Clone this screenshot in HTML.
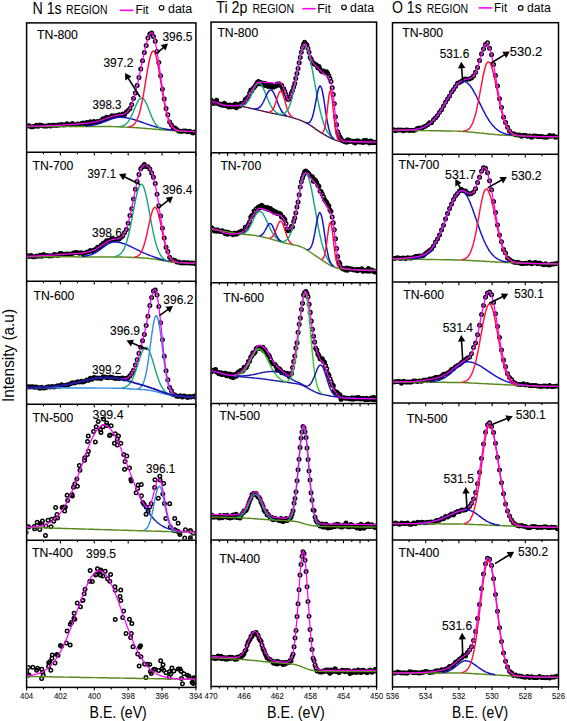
<!DOCTYPE html>
<html><head><meta charset="utf-8"><style>html,body{margin:0;padding:0;background:#fff;}body{width:567px;height:721px;overflow:hidden}svg{display:block}</style></head><body>
<svg width="567" height="721" viewBox="0 0 567 721" font-family='"Liberation Sans", sans-serif' fill="#000" stroke="none">
<style>text{stroke:#000;stroke-width:0.12px}text.ns{stroke:none}</style>
<rect width="567" height="721" fill="#fff"/>
<rect x="26.60" y="22.90" width="169.30" height="664.50" fill="none" stroke="#000" stroke-width="1.5"/>
<line x1="26.60" y1="152.30" x2="195.90" y2="152.30" stroke="#000" stroke-width="1.5"/>
<line x1="26.60" y1="281.20" x2="195.90" y2="281.20" stroke="#000" stroke-width="1.5"/>
<line x1="26.60" y1="404.30" x2="195.90" y2="404.30" stroke="#000" stroke-width="1.5"/>
<line x1="26.60" y1="540.20" x2="195.90" y2="540.20" stroke="#000" stroke-width="1.5"/>
<path d="M26.60,152.30v3.2M43.53,152.30v2.0M60.46,152.30v3.2M77.39,152.30v2.0M94.32,152.30v3.2M111.25,152.30v2.0M128.18,152.30v3.2M145.11,152.30v2.0M162.04,152.30v3.2M178.97,152.30v2.0M195.90,152.30v3.2M26.60,281.20v3.2M43.53,281.20v2.0M60.46,281.20v3.2M77.39,281.20v2.0M94.32,281.20v3.2M111.25,281.20v2.0M128.18,281.20v3.2M145.11,281.20v2.0M162.04,281.20v3.2M178.97,281.20v2.0M195.90,281.20v3.2M26.60,404.30v3.2M43.53,404.30v2.0M60.46,404.30v3.2M77.39,404.30v2.0M94.32,404.30v3.2M111.25,404.30v2.0M128.18,404.30v3.2M145.11,404.30v2.0M162.04,404.30v3.2M178.97,404.30v2.0M195.90,404.30v3.2M26.60,540.20v3.2M43.53,540.20v2.0M60.46,540.20v3.2M77.39,540.20v2.0M94.32,540.20v3.2M111.25,540.20v2.0M128.18,540.20v3.2M145.11,540.20v2.0M162.04,540.20v3.2M178.97,540.20v2.0M195.90,540.20v3.2M26.60,687.40v3.2M43.53,687.40v2.0M60.46,687.40v3.2M77.39,687.40v2.0M94.32,687.40v3.2M111.25,687.40v2.0M128.18,687.40v3.2M145.11,687.40v2.0M162.04,687.40v3.2M178.97,687.40v2.0M195.90,687.40v3.2" stroke="#000" stroke-width="1.1" fill="none"/>
<text x="26.6" y="699.3" font-size="9.6" text-anchor="middle" textLength="13.2" lengthAdjust="spacingAndGlyphs" fill="#111" style="stroke-width:0.08px">404</text>
<text x="60.5" y="699.3" font-size="9.6" text-anchor="middle" textLength="13.2" lengthAdjust="spacingAndGlyphs" fill="#111" style="stroke-width:0.08px">402</text>
<text x="94.3" y="699.3" font-size="9.6" text-anchor="middle" textLength="13.2" lengthAdjust="spacingAndGlyphs" fill="#111" style="stroke-width:0.08px">400</text>
<text x="128.2" y="699.3" font-size="9.6" text-anchor="middle" textLength="13.2" lengthAdjust="spacingAndGlyphs" fill="#111" style="stroke-width:0.08px">398</text>
<text x="162.0" y="699.3" font-size="9.6" text-anchor="middle" textLength="13.2" lengthAdjust="spacingAndGlyphs" fill="#111" style="stroke-width:0.08px">396</text>
<text x="195.9" y="699.3" font-size="9.6" text-anchor="middle" textLength="13.2" lengthAdjust="spacingAndGlyphs" fill="#111" style="stroke-width:0.08px">394</text>
<rect x="211.05" y="22.10" width="165.55" height="664.40" fill="none" stroke="#000" stroke-width="1.5"/>
<line x1="211.05" y1="152.70" x2="376.60" y2="152.70" stroke="#000" stroke-width="1.5"/>
<line x1="211.05" y1="282.70" x2="376.60" y2="282.70" stroke="#000" stroke-width="1.5"/>
<line x1="211.05" y1="403.40" x2="376.60" y2="403.40" stroke="#000" stroke-width="1.5"/>
<line x1="211.05" y1="540.00" x2="376.60" y2="540.00" stroke="#000" stroke-width="1.5"/>
<path d="M211.05,152.70v3.2M219.33,152.70v2.0M227.61,152.70v3.2M235.88,152.70v2.0M244.16,152.70v3.2M252.44,152.70v2.0M260.72,152.70v3.2M268.99,152.70v2.0M277.27,152.70v3.2M285.55,152.70v2.0M293.83,152.70v3.2M302.10,152.70v2.0M310.38,152.70v3.2M318.66,152.70v2.0M326.94,152.70v3.2M335.21,152.70v2.0M343.49,152.70v3.2M351.77,152.70v2.0M360.05,152.70v3.2M368.32,152.70v2.0M376.60,152.70v3.2M211.05,282.70v3.2M219.33,282.70v2.0M227.61,282.70v3.2M235.88,282.70v2.0M244.16,282.70v3.2M252.44,282.70v2.0M260.72,282.70v3.2M268.99,282.70v2.0M277.27,282.70v3.2M285.55,282.70v2.0M293.83,282.70v3.2M302.10,282.70v2.0M310.38,282.70v3.2M318.66,282.70v2.0M326.94,282.70v3.2M335.21,282.70v2.0M343.49,282.70v3.2M351.77,282.70v2.0M360.05,282.70v3.2M368.32,282.70v2.0M376.60,282.70v3.2M211.05,403.40v3.2M219.33,403.40v2.0M227.61,403.40v3.2M235.88,403.40v2.0M244.16,403.40v3.2M252.44,403.40v2.0M260.72,403.40v3.2M268.99,403.40v2.0M277.27,403.40v3.2M285.55,403.40v2.0M293.83,403.40v3.2M302.10,403.40v2.0M310.38,403.40v3.2M318.66,403.40v2.0M326.94,403.40v3.2M335.21,403.40v2.0M343.49,403.40v3.2M351.77,403.40v2.0M360.05,403.40v3.2M368.32,403.40v2.0M376.60,403.40v3.2M211.05,540.00v3.2M219.33,540.00v2.0M227.61,540.00v3.2M235.88,540.00v2.0M244.16,540.00v3.2M252.44,540.00v2.0M260.72,540.00v3.2M268.99,540.00v2.0M277.27,540.00v3.2M285.55,540.00v2.0M293.83,540.00v3.2M302.10,540.00v2.0M310.38,540.00v3.2M318.66,540.00v2.0M326.94,540.00v3.2M335.21,540.00v2.0M343.49,540.00v3.2M351.77,540.00v2.0M360.05,540.00v3.2M368.32,540.00v2.0M376.60,540.00v3.2M211.05,686.50v3.2M219.33,686.50v2.0M227.61,686.50v3.2M235.88,686.50v2.0M244.16,686.50v3.2M252.44,686.50v2.0M260.72,686.50v3.2M268.99,686.50v2.0M277.27,686.50v3.2M285.55,686.50v2.0M293.83,686.50v3.2M302.10,686.50v2.0M310.38,686.50v3.2M318.66,686.50v2.0M326.94,686.50v3.2M335.21,686.50v2.0M343.49,686.50v3.2M351.77,686.50v2.0M360.05,686.50v3.2M368.32,686.50v2.0M376.60,686.50v3.2" stroke="#000" stroke-width="1.1" fill="none"/>
<text x="211.1" y="699.3" font-size="9.6" text-anchor="middle" textLength="13.2" lengthAdjust="spacingAndGlyphs" fill="#111" style="stroke-width:0.08px">470</text>
<text x="244.2" y="699.3" font-size="9.6" text-anchor="middle" textLength="13.2" lengthAdjust="spacingAndGlyphs" fill="#111" style="stroke-width:0.08px">466</text>
<text x="277.3" y="699.3" font-size="9.6" text-anchor="middle" textLength="13.2" lengthAdjust="spacingAndGlyphs" fill="#111" style="stroke-width:0.08px">462</text>
<text x="310.4" y="699.3" font-size="9.6" text-anchor="middle" textLength="13.2" lengthAdjust="spacingAndGlyphs" fill="#111" style="stroke-width:0.08px">458</text>
<text x="343.5" y="699.3" font-size="9.6" text-anchor="middle" textLength="13.2" lengthAdjust="spacingAndGlyphs" fill="#111" style="stroke-width:0.08px">454</text>
<text x="376.6" y="699.3" font-size="9.6" text-anchor="middle" textLength="13.2" lengthAdjust="spacingAndGlyphs" fill="#111" style="stroke-width:0.08px">450</text>
<rect x="392.50" y="22.70" width="166.00" height="664.20" fill="none" stroke="#000" stroke-width="1.5"/>
<line x1="392.50" y1="154.30" x2="558.50" y2="154.30" stroke="#000" stroke-width="1.5"/>
<line x1="392.50" y1="282.00" x2="558.50" y2="282.00" stroke="#000" stroke-width="1.5"/>
<line x1="392.50" y1="403.00" x2="558.50" y2="403.00" stroke="#000" stroke-width="1.5"/>
<line x1="392.50" y1="540.00" x2="558.50" y2="540.00" stroke="#000" stroke-width="1.5"/>
<path d="M392.50,154.30v3.2M409.10,154.30v2.0M425.70,154.30v3.2M442.30,154.30v2.0M458.90,154.30v3.2M475.50,154.30v2.0M492.10,154.30v3.2M508.70,154.30v2.0M525.30,154.30v3.2M541.90,154.30v2.0M558.50,154.30v3.2M392.50,282.00v3.2M409.10,282.00v2.0M425.70,282.00v3.2M442.30,282.00v2.0M458.90,282.00v3.2M475.50,282.00v2.0M492.10,282.00v3.2M508.70,282.00v2.0M525.30,282.00v3.2M541.90,282.00v2.0M558.50,282.00v3.2M392.50,403.00v3.2M409.10,403.00v2.0M425.70,403.00v3.2M442.30,403.00v2.0M458.90,403.00v3.2M475.50,403.00v2.0M492.10,403.00v3.2M508.70,403.00v2.0M525.30,403.00v3.2M541.90,403.00v2.0M558.50,403.00v3.2M392.50,540.00v3.2M409.10,540.00v2.0M425.70,540.00v3.2M442.30,540.00v2.0M458.90,540.00v3.2M475.50,540.00v2.0M492.10,540.00v3.2M508.70,540.00v2.0M525.30,540.00v3.2M541.90,540.00v2.0M558.50,540.00v3.2M392.50,686.90v3.2M409.10,686.90v2.0M425.70,686.90v3.2M442.30,686.90v2.0M458.90,686.90v3.2M475.50,686.90v2.0M492.10,686.90v3.2M508.70,686.90v2.0M525.30,686.90v3.2M541.90,686.90v2.0M558.50,686.90v3.2" stroke="#000" stroke-width="1.1" fill="none"/>
<text x="392.5" y="699.3" font-size="9.6" text-anchor="middle" textLength="13.2" lengthAdjust="spacingAndGlyphs" fill="#111" style="stroke-width:0.08px">536</text>
<text x="425.7" y="699.3" font-size="9.6" text-anchor="middle" textLength="13.2" lengthAdjust="spacingAndGlyphs" fill="#111" style="stroke-width:0.08px">534</text>
<text x="458.9" y="699.3" font-size="9.6" text-anchor="middle" textLength="13.2" lengthAdjust="spacingAndGlyphs" fill="#111" style="stroke-width:0.08px">532</text>
<text x="492.1" y="699.3" font-size="9.6" text-anchor="middle" textLength="13.2" lengthAdjust="spacingAndGlyphs" fill="#111" style="stroke-width:0.08px">530</text>
<text x="525.3" y="699.3" font-size="9.6" text-anchor="middle" textLength="13.2" lengthAdjust="spacingAndGlyphs" fill="#111" style="stroke-width:0.08px">528</text>
<text x="558.5" y="699.3" font-size="9.6" text-anchor="middle" textLength="13.2" lengthAdjust="spacingAndGlyphs" fill="#111" style="stroke-width:0.08px">526</text>
<text x="32.4" y="13.8" font-size="16" text-anchor="start" textLength="29.3" lengthAdjust="spacingAndGlyphs" class="ns">N 1s</text>
<text x="66.1" y="13.8" font-size="12" text-anchor="start" textLength="41.4" lengthAdjust="spacingAndGlyphs" class="ns">REGION</text>
<line x1="119.8" y1="10.3" x2="133.5" y2="10.3" stroke="#f0f" stroke-width="1.6"/>
<text x="135.4" y="13.6" font-size="12" text-anchor="start" textLength="13.2" lengthAdjust="spacingAndGlyphs" class="ns">Fit</text>
<circle cx="161.6" cy="7.8" r="2.3" fill="none" stroke="#000" stroke-width="1.15"/>
<text x="168.0" y="12.6" font-size="12" text-anchor="start" textLength="24.2" lengthAdjust="spacingAndGlyphs" class="ns">data</text>
<text x="216.3" y="12.7" font-size="16" text-anchor="start" textLength="31.0" lengthAdjust="spacingAndGlyphs" class="ns">Ti 2p</text>
<text x="252.5" y="12.7" font-size="12" text-anchor="start" textLength="41.6" lengthAdjust="spacingAndGlyphs" class="ns">REGION</text>
<line x1="302.4" y1="8.7" x2="315.7" y2="8.7" stroke="#f0f" stroke-width="1.6"/>
<text x="317.3" y="12.8" font-size="12" text-anchor="start" textLength="13.7" lengthAdjust="spacingAndGlyphs" class="ns">Fit</text>
<circle cx="344.0" cy="7.3" r="2.3" fill="none" stroke="#000" stroke-width="1.15"/>
<text x="350.0" y="12.0" font-size="12" text-anchor="start" textLength="24.1" lengthAdjust="spacingAndGlyphs" class="ns">data</text>
<text x="391.9" y="12.7" font-size="16" text-anchor="start" textLength="29.8" lengthAdjust="spacingAndGlyphs" class="ns">O 1s</text>
<text x="426.8" y="12.7" font-size="12" text-anchor="start" textLength="41.3" lengthAdjust="spacingAndGlyphs" class="ns">REGION</text>
<line x1="478.6" y1="7.9" x2="492.1" y2="7.9" stroke="#f0f" stroke-width="1.6"/>
<text x="494.1" y="12.4" font-size="12" text-anchor="start" textLength="13.1" lengthAdjust="spacingAndGlyphs" class="ns">Fit</text>
<circle cx="520.7" cy="7.9" r="2.3" fill="none" stroke="#000" stroke-width="1.15"/>
<text x="527.0" y="12.4" font-size="12" text-anchor="start" textLength="23.8" lengthAdjust="spacingAndGlyphs" class="ns">data</text>
<text transform="translate(13.6,402) rotate(-90)" x="0" y="0" font-size="16" textLength="93" lengthAdjust="spacingAndGlyphs" class="ns">Intensity (a.u)</text>
<text x="89.6" y="717.8" font-size="16" text-anchor="start" textLength="57.2" lengthAdjust="spacingAndGlyphs" style="stroke-width:0.06px">B.E. (eV)</text>
<text x="267.0" y="717.8" font-size="16" text-anchor="start" textLength="57.7" lengthAdjust="spacingAndGlyphs" style="stroke-width:0.06px">B.E. (eV)</text>
<text x="451.9" y="717.8" font-size="16" text-anchor="start" textLength="56.1" lengthAdjust="spacingAndGlyphs" style="stroke-width:0.06px">B.E. (eV)</text>
<text x="37.1" y="38.9" font-size="12" text-anchor="start" textLength="40.8" lengthAdjust="spacingAndGlyphs">TN-800</text>
<text x="32.6" y="169.5" font-size="12" text-anchor="start" textLength="40.8" lengthAdjust="spacingAndGlyphs">TN-700</text>
<text x="33.5" y="300.0" font-size="12" text-anchor="start" textLength="40.8" lengthAdjust="spacingAndGlyphs">TN-600</text>
<text x="32.6" y="422.4" font-size="12" text-anchor="start" textLength="40.8" lengthAdjust="spacingAndGlyphs">TN-500</text>
<text x="32.0" y="557.4" font-size="12" text-anchor="start" textLength="40.8" lengthAdjust="spacingAndGlyphs">TN-400</text>
<text x="217.4" y="36.6" font-size="12" text-anchor="start" textLength="40.8" lengthAdjust="spacingAndGlyphs">TN-800</text>
<text x="220.4" y="170.0" font-size="12" text-anchor="start" textLength="40.8" lengthAdjust="spacingAndGlyphs">TN-700</text>
<text x="223.3" y="302.0" font-size="12" text-anchor="start" textLength="40.8" lengthAdjust="spacingAndGlyphs">TN-600</text>
<text x="219.2" y="420.1" font-size="12" text-anchor="start" textLength="40.8" lengthAdjust="spacingAndGlyphs">TN-500</text>
<text x="219.2" y="562.8" font-size="12" text-anchor="start" textLength="40.8" lengthAdjust="spacingAndGlyphs">TN-400</text>
<text x="402.3" y="36.7" font-size="12" text-anchor="start" textLength="40.8" lengthAdjust="spacingAndGlyphs">TN-800</text>
<text x="398.5" y="168.7" font-size="12" text-anchor="start" textLength="40.8" lengthAdjust="spacingAndGlyphs">TN-700</text>
<text x="403.2" y="299.1" font-size="12" text-anchor="start" textLength="40.8" lengthAdjust="spacingAndGlyphs">TN-600</text>
<text x="406.7" y="423.0" font-size="12" text-anchor="start" textLength="40.8" lengthAdjust="spacingAndGlyphs">TN-500</text>
<text x="398.5" y="557.1" font-size="12" text-anchor="start" textLength="40.8" lengthAdjust="spacingAndGlyphs">TN-400</text>
<text x="162.4" y="40.6" font-size="12.5" text-anchor="start" textLength="30.0" lengthAdjust="spacingAndGlyphs">396.5</text>
<text x="103.4" y="67.0" font-size="12.5" text-anchor="start" textLength="29.9" lengthAdjust="spacingAndGlyphs">397.2</text>
<text x="92.6" y="109.0" font-size="12.5" text-anchor="start" textLength="28.8" lengthAdjust="spacingAndGlyphs">398.3</text>
<text x="87.5" y="177.6" font-size="12.5" text-anchor="start" textLength="28.5" lengthAdjust="spacingAndGlyphs">397.1</text>
<text x="162.4" y="193.5" font-size="12.5" text-anchor="start" textLength="30.0" lengthAdjust="spacingAndGlyphs">396.4</text>
<text x="92.0" y="237.0" font-size="12.5" text-anchor="start" textLength="30.0" lengthAdjust="spacingAndGlyphs">398.6</text>
<text x="163.3" y="303.6" font-size="12.5" text-anchor="start" textLength="30.0" lengthAdjust="spacingAndGlyphs">396.2</text>
<text x="110.0" y="335.4" font-size="12.5" text-anchor="start" textLength="30.0" lengthAdjust="spacingAndGlyphs">396.9</text>
<text x="92.0" y="374.4" font-size="12.5" text-anchor="start" textLength="29.4" lengthAdjust="spacingAndGlyphs">399.2</text>
<text x="92.6" y="419.4" font-size="12.5" text-anchor="start" textLength="30.9" lengthAdjust="spacingAndGlyphs">399.4</text>
<text x="146.0" y="472.5" font-size="12.5" text-anchor="start" textLength="29.3" lengthAdjust="spacingAndGlyphs">396.1</text>
<text x="86.0" y="558.0" font-size="12.5" text-anchor="start" textLength="30.0" lengthAdjust="spacingAndGlyphs">399.5</text>
<text x="439.7" y="58.0" font-size="12.5" text-anchor="start" textLength="29.5" lengthAdjust="spacingAndGlyphs">531.6</text>
<text x="509.8" y="55.9" font-size="12.5" text-anchor="start" textLength="32.4" lengthAdjust="spacingAndGlyphs">530.2</text>
<text x="445.0" y="179.0" font-size="12.5" text-anchor="start" textLength="31.0" lengthAdjust="spacingAndGlyphs">531.7</text>
<text x="511.3" y="180.0" font-size="12.5" text-anchor="start" textLength="30.3" lengthAdjust="spacingAndGlyphs">530.2</text>
<text x="514.2" y="298.2" font-size="12.5" text-anchor="start" textLength="29.5" lengthAdjust="spacingAndGlyphs">530.1</text>
<text x="442.7" y="331.5" font-size="12.5" text-anchor="start" textLength="30.3" lengthAdjust="spacingAndGlyphs">531.4</text>
<text x="515.7" y="419.2" font-size="12.5" text-anchor="start" textLength="30.1" lengthAdjust="spacingAndGlyphs">530.1</text>
<text x="443.5" y="482.5" font-size="12.5" text-anchor="start" textLength="30.4" lengthAdjust="spacingAndGlyphs">531.5</text>
<text x="518.0" y="556.2" font-size="12.5" text-anchor="start" textLength="30.1" lengthAdjust="spacingAndGlyphs">530.2</text>
<text x="442.0" y="629.8" font-size="12.5" text-anchor="start" textLength="30.1" lengthAdjust="spacingAndGlyphs">531.6</text>
<clipPath id="a1"><rect x="27.4" y="23.6" width="167.8" height="127.9"/></clipPath>
<g clip-path="url(#a1)">
<path d="M25.6,126.1L27.4,126.1L29.2,125.8L31.0,126.8L32.8,126.7L34.6,126.3L36.4,125.3L38.2,126.3L40.0,125.1L41.8,125.5L43.6,126.0L45.4,126.1L47.2,125.9L49.0,125.3L50.8,125.9L52.6,125.2L54.4,125.2L56.2,125.6L58.0,125.0L59.8,124.9L61.6,124.6L63.4,125.1L65.2,124.8L67.0,123.7L68.8,124.5L70.6,124.7L72.4,123.6L74.2,124.6L76.0,124.8L77.8,124.1L79.6,124.2L81.4,123.5L83.2,123.1L85.0,124.1L86.8,122.5L88.6,123.8L90.4,121.8L92.2,122.7L94.0,121.6L95.8,122.3L97.6,121.4L99.4,121.6L101.2,120.5L103.0,118.8L104.8,119.4L106.6,117.3L108.4,118.1L110.2,116.9L112.0,115.8L113.8,116.3L115.6,115.8L117.4,115.4L119.2,114.7L121.0,115.4L122.8,114.1L124.6,114.6L126.4,111.9 M175.0,128.0L176.8,129.6L178.6,130.9L180.4,131.2L182.2,131.2L184.0,131.1L185.8,131.1L187.6,131.7L189.4,131.3L191.2,132.0L193.0,132.9L194.8,132.0L196.6,131.6" fill="none" stroke="#000" stroke-width="2.8" stroke-linejoin="round" stroke-linecap="round"/>
<path d="M23.9,126.1a1.75,1.75 0 1,0 3.5,0a1.75,1.75 0 1,0 -3.5,0M25.7,126.1a1.75,1.75 0 1,0 3.5,0a1.75,1.75 0 1,0 -3.5,0M27.5,125.8a1.75,1.75 0 1,0 3.5,0a1.75,1.75 0 1,0 -3.5,0M29.3,126.8a1.75,1.75 0 1,0 3.5,0a1.75,1.75 0 1,0 -3.5,0M31.1,126.7a1.75,1.75 0 1,0 3.5,0a1.75,1.75 0 1,0 -3.5,0M32.9,126.3a1.75,1.75 0 1,0 3.5,0a1.75,1.75 0 1,0 -3.5,0M34.6,125.3a1.75,1.75 0 1,0 3.5,0a1.75,1.75 0 1,0 -3.5,0M36.4,126.3a1.75,1.75 0 1,0 3.5,0a1.75,1.75 0 1,0 -3.5,0M38.2,125.1a1.75,1.75 0 1,0 3.5,0a1.75,1.75 0 1,0 -3.5,0M40.0,125.5a1.75,1.75 0 1,0 3.5,0a1.75,1.75 0 1,0 -3.5,0M41.8,126.0a1.75,1.75 0 1,0 3.5,0a1.75,1.75 0 1,0 -3.5,0M43.6,126.1a1.75,1.75 0 1,0 3.5,0a1.75,1.75 0 1,0 -3.5,0M45.4,125.9a1.75,1.75 0 1,0 3.5,0a1.75,1.75 0 1,0 -3.5,0M47.2,125.3a1.75,1.75 0 1,0 3.5,0a1.75,1.75 0 1,0 -3.5,0M49.0,125.9a1.75,1.75 0 1,0 3.5,0a1.75,1.75 0 1,0 -3.5,0M50.8,125.2a1.75,1.75 0 1,0 3.5,0a1.75,1.75 0 1,0 -3.5,0M52.6,125.2a1.75,1.75 0 1,0 3.5,0a1.75,1.75 0 1,0 -3.5,0M54.4,125.6a1.75,1.75 0 1,0 3.5,0a1.75,1.75 0 1,0 -3.5,0M56.2,125.0a1.75,1.75 0 1,0 3.5,0a1.75,1.75 0 1,0 -3.5,0M58.0,124.9a1.75,1.75 0 1,0 3.5,0a1.75,1.75 0 1,0 -3.5,0M59.8,124.6a1.75,1.75 0 1,0 3.5,0a1.75,1.75 0 1,0 -3.5,0M61.6,125.1a1.75,1.75 0 1,0 3.5,0a1.75,1.75 0 1,0 -3.5,0M63.4,124.8a1.75,1.75 0 1,0 3.5,0a1.75,1.75 0 1,0 -3.5,0M65.2,123.7a1.75,1.75 0 1,0 3.5,0a1.75,1.75 0 1,0 -3.5,0M67.0,124.5a1.75,1.75 0 1,0 3.5,0a1.75,1.75 0 1,0 -3.5,0M68.8,124.7a1.75,1.75 0 1,0 3.5,0a1.75,1.75 0 1,0 -3.5,0M70.6,123.6a1.75,1.75 0 1,0 3.5,0a1.75,1.75 0 1,0 -3.5,0M72.4,124.6a1.75,1.75 0 1,0 3.5,0a1.75,1.75 0 1,0 -3.5,0M74.2,124.8a1.75,1.75 0 1,0 3.5,0a1.75,1.75 0 1,0 -3.5,0M76.0,124.1a1.75,1.75 0 1,0 3.5,0a1.75,1.75 0 1,0 -3.5,0M77.8,124.2a1.75,1.75 0 1,0 3.5,0a1.75,1.75 0 1,0 -3.5,0M79.6,123.5a1.75,1.75 0 1,0 3.5,0a1.75,1.75 0 1,0 -3.5,0M81.4,123.1a1.75,1.75 0 1,0 3.5,0a1.75,1.75 0 1,0 -3.5,0M83.2,124.1a1.75,1.75 0 1,0 3.5,0a1.75,1.75 0 1,0 -3.5,0M85.0,122.5a1.75,1.75 0 1,0 3.5,0a1.75,1.75 0 1,0 -3.5,0M86.8,123.8a1.75,1.75 0 1,0 3.5,0a1.75,1.75 0 1,0 -3.5,0M88.6,121.8a1.75,1.75 0 1,0 3.5,0a1.75,1.75 0 1,0 -3.5,0M90.4,122.7a1.75,1.75 0 1,0 3.5,0a1.75,1.75 0 1,0 -3.5,0M92.2,121.6a1.75,1.75 0 1,0 3.5,0a1.75,1.75 0 1,0 -3.5,0M94.0,122.3a1.75,1.75 0 1,0 3.5,0a1.75,1.75 0 1,0 -3.5,0M95.8,121.4a1.75,1.75 0 1,0 3.5,0a1.75,1.75 0 1,0 -3.5,0M97.6,121.6a1.75,1.75 0 1,0 3.5,0a1.75,1.75 0 1,0 -3.5,0M99.4,120.5a1.75,1.75 0 1,0 3.5,0a1.75,1.75 0 1,0 -3.5,0M101.2,118.8a1.75,1.75 0 1,0 3.5,0a1.75,1.75 0 1,0 -3.5,0M103.0,119.4a1.75,1.75 0 1,0 3.5,0a1.75,1.75 0 1,0 -3.5,0M104.8,117.3a1.75,1.75 0 1,0 3.5,0a1.75,1.75 0 1,0 -3.5,0M106.6,118.1a1.75,1.75 0 1,0 3.5,0a1.75,1.75 0 1,0 -3.5,0M108.4,116.9a1.75,1.75 0 1,0 3.5,0a1.75,1.75 0 1,0 -3.5,0M110.2,115.8a1.75,1.75 0 1,0 3.5,0a1.75,1.75 0 1,0 -3.5,0M112.0,116.3a1.75,1.75 0 1,0 3.5,0a1.75,1.75 0 1,0 -3.5,0M113.8,115.8a1.75,1.75 0 1,0 3.5,0a1.75,1.75 0 1,0 -3.5,0M115.6,115.4a1.75,1.75 0 1,0 3.5,0a1.75,1.75 0 1,0 -3.5,0M117.4,114.7a1.75,1.75 0 1,0 3.5,0a1.75,1.75 0 1,0 -3.5,0M119.2,115.4a1.75,1.75 0 1,0 3.5,0a1.75,1.75 0 1,0 -3.5,0M121.0,114.1a1.75,1.75 0 1,0 3.5,0a1.75,1.75 0 1,0 -3.5,0M122.8,114.6a1.75,1.75 0 1,0 3.5,0a1.75,1.75 0 1,0 -3.5,0M124.6,111.9a1.75,1.75 0 1,0 3.5,0a1.75,1.75 0 1,0 -3.5,0M126.4,110.6a1.75,1.75 0 1,0 3.5,0a1.75,1.75 0 1,0 -3.5,0M128.2,108.5a1.75,1.75 0 1,0 3.5,0a1.75,1.75 0 1,0 -3.5,0M130.0,104.5a1.75,1.75 0 1,0 3.5,0a1.75,1.75 0 1,0 -3.5,0M131.8,98.4a1.75,1.75 0 1,0 3.5,0a1.75,1.75 0 1,0 -3.5,0M133.6,93.1a1.75,1.75 0 1,0 3.5,0a1.75,1.75 0 1,0 -3.5,0M135.4,85.6a1.75,1.75 0 1,0 3.5,0a1.75,1.75 0 1,0 -3.5,0M137.2,77.6a1.75,1.75 0 1,0 3.5,0a1.75,1.75 0 1,0 -3.5,0M139.0,69.0a1.75,1.75 0 1,0 3.5,0a1.75,1.75 0 1,0 -3.5,0M140.8,60.8a1.75,1.75 0 1,0 3.5,0a1.75,1.75 0 1,0 -3.5,0M142.6,52.5a1.75,1.75 0 1,0 3.5,0a1.75,1.75 0 1,0 -3.5,0M144.4,45.5a1.75,1.75 0 1,0 3.5,0a1.75,1.75 0 1,0 -3.5,0M146.2,38.0a1.75,1.75 0 1,0 3.5,0a1.75,1.75 0 1,0 -3.5,0M148.1,34.1a1.75,1.75 0 1,0 3.5,0a1.75,1.75 0 1,0 -3.5,0M149.9,32.9a1.75,1.75 0 1,0 3.5,0a1.75,1.75 0 1,0 -3.5,0M151.7,36.5a1.75,1.75 0 1,0 3.5,0a1.75,1.75 0 1,0 -3.5,0M153.5,41.2a1.75,1.75 0 1,0 3.5,0a1.75,1.75 0 1,0 -3.5,0M155.3,51.4a1.75,1.75 0 1,0 3.5,0a1.75,1.75 0 1,0 -3.5,0M157.1,62.6a1.75,1.75 0 1,0 3.5,0a1.75,1.75 0 1,0 -3.5,0M158.9,75.7a1.75,1.75 0 1,0 3.5,0a1.75,1.75 0 1,0 -3.5,0M160.7,89.2a1.75,1.75 0 1,0 3.5,0a1.75,1.75 0 1,0 -3.5,0M162.5,99.0a1.75,1.75 0 1,0 3.5,0a1.75,1.75 0 1,0 -3.5,0M164.3,108.6a1.75,1.75 0 1,0 3.5,0a1.75,1.75 0 1,0 -3.5,0M166.1,114.7a1.75,1.75 0 1,0 3.5,0a1.75,1.75 0 1,0 -3.5,0M167.9,121.9a1.75,1.75 0 1,0 3.5,0a1.75,1.75 0 1,0 -3.5,0M169.7,125.0a1.75,1.75 0 1,0 3.5,0a1.75,1.75 0 1,0 -3.5,0M171.5,127.8a1.75,1.75 0 1,0 3.5,0a1.75,1.75 0 1,0 -3.5,0M173.3,128.0a1.75,1.75 0 1,0 3.5,0a1.75,1.75 0 1,0 -3.5,0M175.1,129.6a1.75,1.75 0 1,0 3.5,0a1.75,1.75 0 1,0 -3.5,0M176.9,130.9a1.75,1.75 0 1,0 3.5,0a1.75,1.75 0 1,0 -3.5,0M178.7,131.2a1.75,1.75 0 1,0 3.5,0a1.75,1.75 0 1,0 -3.5,0M180.5,131.2a1.75,1.75 0 1,0 3.5,0a1.75,1.75 0 1,0 -3.5,0M182.3,131.1a1.75,1.75 0 1,0 3.5,0a1.75,1.75 0 1,0 -3.5,0M184.1,131.1a1.75,1.75 0 1,0 3.5,0a1.75,1.75 0 1,0 -3.5,0M185.9,131.7a1.75,1.75 0 1,0 3.5,0a1.75,1.75 0 1,0 -3.5,0M187.7,131.3a1.75,1.75 0 1,0 3.5,0a1.75,1.75 0 1,0 -3.5,0M189.5,132.0a1.75,1.75 0 1,0 3.5,0a1.75,1.75 0 1,0 -3.5,0M191.3,132.9a1.75,1.75 0 1,0 3.5,0a1.75,1.75 0 1,0 -3.5,0M193.1,132.0a1.75,1.75 0 1,0 3.5,0a1.75,1.75 0 1,0 -3.5,0M194.9,131.6a1.75,1.75 0 1,0 3.5,0a1.75,1.75 0 1,0 -3.5,0" fill="none" stroke="#000" stroke-width="1.5"/>
<path d="M26.6,126.4L27.4,126.4L28.1,126.4L28.9,126.4L29.6,126.4L30.4,126.4L31.1,126.4L31.9,126.4L32.6,126.4L33.4,126.4L34.1,126.4L34.9,126.4L35.6,126.4L36.4,126.4L37.1,126.4L37.9,126.4L38.6,126.4L39.4,126.4L40.1,126.4L40.9,126.4L41.6,126.4L42.4,126.4L43.1,126.4L43.9,126.4L44.6,126.4L45.4,126.4L46.1,126.4L46.9,126.4L47.6,126.4L48.4,126.4L49.1,126.4L49.9,126.4L50.6,126.4L51.4,126.4L52.1,126.4L52.9,126.4L53.6,126.4L54.4,126.4L55.1,126.4L55.9,126.4L56.6,126.4L57.4,126.4L58.1,126.4L58.9,126.4L59.6,126.4L60.4,126.4L61.1,126.4L61.9,126.4L62.6,126.4L63.4,126.4L64.1,126.4L64.8,126.4L65.6,126.4L66.3,126.4L67.1,126.4L67.8,126.4L68.6,126.4L69.3,126.4L70.1,126.4L70.8,126.4L71.6,126.4L72.3,126.4L73.1,126.4L73.8,126.4L74.6,126.4L75.3,126.4L76.1,126.4L76.8,126.4L77.6,126.4L78.3,126.4L79.1,126.4L79.8,126.4L80.6,126.4L81.3,126.4L82.1,126.4L82.8,126.4L83.6,126.4L84.3,126.4L85.1,126.4L85.8,126.4L86.6,126.4L87.3,126.4L88.1,126.4L88.8,126.4L89.6,126.4L90.3,126.4L91.1,126.4L91.8,126.4L92.6,126.4L93.3,126.4L94.1,126.4L94.8,126.4L95.6,126.4L96.3,126.4L97.1,126.4L97.8,126.4L98.6,126.4L99.3,126.4L100.1,126.4L100.8,126.4L101.6,126.4L102.3,126.4L103.1,126.4L103.8,126.4L104.6,126.4L105.3,126.4L106.1,126.4L106.8,126.4L107.6,126.4L108.3,126.5L109.1,126.5L109.8,126.5L110.6,126.5L111.3,126.5L112.1,126.5L112.8,126.6L113.6,126.6L114.3,126.6L115.1,126.6L115.8,126.7L116.6,126.7L117.3,126.7L118.1,126.8L118.8,126.8L119.6,126.8L120.3,126.9L121.1,126.9L121.8,126.9L122.6,127.0L123.3,127.0L124.1,127.0L124.8,127.1L125.6,127.1L126.3,127.1L127.1,127.2L127.8,127.2L128.6,127.2L129.3,127.3L130.1,127.3L130.8,127.3L131.6,127.4L132.3,127.4L133.1,127.5L133.8,127.5L134.6,127.6L135.3,127.6L136.1,127.7L136.8,127.7L137.6,127.8L138.3,127.8L139.1,127.9L139.8,127.9L140.6,128.0L141.3,128.1L142.1,128.1L142.8,128.2L143.6,128.2L144.3,128.3L145.1,128.4L145.8,128.4L146.6,128.5L147.3,128.6L148.1,128.6L148.8,128.7L149.6,128.8L150.3,128.8L151.1,128.9L151.8,129.0L152.6,129.0L153.3,129.1L154.1,129.2L154.8,129.2L155.6,129.3L156.3,129.3L157.1,129.4L157.8,129.5L158.6,129.5L159.3,129.6L160.1,129.7L160.8,129.7L161.6,129.8L162.3,129.8L163.1,129.9L163.8,130.0L164.6,130.0L165.3,130.1L166.1,130.1L166.8,130.2L167.6,130.2L168.3,130.3L169.1,130.3L169.8,130.4L170.6,130.5L171.3,130.5L172.1,130.6L172.8,130.6L173.6,130.6L174.3,130.7L175.1,130.7L175.8,130.8L176.6,130.8L177.3,130.9L178.1,130.9L178.8,130.9L179.6,131.0L180.3,131.0L181.1,131.1L181.8,131.1L182.6,131.1L183.3,131.2L184.1,131.2L184.8,131.2L185.6,131.3L186.3,131.3L187.1,131.4L187.8,131.4L188.6,131.4L189.3,131.4L190.1,131.5L190.8,131.5L191.6,131.5L192.3,131.5L193.1,131.5L193.8,131.5L194.6,131.6L195.3,131.6" fill="none" stroke="#5a8a1e" stroke-width="1.45"/>
<path d="M85.8,126.0L86.6,125.9L87.3,125.9L88.1,125.8L88.8,125.7L89.6,125.6L90.3,125.6L91.1,125.4L91.8,125.3L92.6,125.2L93.3,125.1L94.1,124.9L94.8,124.8L95.6,124.6L96.3,124.4L97.1,124.2L97.8,124.0L98.6,123.8L99.3,123.6L100.1,123.3L100.8,123.1L101.6,122.8L102.3,122.5L103.1,122.2L103.8,121.9L104.6,121.7L105.3,121.4L106.1,121.1L106.8,120.8L107.6,120.5L108.3,120.2L109.1,119.9L109.8,119.6L110.6,119.3L111.3,119.0L112.1,118.8L112.8,118.5L113.6,118.3L114.3,118.1L115.1,117.9L115.8,117.7L116.6,117.6L117.3,117.5L118.1,117.4L118.8,117.3L119.6,117.3L120.3,117.3L121.1,117.3L121.8,117.3L122.6,117.4L123.3,117.4L124.1,117.5L124.8,117.6L125.6,117.7L126.3,117.8L127.1,117.9L127.8,118.1L128.6,118.2L129.3,118.4L130.1,118.5L130.8,118.7L131.6,118.9L132.3,119.1L133.1,119.3L133.8,119.5L134.6,119.7L135.3,120.0L136.1,120.2L136.8,120.4L137.6,120.7L138.3,120.9L139.1,121.2L139.8,121.5L140.6,121.7L141.3,122.0L142.1,122.3L142.8,122.5L143.6,122.8L144.3,123.1L145.1,123.4L145.8,123.6L146.6,123.9L147.3,124.2L148.1,124.4L148.8,124.7L149.6,124.9L150.3,125.2L151.1,125.4L151.8,125.7L152.6,125.9L153.3,126.1L154.1,126.3L154.8,126.6L155.6,126.8L156.3,127.0L157.1,127.2L157.8,127.4L158.6,127.6L159.3,127.8L160.1,127.9L160.8,128.1L161.6,128.3L162.3,128.4L163.1,128.6L163.8,128.7L164.6,128.9L165.3,129.0L166.1,129.2L166.8,129.3L167.6,129.4L168.3,129.5L169.1,129.6L169.8,129.7L170.6,129.8L171.3,129.9L172.1,130.0L172.8,130.1L173.6,130.2L174.3,130.3L175.1,130.4" fill="none" stroke="#1010c8" stroke-width="1.45"/>
<path d="M120.3,126.4L121.1,126.3L121.8,126.1L122.6,125.9L123.3,125.6L124.1,125.3L124.8,124.9L125.6,124.3L126.3,123.7L127.1,123.0L127.8,122.1L128.6,121.1L129.3,119.9L130.1,118.6L130.8,117.2L131.6,115.7L132.3,114.1L133.1,112.3L133.8,110.6L134.6,108.7L135.3,107.0L136.1,105.2L136.8,103.6L137.6,102.1L138.3,100.7L139.1,99.6L139.8,98.8L140.6,98.2L141.3,97.9L142.1,97.9L142.8,98.3L143.6,98.9L144.3,99.9L145.1,101.0L145.8,102.4L146.6,104.0L147.3,105.8L148.1,107.6L148.8,109.5L149.6,111.4L150.3,113.3L151.1,115.2L151.8,117.0L152.6,118.6L153.3,120.2L154.1,121.6L154.8,122.8L155.6,124.0L156.3,125.0L157.1,125.8L157.8,126.6L158.6,127.2L159.3,127.8L160.1,128.2L160.8,128.6L161.6,128.9L162.3,129.2L163.1,129.4L163.8,129.6" fill="none" stroke="#1aa57a" stroke-width="1.45"/>
<path d="M128.6,126.8L129.3,126.7L130.1,126.6L130.8,126.3L131.6,126.1L132.3,125.7L133.1,125.2L133.8,124.6L134.6,123.8L135.3,122.8L136.1,121.6L136.8,120.2L137.6,118.5L138.3,116.6L139.1,114.3L139.8,111.6L140.6,108.7L141.3,105.4L142.1,101.8L142.8,97.9L143.6,93.7L144.3,89.3L145.1,84.8L145.8,80.2L146.6,75.6L147.3,71.2L148.1,66.9L148.8,63.0L149.6,59.5L150.3,56.5L151.1,54.1L151.8,52.4L152.6,51.4L153.3,51.1L154.1,51.6L154.8,52.8L155.6,54.8L156.3,57.4L157.1,60.6L157.8,64.3L158.6,68.4L159.3,72.8L160.1,77.4L160.8,82.1L161.6,86.8L162.3,91.5L163.1,95.9L163.8,100.2L164.6,104.2L165.3,107.9L166.1,111.2L166.8,114.3L167.6,117.0L168.3,119.3L169.1,121.4L169.8,123.1L170.6,124.6L171.3,125.9L172.1,126.9L172.8,127.7L173.6,128.4L174.3,129.0L175.1,129.5L175.8,129.8L176.6,130.1L177.3,130.3L178.1,130.5" fill="none" stroke="#ff1040" stroke-width="1.45"/>
<path d="M26.6,126.3L27.4,126.2L28.1,126.2L28.9,126.2L29.6,126.2L30.4,126.2L31.1,126.2L31.9,126.2L32.6,126.2L33.4,126.2L34.1,126.1L34.9,126.1L35.6,126.1L36.4,126.1L37.1,126.1L37.9,126.1L38.6,126.0L39.4,126.0L40.1,126.0L40.9,126.0L41.6,125.9L42.4,125.9L43.1,125.9L43.9,125.9L44.6,125.8L45.4,125.8L46.1,125.8L46.9,125.8L47.6,125.7L48.4,125.7L49.1,125.7L49.9,125.6L50.6,125.6L51.4,125.6L52.1,125.5L52.9,125.5L53.6,125.5L54.4,125.4L55.1,125.4L55.9,125.3L56.6,125.3L57.4,125.3L58.1,125.2L58.9,125.2L59.6,125.1L60.4,125.1L61.1,125.1L61.9,125.0L62.6,125.0L63.4,124.9L64.1,124.9L64.8,124.8L65.6,124.8L66.3,124.7L67.1,124.7L67.8,124.6L68.6,124.6L69.3,124.5L70.1,124.5L70.8,124.5L71.6,124.4L72.3,124.4L73.1,124.3L73.8,124.3L74.6,124.2L75.3,124.2L76.1,124.1L76.8,124.1L77.6,124.0L78.3,124.0L79.1,123.9L79.8,123.9L80.6,123.8L81.3,123.7L82.1,123.7L82.8,123.6L83.6,123.6L84.3,123.5L85.1,123.4L85.8,123.3L86.6,123.3L87.3,123.2L88.1,123.1L88.8,123.0L89.6,122.9L90.3,122.8L91.1,122.7L91.8,122.6L92.6,122.4L93.3,122.3L94.1,122.1L94.8,122.0L95.6,121.8L96.3,121.6L97.1,121.4L97.8,121.2L98.6,121.0L99.3,120.8L100.1,120.6L100.8,120.3L101.6,120.1L102.3,119.8L103.1,119.6L103.8,119.3L104.6,119.0L105.3,118.7L106.1,118.5L106.8,118.2L107.6,117.9L108.3,117.7L109.1,117.4L109.8,117.1L110.6,116.9L111.3,116.7L112.1,116.4L112.8,116.2L113.6,116.0L114.3,115.9L115.1,115.7L115.8,115.6L116.6,115.4L117.3,115.3L118.1,115.2L118.8,115.1L119.6,115.0L120.3,114.9L121.1,114.8L121.8,114.7L122.6,114.6L123.3,114.3L124.1,114.1L124.8,113.7L125.6,113.2L126.3,112.7L127.1,112.0L127.8,111.1L128.6,110.1L129.3,109.0L130.1,107.6L130.8,106.1L131.6,104.3L132.3,102.4L133.1,100.3L133.8,98.0L134.6,95.4L135.3,92.7L136.1,89.9L136.8,86.9L137.6,83.7L138.3,80.4L139.1,77.1L139.8,73.6L140.6,70.1L141.3,66.5L142.1,62.9L142.8,59.4L143.6,55.8L144.3,52.4L145.1,49.0L145.8,45.9L146.6,42.9L147.3,40.2L148.1,37.9L148.8,35.9L149.6,34.4L150.3,33.5L151.1,33.0L151.8,33.2L152.6,34.0L153.3,35.5L154.1,37.6L154.8,40.3L155.6,43.6L156.3,47.5L157.1,51.8L157.8,56.5L158.6,61.4L159.3,66.6L160.1,72.0L160.8,77.3L161.6,82.5L162.3,87.7L163.1,92.6L163.8,97.2L164.6,101.6L165.3,105.5L166.1,109.2L166.8,112.4L167.6,115.3L168.3,117.9L169.1,120.1L169.8,122.0L170.6,123.6L171.3,124.9L172.1,126.1L172.8,127.0L173.6,127.8L174.3,128.4L175.1,129.0L175.8,129.4L176.6,129.7L177.3,130.0L178.1,130.2L178.8,130.4L179.6,130.5L180.3,130.7L181.1,130.8L181.8,130.8L182.6,130.9L183.3,131.0L184.1,131.1L184.8,131.1L185.6,131.2L186.3,131.2L187.1,131.3L187.8,131.3L188.6,131.3L189.3,131.4L190.1,131.4L190.8,131.4L191.6,131.4L192.3,131.5L193.1,131.5L193.8,131.5L194.6,131.5L195.3,131.6" fill="none" stroke="#f0f" stroke-width="1.25"/>
</g>
<clipPath id="a2"><rect x="27.4" y="153.1" width="167.8" height="127.4"/></clipPath>
<g clip-path="url(#a2)">
<path d="M25.6,256.4L27.4,255.5L29.2,256.5L31.0,255.6L32.8,256.7L34.6,256.7L36.4,255.9L38.2,256.2L40.0,255.3L41.8,256.2L43.6,254.6L45.4,255.4L47.2,255.6L49.0,256.0L50.8,255.7L52.6,255.8L54.4,254.5L56.2,254.9L58.0,255.4L59.8,253.4L61.6,253.5L63.4,254.5L65.2,254.2L67.0,254.1L68.8,253.9L70.6,254.6L72.4,253.4L74.2,252.7L76.0,252.6L77.8,252.8L79.6,253.2L81.4,252.8L83.2,253.8L85.0,252.9L86.8,252.2L88.6,251.7L90.4,250.6L92.2,251.3L94.0,250.0L95.8,249.2L97.6,247.2L99.4,247.3L101.2,245.2L103.0,243.6L104.8,242.5L106.6,240.8L108.4,240.6L110.2,240.5L112.0,238.5L113.8,239.4L115.6,239.5L117.4,239.2L119.2,239.0L121.0,237.5 M144.4,164.5L146.2,166.4L148.0,166.7 M173.2,260.1L175.0,260.4L176.8,262.0L178.6,262.0L180.4,262.8L182.2,263.0L184.0,262.6L185.8,262.9L187.6,262.7L189.4,263.0L191.2,263.1L193.0,263.1L194.8,263.5L196.6,263.5" fill="none" stroke="#000" stroke-width="2.8" stroke-linejoin="round" stroke-linecap="round"/>
<path d="M23.9,256.4a1.75,1.75 0 1,0 3.5,0a1.75,1.75 0 1,0 -3.5,0M25.7,255.5a1.75,1.75 0 1,0 3.5,0a1.75,1.75 0 1,0 -3.5,0M27.5,256.5a1.75,1.75 0 1,0 3.5,0a1.75,1.75 0 1,0 -3.5,0M29.3,255.6a1.75,1.75 0 1,0 3.5,0a1.75,1.75 0 1,0 -3.5,0M31.1,256.7a1.75,1.75 0 1,0 3.5,0a1.75,1.75 0 1,0 -3.5,0M32.9,256.7a1.75,1.75 0 1,0 3.5,0a1.75,1.75 0 1,0 -3.5,0M34.6,255.9a1.75,1.75 0 1,0 3.5,0a1.75,1.75 0 1,0 -3.5,0M36.4,256.2a1.75,1.75 0 1,0 3.5,0a1.75,1.75 0 1,0 -3.5,0M38.2,255.3a1.75,1.75 0 1,0 3.5,0a1.75,1.75 0 1,0 -3.5,0M40.0,256.2a1.75,1.75 0 1,0 3.5,0a1.75,1.75 0 1,0 -3.5,0M41.8,254.6a1.75,1.75 0 1,0 3.5,0a1.75,1.75 0 1,0 -3.5,0M43.6,255.4a1.75,1.75 0 1,0 3.5,0a1.75,1.75 0 1,0 -3.5,0M45.4,255.6a1.75,1.75 0 1,0 3.5,0a1.75,1.75 0 1,0 -3.5,0M47.2,256.0a1.75,1.75 0 1,0 3.5,0a1.75,1.75 0 1,0 -3.5,0M49.0,255.7a1.75,1.75 0 1,0 3.5,0a1.75,1.75 0 1,0 -3.5,0M50.8,255.8a1.75,1.75 0 1,0 3.5,0a1.75,1.75 0 1,0 -3.5,0M52.6,254.5a1.75,1.75 0 1,0 3.5,0a1.75,1.75 0 1,0 -3.5,0M54.4,254.9a1.75,1.75 0 1,0 3.5,0a1.75,1.75 0 1,0 -3.5,0M56.2,255.4a1.75,1.75 0 1,0 3.5,0a1.75,1.75 0 1,0 -3.5,0M58.0,253.4a1.75,1.75 0 1,0 3.5,0a1.75,1.75 0 1,0 -3.5,0M59.8,253.5a1.75,1.75 0 1,0 3.5,0a1.75,1.75 0 1,0 -3.5,0M61.6,254.5a1.75,1.75 0 1,0 3.5,0a1.75,1.75 0 1,0 -3.5,0M63.4,254.2a1.75,1.75 0 1,0 3.5,0a1.75,1.75 0 1,0 -3.5,0M65.2,254.1a1.75,1.75 0 1,0 3.5,0a1.75,1.75 0 1,0 -3.5,0M67.0,253.9a1.75,1.75 0 1,0 3.5,0a1.75,1.75 0 1,0 -3.5,0M68.8,254.6a1.75,1.75 0 1,0 3.5,0a1.75,1.75 0 1,0 -3.5,0M70.6,253.4a1.75,1.75 0 1,0 3.5,0a1.75,1.75 0 1,0 -3.5,0M72.4,252.7a1.75,1.75 0 1,0 3.5,0a1.75,1.75 0 1,0 -3.5,0M74.2,252.6a1.75,1.75 0 1,0 3.5,0a1.75,1.75 0 1,0 -3.5,0M76.0,252.8a1.75,1.75 0 1,0 3.5,0a1.75,1.75 0 1,0 -3.5,0M77.8,253.2a1.75,1.75 0 1,0 3.5,0a1.75,1.75 0 1,0 -3.5,0M79.6,252.8a1.75,1.75 0 1,0 3.5,0a1.75,1.75 0 1,0 -3.5,0M81.4,253.8a1.75,1.75 0 1,0 3.5,0a1.75,1.75 0 1,0 -3.5,0M83.2,252.9a1.75,1.75 0 1,0 3.5,0a1.75,1.75 0 1,0 -3.5,0M85.0,252.2a1.75,1.75 0 1,0 3.5,0a1.75,1.75 0 1,0 -3.5,0M86.8,251.7a1.75,1.75 0 1,0 3.5,0a1.75,1.75 0 1,0 -3.5,0M88.6,250.6a1.75,1.75 0 1,0 3.5,0a1.75,1.75 0 1,0 -3.5,0M90.4,251.3a1.75,1.75 0 1,0 3.5,0a1.75,1.75 0 1,0 -3.5,0M92.2,250.0a1.75,1.75 0 1,0 3.5,0a1.75,1.75 0 1,0 -3.5,0M94.0,249.2a1.75,1.75 0 1,0 3.5,0a1.75,1.75 0 1,0 -3.5,0M95.8,247.2a1.75,1.75 0 1,0 3.5,0a1.75,1.75 0 1,0 -3.5,0M97.6,247.3a1.75,1.75 0 1,0 3.5,0a1.75,1.75 0 1,0 -3.5,0M99.4,245.2a1.75,1.75 0 1,0 3.5,0a1.75,1.75 0 1,0 -3.5,0M101.2,243.6a1.75,1.75 0 1,0 3.5,0a1.75,1.75 0 1,0 -3.5,0M103.0,242.5a1.75,1.75 0 1,0 3.5,0a1.75,1.75 0 1,0 -3.5,0M104.8,240.8a1.75,1.75 0 1,0 3.5,0a1.75,1.75 0 1,0 -3.5,0M106.6,240.6a1.75,1.75 0 1,0 3.5,0a1.75,1.75 0 1,0 -3.5,0M108.4,240.5a1.75,1.75 0 1,0 3.5,0a1.75,1.75 0 1,0 -3.5,0M110.2,238.5a1.75,1.75 0 1,0 3.5,0a1.75,1.75 0 1,0 -3.5,0M112.0,239.4a1.75,1.75 0 1,0 3.5,0a1.75,1.75 0 1,0 -3.5,0M113.8,239.5a1.75,1.75 0 1,0 3.5,0a1.75,1.75 0 1,0 -3.5,0M115.6,239.2a1.75,1.75 0 1,0 3.5,0a1.75,1.75 0 1,0 -3.5,0M117.4,239.0a1.75,1.75 0 1,0 3.5,0a1.75,1.75 0 1,0 -3.5,0M119.2,237.5a1.75,1.75 0 1,0 3.5,0a1.75,1.75 0 1,0 -3.5,0M121.0,236.0a1.75,1.75 0 1,0 3.5,0a1.75,1.75 0 1,0 -3.5,0M122.8,232.6a1.75,1.75 0 1,0 3.5,0a1.75,1.75 0 1,0 -3.5,0M124.6,229.6a1.75,1.75 0 1,0 3.5,0a1.75,1.75 0 1,0 -3.5,0M126.4,223.3a1.75,1.75 0 1,0 3.5,0a1.75,1.75 0 1,0 -3.5,0M128.2,215.6a1.75,1.75 0 1,0 3.5,0a1.75,1.75 0 1,0 -3.5,0M130.0,208.7a1.75,1.75 0 1,0 3.5,0a1.75,1.75 0 1,0 -3.5,0M131.8,199.1a1.75,1.75 0 1,0 3.5,0a1.75,1.75 0 1,0 -3.5,0M133.6,189.3a1.75,1.75 0 1,0 3.5,0a1.75,1.75 0 1,0 -3.5,0M135.4,181.5a1.75,1.75 0 1,0 3.5,0a1.75,1.75 0 1,0 -3.5,0M137.2,174.4a1.75,1.75 0 1,0 3.5,0a1.75,1.75 0 1,0 -3.5,0M139.0,168.8a1.75,1.75 0 1,0 3.5,0a1.75,1.75 0 1,0 -3.5,0M140.8,166.7a1.75,1.75 0 1,0 3.5,0a1.75,1.75 0 1,0 -3.5,0M142.6,164.5a1.75,1.75 0 1,0 3.5,0a1.75,1.75 0 1,0 -3.5,0M144.4,166.4a1.75,1.75 0 1,0 3.5,0a1.75,1.75 0 1,0 -3.5,0M146.2,166.7a1.75,1.75 0 1,0 3.5,0a1.75,1.75 0 1,0 -3.5,0M148.1,168.9a1.75,1.75 0 1,0 3.5,0a1.75,1.75 0 1,0 -3.5,0M149.9,173.0a1.75,1.75 0 1,0 3.5,0a1.75,1.75 0 1,0 -3.5,0M151.7,177.3a1.75,1.75 0 1,0 3.5,0a1.75,1.75 0 1,0 -3.5,0M153.5,183.6a1.75,1.75 0 1,0 3.5,0a1.75,1.75 0 1,0 -3.5,0M155.3,194.2a1.75,1.75 0 1,0 3.5,0a1.75,1.75 0 1,0 -3.5,0M157.1,205.7a1.75,1.75 0 1,0 3.5,0a1.75,1.75 0 1,0 -3.5,0M158.9,216.0a1.75,1.75 0 1,0 3.5,0a1.75,1.75 0 1,0 -3.5,0M160.7,228.2a1.75,1.75 0 1,0 3.5,0a1.75,1.75 0 1,0 -3.5,0M162.5,237.9a1.75,1.75 0 1,0 3.5,0a1.75,1.75 0 1,0 -3.5,0M164.3,247.3a1.75,1.75 0 1,0 3.5,0a1.75,1.75 0 1,0 -3.5,0M166.1,251.6a1.75,1.75 0 1,0 3.5,0a1.75,1.75 0 1,0 -3.5,0M167.9,257.2a1.75,1.75 0 1,0 3.5,0a1.75,1.75 0 1,0 -3.5,0M169.7,259.9a1.75,1.75 0 1,0 3.5,0a1.75,1.75 0 1,0 -3.5,0M171.5,260.1a1.75,1.75 0 1,0 3.5,0a1.75,1.75 0 1,0 -3.5,0M173.3,260.4a1.75,1.75 0 1,0 3.5,0a1.75,1.75 0 1,0 -3.5,0M175.1,262.0a1.75,1.75 0 1,0 3.5,0a1.75,1.75 0 1,0 -3.5,0M176.9,262.0a1.75,1.75 0 1,0 3.5,0a1.75,1.75 0 1,0 -3.5,0M178.7,262.8a1.75,1.75 0 1,0 3.5,0a1.75,1.75 0 1,0 -3.5,0M180.5,263.0a1.75,1.75 0 1,0 3.5,0a1.75,1.75 0 1,0 -3.5,0M182.3,262.6a1.75,1.75 0 1,0 3.5,0a1.75,1.75 0 1,0 -3.5,0M184.1,262.9a1.75,1.75 0 1,0 3.5,0a1.75,1.75 0 1,0 -3.5,0M185.9,262.7a1.75,1.75 0 1,0 3.5,0a1.75,1.75 0 1,0 -3.5,0M187.7,263.0a1.75,1.75 0 1,0 3.5,0a1.75,1.75 0 1,0 -3.5,0M189.5,263.1a1.75,1.75 0 1,0 3.5,0a1.75,1.75 0 1,0 -3.5,0M191.3,263.1a1.75,1.75 0 1,0 3.5,0a1.75,1.75 0 1,0 -3.5,0M193.1,263.5a1.75,1.75 0 1,0 3.5,0a1.75,1.75 0 1,0 -3.5,0M194.9,263.5a1.75,1.75 0 1,0 3.5,0a1.75,1.75 0 1,0 -3.5,0" fill="none" stroke="#000" stroke-width="1.5"/>
<path d="M26.6,256.7L27.4,256.7L28.1,256.7L28.9,256.7L29.6,256.7L30.4,256.7L31.1,256.7L31.9,256.7L32.6,256.7L33.4,256.7L34.1,256.7L34.9,256.7L35.6,256.7L36.4,256.7L37.1,256.7L37.9,256.7L38.6,256.7L39.4,256.7L40.1,256.7L40.9,256.7L41.6,256.7L42.4,256.7L43.1,256.8L43.9,256.8L44.6,256.8L45.4,256.8L46.1,256.8L46.9,256.8L47.6,256.8L48.4,256.8L49.1,256.8L49.9,256.8L50.6,256.8L51.4,256.8L52.1,256.8L52.9,256.8L53.6,256.8L54.4,256.8L55.1,256.8L55.9,256.8L56.6,256.8L57.4,256.8L58.1,256.8L58.9,256.8L59.6,256.8L60.4,256.8L61.1,256.8L61.9,256.8L62.6,256.8L63.4,256.8L64.1,256.8L64.8,256.8L65.6,256.8L66.3,256.8L67.1,256.8L67.8,256.8L68.6,256.8L69.3,256.8L70.1,256.8L70.8,256.8L71.6,256.8L72.3,256.8L73.1,256.8L73.8,256.8L74.6,256.8L75.3,256.8L76.1,256.9L76.8,256.9L77.6,256.9L78.3,256.9L79.1,256.9L79.8,256.9L80.6,256.9L81.3,256.9L82.1,256.9L82.8,256.9L83.6,256.9L84.3,256.9L85.1,256.9L85.8,256.9L86.6,256.9L87.3,256.9L88.1,256.9L88.8,256.9L89.6,256.9L90.3,256.9L91.1,256.9L91.8,256.9L92.6,256.9L93.3,256.9L94.1,256.9L94.8,256.9L95.6,256.9L96.3,256.9L97.1,256.9L97.8,256.9L98.6,256.9L99.3,256.9L100.1,256.9L100.8,256.9L101.6,256.9L102.3,256.9L103.1,256.9L103.8,256.9L104.6,256.9L105.3,256.9L106.1,256.9L106.8,256.9L107.6,256.9L108.3,256.9L109.1,257.0L109.8,257.0L110.6,257.0L111.3,257.0L112.1,257.0L112.8,257.0L113.6,257.0L114.3,257.0L115.1,257.0L115.8,257.0L116.6,257.0L117.3,257.0L118.1,257.0L118.8,257.0L119.6,257.0L120.3,257.0L121.1,257.0L121.8,257.0L122.6,257.0L123.3,257.1L124.1,257.1L124.8,257.1L125.6,257.1L126.3,257.1L127.1,257.2L127.8,257.2L128.6,257.2L129.3,257.2L130.1,257.3L130.8,257.3L131.6,257.3L132.3,257.4L133.1,257.4L133.8,257.5L134.6,257.5L135.3,257.5L136.1,257.6L136.8,257.6L137.6,257.7L138.3,257.7L139.1,257.7L139.8,257.8L140.6,257.8L141.3,257.9L142.1,257.9L142.8,257.9L143.6,258.0L144.3,258.0L145.1,258.1L145.8,258.1L146.6,258.2L147.3,258.3L148.1,258.3L148.8,258.4L149.6,258.5L150.3,258.6L151.1,258.7L151.8,258.8L152.6,258.9L153.3,259.0L154.1,259.1L154.8,259.2L155.6,259.3L156.3,259.4L157.1,259.6L157.8,259.7L158.6,259.8L159.3,260.0L160.1,260.1L160.8,260.2L161.6,260.4L162.3,260.5L163.1,260.6L163.8,260.8L164.6,260.9L165.3,261.0L166.1,261.1L166.8,261.3L167.6,261.4L168.3,261.5L169.1,261.6L169.8,261.7L170.6,261.8L171.3,261.9L172.1,262.0L172.8,262.1L173.6,262.1L174.3,262.2L175.1,262.3L175.8,262.3L176.6,262.4L177.3,262.5L178.1,262.5L178.8,262.6L179.6,262.6L180.3,262.7L181.1,262.7L181.8,262.7L182.6,262.8L183.3,262.8L184.1,262.9L184.8,262.9L185.6,262.9L186.3,263.0L187.1,263.0L187.8,263.1L188.6,263.1L189.3,263.1L190.1,263.1L190.8,263.1L191.6,263.2L192.3,263.2L193.1,263.2L193.8,263.2L194.6,263.2L195.3,263.3" fill="none" stroke="#5a8a1e" stroke-width="1.45"/>
<path d="M82.1,256.5L82.8,256.4L83.6,256.3L84.3,256.2L85.1,256.1L85.8,256.0L86.6,255.9L87.3,255.7L88.1,255.6L88.8,255.4L89.6,255.1L90.3,254.9L91.1,254.7L91.8,254.4L92.6,254.1L93.3,253.7L94.1,253.4L94.8,253.0L95.6,252.6L96.3,252.1L97.1,251.7L97.8,251.2L98.6,250.7L99.3,250.2L100.1,249.6L100.8,249.1L101.6,248.5L102.3,247.9L103.1,247.4L103.8,246.8L104.6,246.3L105.3,245.7L106.1,245.2L106.8,244.7L107.6,244.2L108.3,243.8L109.1,243.4L109.8,243.0L110.6,242.7L111.3,242.5L112.1,242.3L112.8,242.1L113.6,242.0L114.3,242.0L115.1,242.0L115.8,242.0L116.6,242.1L117.3,242.1L118.1,242.2L118.8,242.3L119.6,242.5L120.3,242.6L121.1,242.8L121.8,243.0L122.6,243.2L123.3,243.5L124.1,243.7L124.8,244.0L125.6,244.3L126.3,244.6L127.1,244.9L127.8,245.2L128.6,245.5L129.3,245.9L130.1,246.2L130.8,246.6L131.6,246.9L132.3,247.3L133.1,247.7L133.8,248.1L134.6,248.4L135.3,248.8L136.1,249.2L136.8,249.6L137.6,250.0L138.3,250.3L139.1,250.7L139.8,251.1L140.6,251.4L141.3,251.8L142.1,252.1L142.8,252.4L143.6,252.8L144.3,253.1L145.1,253.4L145.8,253.7L146.6,254.1L147.3,254.4L148.1,254.7L148.8,255.0L149.6,255.3L150.3,255.6L151.1,255.9L151.8,256.1L152.6,256.4L153.3,256.7L154.1,257.0L154.8,257.2L155.6,257.5L156.3,257.8L157.1,258.0L157.8,258.3L158.6,258.5L159.3,258.7L160.1,259.0L160.8,259.2L161.6,259.4L162.3,259.6L163.1,259.8L163.8,260.0L164.6,260.2L165.3,260.4L166.1,260.6L166.8,260.8L167.6,260.9L168.3,261.1L169.1,261.2" fill="none" stroke="#1010c8" stroke-width="1.45"/>
<path d="M114.3,256.6L115.1,256.5L115.8,256.3L116.6,256.1L117.3,255.9L118.1,255.5L118.8,255.1L119.6,254.7L120.3,254.0L121.1,253.3L121.8,252.4L122.6,251.4L123.3,250.1L124.1,248.7L124.8,247.0L125.6,245.1L126.3,242.9L127.1,240.5L127.8,237.7L128.6,234.8L129.3,231.6L130.1,228.1L130.8,224.5L131.6,220.6L132.3,216.7L133.1,212.7L133.8,208.7L134.6,204.8L135.3,201.0L136.1,197.5L136.8,194.2L137.6,191.3L138.3,188.8L139.1,186.8L139.8,185.3L140.6,184.5L141.3,184.2L142.1,184.5L142.8,185.3L143.6,186.8L144.3,188.8L145.1,191.4L145.8,194.3L146.6,197.6L147.3,201.3L148.1,205.1L148.8,209.2L149.6,213.3L150.3,217.4L151.1,221.4L151.8,225.4L152.6,229.2L153.3,232.8L154.1,236.2L154.8,239.4L155.6,242.3L156.3,244.9L157.1,247.2L157.8,249.4L158.6,251.2L159.3,252.8L160.1,254.3L160.8,255.5L161.6,256.5L162.3,257.4L163.1,258.2L163.8,258.9L164.6,259.4L165.3,259.9L166.1,260.3L166.8,260.6L167.6,260.9L168.3,261.1" fill="none" stroke="#1aa57a" stroke-width="1.45"/>
<path d="M134.6,257.1L135.3,256.9L136.1,256.8L136.8,256.5L137.6,256.1L138.3,255.6L139.1,255.0L139.8,254.2L140.6,253.2L141.3,251.9L142.1,250.4L142.8,248.6L143.6,246.6L144.3,244.2L145.1,241.6L145.8,238.7L146.6,235.5L147.3,232.2L148.1,228.7L148.8,225.2L149.6,221.8L150.3,218.5L151.1,215.4L151.8,212.7L152.6,210.5L153.3,208.8L154.1,207.7L154.8,207.2L155.6,207.5L156.3,208.4L157.1,209.9L157.8,212.0L158.6,214.6L159.3,217.7L160.1,221.1L160.8,224.6L161.6,228.3L162.3,232.0L163.1,235.7L163.8,239.2L164.6,242.4L165.3,245.4L166.1,248.2L166.8,250.6L167.6,252.7L168.3,254.6L169.1,256.1L169.8,257.4L170.6,258.5L171.3,259.4L172.1,260.1L172.8,260.7L173.6,261.1L174.3,261.5L175.1,261.8L175.8,262.0" fill="none" stroke="#ff1040" stroke-width="1.45"/>
<path d="M26.6,256.3L27.4,256.3L28.1,256.2L28.9,256.2L29.6,256.2L30.4,256.2L31.1,256.1L31.9,256.1L32.6,256.1L33.4,256.1L34.1,256.0L34.9,256.0L35.6,256.0L36.4,255.9L37.1,255.9L37.9,255.9L38.6,255.8L39.4,255.8L40.1,255.8L40.9,255.7L41.6,255.7L42.4,255.6L43.1,255.6L43.9,255.6L44.6,255.5L45.4,255.5L46.1,255.4L46.9,255.4L47.6,255.4L48.4,255.3L49.1,255.3L49.9,255.2L50.6,255.2L51.4,255.1L52.1,255.1L52.9,255.0L53.6,255.0L54.4,254.9L55.1,254.9L55.9,254.8L56.6,254.8L57.4,254.7L58.1,254.7L58.9,254.6L59.6,254.6L60.4,254.5L61.1,254.5L61.9,254.4L62.6,254.4L63.4,254.3L64.1,254.3L64.8,254.2L65.6,254.2L66.3,254.1L67.1,254.1L67.8,254.0L68.6,254.0L69.3,253.9L70.1,253.9L70.8,253.8L71.6,253.8L72.3,253.8L73.1,253.7L73.8,253.7L74.6,253.6L75.3,253.6L76.1,253.5L76.8,253.5L77.6,253.4L78.3,253.4L79.1,253.3L79.8,253.3L80.6,253.2L81.3,253.1L82.1,253.0L82.8,253.0L83.6,252.9L84.3,252.8L85.1,252.6L85.8,252.5L86.6,252.4L87.3,252.2L88.1,252.1L88.8,251.9L89.6,251.7L90.3,251.4L91.1,251.2L91.8,250.9L92.6,250.6L93.3,250.3L94.1,249.9L94.8,249.6L95.6,249.2L96.3,248.8L97.1,248.3L97.8,247.9L98.6,247.4L99.3,246.9L100.1,246.4L100.8,245.9L101.6,245.4L102.3,244.8L103.1,244.3L103.8,243.8L104.6,243.3L105.3,242.8L106.1,242.3L106.8,241.8L107.6,241.4L108.3,241.0L109.1,240.6L109.8,240.3L110.6,240.0L111.3,239.8L112.1,239.6L112.8,239.4L113.6,239.3L114.3,239.2L115.1,239.2L115.8,239.1L116.6,239.0L117.3,238.9L118.1,238.7L118.8,238.4L119.6,238.1L120.3,237.7L121.1,237.2L121.8,236.6L122.6,235.8L123.3,234.8L124.1,233.6L124.8,232.2L125.6,230.6L126.3,228.7L127.1,226.6L127.8,224.3L128.6,221.6L129.3,218.7L130.1,215.6L130.8,212.3L131.6,208.7L132.3,205.1L133.1,201.3L133.8,197.5L134.6,193.7L135.3,190.0L136.1,186.3L136.8,182.9L137.6,179.7L138.3,176.7L139.1,174.1L139.8,171.8L140.6,169.8L141.3,168.2L142.1,166.9L142.8,166.0L143.6,165.3L144.3,165.0L145.1,164.9L145.8,165.0L146.6,165.3L147.3,165.8L148.1,166.5L148.8,167.3L149.6,168.3L150.3,169.6L151.1,171.0L151.8,172.8L152.6,174.8L153.3,177.2L154.1,179.9L154.8,183.0L155.6,186.5L156.3,190.4L157.1,194.6L157.8,199.0L158.6,203.7L159.3,208.6L160.1,213.5L160.8,218.4L161.6,223.2L162.3,227.8L163.1,232.2L163.8,236.3L164.6,240.1L165.3,243.5L166.1,246.6L166.8,249.3L167.6,251.7L168.3,253.7L169.1,255.4L169.8,256.8L170.6,258.0L171.3,258.9L172.1,259.7L172.8,260.3L173.6,260.8L174.3,261.2L175.1,261.5L175.8,261.8L176.6,262.0L177.3,262.1L178.1,262.3L178.8,262.4L179.6,262.5L180.3,262.5L181.1,262.6L181.8,262.6L182.6,262.7L183.3,262.7L184.1,262.8L184.8,262.8L185.6,262.9L186.3,262.9L187.1,263.0L187.8,263.0L188.6,263.1L189.3,263.1L190.1,263.1L190.8,263.1L191.6,263.1L192.3,263.2L193.1,263.2L193.8,263.2L194.6,263.2L195.3,263.3" fill="none" stroke="#f0f" stroke-width="1.25"/>
</g>
<clipPath id="a3"><rect x="27.4" y="281.9" width="167.8" height="121.6"/></clipPath>
<g clip-path="url(#a3)">
<path d="M25.6,387.8L27.4,386.4L29.2,387.0L31.0,386.8L32.8,386.8L34.6,387.2L36.4,386.9L38.2,387.6L40.0,388.2L41.8,387.2L43.6,388.1L45.4,387.7L47.2,386.9L49.0,386.7L50.8,387.1L52.6,386.4L54.4,387.1L56.2,386.2L58.0,385.8L59.8,386.3L61.6,384.8L63.4,385.4L65.2,385.4L67.0,385.1L68.8,384.4L70.6,383.7L72.4,382.8L74.2,383.1L76.0,382.4L77.8,381.8L79.6,382.1L81.4,381.2L83.2,382.0L85.0,381.2L86.8,380.0L88.6,380.2L90.4,378.2L92.2,379.3L94.0,377.5L95.8,378.0L97.6,378.1L99.4,378.3L101.2,378.6L103.0,376.8L104.8,376.9L106.6,377.5L108.4,377.8L110.2,376.9L112.0,377.6L113.8,377.9L115.6,378.5L117.4,378.3L119.2,378.5L121.0,378.2L122.8,378.0L124.6,378.9L126.4,378.2L128.2,377.7 M173.2,394.5L175.0,394.9L176.8,396.3L178.6,396.2L180.4,395.7L182.2,397.1L184.0,396.0L185.8,396.5L187.6,397.6L189.4,396.5L191.2,396.9L193.0,396.6L194.8,396.0L196.6,397.9" fill="none" stroke="#000" stroke-width="2.8" stroke-linejoin="round" stroke-linecap="round"/>
<path d="M23.9,387.8a1.75,1.75 0 1,0 3.5,0a1.75,1.75 0 1,0 -3.5,0M25.7,386.4a1.75,1.75 0 1,0 3.5,0a1.75,1.75 0 1,0 -3.5,0M27.5,387.0a1.75,1.75 0 1,0 3.5,0a1.75,1.75 0 1,0 -3.5,0M29.3,386.8a1.75,1.75 0 1,0 3.5,0a1.75,1.75 0 1,0 -3.5,0M31.1,386.8a1.75,1.75 0 1,0 3.5,0a1.75,1.75 0 1,0 -3.5,0M32.9,387.2a1.75,1.75 0 1,0 3.5,0a1.75,1.75 0 1,0 -3.5,0M34.6,386.9a1.75,1.75 0 1,0 3.5,0a1.75,1.75 0 1,0 -3.5,0M36.4,387.6a1.75,1.75 0 1,0 3.5,0a1.75,1.75 0 1,0 -3.5,0M38.2,388.2a1.75,1.75 0 1,0 3.5,0a1.75,1.75 0 1,0 -3.5,0M40.0,387.2a1.75,1.75 0 1,0 3.5,0a1.75,1.75 0 1,0 -3.5,0M41.8,388.1a1.75,1.75 0 1,0 3.5,0a1.75,1.75 0 1,0 -3.5,0M43.6,387.7a1.75,1.75 0 1,0 3.5,0a1.75,1.75 0 1,0 -3.5,0M45.4,386.9a1.75,1.75 0 1,0 3.5,0a1.75,1.75 0 1,0 -3.5,0M47.2,386.7a1.75,1.75 0 1,0 3.5,0a1.75,1.75 0 1,0 -3.5,0M49.0,387.1a1.75,1.75 0 1,0 3.5,0a1.75,1.75 0 1,0 -3.5,0M50.8,386.4a1.75,1.75 0 1,0 3.5,0a1.75,1.75 0 1,0 -3.5,0M52.6,387.1a1.75,1.75 0 1,0 3.5,0a1.75,1.75 0 1,0 -3.5,0M54.4,386.2a1.75,1.75 0 1,0 3.5,0a1.75,1.75 0 1,0 -3.5,0M56.2,385.8a1.75,1.75 0 1,0 3.5,0a1.75,1.75 0 1,0 -3.5,0M58.0,386.3a1.75,1.75 0 1,0 3.5,0a1.75,1.75 0 1,0 -3.5,0M59.8,384.8a1.75,1.75 0 1,0 3.5,0a1.75,1.75 0 1,0 -3.5,0M61.6,385.4a1.75,1.75 0 1,0 3.5,0a1.75,1.75 0 1,0 -3.5,0M63.4,385.4a1.75,1.75 0 1,0 3.5,0a1.75,1.75 0 1,0 -3.5,0M65.2,385.1a1.75,1.75 0 1,0 3.5,0a1.75,1.75 0 1,0 -3.5,0M67.0,384.4a1.75,1.75 0 1,0 3.5,0a1.75,1.75 0 1,0 -3.5,0M68.8,383.7a1.75,1.75 0 1,0 3.5,0a1.75,1.75 0 1,0 -3.5,0M70.6,382.8a1.75,1.75 0 1,0 3.5,0a1.75,1.75 0 1,0 -3.5,0M72.4,383.1a1.75,1.75 0 1,0 3.5,0a1.75,1.75 0 1,0 -3.5,0M74.2,382.4a1.75,1.75 0 1,0 3.5,0a1.75,1.75 0 1,0 -3.5,0M76.0,381.8a1.75,1.75 0 1,0 3.5,0a1.75,1.75 0 1,0 -3.5,0M77.8,382.1a1.75,1.75 0 1,0 3.5,0a1.75,1.75 0 1,0 -3.5,0M79.6,381.2a1.75,1.75 0 1,0 3.5,0a1.75,1.75 0 1,0 -3.5,0M81.4,382.0a1.75,1.75 0 1,0 3.5,0a1.75,1.75 0 1,0 -3.5,0M83.2,381.2a1.75,1.75 0 1,0 3.5,0a1.75,1.75 0 1,0 -3.5,0M85.0,380.0a1.75,1.75 0 1,0 3.5,0a1.75,1.75 0 1,0 -3.5,0M86.8,380.2a1.75,1.75 0 1,0 3.5,0a1.75,1.75 0 1,0 -3.5,0M88.6,378.2a1.75,1.75 0 1,0 3.5,0a1.75,1.75 0 1,0 -3.5,0M90.4,379.3a1.75,1.75 0 1,0 3.5,0a1.75,1.75 0 1,0 -3.5,0M92.2,377.5a1.75,1.75 0 1,0 3.5,0a1.75,1.75 0 1,0 -3.5,0M94.0,378.0a1.75,1.75 0 1,0 3.5,0a1.75,1.75 0 1,0 -3.5,0M95.8,378.1a1.75,1.75 0 1,0 3.5,0a1.75,1.75 0 1,0 -3.5,0M97.6,378.3a1.75,1.75 0 1,0 3.5,0a1.75,1.75 0 1,0 -3.5,0M99.4,378.6a1.75,1.75 0 1,0 3.5,0a1.75,1.75 0 1,0 -3.5,0M101.2,376.8a1.75,1.75 0 1,0 3.5,0a1.75,1.75 0 1,0 -3.5,0M103.0,376.9a1.75,1.75 0 1,0 3.5,0a1.75,1.75 0 1,0 -3.5,0M104.8,377.5a1.75,1.75 0 1,0 3.5,0a1.75,1.75 0 1,0 -3.5,0M106.6,377.8a1.75,1.75 0 1,0 3.5,0a1.75,1.75 0 1,0 -3.5,0M108.4,376.9a1.75,1.75 0 1,0 3.5,0a1.75,1.75 0 1,0 -3.5,0M110.2,377.6a1.75,1.75 0 1,0 3.5,0a1.75,1.75 0 1,0 -3.5,0M112.0,377.9a1.75,1.75 0 1,0 3.5,0a1.75,1.75 0 1,0 -3.5,0M113.8,378.5a1.75,1.75 0 1,0 3.5,0a1.75,1.75 0 1,0 -3.5,0M115.6,378.3a1.75,1.75 0 1,0 3.5,0a1.75,1.75 0 1,0 -3.5,0M117.4,378.5a1.75,1.75 0 1,0 3.5,0a1.75,1.75 0 1,0 -3.5,0M119.2,378.2a1.75,1.75 0 1,0 3.5,0a1.75,1.75 0 1,0 -3.5,0M121.0,378.0a1.75,1.75 0 1,0 3.5,0a1.75,1.75 0 1,0 -3.5,0M122.8,378.9a1.75,1.75 0 1,0 3.5,0a1.75,1.75 0 1,0 -3.5,0M124.6,378.2a1.75,1.75 0 1,0 3.5,0a1.75,1.75 0 1,0 -3.5,0M126.4,377.7a1.75,1.75 0 1,0 3.5,0a1.75,1.75 0 1,0 -3.5,0M128.2,375.8a1.75,1.75 0 1,0 3.5,0a1.75,1.75 0 1,0 -3.5,0M130.0,373.2a1.75,1.75 0 1,0 3.5,0a1.75,1.75 0 1,0 -3.5,0M131.8,370.3a1.75,1.75 0 1,0 3.5,0a1.75,1.75 0 1,0 -3.5,0M133.6,364.9a1.75,1.75 0 1,0 3.5,0a1.75,1.75 0 1,0 -3.5,0M135.4,359.8a1.75,1.75 0 1,0 3.5,0a1.75,1.75 0 1,0 -3.5,0M137.2,353.3a1.75,1.75 0 1,0 3.5,0a1.75,1.75 0 1,0 -3.5,0M139.0,347.2a1.75,1.75 0 1,0 3.5,0a1.75,1.75 0 1,0 -3.5,0M140.8,340.8a1.75,1.75 0 1,0 3.5,0a1.75,1.75 0 1,0 -3.5,0M142.6,334.5a1.75,1.75 0 1,0 3.5,0a1.75,1.75 0 1,0 -3.5,0M144.4,325.5a1.75,1.75 0 1,0 3.5,0a1.75,1.75 0 1,0 -3.5,0M146.2,316.3a1.75,1.75 0 1,0 3.5,0a1.75,1.75 0 1,0 -3.5,0M148.1,305.5a1.75,1.75 0 1,0 3.5,0a1.75,1.75 0 1,0 -3.5,0M149.9,297.4a1.75,1.75 0 1,0 3.5,0a1.75,1.75 0 1,0 -3.5,0M151.7,291.0a1.75,1.75 0 1,0 3.5,0a1.75,1.75 0 1,0 -3.5,0M153.5,290.1a1.75,1.75 0 1,0 3.5,0a1.75,1.75 0 1,0 -3.5,0M155.3,295.1a1.75,1.75 0 1,0 3.5,0a1.75,1.75 0 1,0 -3.5,0M157.1,306.4a1.75,1.75 0 1,0 3.5,0a1.75,1.75 0 1,0 -3.5,0M158.9,322.7a1.75,1.75 0 1,0 3.5,0a1.75,1.75 0 1,0 -3.5,0M160.7,339.8a1.75,1.75 0 1,0 3.5,0a1.75,1.75 0 1,0 -3.5,0M162.5,356.2a1.75,1.75 0 1,0 3.5,0a1.75,1.75 0 1,0 -3.5,0M164.3,370.8a1.75,1.75 0 1,0 3.5,0a1.75,1.75 0 1,0 -3.5,0M166.1,379.8a1.75,1.75 0 1,0 3.5,0a1.75,1.75 0 1,0 -3.5,0M167.9,387.4a1.75,1.75 0 1,0 3.5,0a1.75,1.75 0 1,0 -3.5,0M169.7,390.7a1.75,1.75 0 1,0 3.5,0a1.75,1.75 0 1,0 -3.5,0M171.5,394.5a1.75,1.75 0 1,0 3.5,0a1.75,1.75 0 1,0 -3.5,0M173.3,394.9a1.75,1.75 0 1,0 3.5,0a1.75,1.75 0 1,0 -3.5,0M175.1,396.3a1.75,1.75 0 1,0 3.5,0a1.75,1.75 0 1,0 -3.5,0M176.9,396.2a1.75,1.75 0 1,0 3.5,0a1.75,1.75 0 1,0 -3.5,0M178.7,395.7a1.75,1.75 0 1,0 3.5,0a1.75,1.75 0 1,0 -3.5,0M180.5,397.1a1.75,1.75 0 1,0 3.5,0a1.75,1.75 0 1,0 -3.5,0M182.3,396.0a1.75,1.75 0 1,0 3.5,0a1.75,1.75 0 1,0 -3.5,0M184.1,396.5a1.75,1.75 0 1,0 3.5,0a1.75,1.75 0 1,0 -3.5,0M185.9,397.6a1.75,1.75 0 1,0 3.5,0a1.75,1.75 0 1,0 -3.5,0M187.7,396.5a1.75,1.75 0 1,0 3.5,0a1.75,1.75 0 1,0 -3.5,0M189.5,396.9a1.75,1.75 0 1,0 3.5,0a1.75,1.75 0 1,0 -3.5,0M191.3,396.6a1.75,1.75 0 1,0 3.5,0a1.75,1.75 0 1,0 -3.5,0M193.1,396.0a1.75,1.75 0 1,0 3.5,0a1.75,1.75 0 1,0 -3.5,0M194.9,397.9a1.75,1.75 0 1,0 3.5,0a1.75,1.75 0 1,0 -3.5,0" fill="none" stroke="#000" stroke-width="1.5"/>
<path d="M26.6,387.6L27.4,387.6L28.1,387.6L28.9,387.6L29.6,387.6L30.4,387.6L31.1,387.6L31.9,387.6L32.6,387.6L33.4,387.6L34.1,387.6L34.9,387.7L35.6,387.7L36.4,387.7L37.1,387.7L37.9,387.7L38.6,387.7L39.4,387.7L40.1,387.7L40.9,387.7L41.6,387.7L42.4,387.7L43.1,387.7L43.9,387.7L44.6,387.7L45.4,387.7L46.1,387.7L46.9,387.7L47.6,387.7L48.4,387.7L49.1,387.7L49.9,387.7L50.6,387.8L51.4,387.8L52.1,387.8L52.9,387.8L53.6,387.8L54.4,387.8L55.1,387.8L55.9,387.8L56.6,387.8L57.4,387.8L58.1,387.8L58.9,387.8L59.6,387.8L60.4,387.8L61.1,387.8L61.9,387.8L62.6,387.8L63.4,387.8L64.1,387.8L64.8,387.8L65.6,387.9L66.3,387.9L67.1,387.9L67.8,387.9L68.6,387.9L69.3,387.9L70.1,387.9L70.8,387.9L71.6,387.9L72.3,387.9L73.1,387.9L73.8,387.9L74.6,387.9L75.3,387.9L76.1,387.9L76.8,387.9L77.6,387.9L78.3,387.9L79.1,387.9L79.8,387.9L80.6,387.9L81.3,388.0L82.1,388.0L82.8,388.0L83.6,388.0L84.3,388.0L85.1,388.0L85.8,388.0L86.6,388.0L87.3,388.0L88.1,388.0L88.8,388.0L89.6,388.0L90.3,388.0L91.1,388.0L91.8,388.0L92.6,388.0L93.3,388.0L94.1,388.0L94.8,388.0L95.6,388.0L96.3,388.0L97.1,388.1L97.8,388.1L98.6,388.1L99.3,388.1L100.1,388.1L100.8,388.1L101.6,388.1L102.3,388.1L103.1,388.1L103.8,388.1L104.6,388.1L105.3,388.1L106.1,388.1L106.8,388.1L107.6,388.1L108.3,388.1L109.1,388.1L109.8,388.1L110.6,388.1L111.3,388.1L112.1,388.1L112.8,388.2L113.6,388.2L114.3,388.2L115.1,388.2L115.8,388.2L116.6,388.2L117.3,388.2L118.1,388.2L118.8,388.3L119.6,388.3L120.3,388.3L121.1,388.3L121.8,388.4L122.6,388.4L123.3,388.4L124.1,388.5L124.8,388.5L125.6,388.5L126.3,388.6L127.1,388.6L127.8,388.7L128.6,388.7L129.3,388.8L130.1,388.8L130.8,388.9L131.6,388.9L132.3,388.9L133.1,389.0L133.8,389.0L134.6,389.1L135.3,389.1L136.1,389.2L136.8,389.2L137.6,389.3L138.3,389.3L139.1,389.3L139.8,389.4L140.6,389.4L141.3,389.5L142.1,389.5L142.8,389.6L143.6,389.6L144.3,389.7L145.1,389.8L145.8,389.8L146.6,389.9L147.3,390.0L148.1,390.1L148.8,390.2L149.6,390.3L150.3,390.5L151.1,390.6L151.8,390.7L152.6,390.9L153.3,391.0L154.1,391.2L154.8,391.3L155.6,391.5L156.3,391.7L157.1,391.9L157.8,392.1L158.6,392.3L159.3,392.5L160.1,392.7L160.8,392.9L161.6,393.1L162.3,393.3L163.1,393.5L163.8,393.7L164.6,393.8L165.3,394.0L166.1,394.2L166.8,394.4L167.6,394.6L168.3,394.7L169.1,394.9L169.8,395.0L170.6,395.2L171.3,395.3L172.1,395.4L172.8,395.5L173.6,395.7L174.3,395.8L175.1,395.9L175.8,396.0L176.6,396.0L177.3,396.1L178.1,396.2L178.8,396.3L179.6,396.3L180.3,396.4L181.1,396.4L181.8,396.5L182.6,396.5L183.3,396.6L184.1,396.6L184.8,396.7L185.6,396.7L186.3,396.8L187.1,396.8L187.8,396.9L188.6,396.9L189.3,396.9L190.1,396.9L190.8,397.0L191.6,397.0L192.3,397.0L193.1,397.0L193.8,397.1L194.6,397.1L195.3,397.1" fill="none" stroke="#3a8ee0" stroke-width="1.45"/>
<path d="M121.8,387.9L122.6,387.8L123.3,387.7L124.1,387.5L124.8,387.3L125.6,387.0L126.3,386.6L127.1,386.1L127.8,385.5L128.6,384.8L129.3,384.0L130.1,383.1L130.8,381.9L131.6,380.7L132.3,379.2L133.1,377.6L133.8,375.9L134.6,374.0L135.3,371.9L136.1,369.7L136.8,367.4L137.6,365.1L138.3,362.7L139.1,360.4L139.8,358.1L140.6,355.9L141.3,353.8L142.1,352.0L142.8,350.4L143.6,349.2L144.3,348.2L145.1,347.6L145.8,347.4L146.6,347.5L147.3,348.0L148.1,348.9L148.8,350.2L149.6,351.7L150.3,353.6L151.1,355.6L151.8,357.9L152.6,360.3L153.3,362.8L154.1,365.4L154.8,368.0L155.6,370.5L156.3,373.0L157.1,375.4L157.8,377.6L158.6,379.7L159.3,381.7L160.1,383.5L160.8,385.1L161.6,386.6L162.3,387.9L163.1,389.0L163.8,390.0L164.6,390.9L165.3,391.7L166.1,392.4L166.8,392.9L167.6,393.4L168.3,393.8L169.1,394.2L169.8,394.5L170.6,394.8" fill="none" stroke="#1aa57a" stroke-width="1.45"/>
<path d="M137.6,388.8L138.3,388.6L139.1,388.3L139.8,387.9L140.6,387.3L141.3,386.5L142.1,385.5L142.8,384.1L143.6,382.4L144.3,380.3L145.1,377.6L145.8,374.5L146.6,370.8L147.3,366.6L148.1,361.9L148.8,356.7L149.6,351.2L150.3,345.5L151.1,339.8L151.8,334.3L152.6,329.1L153.3,324.5L154.1,320.7L154.8,317.9L155.6,316.2L156.3,315.7L157.1,316.4L157.8,318.3L158.6,321.4L159.3,325.4L160.1,330.2L160.8,335.7L161.6,341.5L162.3,347.6L163.1,353.6L163.8,359.4L164.6,364.9L165.3,370.0L166.1,374.5L166.8,378.6L167.6,382.0L168.3,385.0L169.1,387.4L169.8,389.4L170.6,391.0L171.3,392.2L172.1,393.2L172.8,394.0L173.6,394.6L174.3,395.0L175.1,395.4" fill="none" stroke="#3a8ee0" stroke-width="1.45"/>
<path d="M26.6,387.5L27.4,387.5L28.1,387.5L28.9,387.5L29.6,387.5L30.4,387.5L31.1,387.5L31.9,387.5L32.6,387.5L33.4,387.4L34.1,387.4L34.9,387.4L35.6,387.4L36.4,387.4L37.1,387.4L37.9,387.4L38.6,387.3L39.4,387.3L40.1,387.3L40.9,387.3L41.6,387.2L42.4,387.2L43.1,387.2L43.9,387.1L44.6,387.1L45.4,387.1L46.1,387.0L46.9,387.0L47.6,386.9L48.4,386.9L49.1,386.8L49.9,386.8L50.6,386.7L51.4,386.7L52.1,386.6L52.9,386.5L53.6,386.5L54.4,386.4L55.1,386.3L55.9,386.2L56.6,386.1L57.4,386.1L58.1,386.0L58.9,385.9L59.6,385.8L60.4,385.7L61.1,385.6L61.9,385.4L62.6,385.3L63.4,385.2L64.1,385.1L64.8,385.0L65.6,384.8L66.3,384.7L67.1,384.6L67.8,384.4L68.6,384.3L69.3,384.1L70.1,384.0L70.8,383.8L71.6,383.6L72.3,383.5L73.1,383.3L73.8,383.2L74.6,383.0L75.3,382.8L76.1,382.6L76.8,382.5L77.6,382.3L78.3,382.1L79.1,381.9L79.8,381.7L80.6,381.6L81.3,381.4L82.1,381.2L82.8,381.0L83.6,380.8L84.3,380.7L85.1,380.5L85.8,380.3L86.6,380.1L87.3,380.0L88.1,379.8L88.8,379.6L89.6,379.5L90.3,379.3L91.1,379.2L91.8,379.0L92.6,378.9L93.3,378.8L94.1,378.6L94.8,378.5L95.6,378.4L96.3,378.3L97.1,378.2L97.8,378.1L98.6,378.0L99.3,377.9L100.1,377.8L100.8,377.8L101.6,377.7L102.3,377.6L103.1,377.6L103.8,377.6L104.6,377.5L105.3,377.5L106.1,377.5L106.8,377.5L107.6,377.5L108.3,377.5L109.1,377.6L109.8,377.6L110.6,377.6L111.3,377.7L112.1,377.7L112.8,377.8L113.6,377.9L114.3,378.0L115.1,378.0L115.8,378.1L116.6,378.2L117.3,378.3L118.1,378.4L118.8,378.5L119.6,378.6L120.3,378.7L121.1,378.8L121.8,378.9L122.6,378.9L123.3,378.9L124.1,378.9L124.8,378.8L125.6,378.6L126.3,378.4L127.1,378.1L127.8,377.7L128.6,377.2L129.3,376.5L130.1,375.7L130.8,374.8L131.6,373.7L132.3,372.4L133.1,370.9L133.8,369.3L134.6,367.5L135.3,365.5L136.1,363.4L136.8,361.1L137.6,358.7L138.3,356.2L139.1,353.6L139.8,350.9L140.6,348.2L141.3,345.4L142.1,342.5L142.8,339.5L143.6,336.5L144.3,333.3L145.1,330.0L145.8,326.5L146.6,322.8L147.3,319.0L148.1,315.1L148.8,311.1L149.6,307.0L150.3,303.0L151.1,299.3L151.8,295.9L152.6,293.1L153.3,290.9L154.1,289.7L154.8,289.4L155.6,290.2L156.3,292.1L157.1,295.2L157.8,299.4L158.6,304.6L159.3,310.6L160.1,317.3L160.8,324.4L161.6,331.8L162.3,339.1L163.1,346.3L163.8,353.2L164.6,359.7L165.3,365.5L166.1,370.8L166.8,375.4L167.6,379.3L168.3,382.7L169.1,385.5L169.8,387.7L170.6,389.6L171.3,391.1L172.1,392.2L172.8,393.1L173.6,393.8L174.3,394.4L175.1,394.8L175.8,395.1L176.6,395.4L177.3,395.6L178.1,395.7L178.8,395.9L179.6,396.0L180.3,396.1L181.1,396.1L181.8,396.2L182.6,396.3L183.3,396.4L184.1,396.4L184.8,396.5L185.6,396.6L186.3,396.6L187.1,396.7L187.8,396.7L188.6,396.8L189.3,396.8L190.1,396.8L190.8,396.9L191.6,396.9L192.3,396.9L193.1,397.0L193.8,397.0L194.6,397.0L195.3,397.1" fill="none" stroke="#f0f" stroke-width="1.25"/>
<path d="M26.6,387.5L27.4,387.5L28.1,387.5L28.9,387.5L29.6,387.5L30.4,387.5L31.1,387.5L31.9,387.5L32.6,387.5L33.4,387.4L34.1,387.4L34.9,387.4L35.6,387.4L36.4,387.4L37.1,387.4L37.9,387.4L38.6,387.3L39.4,387.3L40.1,387.3L40.9,387.3L41.6,387.2L42.4,387.2L43.1,387.2L43.9,387.1L44.6,387.1L45.4,387.1L46.1,387.0L46.9,387.0L47.6,386.9L48.4,386.9L49.1,386.8L49.9,386.8L50.6,386.7L51.4,386.7L52.1,386.6L52.9,386.5L53.6,386.5L54.4,386.4L55.1,386.3L55.9,386.2L56.6,386.1L57.4,386.1L58.1,386.0L58.9,385.9L59.6,385.8L60.4,385.7L61.1,385.6L61.9,385.4L62.6,385.3L63.4,385.2L64.1,385.1L64.8,385.0L65.6,384.8L66.3,384.7L67.1,384.6L67.8,384.4L68.6,384.3L69.3,384.1L70.1,384.0L70.8,383.8L71.6,383.6L72.3,383.5L73.1,383.3L73.8,383.2L74.6,383.0L75.3,382.8L76.1,382.6L76.8,382.5L77.6,382.3L78.3,382.1L79.1,381.9L79.8,381.7L80.6,381.6L81.3,381.4L82.1,381.2L82.8,381.0L83.6,380.8L84.3,380.7L85.1,380.5L85.8,380.3L86.6,380.1L87.3,380.0L88.1,379.8L88.8,379.6L89.6,379.5L90.3,379.3L91.1,379.2L91.8,379.0L92.6,378.9L93.3,378.8L94.1,378.6L94.8,378.5L95.6,378.4L96.3,378.3L97.1,378.2L97.8,378.1L98.6,378.0L99.3,377.9L100.1,377.8L100.8,377.8L101.6,377.7L102.3,377.6L103.1,377.6L103.8,377.6L104.6,377.5L105.3,377.5L106.1,377.5L106.8,377.5L107.6,377.5L108.3,377.5L109.1,377.6L109.8,377.6L110.6,377.6L111.3,377.7L112.1,377.8L112.8,377.8L113.6,377.9L114.3,378.0L115.1,378.1L115.8,378.2L116.6,378.3L117.3,378.4L118.1,378.5L118.8,378.7L119.6,378.8L120.3,379.0L121.1,379.1L121.8,379.3L122.6,379.5L123.3,379.7L124.1,379.8L124.8,380.0L125.6,380.2L126.3,380.4L127.1,380.6L127.8,380.8L128.6,381.1L129.3,381.3L130.1,381.5L130.8,381.7L131.6,381.9L132.3,382.2L133.1,382.4L133.8,382.6L134.6,382.8L135.3,383.1L136.1,383.3L136.8,383.5L137.6,383.7L138.3,383.9L139.1,384.2L139.8,384.4L140.6,384.6L141.3,384.8L142.1,385.0L142.8,385.2L143.6,385.4L144.3,385.7L145.1,385.9L145.8,386.1L146.6,386.3L147.3,386.6L148.1,386.8L148.8,387.1L149.6,387.3L150.3,387.6L151.1,387.8L151.8,388.1L152.6,388.4L153.3,388.6L154.1,388.9L154.8,389.2L155.6,389.4L156.3,389.7L157.1,390.0L157.8,390.3L158.6,390.6L159.3,390.9L160.1,391.2L160.8,391.4L161.6,391.7L162.3,392.0L163.1,392.2L163.8,392.5L164.6,392.8L165.3,393.0L166.1,393.3L166.8,393.5L167.6,393.7L168.3,393.9L169.1,394.1L169.8,394.3L170.6,394.5L171.3,394.7L172.1,394.9L172.8,395.0L173.6,395.2L174.3,395.3L175.1,395.4L175.8,395.6L176.6,395.7L177.3,395.8L178.1,395.9L178.8,396.0L179.6,396.0L180.3,396.1L181.1,396.2L181.8,396.2L182.6,396.3L183.3,396.4L184.1,396.4L184.8,396.5L185.6,396.6L186.3,396.6L187.1,396.7L187.8,396.7L188.6,396.8L189.3,396.8L190.1,396.8L190.8,396.9L191.6,396.9L192.3,396.9L193.1,397.0L193.8,397.0L194.6,397.0L195.3,397.1" fill="none" stroke="#1a1ab0" stroke-width="1.9"/>
</g>
<clipPath id="a4"><rect x="27.4" y="405.1" width="167.8" height="134.4"/></clipPath>
<g clip-path="url(#a4)">
<path d="M20.3,520.2a1.75,1.75 0 1,0 3.5,0a1.75,1.75 0 1,0 -3.5,0M24.4,532.5a1.75,1.75 0 1,0 3.5,0a1.75,1.75 0 1,0 -3.5,0M26.4,526.7a1.75,1.75 0 1,0 3.5,0a1.75,1.75 0 1,0 -3.5,0M26.3,526.4a1.75,1.75 0 1,0 3.5,0a1.75,1.75 0 1,0 -3.5,0M27.1,527.0a1.75,1.75 0 1,0 3.5,0a1.75,1.75 0 1,0 -3.5,0M32.5,526.5a1.75,1.75 0 1,0 3.5,0a1.75,1.75 0 1,0 -3.5,0M32.9,528.8a1.75,1.75 0 1,0 3.5,0a1.75,1.75 0 1,0 -3.5,0M35.4,522.3a1.75,1.75 0 1,0 3.5,0a1.75,1.75 0 1,0 -3.5,0M40.1,524.0a1.75,1.75 0 1,0 3.5,0a1.75,1.75 0 1,0 -3.5,0M38.0,529.5a1.75,1.75 0 1,0 3.5,0a1.75,1.75 0 1,0 -3.5,0M38.3,523.5a1.75,1.75 0 1,0 3.5,0a1.75,1.75 0 1,0 -3.5,0M40.7,520.9a1.75,1.75 0 1,0 3.5,0a1.75,1.75 0 1,0 -3.5,0M44.2,526.1a1.75,1.75 0 1,0 3.5,0a1.75,1.75 0 1,0 -3.5,0M49.3,526.8a1.75,1.75 0 1,0 3.5,0a1.75,1.75 0 1,0 -3.5,0M46.3,520.2a1.75,1.75 0 1,0 3.5,0a1.75,1.75 0 1,0 -3.5,0M43.7,535.5a1.75,1.75 0 1,0 3.5,0a1.75,1.75 0 1,0 -3.5,0M49.8,519.3a1.75,1.75 0 1,0 3.5,0a1.75,1.75 0 1,0 -3.5,0M51.9,521.3a1.75,1.75 0 1,0 3.5,0a1.75,1.75 0 1,0 -3.5,0M53.5,518.2a1.75,1.75 0 1,0 3.5,0a1.75,1.75 0 1,0 -3.5,0M55.9,518.1a1.75,1.75 0 1,0 3.5,0a1.75,1.75 0 1,0 -3.5,0M53.9,507.5a1.75,1.75 0 1,0 3.5,0a1.75,1.75 0 1,0 -3.5,0M55.2,514.4a1.75,1.75 0 1,0 3.5,0a1.75,1.75 0 1,0 -3.5,0M60.4,507.5a1.75,1.75 0 1,0 3.5,0a1.75,1.75 0 1,0 -3.5,0M62.0,507.0a1.75,1.75 0 1,0 3.5,0a1.75,1.75 0 1,0 -3.5,0M62.9,510.9a1.75,1.75 0 1,0 3.5,0a1.75,1.75 0 1,0 -3.5,0M63.6,507.1a1.75,1.75 0 1,0 3.5,0a1.75,1.75 0 1,0 -3.5,0M65.4,495.3a1.75,1.75 0 1,0 3.5,0a1.75,1.75 0 1,0 -3.5,0M65.9,500.6a1.75,1.75 0 1,0 3.5,0a1.75,1.75 0 1,0 -3.5,0M70.3,494.6a1.75,1.75 0 1,0 3.5,0a1.75,1.75 0 1,0 -3.5,0M71.7,487.3a1.75,1.75 0 1,0 3.5,0a1.75,1.75 0 1,0 -3.5,0M70.6,496.0a1.75,1.75 0 1,0 3.5,0a1.75,1.75 0 1,0 -3.5,0M73.1,484.1a1.75,1.75 0 1,0 3.5,0a1.75,1.75 0 1,0 -3.5,0M75.7,486.2a1.75,1.75 0 1,0 3.5,0a1.75,1.75 0 1,0 -3.5,0M75.1,478.9a1.75,1.75 0 1,0 3.5,0a1.75,1.75 0 1,0 -3.5,0M78.2,470.3a1.75,1.75 0 1,0 3.5,0a1.75,1.75 0 1,0 -3.5,0M83.0,457.7a1.75,1.75 0 1,0 3.5,0a1.75,1.75 0 1,0 -3.5,0M77.6,465.5a1.75,1.75 0 1,0 3.5,0a1.75,1.75 0 1,0 -3.5,0M82.8,460.3a1.75,1.75 0 1,0 3.5,0a1.75,1.75 0 1,0 -3.5,0M85.5,454.6a1.75,1.75 0 1,0 3.5,0a1.75,1.75 0 1,0 -3.5,0M85.8,441.5a1.75,1.75 0 1,0 3.5,0a1.75,1.75 0 1,0 -3.5,0M86.6,451.2a1.75,1.75 0 1,0 3.5,0a1.75,1.75 0 1,0 -3.5,0M86.5,435.9a1.75,1.75 0 1,0 3.5,0a1.75,1.75 0 1,0 -3.5,0M91.8,431.6a1.75,1.75 0 1,0 3.5,0a1.75,1.75 0 1,0 -3.5,0M93.6,441.9a1.75,1.75 0 1,0 3.5,0a1.75,1.75 0 1,0 -3.5,0M99.2,432.5a1.75,1.75 0 1,0 3.5,0a1.75,1.75 0 1,0 -3.5,0M94.4,426.8a1.75,1.75 0 1,0 3.5,0a1.75,1.75 0 1,0 -3.5,0M98.7,429.8a1.75,1.75 0 1,0 3.5,0a1.75,1.75 0 1,0 -3.5,0M96.5,421.4a1.75,1.75 0 1,0 3.5,0a1.75,1.75 0 1,0 -3.5,0M101.2,426.7a1.75,1.75 0 1,0 3.5,0a1.75,1.75 0 1,0 -3.5,0M101.8,419.1a1.75,1.75 0 1,0 3.5,0a1.75,1.75 0 1,0 -3.5,0M104.9,422.9a1.75,1.75 0 1,0 3.5,0a1.75,1.75 0 1,0 -3.5,0M105.3,425.6a1.75,1.75 0 1,0 3.5,0a1.75,1.75 0 1,0 -3.5,0M109.4,425.7a1.75,1.75 0 1,0 3.5,0a1.75,1.75 0 1,0 -3.5,0M107.8,435.4a1.75,1.75 0 1,0 3.5,0a1.75,1.75 0 1,0 -3.5,0M108.6,434.9a1.75,1.75 0 1,0 3.5,0a1.75,1.75 0 1,0 -3.5,0M113.5,433.8a1.75,1.75 0 1,0 3.5,0a1.75,1.75 0 1,0 -3.5,0M112.6,443.2a1.75,1.75 0 1,0 3.5,0a1.75,1.75 0 1,0 -3.5,0M115.5,439.0a1.75,1.75 0 1,0 3.5,0a1.75,1.75 0 1,0 -3.5,0M116.7,435.9a1.75,1.75 0 1,0 3.5,0a1.75,1.75 0 1,0 -3.5,0M119.1,443.3a1.75,1.75 0 1,0 3.5,0a1.75,1.75 0 1,0 -3.5,0M115.5,445.1a1.75,1.75 0 1,0 3.5,0a1.75,1.75 0 1,0 -3.5,0M122.0,454.5a1.75,1.75 0 1,0 3.5,0a1.75,1.75 0 1,0 -3.5,0M125.0,455.9a1.75,1.75 0 1,0 3.5,0a1.75,1.75 0 1,0 -3.5,0M123.3,461.4a1.75,1.75 0 1,0 3.5,0a1.75,1.75 0 1,0 -3.5,0M122.8,469.2a1.75,1.75 0 1,0 3.5,0a1.75,1.75 0 1,0 -3.5,0M127.8,468.1a1.75,1.75 0 1,0 3.5,0a1.75,1.75 0 1,0 -3.5,0M129.1,479.4a1.75,1.75 0 1,0 3.5,0a1.75,1.75 0 1,0 -3.5,0M129.6,481.1a1.75,1.75 0 1,0 3.5,0a1.75,1.75 0 1,0 -3.5,0M136.3,485.1a1.75,1.75 0 1,0 3.5,0a1.75,1.75 0 1,0 -3.5,0M139.5,484.5a1.75,1.75 0 1,0 3.5,0a1.75,1.75 0 1,0 -3.5,0M135.9,488.5a1.75,1.75 0 1,0 3.5,0a1.75,1.75 0 1,0 -3.5,0M139.7,495.8a1.75,1.75 0 1,0 3.5,0a1.75,1.75 0 1,0 -3.5,0M134.4,492.7a1.75,1.75 0 1,0 3.5,0a1.75,1.75 0 1,0 -3.5,0M142.4,504.3a1.75,1.75 0 1,0 3.5,0a1.75,1.75 0 1,0 -3.5,0M148.0,507.0a1.75,1.75 0 1,0 3.5,0a1.75,1.75 0 1,0 -3.5,0M144.4,507.0a1.75,1.75 0 1,0 3.5,0a1.75,1.75 0 1,0 -3.5,0M146.3,511.3a1.75,1.75 0 1,0 3.5,0a1.75,1.75 0 1,0 -3.5,0M144.3,514.2a1.75,1.75 0 1,0 3.5,0a1.75,1.75 0 1,0 -3.5,0M141.1,502.5a1.75,1.75 0 1,0 3.5,0a1.75,1.75 0 1,0 -3.5,0M149.4,503.7a1.75,1.75 0 1,0 3.5,0a1.75,1.75 0 1,0 -3.5,0M156.6,498.3a1.75,1.75 0 1,0 3.5,0a1.75,1.75 0 1,0 -3.5,0M152.9,487.5a1.75,1.75 0 1,0 3.5,0a1.75,1.75 0 1,0 -3.5,0M153.2,479.7a1.75,1.75 0 1,0 3.5,0a1.75,1.75 0 1,0 -3.5,0M158.1,476.2a1.75,1.75 0 1,0 3.5,0a1.75,1.75 0 1,0 -3.5,0M158.4,479.9a1.75,1.75 0 1,0 3.5,0a1.75,1.75 0 1,0 -3.5,0M161.9,483.4a1.75,1.75 0 1,0 3.5,0a1.75,1.75 0 1,0 -3.5,0M161.1,493.9a1.75,1.75 0 1,0 3.5,0a1.75,1.75 0 1,0 -3.5,0M162.7,503.5a1.75,1.75 0 1,0 3.5,0a1.75,1.75 0 1,0 -3.5,0M167.9,503.8a1.75,1.75 0 1,0 3.5,0a1.75,1.75 0 1,0 -3.5,0M164.1,518.6a1.75,1.75 0 1,0 3.5,0a1.75,1.75 0 1,0 -3.5,0M168.6,527.0a1.75,1.75 0 1,0 3.5,0a1.75,1.75 0 1,0 -3.5,0M173.0,518.6a1.75,1.75 0 1,0 3.5,0a1.75,1.75 0 1,0 -3.5,0M173.0,529.7a1.75,1.75 0 1,0 3.5,0a1.75,1.75 0 1,0 -3.5,0M172.3,530.4a1.75,1.75 0 1,0 3.5,0a1.75,1.75 0 1,0 -3.5,0M176.4,523.2a1.75,1.75 0 1,0 3.5,0a1.75,1.75 0 1,0 -3.5,0M175.2,530.9a1.75,1.75 0 1,0 3.5,0a1.75,1.75 0 1,0 -3.5,0M177.6,532.7a1.75,1.75 0 1,0 3.5,0a1.75,1.75 0 1,0 -3.5,0M178.2,534.4a1.75,1.75 0 1,0 3.5,0a1.75,1.75 0 1,0 -3.5,0M175.9,531.3a1.75,1.75 0 1,0 3.5,0a1.75,1.75 0 1,0 -3.5,0M183.7,529.7a1.75,1.75 0 1,0 3.5,0a1.75,1.75 0 1,0 -3.5,0M183.0,537.9a1.75,1.75 0 1,0 3.5,0a1.75,1.75 0 1,0 -3.5,0M188.9,531.3a1.75,1.75 0 1,0 3.5,0a1.75,1.75 0 1,0 -3.5,0M188.7,530.5a1.75,1.75 0 1,0 3.5,0a1.75,1.75 0 1,0 -3.5,0M188.7,539.8a1.75,1.75 0 1,0 3.5,0a1.75,1.75 0 1,0 -3.5,0M188.7,537.8a1.75,1.75 0 1,0 3.5,0a1.75,1.75 0 1,0 -3.5,0M191.7,533.2a1.75,1.75 0 1,0 3.5,0a1.75,1.75 0 1,0 -3.5,0M195.9,532.8a1.75,1.75 0 1,0 3.5,0a1.75,1.75 0 1,0 -3.5,0M193.6,543.3a1.75,1.75 0 1,0 3.5,0a1.75,1.75 0 1,0 -3.5,0" fill="none" stroke="#000" stroke-width="1.5"/>
<path d="M26.6,527.3L27.4,527.3L28.1,527.3L28.9,527.4L29.6,527.4L30.4,527.4L31.1,527.4L31.9,527.5L32.6,527.5L33.4,527.5L34.1,527.5L34.9,527.5L35.6,527.6L36.4,527.6L37.1,527.6L37.9,527.6L38.6,527.7L39.4,527.7L40.1,527.7L40.9,527.7L41.6,527.8L42.4,527.8L43.1,527.8L43.9,527.8L44.6,527.8L45.4,527.9L46.1,527.9L46.9,527.9L47.6,527.9L48.4,528.0L49.1,528.0L49.9,528.0L50.6,528.0L51.4,528.0L52.1,528.1L52.9,528.1L53.6,528.1L54.4,528.1L55.1,528.2L55.9,528.2L56.6,528.2L57.4,528.2L58.1,528.2L58.9,528.3L59.6,528.3L60.4,528.3L61.1,528.3L61.9,528.4L62.6,528.4L63.4,528.4L64.1,528.4L64.8,528.5L65.6,528.5L66.3,528.5L67.1,528.5L67.8,528.5L68.6,528.6L69.3,528.6L70.1,528.6L70.8,528.6L71.6,528.7L72.3,528.7L73.1,528.7L73.8,528.7L74.6,528.7L75.3,528.8L76.1,528.8L76.8,528.8L77.6,528.8L78.3,528.9L79.1,528.9L79.8,528.9L80.6,528.9L81.3,528.9L82.1,529.0L82.8,529.0L83.6,529.0L84.3,529.0L85.1,529.1L85.8,529.1L86.6,529.1L87.3,529.1L88.1,529.2L88.8,529.2L89.6,529.2L90.3,529.2L91.1,529.2L91.8,529.3L92.6,529.3L93.3,529.3L94.1,529.3L94.8,529.4L95.6,529.4L96.3,529.4L97.1,529.4L97.8,529.4L98.6,529.5L99.3,529.5L100.1,529.5L100.8,529.5L101.6,529.6L102.3,529.6L103.1,529.6L103.8,529.6L104.6,529.6L105.3,529.7L106.1,529.7L106.8,529.7L107.6,529.7L108.3,529.8L109.1,529.8L109.8,529.8L110.6,529.8L111.3,529.9L112.1,529.9L112.8,529.9L113.6,529.9L114.3,529.9L115.1,530.0L115.8,530.0L116.6,530.0L117.3,530.0L118.1,530.1L118.8,530.1L119.6,530.1L120.3,530.1L121.1,530.1L121.8,530.2L122.6,530.2L123.3,530.2L124.1,530.2L124.8,530.3L125.6,530.3L126.3,530.3L127.1,530.3L127.8,530.3L128.6,530.4L129.3,530.4L130.1,530.4L130.8,530.4L131.6,530.5L132.3,530.5L133.1,530.5L133.8,530.5L134.6,530.6L135.3,530.6L136.1,530.6L136.8,530.6L137.6,530.6L138.3,530.7L139.1,530.7L139.8,530.7L140.6,530.7L141.3,530.8L142.1,530.8L142.8,530.8L143.6,530.8L144.3,530.8L145.1,530.9L145.8,530.9L146.6,530.9L147.3,530.9L148.1,531.0L148.8,531.0L149.6,531.0L150.3,531.0L151.1,531.0L151.8,531.1L152.6,531.1L153.3,531.1L154.1,531.1L154.8,531.2L155.6,531.2L156.3,531.2L157.1,531.2L157.8,531.3L158.6,531.3L159.3,531.3L160.1,531.3L160.8,531.3L161.6,531.4L162.3,531.4L163.1,531.4L163.8,531.4L164.6,531.5L165.3,531.5L166.1,531.5L166.8,531.5L167.6,531.5L168.3,531.6L169.1,531.6L169.8,531.6L170.6,531.6L171.3,531.7L172.1,531.7L172.8,531.7L173.6,531.7L174.3,531.7L175.1,531.8L175.8,531.8L176.6,531.8L177.3,531.8L178.1,531.9L178.8,531.9L179.6,531.9L180.3,531.9L181.1,532.0L181.8,532.0L182.6,532.0L183.3,532.0L184.1,532.0L184.8,532.1L185.6,532.1L186.3,532.1L187.1,532.1L187.8,532.2L188.6,532.2L189.3,532.2L190.1,532.2L190.8,532.2L191.6,532.3L192.3,532.3L193.1,532.3L193.8,532.3L194.6,532.3L195.3,532.4" fill="none" stroke="#5a8a1e" stroke-width="1.45"/>
<path d="M139.1,494.8L139.8,496.5L140.6,498.1L141.3,499.6L142.1,501.1L142.8,502.6L143.6,504.0L144.3,505.4L145.1,506.8L145.8,508.0L146.6,509.3L147.3,510.5L148.1,511.6L148.8,512.8L149.6,513.8L150.3,514.8L151.1,515.8L151.8,516.8L152.6,517.6L153.3,518.5L154.1,519.3L154.8,520.1L155.6,520.8L156.3,521.5L157.1,522.2L157.8,522.8L158.6,523.4L159.3,524.0L160.1,524.5L160.8,525.0L161.6,525.5L162.3,525.9L163.1,526.4L163.8,526.8L164.6,527.1L165.3,527.5L166.1,527.8L166.8,528.1L167.6,528.4L168.3,528.7L169.1,529.0L169.8,529.2L170.6,529.4L171.3,529.6L172.1,529.8L172.8,530.0L173.6,530.2L174.3,530.3L175.1,530.5L175.8,530.6L176.6,530.7L177.3,530.9L178.1,531.0L178.8,531.1L179.6,531.2L180.3,531.3L181.1,531.4L181.8,531.4L182.6,531.5L183.3,531.6L184.1,531.6L184.8,531.7" fill="none" stroke="#1a1ab0" stroke-width="1.45"/>
<path d="M143.6,530.3L144.3,530.0L145.1,529.7L145.8,529.2L146.6,528.5L147.3,527.5L148.1,526.3L148.8,524.8L149.6,522.9L150.3,520.6L151.1,517.8L151.8,514.8L152.6,511.3L153.3,507.7L154.1,503.8L154.8,500.0L155.6,496.4L156.3,493.1L157.1,490.3L157.8,488.1L158.6,486.8L159.3,486.3L160.1,486.7L160.8,488.0L161.6,490.1L162.3,492.8L163.1,496.1L163.8,499.8L164.6,503.6L165.3,507.5L166.1,511.3L166.8,514.8L167.6,517.9L168.3,520.8L169.1,523.2L169.8,525.2L170.6,526.8L171.3,528.1L172.1,529.1L172.8,529.9L173.6,530.5L174.3,530.9L175.1,531.2L175.8,531.4" fill="none" stroke="#3a8ee0" stroke-width="1.45"/>
<path d="M26.6,527.1L27.4,527.0L28.1,527.0L28.9,527.0L29.6,527.0L30.4,527.0L31.1,526.9L31.9,526.9L32.6,526.9L33.4,526.8L34.1,526.8L34.9,526.7L35.6,526.6L36.4,526.5L37.1,526.5L37.9,526.4L38.6,526.2L39.4,526.1L40.1,526.0L40.9,525.8L41.6,525.7L42.4,525.5L43.1,525.3L43.9,525.1L44.6,524.8L45.4,524.6L46.1,524.3L46.9,524.0L47.6,523.7L48.4,523.3L49.1,522.9L49.9,522.5L50.6,522.1L51.4,521.6L52.1,521.1L52.9,520.6L53.6,520.0L54.4,519.4L55.1,518.7L55.9,518.0L56.6,517.3L57.4,516.5L58.1,515.7L58.9,514.8L59.6,513.9L60.4,512.9L61.1,511.9L61.9,510.8L62.6,509.7L63.4,508.6L64.1,507.3L64.8,506.1L65.6,504.7L66.3,503.4L67.1,501.9L67.8,500.5L68.6,498.9L69.3,497.3L70.1,495.7L70.8,494.0L71.6,492.3L72.3,490.5L73.1,488.7L73.8,486.8L74.6,484.9L75.3,483.0L76.1,481.0L76.8,479.0L77.6,477.0L78.3,474.9L79.1,472.9L79.8,470.8L80.6,468.7L81.3,466.6L82.1,464.5L82.8,462.3L83.6,460.2L84.3,458.2L85.1,456.1L85.8,454.0L86.6,452.0L87.3,450.0L88.1,448.1L88.8,446.2L89.6,444.4L90.3,442.6L91.1,440.8L91.8,439.2L92.6,437.6L93.3,436.1L94.1,434.6L94.8,433.3L95.6,432.0L96.3,430.9L97.1,429.8L97.8,428.8L98.6,428.0L99.3,427.2L100.1,426.6L100.8,426.1L101.6,425.7L102.3,425.4L103.1,425.2L103.8,425.1L104.6,425.2L105.3,425.3L106.1,425.6L106.8,426.0L107.6,426.4L108.3,427.0L109.1,427.6L109.8,428.4L110.6,429.2L111.3,430.1L112.1,431.2L112.8,432.3L113.6,433.5L114.3,434.7L115.1,436.1L115.8,437.5L116.6,439.0L117.3,440.5L118.1,442.1L118.8,443.8L119.6,445.5L120.3,447.3L121.1,449.1L121.8,450.9L122.6,452.8L123.3,454.7L124.1,456.6L124.8,458.6L125.6,460.6L126.3,462.6L127.1,464.6L127.8,466.6L128.6,468.6L129.3,470.6L130.1,472.6L130.8,474.5L131.6,476.5L132.3,478.5L133.1,480.4L133.8,482.3L134.6,484.2L135.3,486.0L136.1,487.9L136.8,489.7L137.6,491.4L138.3,493.1L139.1,494.8L139.8,496.4L140.6,498.0L141.3,499.5L142.1,500.9L142.8,502.3L143.6,503.5L144.3,504.6L145.1,505.6L145.8,506.3L146.6,506.9L147.3,507.1L148.1,507.0L148.8,506.5L149.6,505.7L150.3,504.4L151.1,502.6L151.8,500.4L152.6,497.9L153.3,495.0L154.1,492.0L154.8,489.0L155.6,486.0L156.3,483.4L157.1,481.2L157.8,479.7L158.6,478.9L159.3,479.0L160.1,479.9L160.8,481.7L161.6,484.2L162.3,487.4L163.1,491.1L163.8,495.1L164.6,499.3L165.3,503.5L166.1,507.6L166.8,511.4L167.6,514.8L168.3,517.9L169.1,520.5L169.8,522.7L170.6,524.6L171.3,526.1L172.1,527.3L172.8,528.2L173.6,528.9L174.3,529.5L175.1,529.9L175.8,530.2L176.6,530.5L177.3,530.7L178.1,530.9L178.8,531.0L179.6,531.1L180.3,531.2L181.1,531.3L181.8,531.4L182.6,531.5L183.3,531.6L184.1,531.6L184.8,531.7L185.6,531.8L186.3,531.8L187.1,531.9L187.8,531.9L188.6,532.0L189.3,532.0L190.1,532.1L190.8,532.1L191.6,532.1L192.3,532.2L193.1,532.2L193.8,532.2L194.6,532.3L195.3,532.3" fill="none" stroke="#f0f" stroke-width="1.25"/>
</g>
<clipPath id="a5"><rect x="27.4" y="541.0" width="167.8" height="145.7"/></clipPath>
<g clip-path="url(#a5)">
<path d="M24.9,670.4a1.75,1.75 0 1,0 3.5,0a1.75,1.75 0 1,0 -3.5,0M26.6,667.4a1.75,1.75 0 1,0 3.5,0a1.75,1.75 0 1,0 -3.5,0M26.6,675.0a1.75,1.75 0 1,0 3.5,0a1.75,1.75 0 1,0 -3.5,0M25.5,674.3a1.75,1.75 0 1,0 3.5,0a1.75,1.75 0 1,0 -3.5,0M27.3,674.9a1.75,1.75 0 1,0 3.5,0a1.75,1.75 0 1,0 -3.5,0M31.1,667.2a1.75,1.75 0 1,0 3.5,0a1.75,1.75 0 1,0 -3.5,0M35.9,668.3a1.75,1.75 0 1,0 3.5,0a1.75,1.75 0 1,0 -3.5,0M34.9,670.3a1.75,1.75 0 1,0 3.5,0a1.75,1.75 0 1,0 -3.5,0M40.9,672.2a1.75,1.75 0 1,0 3.5,0a1.75,1.75 0 1,0 -3.5,0M40.0,669.2a1.75,1.75 0 1,0 3.5,0a1.75,1.75 0 1,0 -3.5,0M41.4,674.9a1.75,1.75 0 1,0 3.5,0a1.75,1.75 0 1,0 -3.5,0M48.0,661.7a1.75,1.75 0 1,0 3.5,0a1.75,1.75 0 1,0 -3.5,0M39.9,678.4a1.75,1.75 0 1,0 3.5,0a1.75,1.75 0 1,0 -3.5,0M46.9,666.3a1.75,1.75 0 1,0 3.5,0a1.75,1.75 0 1,0 -3.5,0M49.1,670.2a1.75,1.75 0 1,0 3.5,0a1.75,1.75 0 1,0 -3.5,0M47.0,662.7a1.75,1.75 0 1,0 3.5,0a1.75,1.75 0 1,0 -3.5,0M53.3,662.9a1.75,1.75 0 1,0 3.5,0a1.75,1.75 0 1,0 -3.5,0M50.5,655.1a1.75,1.75 0 1,0 3.5,0a1.75,1.75 0 1,0 -3.5,0M50.2,658.2a1.75,1.75 0 1,0 3.5,0a1.75,1.75 0 1,0 -3.5,0M55.2,654.5a1.75,1.75 0 1,0 3.5,0a1.75,1.75 0 1,0 -3.5,0M56.3,655.3a1.75,1.75 0 1,0 3.5,0a1.75,1.75 0 1,0 -3.5,0M58.7,645.5a1.75,1.75 0 1,0 3.5,0a1.75,1.75 0 1,0 -3.5,0M59.8,646.3a1.75,1.75 0 1,0 3.5,0a1.75,1.75 0 1,0 -3.5,0M64.6,643.0a1.75,1.75 0 1,0 3.5,0a1.75,1.75 0 1,0 -3.5,0M68.4,645.0a1.75,1.75 0 1,0 3.5,0a1.75,1.75 0 1,0 -3.5,0M65.4,631.1a1.75,1.75 0 1,0 3.5,0a1.75,1.75 0 1,0 -3.5,0M72.2,618.3a1.75,1.75 0 1,0 3.5,0a1.75,1.75 0 1,0 -3.5,0M69.7,622.6a1.75,1.75 0 1,0 3.5,0a1.75,1.75 0 1,0 -3.5,0M68.5,624.2a1.75,1.75 0 1,0 3.5,0a1.75,1.75 0 1,0 -3.5,0M73.1,619.2a1.75,1.75 0 1,0 3.5,0a1.75,1.75 0 1,0 -3.5,0M75.5,603.0a1.75,1.75 0 1,0 3.5,0a1.75,1.75 0 1,0 -3.5,0M72.4,613.3a1.75,1.75 0 1,0 3.5,0a1.75,1.75 0 1,0 -3.5,0M78.7,606.7a1.75,1.75 0 1,0 3.5,0a1.75,1.75 0 1,0 -3.5,0M80.9,600.4a1.75,1.75 0 1,0 3.5,0a1.75,1.75 0 1,0 -3.5,0M81.2,600.2a1.75,1.75 0 1,0 3.5,0a1.75,1.75 0 1,0 -3.5,0M82.4,593.8a1.75,1.75 0 1,0 3.5,0a1.75,1.75 0 1,0 -3.5,0M83.3,589.2a1.75,1.75 0 1,0 3.5,0a1.75,1.75 0 1,0 -3.5,0M90.6,581.5a1.75,1.75 0 1,0 3.5,0a1.75,1.75 0 1,0 -3.5,0M88.1,581.2a1.75,1.75 0 1,0 3.5,0a1.75,1.75 0 1,0 -3.5,0M88.4,570.5a1.75,1.75 0 1,0 3.5,0a1.75,1.75 0 1,0 -3.5,0M93.9,575.0a1.75,1.75 0 1,0 3.5,0a1.75,1.75 0 1,0 -3.5,0M94.7,574.5a1.75,1.75 0 1,0 3.5,0a1.75,1.75 0 1,0 -3.5,0M98.2,571.1a1.75,1.75 0 1,0 3.5,0a1.75,1.75 0 1,0 -3.5,0M95.7,568.8a1.75,1.75 0 1,0 3.5,0a1.75,1.75 0 1,0 -3.5,0M98.8,575.2a1.75,1.75 0 1,0 3.5,0a1.75,1.75 0 1,0 -3.5,0M99.1,570.0a1.75,1.75 0 1,0 3.5,0a1.75,1.75 0 1,0 -3.5,0M103.4,571.3a1.75,1.75 0 1,0 3.5,0a1.75,1.75 0 1,0 -3.5,0M101.1,576.1a1.75,1.75 0 1,0 3.5,0a1.75,1.75 0 1,0 -3.5,0M105.8,578.8a1.75,1.75 0 1,0 3.5,0a1.75,1.75 0 1,0 -3.5,0M108.9,574.4a1.75,1.75 0 1,0 3.5,0a1.75,1.75 0 1,0 -3.5,0M108.1,581.2a1.75,1.75 0 1,0 3.5,0a1.75,1.75 0 1,0 -3.5,0M113.5,590.2a1.75,1.75 0 1,0 3.5,0a1.75,1.75 0 1,0 -3.5,0M113.2,586.8a1.75,1.75 0 1,0 3.5,0a1.75,1.75 0 1,0 -3.5,0M119.0,590.1a1.75,1.75 0 1,0 3.5,0a1.75,1.75 0 1,0 -3.5,0M118.3,596.5a1.75,1.75 0 1,0 3.5,0a1.75,1.75 0 1,0 -3.5,0M119.1,600.4a1.75,1.75 0 1,0 3.5,0a1.75,1.75 0 1,0 -3.5,0M113.5,619.5a1.75,1.75 0 1,0 3.5,0a1.75,1.75 0 1,0 -3.5,0M121.9,611.0a1.75,1.75 0 1,0 3.5,0a1.75,1.75 0 1,0 -3.5,0M121.0,617.5a1.75,1.75 0 1,0 3.5,0a1.75,1.75 0 1,0 -3.5,0M124.3,633.5a1.75,1.75 0 1,0 3.5,0a1.75,1.75 0 1,0 -3.5,0M127.7,619.2a1.75,1.75 0 1,0 3.5,0a1.75,1.75 0 1,0 -3.5,0M130.1,623.4a1.75,1.75 0 1,0 3.5,0a1.75,1.75 0 1,0 -3.5,0M129.6,633.4a1.75,1.75 0 1,0 3.5,0a1.75,1.75 0 1,0 -3.5,0M131.2,646.7a1.75,1.75 0 1,0 3.5,0a1.75,1.75 0 1,0 -3.5,0M128.9,637.4a1.75,1.75 0 1,0 3.5,0a1.75,1.75 0 1,0 -3.5,0M136.0,653.9a1.75,1.75 0 1,0 3.5,0a1.75,1.75 0 1,0 -3.5,0M137.9,647.2a1.75,1.75 0 1,0 3.5,0a1.75,1.75 0 1,0 -3.5,0M139.2,656.8a1.75,1.75 0 1,0 3.5,0a1.75,1.75 0 1,0 -3.5,0M138.8,645.8a1.75,1.75 0 1,0 3.5,0a1.75,1.75 0 1,0 -3.5,0M142.8,664.0a1.75,1.75 0 1,0 3.5,0a1.75,1.75 0 1,0 -3.5,0M137.4,666.0a1.75,1.75 0 1,0 3.5,0a1.75,1.75 0 1,0 -3.5,0M145.6,664.2a1.75,1.75 0 1,0 3.5,0a1.75,1.75 0 1,0 -3.5,0M144.2,677.6a1.75,1.75 0 1,0 3.5,0a1.75,1.75 0 1,0 -3.5,0M148.0,664.4a1.75,1.75 0 1,0 3.5,0a1.75,1.75 0 1,0 -3.5,0M148.7,671.4a1.75,1.75 0 1,0 3.5,0a1.75,1.75 0 1,0 -3.5,0M149.6,673.4a1.75,1.75 0 1,0 3.5,0a1.75,1.75 0 1,0 -3.5,0M151.9,669.5a1.75,1.75 0 1,0 3.5,0a1.75,1.75 0 1,0 -3.5,0M153.2,669.3a1.75,1.75 0 1,0 3.5,0a1.75,1.75 0 1,0 -3.5,0M158.9,660.8a1.75,1.75 0 1,0 3.5,0a1.75,1.75 0 1,0 -3.5,0M156.9,670.6a1.75,1.75 0 1,0 3.5,0a1.75,1.75 0 1,0 -3.5,0M162.0,670.3a1.75,1.75 0 1,0 3.5,0a1.75,1.75 0 1,0 -3.5,0M161.3,664.7a1.75,1.75 0 1,0 3.5,0a1.75,1.75 0 1,0 -3.5,0M164.4,672.7a1.75,1.75 0 1,0 3.5,0a1.75,1.75 0 1,0 -3.5,0M160.3,668.8a1.75,1.75 0 1,0 3.5,0a1.75,1.75 0 1,0 -3.5,0M167.4,677.2a1.75,1.75 0 1,0 3.5,0a1.75,1.75 0 1,0 -3.5,0M167.7,671.8a1.75,1.75 0 1,0 3.5,0a1.75,1.75 0 1,0 -3.5,0M169.1,673.7a1.75,1.75 0 1,0 3.5,0a1.75,1.75 0 1,0 -3.5,0M170.1,668.1a1.75,1.75 0 1,0 3.5,0a1.75,1.75 0 1,0 -3.5,0M172.1,671.0a1.75,1.75 0 1,0 3.5,0a1.75,1.75 0 1,0 -3.5,0M176.5,669.0a1.75,1.75 0 1,0 3.5,0a1.75,1.75 0 1,0 -3.5,0M178.3,669.0a1.75,1.75 0 1,0 3.5,0a1.75,1.75 0 1,0 -3.5,0M179.3,671.2a1.75,1.75 0 1,0 3.5,0a1.75,1.75 0 1,0 -3.5,0M180.7,683.7a1.75,1.75 0 1,0 3.5,0a1.75,1.75 0 1,0 -3.5,0M182.1,673.7a1.75,1.75 0 1,0 3.5,0a1.75,1.75 0 1,0 -3.5,0M179.8,678.6a1.75,1.75 0 1,0 3.5,0a1.75,1.75 0 1,0 -3.5,0M185.7,675.2a1.75,1.75 0 1,0 3.5,0a1.75,1.75 0 1,0 -3.5,0M187.2,676.2a1.75,1.75 0 1,0 3.5,0a1.75,1.75 0 1,0 -3.5,0M190.4,682.5a1.75,1.75 0 1,0 3.5,0a1.75,1.75 0 1,0 -3.5,0M191.7,683.5a1.75,1.75 0 1,0 3.5,0a1.75,1.75 0 1,0 -3.5,0M192.1,677.7a1.75,1.75 0 1,0 3.5,0a1.75,1.75 0 1,0 -3.5,0M193.2,677.9a1.75,1.75 0 1,0 3.5,0a1.75,1.75 0 1,0 -3.5,0M191.8,678.4a1.75,1.75 0 1,0 3.5,0a1.75,1.75 0 1,0 -3.5,0" fill="none" stroke="#000" stroke-width="1.5"/>
<path d="M26.6,676.4L27.4,676.4L28.1,676.4L28.9,676.4L29.6,676.5L30.4,676.5L31.1,676.5L31.9,676.5L32.6,676.5L33.4,676.5L34.1,676.5L34.9,676.5L35.6,676.6L36.4,676.6L37.1,676.6L37.9,676.6L38.6,676.6L39.4,676.6L40.1,676.6L40.9,676.7L41.6,676.7L42.4,676.7L43.1,676.7L43.9,676.7L44.6,676.7L45.4,676.7L46.1,676.7L46.9,676.8L47.6,676.8L48.4,676.8L49.1,676.8L49.9,676.8L50.6,676.8L51.4,676.8L52.1,676.9L52.9,676.9L53.6,676.9L54.4,676.9L55.1,676.9L55.9,676.9L56.6,676.9L57.4,676.9L58.1,677.0L58.9,677.0L59.6,677.0L60.4,677.0L61.1,677.0L61.9,677.0L62.6,677.0L63.4,677.1L64.1,677.1L64.8,677.1L65.6,677.1L66.3,677.1L67.1,677.1L67.8,677.1L68.6,677.1L69.3,677.2L70.1,677.2L70.8,677.2L71.6,677.2L72.3,677.2L73.1,677.2L73.8,677.2L74.6,677.3L75.3,677.3L76.1,677.3L76.8,677.3L77.6,677.3L78.3,677.3L79.1,677.3L79.8,677.3L80.6,677.4L81.3,677.4L82.1,677.4L82.8,677.4L83.6,677.4L84.3,677.4L85.1,677.4L85.8,677.4L86.6,677.5L87.3,677.5L88.1,677.5L88.8,677.5L89.6,677.5L90.3,677.5L91.1,677.5L91.8,677.6L92.6,677.6L93.3,677.6L94.1,677.6L94.8,677.6L95.6,677.6L96.3,677.6L97.1,677.6L97.8,677.7L98.6,677.7L99.3,677.7L100.1,677.7L100.8,677.7L101.6,677.7L102.3,677.7L103.1,677.8L103.8,677.8L104.6,677.8L105.3,677.8L106.1,677.8L106.8,677.8L107.6,677.8L108.3,677.8L109.1,677.9L109.8,677.9L110.6,677.9L111.3,677.9L112.1,677.9L112.8,677.9L113.6,677.9L114.3,678.0L115.1,678.0L115.8,678.0L116.6,678.0L117.3,678.0L118.1,678.0L118.8,678.0L119.6,678.0L120.3,678.1L121.1,678.1L121.8,678.1L122.6,678.1L123.3,678.1L124.1,678.1L124.8,678.1L125.6,678.2L126.3,678.2L127.1,678.2L127.8,678.2L128.6,678.2L129.3,678.2L130.1,678.2L130.8,678.2L131.6,678.3L132.3,678.3L133.1,678.3L133.8,678.3L134.6,678.3L135.3,678.3L136.1,678.3L136.8,678.4L137.6,678.4L138.3,678.4L139.1,678.4L139.8,678.4L140.6,678.4L141.3,678.4L142.1,678.4L142.8,678.5L143.6,678.5L144.3,678.5L145.1,678.5L145.8,678.5L146.6,678.5L147.3,678.5L148.1,678.6L148.8,678.6L149.6,678.6L150.3,678.6L151.1,678.6L151.8,678.6L152.6,678.6L153.3,678.6L154.1,678.7L154.8,678.7L155.6,678.7L156.3,678.7L157.1,678.7L157.8,678.7L158.6,678.7L159.3,678.8L160.1,678.8L160.8,678.8L161.6,678.8L162.3,678.8L163.1,678.8L163.8,678.8L164.6,678.8L165.3,678.9L166.1,678.9L166.8,678.9L167.6,678.9L168.3,678.9L169.1,678.9L169.8,678.9L170.6,679.0L171.3,679.0L172.1,679.0L172.8,679.0L173.6,679.0L174.3,679.0L175.1,679.0L175.8,679.0L176.6,679.1L177.3,679.1L178.1,679.1L178.8,679.1L179.6,679.1L180.3,679.1L181.1,679.1L181.8,679.1L182.6,679.2L183.3,679.2L184.1,679.2L184.8,679.2L185.6,679.2L186.3,679.2L187.1,679.2L187.8,679.3L188.6,679.3L189.3,679.3L190.1,679.3L190.8,679.3L191.6,679.3L192.3,679.3L193.1,679.3L193.8,679.4L194.6,679.4L195.3,679.4" fill="none" stroke="#5a8a1e" stroke-width="1.45"/>
<path d="M26.6,675.7L27.4,675.6L28.1,675.6L28.9,675.5L29.6,675.4L30.4,675.3L31.1,675.2L31.9,675.1L32.6,674.9L33.4,674.8L34.1,674.7L34.9,674.5L35.6,674.3L36.4,674.1L37.1,673.9L37.9,673.7L38.6,673.4L39.4,673.1L40.1,672.8L40.9,672.5L41.6,672.2L42.4,671.8L43.1,671.4L43.9,671.0L44.6,670.5L45.4,670.0L46.1,669.5L46.9,669.0L47.6,668.4L48.4,667.8L49.1,667.1L49.9,666.4L50.6,665.7L51.4,664.9L52.1,664.1L52.9,663.2L53.6,662.3L54.4,661.3L55.1,660.3L55.9,659.2L56.6,658.1L57.4,657.0L58.1,655.8L58.9,654.5L59.6,653.2L60.4,651.9L61.1,650.5L61.9,649.0L62.6,647.5L63.4,645.9L64.1,644.3L64.8,642.7L65.6,641.0L66.3,639.2L67.1,637.4L67.8,635.6L68.6,633.7L69.3,631.8L70.1,629.9L70.8,627.9L71.6,625.9L72.3,623.9L73.1,621.9L73.8,619.8L74.6,617.7L75.3,615.6L76.1,613.5L76.8,611.4L77.6,609.3L78.3,607.2L79.1,605.1L79.8,603.1L80.6,601.0L81.3,599.0L82.1,597.0L82.8,595.1L83.6,593.2L84.3,591.3L85.1,589.5L85.8,587.7L86.6,586.0L87.3,584.4L88.1,582.9L88.8,581.4L89.6,580.0L90.3,578.7L91.1,577.4L91.8,576.3L92.6,575.3L93.3,574.3L94.1,573.5L94.8,572.8L95.6,572.1L96.3,571.6L97.1,571.2L97.8,570.9L98.6,570.8L99.3,570.7L100.1,570.7L100.8,570.9L101.6,571.2L102.3,571.6L103.1,572.1L103.8,572.7L104.6,573.4L105.3,574.2L106.1,575.1L106.8,576.1L107.6,577.3L108.3,578.5L109.1,579.8L109.8,581.2L110.6,582.7L111.3,584.2L112.1,585.8L112.8,587.5L113.6,589.3L114.3,591.1L115.1,593.0L115.8,594.9L116.6,596.8L117.3,598.8L118.1,600.9L118.8,602.9L119.6,605.0L120.3,607.1L121.1,609.2L121.8,611.4L122.6,613.5L123.3,615.6L124.1,617.7L124.8,619.8L125.6,622.0L126.3,624.0L127.1,626.1L127.8,628.1L128.6,630.1L129.3,632.1L130.1,634.1L130.8,636.0L131.6,637.9L132.3,639.7L133.1,641.5L133.8,643.2L134.6,644.9L135.3,646.6L136.1,648.2L136.8,649.7L137.6,651.2L138.3,652.7L139.1,654.1L139.8,655.4L140.6,656.7L141.3,658.0L142.1,659.2L142.8,660.3L143.6,661.4L144.3,662.5L145.1,663.5L145.8,664.5L146.6,665.4L147.3,666.2L148.1,667.1L148.8,667.9L149.6,668.6L150.3,669.3L151.1,670.0L151.8,670.6L152.6,671.2L153.3,671.7L154.1,672.3L154.8,672.8L155.6,673.2L156.3,673.7L157.1,674.1L157.8,674.4L158.6,674.8L159.3,675.1L160.1,675.4L160.8,675.7L161.6,676.0L162.3,676.2L163.1,676.5L163.8,676.7L164.6,676.9L165.3,677.1L166.1,677.3L166.8,677.4L167.6,677.6L168.3,677.7L169.1,677.8L169.8,677.9L170.6,678.1L171.3,678.2L172.1,678.2L172.8,678.3L173.6,678.4L174.3,678.5L175.1,678.5L175.8,678.6L176.6,678.7L177.3,678.7L178.1,678.8L178.8,678.8L179.6,678.9L180.3,678.9L181.1,678.9L181.8,679.0L182.6,679.0L183.3,679.0L184.1,679.1L184.8,679.1L185.6,679.1L186.3,679.1L187.1,679.2L187.8,679.2L188.6,679.2L189.3,679.2L190.1,679.2L190.8,679.3L191.6,679.3L192.3,679.3L193.1,679.3L193.8,679.3L194.6,679.3L195.3,679.4" fill="none" stroke="#f0f" stroke-width="1.25"/>
</g>
<clipPath id="b1"><rect x="211.8" y="22.9" width="164.1" height="129.1"/></clipPath>
<g clip-path="url(#b1)">
<path d="M210.1,100.6L211.2,100.1L212.2,101.7L213.3,103.5L214.4,101.7L215.5,103.1L216.6,100.3L217.7,103.4L218.8,103.8L219.9,104.5L221.0,104.2L222.1,105.2L223.2,105.2L224.3,103.3L225.4,105.6L226.5,104.8L227.6,106.2L228.7,106.9L229.8,105.0L230.9,106.7L232.0,106.7L233.1,105.3L234.2,106.6L235.3,104.1L236.4,107.8L237.5,104.8L238.6,105.4L239.7,106.1L240.8,103.6L241.9,103.4L243.0,103.1L244.1,102.5 M257.3,82.5L258.4,81.5L259.5,83.7L260.6,82.6L261.7,84.0L262.8,84.5L263.9,83.2L265.0,85.4L266.1,83.7L267.2,84.2L268.4,86.4L269.5,85.4L270.6,86.6L271.7,85.1L272.8,87.3L273.9,87.1L275.0,86.4L276.1,86.1L277.2,83.9L278.3,84.8L279.4,83.8L280.5,85.6 M321.2,70.8L322.3,71.7L323.4,71.1L324.5,71.5L325.6,72.9L326.7,71.7 M342.1,140.4L343.2,141.0L344.3,141.6L345.4,141.3L346.5,142.2L347.6,139.7L348.7,141.8L349.8,140.4L350.9,141.3L352.0,141.4L353.1,141.2L354.2,142.6L355.3,143.0L356.4,141.1L357.5,141.1L358.6,140.9L359.7,142.0L360.8,141.9L361.9,141.9L363.0,142.6L364.1,140.4L365.2,141.9L366.3,140.4L367.4,141.9L368.5,141.4L369.6,142.9L370.7,141.1L371.8,142.4L372.9,142.1L374.0,142.7L375.1,142.5L376.2,142.3L377.3,141.5L378.4,142.3" fill="none" stroke="#000" stroke-width="3.0" stroke-linejoin="round" stroke-linecap="round"/>
<path d="M208.3,100.6a1.75,1.75 0 1,0 3.5,0a1.75,1.75 0 1,0 -3.5,0M209.4,100.1a1.75,1.75 0 1,0 3.5,0a1.75,1.75 0 1,0 -3.5,0M210.5,101.7a1.75,1.75 0 1,0 3.5,0a1.75,1.75 0 1,0 -3.5,0M211.6,103.5a1.75,1.75 0 1,0 3.5,0a1.75,1.75 0 1,0 -3.5,0M212.7,101.7a1.75,1.75 0 1,0 3.5,0a1.75,1.75 0 1,0 -3.5,0M213.8,103.1a1.75,1.75 0 1,0 3.5,0a1.75,1.75 0 1,0 -3.5,0M214.9,100.3a1.75,1.75 0 1,0 3.5,0a1.75,1.75 0 1,0 -3.5,0M216.0,103.4a1.75,1.75 0 1,0 3.5,0a1.75,1.75 0 1,0 -3.5,0M217.1,103.8a1.75,1.75 0 1,0 3.5,0a1.75,1.75 0 1,0 -3.5,0M218.2,104.5a1.75,1.75 0 1,0 3.5,0a1.75,1.75 0 1,0 -3.5,0M219.3,104.2a1.75,1.75 0 1,0 3.5,0a1.75,1.75 0 1,0 -3.5,0M220.4,105.2a1.75,1.75 0 1,0 3.5,0a1.75,1.75 0 1,0 -3.5,0M221.5,105.2a1.75,1.75 0 1,0 3.5,0a1.75,1.75 0 1,0 -3.5,0M222.6,103.3a1.75,1.75 0 1,0 3.5,0a1.75,1.75 0 1,0 -3.5,0M223.7,105.6a1.75,1.75 0 1,0 3.5,0a1.75,1.75 0 1,0 -3.5,0M224.8,104.8a1.75,1.75 0 1,0 3.5,0a1.75,1.75 0 1,0 -3.5,0M225.9,106.2a1.75,1.75 0 1,0 3.5,0a1.75,1.75 0 1,0 -3.5,0M227.0,106.9a1.75,1.75 0 1,0 3.5,0a1.75,1.75 0 1,0 -3.5,0M228.1,105.0a1.75,1.75 0 1,0 3.5,0a1.75,1.75 0 1,0 -3.5,0M229.2,106.7a1.75,1.75 0 1,0 3.5,0a1.75,1.75 0 1,0 -3.5,0M230.3,106.7a1.75,1.75 0 1,0 3.5,0a1.75,1.75 0 1,0 -3.5,0M231.4,105.3a1.75,1.75 0 1,0 3.5,0a1.75,1.75 0 1,0 -3.5,0M232.5,106.6a1.75,1.75 0 1,0 3.5,0a1.75,1.75 0 1,0 -3.5,0M233.6,104.1a1.75,1.75 0 1,0 3.5,0a1.75,1.75 0 1,0 -3.5,0M234.7,107.8a1.75,1.75 0 1,0 3.5,0a1.75,1.75 0 1,0 -3.5,0M235.8,104.8a1.75,1.75 0 1,0 3.5,0a1.75,1.75 0 1,0 -3.5,0M236.9,105.4a1.75,1.75 0 1,0 3.5,0a1.75,1.75 0 1,0 -3.5,0M238.0,106.1a1.75,1.75 0 1,0 3.5,0a1.75,1.75 0 1,0 -3.5,0M239.1,103.6a1.75,1.75 0 1,0 3.5,0a1.75,1.75 0 1,0 -3.5,0M240.2,103.4a1.75,1.75 0 1,0 3.5,0a1.75,1.75 0 1,0 -3.5,0M241.3,103.1a1.75,1.75 0 1,0 3.5,0a1.75,1.75 0 1,0 -3.5,0M242.4,102.5a1.75,1.75 0 1,0 3.5,0a1.75,1.75 0 1,0 -3.5,0M243.5,99.6a1.75,1.75 0 1,0 3.5,0a1.75,1.75 0 1,0 -3.5,0M244.6,98.7a1.75,1.75 0 1,0 3.5,0a1.75,1.75 0 1,0 -3.5,0M245.7,97.9a1.75,1.75 0 1,0 3.5,0a1.75,1.75 0 1,0 -3.5,0M246.8,96.4a1.75,1.75 0 1,0 3.5,0a1.75,1.75 0 1,0 -3.5,0M247.9,93.2a1.75,1.75 0 1,0 3.5,0a1.75,1.75 0 1,0 -3.5,0M249.0,90.2a1.75,1.75 0 1,0 3.5,0a1.75,1.75 0 1,0 -3.5,0M250.1,90.8a1.75,1.75 0 1,0 3.5,0a1.75,1.75 0 1,0 -3.5,0M251.2,88.4a1.75,1.75 0 1,0 3.5,0a1.75,1.75 0 1,0 -3.5,0M252.3,87.6a1.75,1.75 0 1,0 3.5,0a1.75,1.75 0 1,0 -3.5,0M253.4,85.9a1.75,1.75 0 1,0 3.5,0a1.75,1.75 0 1,0 -3.5,0M254.5,84.2a1.75,1.75 0 1,0 3.5,0a1.75,1.75 0 1,0 -3.5,0M255.6,82.5a1.75,1.75 0 1,0 3.5,0a1.75,1.75 0 1,0 -3.5,0M256.7,81.5a1.75,1.75 0 1,0 3.5,0a1.75,1.75 0 1,0 -3.5,0M257.8,83.7a1.75,1.75 0 1,0 3.5,0a1.75,1.75 0 1,0 -3.5,0M258.9,82.6a1.75,1.75 0 1,0 3.5,0a1.75,1.75 0 1,0 -3.5,0M260.0,84.0a1.75,1.75 0 1,0 3.5,0a1.75,1.75 0 1,0 -3.5,0M261.1,84.5a1.75,1.75 0 1,0 3.5,0a1.75,1.75 0 1,0 -3.5,0M262.2,83.2a1.75,1.75 0 1,0 3.5,0a1.75,1.75 0 1,0 -3.5,0M263.3,85.4a1.75,1.75 0 1,0 3.5,0a1.75,1.75 0 1,0 -3.5,0M264.4,83.7a1.75,1.75 0 1,0 3.5,0a1.75,1.75 0 1,0 -3.5,0M265.5,84.2a1.75,1.75 0 1,0 3.5,0a1.75,1.75 0 1,0 -3.5,0M266.6,86.4a1.75,1.75 0 1,0 3.5,0a1.75,1.75 0 1,0 -3.5,0M267.7,85.4a1.75,1.75 0 1,0 3.5,0a1.75,1.75 0 1,0 -3.5,0M268.8,86.6a1.75,1.75 0 1,0 3.5,0a1.75,1.75 0 1,0 -3.5,0M269.9,85.1a1.75,1.75 0 1,0 3.5,0a1.75,1.75 0 1,0 -3.5,0M271.0,87.3a1.75,1.75 0 1,0 3.5,0a1.75,1.75 0 1,0 -3.5,0M272.1,87.1a1.75,1.75 0 1,0 3.5,0a1.75,1.75 0 1,0 -3.5,0M273.2,86.4a1.75,1.75 0 1,0 3.5,0a1.75,1.75 0 1,0 -3.5,0M274.3,86.1a1.75,1.75 0 1,0 3.5,0a1.75,1.75 0 1,0 -3.5,0M275.4,83.9a1.75,1.75 0 1,0 3.5,0a1.75,1.75 0 1,0 -3.5,0M276.5,84.8a1.75,1.75 0 1,0 3.5,0a1.75,1.75 0 1,0 -3.5,0M277.6,83.8a1.75,1.75 0 1,0 3.5,0a1.75,1.75 0 1,0 -3.5,0M278.7,85.6a1.75,1.75 0 1,0 3.5,0a1.75,1.75 0 1,0 -3.5,0M279.8,85.2a1.75,1.75 0 1,0 3.5,0a1.75,1.75 0 1,0 -3.5,0M280.9,88.5a1.75,1.75 0 1,0 3.5,0a1.75,1.75 0 1,0 -3.5,0M282.0,88.8a1.75,1.75 0 1,0 3.5,0a1.75,1.75 0 1,0 -3.5,0M283.1,91.6a1.75,1.75 0 1,0 3.5,0a1.75,1.75 0 1,0 -3.5,0M284.2,94.6a1.75,1.75 0 1,0 3.5,0a1.75,1.75 0 1,0 -3.5,0M285.3,98.2a1.75,1.75 0 1,0 3.5,0a1.75,1.75 0 1,0 -3.5,0M286.4,99.6a1.75,1.75 0 1,0 3.5,0a1.75,1.75 0 1,0 -3.5,0M287.5,98.9a1.75,1.75 0 1,0 3.5,0a1.75,1.75 0 1,0 -3.5,0M288.6,97.0a1.75,1.75 0 1,0 3.5,0a1.75,1.75 0 1,0 -3.5,0M289.7,93.1a1.75,1.75 0 1,0 3.5,0a1.75,1.75 0 1,0 -3.5,0M290.8,90.8a1.75,1.75 0 1,0 3.5,0a1.75,1.75 0 1,0 -3.5,0M291.9,87.0a1.75,1.75 0 1,0 3.5,0a1.75,1.75 0 1,0 -3.5,0M293.0,83.6a1.75,1.75 0 1,0 3.5,0a1.75,1.75 0 1,0 -3.5,0M294.1,78.5a1.75,1.75 0 1,0 3.5,0a1.75,1.75 0 1,0 -3.5,0M295.2,73.4a1.75,1.75 0 1,0 3.5,0a1.75,1.75 0 1,0 -3.5,0M296.3,68.4a1.75,1.75 0 1,0 3.5,0a1.75,1.75 0 1,0 -3.5,0M297.4,62.7a1.75,1.75 0 1,0 3.5,0a1.75,1.75 0 1,0 -3.5,0M298.5,57.5a1.75,1.75 0 1,0 3.5,0a1.75,1.75 0 1,0 -3.5,0M299.6,52.2a1.75,1.75 0 1,0 3.5,0a1.75,1.75 0 1,0 -3.5,0M300.7,47.7a1.75,1.75 0 1,0 3.5,0a1.75,1.75 0 1,0 -3.5,0M301.8,44.3a1.75,1.75 0 1,0 3.5,0a1.75,1.75 0 1,0 -3.5,0M302.9,42.2a1.75,1.75 0 1,0 3.5,0a1.75,1.75 0 1,0 -3.5,0M304.0,43.8a1.75,1.75 0 1,0 3.5,0a1.75,1.75 0 1,0 -3.5,0M305.1,45.1a1.75,1.75 0 1,0 3.5,0a1.75,1.75 0 1,0 -3.5,0M306.2,48.2a1.75,1.75 0 1,0 3.5,0a1.75,1.75 0 1,0 -3.5,0M307.3,52.2a1.75,1.75 0 1,0 3.5,0a1.75,1.75 0 1,0 -3.5,0M308.4,57.4a1.75,1.75 0 1,0 3.5,0a1.75,1.75 0 1,0 -3.5,0M309.5,59.3a1.75,1.75 0 1,0 3.5,0a1.75,1.75 0 1,0 -3.5,0M310.6,63.1a1.75,1.75 0 1,0 3.5,0a1.75,1.75 0 1,0 -3.5,0M311.7,62.7a1.75,1.75 0 1,0 3.5,0a1.75,1.75 0 1,0 -3.5,0M312.8,64.3a1.75,1.75 0 1,0 3.5,0a1.75,1.75 0 1,0 -3.5,0M313.9,64.5a1.75,1.75 0 1,0 3.5,0a1.75,1.75 0 1,0 -3.5,0M315.0,65.3a1.75,1.75 0 1,0 3.5,0a1.75,1.75 0 1,0 -3.5,0M316.1,67.8a1.75,1.75 0 1,0 3.5,0a1.75,1.75 0 1,0 -3.5,0M317.2,66.5a1.75,1.75 0 1,0 3.5,0a1.75,1.75 0 1,0 -3.5,0M318.3,69.2a1.75,1.75 0 1,0 3.5,0a1.75,1.75 0 1,0 -3.5,0M319.4,70.8a1.75,1.75 0 1,0 3.5,0a1.75,1.75 0 1,0 -3.5,0M320.5,71.7a1.75,1.75 0 1,0 3.5,0a1.75,1.75 0 1,0 -3.5,0M321.6,71.1a1.75,1.75 0 1,0 3.5,0a1.75,1.75 0 1,0 -3.5,0M322.7,71.5a1.75,1.75 0 1,0 3.5,0a1.75,1.75 0 1,0 -3.5,0M323.8,72.9a1.75,1.75 0 1,0 3.5,0a1.75,1.75 0 1,0 -3.5,0M324.9,71.7a1.75,1.75 0 1,0 3.5,0a1.75,1.75 0 1,0 -3.5,0M326.0,73.5a1.75,1.75 0 1,0 3.5,0a1.75,1.75 0 1,0 -3.5,0M327.1,76.1a1.75,1.75 0 1,0 3.5,0a1.75,1.75 0 1,0 -3.5,0M328.2,78.4a1.75,1.75 0 1,0 3.5,0a1.75,1.75 0 1,0 -3.5,0M329.3,81.4a1.75,1.75 0 1,0 3.5,0a1.75,1.75 0 1,0 -3.5,0M330.4,87.8a1.75,1.75 0 1,0 3.5,0a1.75,1.75 0 1,0 -3.5,0M331.5,94.4a1.75,1.75 0 1,0 3.5,0a1.75,1.75 0 1,0 -3.5,0M332.6,103.7a1.75,1.75 0 1,0 3.5,0a1.75,1.75 0 1,0 -3.5,0M333.7,116.8a1.75,1.75 0 1,0 3.5,0a1.75,1.75 0 1,0 -3.5,0M334.8,124.8a1.75,1.75 0 1,0 3.5,0a1.75,1.75 0 1,0 -3.5,0M335.9,131.8a1.75,1.75 0 1,0 3.5,0a1.75,1.75 0 1,0 -3.5,0M337.0,134.3a1.75,1.75 0 1,0 3.5,0a1.75,1.75 0 1,0 -3.5,0M338.1,136.9a1.75,1.75 0 1,0 3.5,0a1.75,1.75 0 1,0 -3.5,0M339.2,138.5a1.75,1.75 0 1,0 3.5,0a1.75,1.75 0 1,0 -3.5,0M340.3,140.4a1.75,1.75 0 1,0 3.5,0a1.75,1.75 0 1,0 -3.5,0M341.4,141.0a1.75,1.75 0 1,0 3.5,0a1.75,1.75 0 1,0 -3.5,0M342.5,141.6a1.75,1.75 0 1,0 3.5,0a1.75,1.75 0 1,0 -3.5,0M343.6,141.3a1.75,1.75 0 1,0 3.5,0a1.75,1.75 0 1,0 -3.5,0M344.7,142.2a1.75,1.75 0 1,0 3.5,0a1.75,1.75 0 1,0 -3.5,0M345.8,139.7a1.75,1.75 0 1,0 3.5,0a1.75,1.75 0 1,0 -3.5,0M346.9,141.8a1.75,1.75 0 1,0 3.5,0a1.75,1.75 0 1,0 -3.5,0M348.0,140.4a1.75,1.75 0 1,0 3.5,0a1.75,1.75 0 1,0 -3.5,0M349.1,141.3a1.75,1.75 0 1,0 3.5,0a1.75,1.75 0 1,0 -3.5,0M350.2,141.4a1.75,1.75 0 1,0 3.5,0a1.75,1.75 0 1,0 -3.5,0M351.3,141.2a1.75,1.75 0 1,0 3.5,0a1.75,1.75 0 1,0 -3.5,0M352.4,142.6a1.75,1.75 0 1,0 3.5,0a1.75,1.75 0 1,0 -3.5,0M353.5,143.0a1.75,1.75 0 1,0 3.5,0a1.75,1.75 0 1,0 -3.5,0M354.6,141.1a1.75,1.75 0 1,0 3.5,0a1.75,1.75 0 1,0 -3.5,0M355.7,141.1a1.75,1.75 0 1,0 3.5,0a1.75,1.75 0 1,0 -3.5,0M356.8,140.9a1.75,1.75 0 1,0 3.5,0a1.75,1.75 0 1,0 -3.5,0M357.9,142.0a1.75,1.75 0 1,0 3.5,0a1.75,1.75 0 1,0 -3.5,0M359.0,141.9a1.75,1.75 0 1,0 3.5,0a1.75,1.75 0 1,0 -3.5,0M360.1,141.9a1.75,1.75 0 1,0 3.5,0a1.75,1.75 0 1,0 -3.5,0M361.2,142.6a1.75,1.75 0 1,0 3.5,0a1.75,1.75 0 1,0 -3.5,0M362.3,140.4a1.75,1.75 0 1,0 3.5,0a1.75,1.75 0 1,0 -3.5,0M363.4,141.9a1.75,1.75 0 1,0 3.5,0a1.75,1.75 0 1,0 -3.5,0M364.5,140.4a1.75,1.75 0 1,0 3.5,0a1.75,1.75 0 1,0 -3.5,0M365.6,141.9a1.75,1.75 0 1,0 3.5,0a1.75,1.75 0 1,0 -3.5,0M366.7,141.4a1.75,1.75 0 1,0 3.5,0a1.75,1.75 0 1,0 -3.5,0M367.8,142.9a1.75,1.75 0 1,0 3.5,0a1.75,1.75 0 1,0 -3.5,0M368.9,141.1a1.75,1.75 0 1,0 3.5,0a1.75,1.75 0 1,0 -3.5,0M370.0,142.4a1.75,1.75 0 1,0 3.5,0a1.75,1.75 0 1,0 -3.5,0M371.1,142.1a1.75,1.75 0 1,0 3.5,0a1.75,1.75 0 1,0 -3.5,0M372.2,142.7a1.75,1.75 0 1,0 3.5,0a1.75,1.75 0 1,0 -3.5,0M373.3,142.5a1.75,1.75 0 1,0 3.5,0a1.75,1.75 0 1,0 -3.5,0M374.4,142.3a1.75,1.75 0 1,0 3.5,0a1.75,1.75 0 1,0 -3.5,0M375.5,141.5a1.75,1.75 0 1,0 3.5,0a1.75,1.75 0 1,0 -3.5,0M376.6,142.3a1.75,1.75 0 1,0 3.5,0a1.75,1.75 0 1,0 -3.5,0" fill="none" stroke="#000" stroke-width="1.5"/>
<path d="M211.1,103.7L211.8,103.7L212.6,103.8L213.3,103.8L214.1,103.8L214.8,103.9L215.6,103.9L216.3,104.0L217.1,104.1L217.8,104.1L218.6,104.2L219.3,104.3L220.1,104.4L220.8,104.4L221.6,104.5L222.3,104.6L223.1,104.6L223.8,104.7L224.6,104.8L225.3,104.9L226.1,104.9L226.8,105.0L227.6,105.1L228.3,105.2L229.1,105.2L229.8,105.3L230.6,105.4L231.3,105.4L232.1,105.5L232.8,105.6L233.6,105.7L234.3,105.7L235.1,105.8L235.8,105.9L236.6,105.9L237.3,106.0L238.1,106.1L238.8,106.2L239.6,106.2L240.3,106.3L241.1,106.4L241.8,106.5L242.6,106.6L243.3,106.7L244.1,106.8L244.8,107.0L245.6,107.1L246.3,107.3L247.1,107.4L247.8,107.6L248.6,107.8L249.3,108.0L250.1,108.1L250.8,108.3L251.6,108.5L252.3,108.7L253.1,108.8L253.8,109.0L254.6,109.2L255.3,109.4L256.1,109.5L256.8,109.7L257.6,109.9L258.3,110.1L259.1,110.2L259.8,110.4L260.6,110.6L261.3,110.8L262.1,110.9L262.8,111.1L263.6,111.3L264.3,111.5L265.1,111.6L265.8,111.8L266.6,112.0L267.3,112.2L268.1,112.3L268.8,112.5L269.6,112.6L270.3,112.8L271.1,113.0L271.8,113.1L272.6,113.3L273.3,113.4L274.1,113.6L274.8,113.7L275.6,113.9L276.3,114.0L277.1,114.2L277.8,114.4L278.6,114.5L279.3,114.7L280.1,114.8L280.8,115.0L281.6,115.1L282.3,115.3L283.1,115.4L283.8,115.6L284.6,115.8L285.3,115.9L286.1,116.1L286.8,116.2L287.6,116.4L288.3,116.6L289.1,116.7L289.8,116.9L290.6,117.1L291.3,117.3L292.1,117.5L292.8,117.7L293.6,117.9L294.3,118.2L295.1,118.4L295.8,118.7L296.6,118.9L297.3,119.1L298.1,119.4L298.8,119.7L299.6,119.9L300.3,120.2L301.1,120.5L301.8,120.8L302.6,121.2L303.3,121.5L304.1,121.8L304.8,122.2L305.6,122.6L306.3,123.0L307.1,123.4L307.8,123.8L308.6,124.2L309.3,124.7L310.1,125.1L310.8,125.6L311.6,126.1L312.3,126.6L313.1,127.2L313.8,127.7L314.6,128.2L315.3,128.8L316.1,129.3L316.8,129.8L317.6,130.4L318.3,130.9L319.1,131.4L319.8,131.9L320.6,132.3L321.3,132.8L322.1,133.3L322.8,133.7L323.6,134.2L324.3,134.6L325.1,135.0L325.8,135.4L326.6,135.9L327.3,136.3L328.1,136.7L328.8,137.1L329.6,137.5L330.3,137.9L331.1,138.3L331.8,138.7L332.6,139.0L333.3,139.3L334.1,139.6L334.8,139.9L335.6,140.2L336.3,140.4L337.1,140.7L337.8,140.9L338.6,141.1L339.3,141.2L340.1,141.4L340.8,141.5L341.6,141.6L342.3,141.7L343.1,141.8L343.8,141.9L344.6,141.9L345.3,142.0L346.1,142.0L346.8,142.0L347.6,142.0L348.3,142.1L349.1,142.1L349.8,142.1L350.6,142.1L351.3,142.2L352.1,142.2L352.8,142.2L353.6,142.2L354.3,142.3L355.1,142.3L355.8,142.3L356.6,142.3L357.3,142.4L358.1,142.4L358.8,142.4L359.6,142.4L360.3,142.5L361.1,142.5L361.8,142.5L362.6,142.5L363.3,142.5L364.1,142.6L364.8,142.6L365.6,142.6L366.3,142.6L367.1,142.6L367.8,142.6L368.6,142.6L369.3,142.6L370.1,142.6L370.8,142.6L371.6,142.6L372.3,142.6L373.1,142.6L373.8,142.6L374.6,142.6L375.3,142.6L376.1,142.6" fill="none" stroke="#4a1848" stroke-width="1.45"/>
<path d="M240.3,105.9L241.1,105.8L241.8,105.7L242.6,105.5L243.3,105.2L244.1,104.9L244.8,104.5L245.6,103.9L246.3,103.2L247.1,102.4L247.8,101.4L248.6,100.3L249.3,99.0L250.1,97.6L250.8,96.0L251.6,94.4L252.3,92.7L253.1,90.9L253.8,89.3L254.6,87.7L255.3,86.2L256.1,85.0L256.8,84.0L257.6,83.4L258.3,83.0L259.1,83.0L259.8,83.4L260.6,84.0L261.3,84.9L262.1,86.0L262.8,87.4L263.6,88.9L264.3,90.6L265.1,92.4L265.8,94.2L266.6,96.1L267.3,97.9L268.1,99.7L268.8,101.4L269.6,103.1L270.3,104.6L271.1,106.0L271.8,107.3L272.6,108.4L273.3,109.4L274.1,110.3L274.8,111.1L275.6,111.8L276.3,112.4L277.1,112.9L277.8,113.4L278.6,113.8L279.3,114.1L280.1,114.4" fill="none" stroke="#1aa57a" stroke-width="1.45"/>
<path d="M254.6,108.8L255.3,108.8L256.1,108.8L256.8,108.7L257.6,108.5L258.3,108.1L259.1,107.7L259.8,107.1L260.6,106.3L261.3,105.4L262.1,104.2L262.8,103.0L263.6,101.5L264.3,99.9L265.1,98.3L265.8,96.6L266.6,95.0L267.3,93.5L268.1,92.2L268.8,91.1L269.6,90.4L270.3,90.0L271.1,90.0L271.8,90.3L272.6,91.1L273.3,92.2L274.1,93.6L274.8,95.3L275.6,97.2L276.3,99.1L277.1,101.1L277.8,103.1L278.6,104.9L279.3,106.7L280.1,108.3L280.8,109.7L281.6,111.0L282.3,112.1L283.1,113.0L283.8,113.8L284.6,114.4L285.3,114.9L286.1,115.4L286.8,115.7" fill="none" stroke="#1010c8" stroke-width="1.45"/>
<path d="M268.8,112.1L269.6,112.0L270.3,111.8L271.1,111.4L271.8,110.7L272.6,109.8L273.3,108.6L274.1,107.1L274.8,105.2L275.6,103.0L276.3,100.7L277.1,98.3L277.8,96.0L278.6,94.0L279.3,92.4L280.1,91.5L280.8,91.3L281.6,91.8L282.3,93.1L283.1,94.9L283.8,97.2L284.6,99.9L285.3,102.6L286.1,105.2L286.8,107.7L287.6,109.9L288.3,111.7L289.1,113.3L289.8,114.5L290.6,115.5L291.3,116.3L292.1,116.8L292.8,117.3" fill="none" stroke="#ff1040" stroke-width="1.45"/>
<path d="M279.3,114.3L280.1,114.3L280.8,114.3L281.6,114.3L282.3,114.1L283.1,113.9L283.8,113.6L284.6,113.2L285.3,112.6L286.1,111.9L286.8,111.0L287.6,109.9L288.3,108.6L289.1,107.0L289.8,105.1L290.6,102.9L291.3,100.5L292.1,97.7L292.8,94.6L293.6,91.2L294.3,87.6L295.1,83.7L295.8,79.7L296.6,75.5L297.3,71.2L298.1,67.0L298.8,62.9L299.6,59.1L300.3,55.5L301.1,52.4L301.8,49.7L302.6,47.6L303.3,46.1L304.1,45.3L304.8,45.2L305.6,45.8L306.3,46.8L307.1,48.3L307.8,50.3L308.6,52.7L309.3,55.5L310.1,58.7L310.8,62.1L311.6,65.9L312.3,69.8L313.1,73.9L313.8,78.1L314.6,82.3L315.3,86.5L316.1,90.6L316.8,94.7L317.6,98.6L318.3,102.4L319.1,106.0L319.8,109.3L320.6,112.5L321.3,115.5L322.1,118.2L322.8,120.7L323.6,122.9L324.3,125.0L325.1,126.9L325.8,128.6L326.6,130.1L327.3,131.5L328.1,132.8L328.8,133.9L329.6,134.9L330.3,135.8L331.1,136.6L331.8,137.3L332.6,137.9L333.3,138.5L334.1,138.9L334.8,139.4L335.6,139.8" fill="none" stroke="#1aa57a" stroke-width="1.45"/>
<path d="M306.3,122.6L307.1,122.7L307.8,122.8L308.6,122.7L309.3,122.3L310.1,121.7L310.8,120.6L311.6,119.2L312.3,117.2L313.1,114.6L313.8,111.6L314.6,108.0L315.3,104.1L316.1,100.1L316.8,96.1L317.6,92.4L318.3,89.3L319.1,87.2L319.8,86.1L320.6,86.2L321.3,87.5L322.1,90.0L322.8,93.5L323.6,97.8L324.3,102.6L325.1,107.6L325.8,112.6L326.6,117.3L327.3,121.7L328.1,125.5L328.8,128.7L329.6,131.4L330.3,133.6L331.1,135.3L331.8,136.7L332.6,137.7L333.3,138.5L334.1,139.1" fill="none" stroke="#1010c8" stroke-width="1.45"/>
<path d="M322.1,132.5L322.8,132.2L323.6,131.2L324.3,129.4L325.1,126.4L325.8,122.0L326.6,116.2L327.3,109.5L328.1,102.6L328.8,96.4L329.6,92.1L330.3,90.6L331.1,92.1L331.8,96.5L332.6,103.0L333.3,110.6L334.1,118.2L334.8,124.9L335.6,130.4L336.3,134.5L337.1,137.3L337.8,139.1L338.6,140.2L339.3,140.8" fill="none" stroke="#ff1040" stroke-width="1.45"/>
<path d="M211.1,100.9L211.8,101.1L212.6,101.4L213.3,101.6L214.1,101.8L214.8,102.0L215.6,102.2L216.3,102.5L217.1,102.7L217.8,102.9L218.6,103.2L219.3,103.5L220.1,103.8L220.8,104.1L221.6,104.4L222.3,104.7L223.1,104.9L223.8,105.1L224.6,105.3L225.3,105.4L226.1,105.5L226.8,105.6L227.6,105.7L228.3,105.7L229.1,105.8L229.8,105.8L230.6,105.9L231.3,105.9L232.1,105.9L232.8,105.9L233.6,105.9L234.3,105.8L235.1,105.7L235.8,105.7L236.6,105.6L237.3,105.4L238.1,105.3L238.8,105.2L239.6,105.0L240.3,104.8L241.1,104.4L241.8,104.0L242.6,103.5L243.3,102.9L244.1,102.3L244.8,101.7L245.6,100.9L246.3,99.9L247.1,98.7L247.8,97.3L248.6,95.9L249.3,94.5L250.1,93.2L250.8,92.0L251.6,90.8L252.3,89.6L253.1,88.3L253.8,87.1L254.6,86.0L255.3,85.0L256.1,84.1L256.8,83.4L257.6,82.7L258.3,82.1L259.1,81.9L259.8,81.9L260.6,82.0L261.3,82.2L262.1,82.3L262.8,82.4L263.6,82.5L264.3,82.6L265.1,82.6L265.8,82.6L266.6,82.6L267.3,82.6L268.1,82.6L268.8,82.6L269.6,82.6L270.3,82.6L271.1,82.6L271.8,82.7L272.6,82.8L273.3,83.0L274.1,83.1L274.8,83.2L275.6,83.3L276.3,83.3L277.1,83.2L277.8,83.0L278.6,82.8L279.3,82.7L280.1,82.6L280.8,83.0L281.6,84.0L282.3,85.4L283.1,86.9L283.8,88.5L284.6,90.5L285.3,92.6L286.1,94.6L286.8,97.2L287.6,99.5L288.3,100.3L289.1,99.7L289.8,98.5L290.6,96.7L291.3,94.5L292.1,92.1L292.8,89.8L293.6,87.5L294.3,84.8L295.1,81.8L295.8,78.6L296.6,75.2L297.3,71.9L298.1,68.5L298.8,64.6L299.6,60.6L300.3,56.7L301.1,53.2L301.8,50.6L302.6,48.3L303.3,46.2L304.1,44.5L304.8,43.8L305.6,44.2L306.3,45.3L307.1,46.9L307.8,48.6L308.6,50.4L309.3,52.7L310.1,55.4L310.8,57.9L311.6,60.1L312.3,61.6L313.1,62.7L313.8,63.7L314.6,64.5L315.3,65.3L316.1,66.0L316.8,66.8L317.6,67.6L318.3,68.4L319.1,69.2L319.8,69.9L320.6,70.7L321.3,71.4L322.1,72.1L322.8,72.8L323.6,73.5L324.3,74.1L325.1,74.6L325.8,75.1L326.6,75.7L327.3,76.4L328.1,77.3L328.8,78.4L329.6,79.9L330.3,81.7L331.1,83.9L331.8,86.9L332.6,91.3L333.3,96.5L334.1,102.5L334.8,110.1L335.6,117.6L336.3,123.1L337.1,127.9L337.8,132.1L338.6,135.4L339.3,137.1L340.1,138.2L340.8,139.1L341.6,139.8L342.3,140.4L343.1,140.8L343.8,141.0L344.6,141.0L345.3,141.1L346.1,141.2L346.8,141.2L347.6,141.3L348.3,141.3L349.1,141.4L349.8,141.4L350.6,141.4L351.3,141.5L352.1,141.5L352.8,141.5L353.6,141.6L354.3,141.6L355.1,141.6L355.8,141.6L356.6,141.6L357.3,141.7L358.1,141.7L358.8,141.7L359.6,141.7L360.3,141.7L361.1,141.7L361.8,141.7L362.6,141.8L363.3,141.8L364.1,141.8L364.8,141.8L365.6,141.8L366.3,141.8L367.1,141.8L367.8,141.9L368.6,141.9L369.3,141.9L370.1,141.9L370.8,141.9L371.6,141.9L372.3,141.9L373.1,141.9L373.8,142.0L374.6,142.0L375.3,142.0L376.1,142.0" fill="none" stroke="#f0f" stroke-width="1.25"/>
</g>
<clipPath id="b2"><rect x="211.8" y="153.4" width="164.1" height="128.5"/></clipPath>
<g clip-path="url(#b2)">
<path d="M210.1,228.1L211.2,227.6L212.2,228.2L213.3,230.2L214.4,230.9L215.5,230.1L216.6,231.3L217.7,230.0L218.8,230.9L219.9,231.4L221.0,231.3L222.1,230.7L223.2,232.1L224.3,232.1L225.4,233.8L226.5,232.1L227.6,234.3L228.7,232.4L229.8,233.3L230.9,233.6L232.0,234.2L233.1,234.8L234.2,233.3L235.3,233.3L236.4,234.3L237.5,233.6L238.6,232.6L239.7,231.9L240.8,231.8L241.9,231.0L243.0,231.9L244.1,230.8 M258.4,207.1L259.5,206.4L260.6,207.4L261.7,205.3L262.8,206.2L263.9,207.1L265.0,208.2L266.1,207.9L267.2,207.5L268.4,209.5L269.5,209.4L270.6,208.5L271.7,210.7L272.8,210.3L273.9,212.3L275.0,211.4L276.1,212.1L277.2,213.4L278.3,213.8L279.4,213.3L280.5,213.9 M288.2,230.7L289.3,230.2 M304.7,171.8L305.8,171.1L306.9,171.9 M342.1,268.3L343.2,269.0L344.3,269.2L345.4,269.9L346.5,268.1L347.6,270.2L348.7,268.3L349.8,269.0L350.9,269.2L352.0,269.1L353.1,269.7L354.2,269.9L355.3,270.1L356.4,269.4L357.5,270.7L358.6,269.4L359.7,269.7L360.8,269.7L361.9,268.8L363.0,271.3L364.1,270.6L365.2,270.6L366.3,271.1L367.4,271.1L368.5,268.5L369.6,271.3L370.7,270.0L371.8,269.9L372.9,270.4L374.0,271.7L375.1,272.1L376.2,271.9L377.3,270.5L378.4,270.3" fill="none" stroke="#000" stroke-width="3.0" stroke-linejoin="round" stroke-linecap="round"/>
<path d="M208.3,228.1a1.75,1.75 0 1,0 3.5,0a1.75,1.75 0 1,0 -3.5,0M209.4,227.6a1.75,1.75 0 1,0 3.5,0a1.75,1.75 0 1,0 -3.5,0M210.5,228.2a1.75,1.75 0 1,0 3.5,0a1.75,1.75 0 1,0 -3.5,0M211.6,230.2a1.75,1.75 0 1,0 3.5,0a1.75,1.75 0 1,0 -3.5,0M212.7,230.9a1.75,1.75 0 1,0 3.5,0a1.75,1.75 0 1,0 -3.5,0M213.8,230.1a1.75,1.75 0 1,0 3.5,0a1.75,1.75 0 1,0 -3.5,0M214.9,231.3a1.75,1.75 0 1,0 3.5,0a1.75,1.75 0 1,0 -3.5,0M216.0,230.0a1.75,1.75 0 1,0 3.5,0a1.75,1.75 0 1,0 -3.5,0M217.1,230.9a1.75,1.75 0 1,0 3.5,0a1.75,1.75 0 1,0 -3.5,0M218.2,231.4a1.75,1.75 0 1,0 3.5,0a1.75,1.75 0 1,0 -3.5,0M219.3,231.3a1.75,1.75 0 1,0 3.5,0a1.75,1.75 0 1,0 -3.5,0M220.4,230.7a1.75,1.75 0 1,0 3.5,0a1.75,1.75 0 1,0 -3.5,0M221.5,232.1a1.75,1.75 0 1,0 3.5,0a1.75,1.75 0 1,0 -3.5,0M222.6,232.1a1.75,1.75 0 1,0 3.5,0a1.75,1.75 0 1,0 -3.5,0M223.7,233.8a1.75,1.75 0 1,0 3.5,0a1.75,1.75 0 1,0 -3.5,0M224.8,232.1a1.75,1.75 0 1,0 3.5,0a1.75,1.75 0 1,0 -3.5,0M225.9,234.3a1.75,1.75 0 1,0 3.5,0a1.75,1.75 0 1,0 -3.5,0M227.0,232.4a1.75,1.75 0 1,0 3.5,0a1.75,1.75 0 1,0 -3.5,0M228.1,233.3a1.75,1.75 0 1,0 3.5,0a1.75,1.75 0 1,0 -3.5,0M229.2,233.6a1.75,1.75 0 1,0 3.5,0a1.75,1.75 0 1,0 -3.5,0M230.3,234.2a1.75,1.75 0 1,0 3.5,0a1.75,1.75 0 1,0 -3.5,0M231.4,234.8a1.75,1.75 0 1,0 3.5,0a1.75,1.75 0 1,0 -3.5,0M232.5,233.3a1.75,1.75 0 1,0 3.5,0a1.75,1.75 0 1,0 -3.5,0M233.6,233.3a1.75,1.75 0 1,0 3.5,0a1.75,1.75 0 1,0 -3.5,0M234.7,234.3a1.75,1.75 0 1,0 3.5,0a1.75,1.75 0 1,0 -3.5,0M235.8,233.6a1.75,1.75 0 1,0 3.5,0a1.75,1.75 0 1,0 -3.5,0M236.9,232.6a1.75,1.75 0 1,0 3.5,0a1.75,1.75 0 1,0 -3.5,0M238.0,231.9a1.75,1.75 0 1,0 3.5,0a1.75,1.75 0 1,0 -3.5,0M239.1,231.8a1.75,1.75 0 1,0 3.5,0a1.75,1.75 0 1,0 -3.5,0M240.2,231.0a1.75,1.75 0 1,0 3.5,0a1.75,1.75 0 1,0 -3.5,0M241.3,231.9a1.75,1.75 0 1,0 3.5,0a1.75,1.75 0 1,0 -3.5,0M242.4,230.8a1.75,1.75 0 1,0 3.5,0a1.75,1.75 0 1,0 -3.5,0M243.5,227.3a1.75,1.75 0 1,0 3.5,0a1.75,1.75 0 1,0 -3.5,0M244.6,229.1a1.75,1.75 0 1,0 3.5,0a1.75,1.75 0 1,0 -3.5,0M245.7,226.6a1.75,1.75 0 1,0 3.5,0a1.75,1.75 0 1,0 -3.5,0M246.8,224.2a1.75,1.75 0 1,0 3.5,0a1.75,1.75 0 1,0 -3.5,0M247.9,221.7a1.75,1.75 0 1,0 3.5,0a1.75,1.75 0 1,0 -3.5,0M249.0,217.2a1.75,1.75 0 1,0 3.5,0a1.75,1.75 0 1,0 -3.5,0M250.1,215.4a1.75,1.75 0 1,0 3.5,0a1.75,1.75 0 1,0 -3.5,0M251.2,215.3a1.75,1.75 0 1,0 3.5,0a1.75,1.75 0 1,0 -3.5,0M252.3,211.1a1.75,1.75 0 1,0 3.5,0a1.75,1.75 0 1,0 -3.5,0M253.4,211.7a1.75,1.75 0 1,0 3.5,0a1.75,1.75 0 1,0 -3.5,0M254.5,208.7a1.75,1.75 0 1,0 3.5,0a1.75,1.75 0 1,0 -3.5,0M255.6,210.4a1.75,1.75 0 1,0 3.5,0a1.75,1.75 0 1,0 -3.5,0M256.7,207.1a1.75,1.75 0 1,0 3.5,0a1.75,1.75 0 1,0 -3.5,0M257.8,206.4a1.75,1.75 0 1,0 3.5,0a1.75,1.75 0 1,0 -3.5,0M258.9,207.4a1.75,1.75 0 1,0 3.5,0a1.75,1.75 0 1,0 -3.5,0M260.0,205.3a1.75,1.75 0 1,0 3.5,0a1.75,1.75 0 1,0 -3.5,0M261.1,206.2a1.75,1.75 0 1,0 3.5,0a1.75,1.75 0 1,0 -3.5,0M262.2,207.1a1.75,1.75 0 1,0 3.5,0a1.75,1.75 0 1,0 -3.5,0M263.3,208.2a1.75,1.75 0 1,0 3.5,0a1.75,1.75 0 1,0 -3.5,0M264.4,207.9a1.75,1.75 0 1,0 3.5,0a1.75,1.75 0 1,0 -3.5,0M265.5,207.5a1.75,1.75 0 1,0 3.5,0a1.75,1.75 0 1,0 -3.5,0M266.6,209.5a1.75,1.75 0 1,0 3.5,0a1.75,1.75 0 1,0 -3.5,0M267.7,209.4a1.75,1.75 0 1,0 3.5,0a1.75,1.75 0 1,0 -3.5,0M268.8,208.5a1.75,1.75 0 1,0 3.5,0a1.75,1.75 0 1,0 -3.5,0M269.9,210.7a1.75,1.75 0 1,0 3.5,0a1.75,1.75 0 1,0 -3.5,0M271.0,210.3a1.75,1.75 0 1,0 3.5,0a1.75,1.75 0 1,0 -3.5,0M272.1,212.3a1.75,1.75 0 1,0 3.5,0a1.75,1.75 0 1,0 -3.5,0M273.2,211.4a1.75,1.75 0 1,0 3.5,0a1.75,1.75 0 1,0 -3.5,0M274.3,212.1a1.75,1.75 0 1,0 3.5,0a1.75,1.75 0 1,0 -3.5,0M275.4,213.4a1.75,1.75 0 1,0 3.5,0a1.75,1.75 0 1,0 -3.5,0M276.5,213.8a1.75,1.75 0 1,0 3.5,0a1.75,1.75 0 1,0 -3.5,0M277.6,213.3a1.75,1.75 0 1,0 3.5,0a1.75,1.75 0 1,0 -3.5,0M278.7,213.9a1.75,1.75 0 1,0 3.5,0a1.75,1.75 0 1,0 -3.5,0M279.8,216.9a1.75,1.75 0 1,0 3.5,0a1.75,1.75 0 1,0 -3.5,0M280.9,216.8a1.75,1.75 0 1,0 3.5,0a1.75,1.75 0 1,0 -3.5,0M282.0,218.2a1.75,1.75 0 1,0 3.5,0a1.75,1.75 0 1,0 -3.5,0M283.1,219.4a1.75,1.75 0 1,0 3.5,0a1.75,1.75 0 1,0 -3.5,0M284.2,223.5a1.75,1.75 0 1,0 3.5,0a1.75,1.75 0 1,0 -3.5,0M285.3,229.0a1.75,1.75 0 1,0 3.5,0a1.75,1.75 0 1,0 -3.5,0M286.4,230.7a1.75,1.75 0 1,0 3.5,0a1.75,1.75 0 1,0 -3.5,0M287.5,230.2a1.75,1.75 0 1,0 3.5,0a1.75,1.75 0 1,0 -3.5,0M288.6,229.0a1.75,1.75 0 1,0 3.5,0a1.75,1.75 0 1,0 -3.5,0M289.7,226.5a1.75,1.75 0 1,0 3.5,0a1.75,1.75 0 1,0 -3.5,0M290.8,227.0a1.75,1.75 0 1,0 3.5,0a1.75,1.75 0 1,0 -3.5,0M291.9,221.4a1.75,1.75 0 1,0 3.5,0a1.75,1.75 0 1,0 -3.5,0M293.0,217.9a1.75,1.75 0 1,0 3.5,0a1.75,1.75 0 1,0 -3.5,0M294.1,212.9a1.75,1.75 0 1,0 3.5,0a1.75,1.75 0 1,0 -3.5,0M295.2,207.1a1.75,1.75 0 1,0 3.5,0a1.75,1.75 0 1,0 -3.5,0M296.3,202.0a1.75,1.75 0 1,0 3.5,0a1.75,1.75 0 1,0 -3.5,0M297.4,194.8a1.75,1.75 0 1,0 3.5,0a1.75,1.75 0 1,0 -3.5,0M298.5,186.9a1.75,1.75 0 1,0 3.5,0a1.75,1.75 0 1,0 -3.5,0M299.6,181.8a1.75,1.75 0 1,0 3.5,0a1.75,1.75 0 1,0 -3.5,0M300.7,178.1a1.75,1.75 0 1,0 3.5,0a1.75,1.75 0 1,0 -3.5,0M301.8,174.7a1.75,1.75 0 1,0 3.5,0a1.75,1.75 0 1,0 -3.5,0M302.9,171.8a1.75,1.75 0 1,0 3.5,0a1.75,1.75 0 1,0 -3.5,0M304.0,171.1a1.75,1.75 0 1,0 3.5,0a1.75,1.75 0 1,0 -3.5,0M305.1,171.9a1.75,1.75 0 1,0 3.5,0a1.75,1.75 0 1,0 -3.5,0M306.2,172.8a1.75,1.75 0 1,0 3.5,0a1.75,1.75 0 1,0 -3.5,0M307.3,174.0a1.75,1.75 0 1,0 3.5,0a1.75,1.75 0 1,0 -3.5,0M308.4,175.7a1.75,1.75 0 1,0 3.5,0a1.75,1.75 0 1,0 -3.5,0M309.5,176.4a1.75,1.75 0 1,0 3.5,0a1.75,1.75 0 1,0 -3.5,0M310.6,176.8a1.75,1.75 0 1,0 3.5,0a1.75,1.75 0 1,0 -3.5,0M311.7,181.2a1.75,1.75 0 1,0 3.5,0a1.75,1.75 0 1,0 -3.5,0M312.8,179.4a1.75,1.75 0 1,0 3.5,0a1.75,1.75 0 1,0 -3.5,0M313.9,180.8a1.75,1.75 0 1,0 3.5,0a1.75,1.75 0 1,0 -3.5,0M315.0,182.4a1.75,1.75 0 1,0 3.5,0a1.75,1.75 0 1,0 -3.5,0M316.1,185.2a1.75,1.75 0 1,0 3.5,0a1.75,1.75 0 1,0 -3.5,0M317.2,186.3a1.75,1.75 0 1,0 3.5,0a1.75,1.75 0 1,0 -3.5,0M318.3,191.0a1.75,1.75 0 1,0 3.5,0a1.75,1.75 0 1,0 -3.5,0M319.4,191.6a1.75,1.75 0 1,0 3.5,0a1.75,1.75 0 1,0 -3.5,0M320.5,193.9a1.75,1.75 0 1,0 3.5,0a1.75,1.75 0 1,0 -3.5,0M321.6,196.4a1.75,1.75 0 1,0 3.5,0a1.75,1.75 0 1,0 -3.5,0M322.7,199.6a1.75,1.75 0 1,0 3.5,0a1.75,1.75 0 1,0 -3.5,0M323.8,201.1a1.75,1.75 0 1,0 3.5,0a1.75,1.75 0 1,0 -3.5,0M324.9,202.2a1.75,1.75 0 1,0 3.5,0a1.75,1.75 0 1,0 -3.5,0M326.0,204.6a1.75,1.75 0 1,0 3.5,0a1.75,1.75 0 1,0 -3.5,0M327.1,205.9a1.75,1.75 0 1,0 3.5,0a1.75,1.75 0 1,0 -3.5,0M328.2,209.9a1.75,1.75 0 1,0 3.5,0a1.75,1.75 0 1,0 -3.5,0M329.3,211.4a1.75,1.75 0 1,0 3.5,0a1.75,1.75 0 1,0 -3.5,0M330.4,216.9a1.75,1.75 0 1,0 3.5,0a1.75,1.75 0 1,0 -3.5,0M331.5,222.8a1.75,1.75 0 1,0 3.5,0a1.75,1.75 0 1,0 -3.5,0M332.6,229.8a1.75,1.75 0 1,0 3.5,0a1.75,1.75 0 1,0 -3.5,0M333.7,238.7a1.75,1.75 0 1,0 3.5,0a1.75,1.75 0 1,0 -3.5,0M334.8,248.6a1.75,1.75 0 1,0 3.5,0a1.75,1.75 0 1,0 -3.5,0M335.9,256.5a1.75,1.75 0 1,0 3.5,0a1.75,1.75 0 1,0 -3.5,0M337.0,261.9a1.75,1.75 0 1,0 3.5,0a1.75,1.75 0 1,0 -3.5,0M338.1,263.6a1.75,1.75 0 1,0 3.5,0a1.75,1.75 0 1,0 -3.5,0M339.2,267.6a1.75,1.75 0 1,0 3.5,0a1.75,1.75 0 1,0 -3.5,0M340.3,268.3a1.75,1.75 0 1,0 3.5,0a1.75,1.75 0 1,0 -3.5,0M341.4,269.0a1.75,1.75 0 1,0 3.5,0a1.75,1.75 0 1,0 -3.5,0M342.5,269.2a1.75,1.75 0 1,0 3.5,0a1.75,1.75 0 1,0 -3.5,0M343.6,269.9a1.75,1.75 0 1,0 3.5,0a1.75,1.75 0 1,0 -3.5,0M344.7,268.1a1.75,1.75 0 1,0 3.5,0a1.75,1.75 0 1,0 -3.5,0M345.8,270.2a1.75,1.75 0 1,0 3.5,0a1.75,1.75 0 1,0 -3.5,0M346.9,268.3a1.75,1.75 0 1,0 3.5,0a1.75,1.75 0 1,0 -3.5,0M348.0,269.0a1.75,1.75 0 1,0 3.5,0a1.75,1.75 0 1,0 -3.5,0M349.1,269.2a1.75,1.75 0 1,0 3.5,0a1.75,1.75 0 1,0 -3.5,0M350.2,269.1a1.75,1.75 0 1,0 3.5,0a1.75,1.75 0 1,0 -3.5,0M351.3,269.7a1.75,1.75 0 1,0 3.5,0a1.75,1.75 0 1,0 -3.5,0M352.4,269.9a1.75,1.75 0 1,0 3.5,0a1.75,1.75 0 1,0 -3.5,0M353.5,270.1a1.75,1.75 0 1,0 3.5,0a1.75,1.75 0 1,0 -3.5,0M354.6,269.4a1.75,1.75 0 1,0 3.5,0a1.75,1.75 0 1,0 -3.5,0M355.7,270.7a1.75,1.75 0 1,0 3.5,0a1.75,1.75 0 1,0 -3.5,0M356.8,269.4a1.75,1.75 0 1,0 3.5,0a1.75,1.75 0 1,0 -3.5,0M357.9,269.7a1.75,1.75 0 1,0 3.5,0a1.75,1.75 0 1,0 -3.5,0M359.0,269.7a1.75,1.75 0 1,0 3.5,0a1.75,1.75 0 1,0 -3.5,0M360.1,268.8a1.75,1.75 0 1,0 3.5,0a1.75,1.75 0 1,0 -3.5,0M361.2,271.3a1.75,1.75 0 1,0 3.5,0a1.75,1.75 0 1,0 -3.5,0M362.3,270.6a1.75,1.75 0 1,0 3.5,0a1.75,1.75 0 1,0 -3.5,0M363.4,270.6a1.75,1.75 0 1,0 3.5,0a1.75,1.75 0 1,0 -3.5,0M364.5,271.1a1.75,1.75 0 1,0 3.5,0a1.75,1.75 0 1,0 -3.5,0M365.6,271.1a1.75,1.75 0 1,0 3.5,0a1.75,1.75 0 1,0 -3.5,0M366.7,268.5a1.75,1.75 0 1,0 3.5,0a1.75,1.75 0 1,0 -3.5,0M367.8,271.3a1.75,1.75 0 1,0 3.5,0a1.75,1.75 0 1,0 -3.5,0M368.9,270.0a1.75,1.75 0 1,0 3.5,0a1.75,1.75 0 1,0 -3.5,0M370.0,269.9a1.75,1.75 0 1,0 3.5,0a1.75,1.75 0 1,0 -3.5,0M371.1,270.4a1.75,1.75 0 1,0 3.5,0a1.75,1.75 0 1,0 -3.5,0M372.2,271.7a1.75,1.75 0 1,0 3.5,0a1.75,1.75 0 1,0 -3.5,0M373.3,272.1a1.75,1.75 0 1,0 3.5,0a1.75,1.75 0 1,0 -3.5,0M374.4,271.9a1.75,1.75 0 1,0 3.5,0a1.75,1.75 0 1,0 -3.5,0M375.5,270.5a1.75,1.75 0 1,0 3.5,0a1.75,1.75 0 1,0 -3.5,0M376.6,270.3a1.75,1.75 0 1,0 3.5,0a1.75,1.75 0 1,0 -3.5,0" fill="none" stroke="#000" stroke-width="1.5"/>
<path d="M211.1,229.3L211.8,229.4L212.6,229.5L213.3,229.5L214.1,229.6L214.8,229.7L215.6,229.8L216.3,229.9L217.1,230.1L217.8,230.2L218.6,230.3L219.3,230.5L220.1,230.6L220.8,230.7L221.6,230.9L222.3,231.0L223.1,231.1L223.8,231.3L224.6,231.4L225.3,231.5L226.1,231.7L226.8,231.8L227.6,231.9L228.3,232.1L229.1,232.2L229.8,232.3L230.6,232.5L231.3,232.6L232.1,232.7L232.8,232.9L233.6,233.0L234.3,233.1L235.1,233.3L235.8,233.4L236.6,233.5L237.3,233.6L238.1,233.7L238.8,233.8L239.6,233.9L240.3,234.0L241.1,234.1L241.8,234.2L242.6,234.3L243.3,234.3L244.1,234.4L244.8,234.4L245.6,234.5L246.3,234.6L247.1,234.6L247.8,234.7L248.6,234.7L249.3,234.8L250.1,234.9L250.8,234.9L251.6,235.0L252.3,235.1L253.1,235.2L253.8,235.3L254.6,235.4L255.3,235.5L256.1,235.7L256.8,235.8L257.6,236.0L258.3,236.1L259.1,236.3L259.8,236.4L260.6,236.6L261.3,236.7L262.1,236.9L262.8,237.1L263.6,237.2L264.3,237.4L265.1,237.5L265.8,237.7L266.6,237.9L267.3,238.1L268.1,238.2L268.8,238.4L269.6,238.6L270.3,238.8L271.1,239.1L271.8,239.3L272.6,239.5L273.3,239.7L274.1,239.9L274.8,240.1L275.6,240.4L276.3,240.6L277.1,240.8L277.8,241.0L278.6,241.2L279.3,241.4L280.1,241.7L280.8,241.9L281.6,242.1L282.3,242.3L283.1,242.5L283.8,242.7L284.6,242.9L285.3,243.1L286.1,243.3L286.8,243.4L287.6,243.6L288.3,243.8L289.1,243.9L289.8,244.1L290.6,244.2L291.3,244.4L292.1,244.5L292.8,244.7L293.6,244.8L294.3,245.0L295.1,245.1L295.8,245.3L296.6,245.4L297.3,245.6L298.1,245.8L298.8,246.0L299.6,246.2L300.3,246.5L301.1,246.8L301.8,247.1L302.6,247.4L303.3,247.8L304.1,248.2L304.8,248.6L305.6,249.1L306.3,249.6L307.1,250.0L307.8,250.5L308.6,251.0L309.3,251.5L310.1,252.0L310.8,252.5L311.6,253.0L312.3,253.5L313.1,254.0L313.8,254.6L314.6,255.1L315.3,255.6L316.1,256.1L316.8,256.7L317.6,257.2L318.3,257.7L319.1,258.2L319.8,258.7L320.6,259.2L321.3,259.7L322.1,260.2L322.8,260.7L323.6,261.2L324.3,261.6L325.1,262.1L325.8,262.6L326.6,263.1L327.3,263.5L328.1,264.0L328.8,264.5L329.6,264.9L330.3,265.4L331.1,265.8L331.8,266.1L332.6,266.5L333.3,266.8L334.1,267.1L334.8,267.4L335.6,267.6L336.3,267.8L337.1,268.0L337.8,268.2L338.6,268.3L339.3,268.5L340.1,268.6L340.8,268.7L341.6,268.8L342.3,268.9L343.1,269.0L343.8,269.1L344.6,269.1L345.3,269.1L346.1,269.2L346.8,269.2L347.6,269.3L348.3,269.3L349.1,269.3L349.8,269.4L350.6,269.4L351.3,269.5L352.1,269.5L352.8,269.6L353.6,269.6L354.3,269.6L355.1,269.7L355.8,269.7L356.6,269.8L357.3,269.8L358.1,269.8L358.8,269.9L359.6,269.9L360.3,270.0L361.1,270.0L361.8,270.0L362.6,270.1L363.3,270.1L364.1,270.1L364.8,270.1L365.6,270.2L366.3,270.2L367.1,270.2L367.8,270.2L368.6,270.2L369.3,270.2L370.1,270.2L370.8,270.2L371.6,270.2L372.3,270.2L373.1,270.2L373.8,270.2L374.6,270.2L375.3,270.2L376.1,270.2" fill="none" stroke="#5a8a1e" stroke-width="1.45"/>
<path d="M241.1,233.7L241.8,233.6L242.6,233.5L243.3,233.3L244.1,233.0L244.8,232.6L245.6,232.1L246.3,231.5L247.1,230.8L247.8,229.9L248.6,228.9L249.3,227.8L250.1,226.4L250.8,225.0L251.6,223.5L252.3,221.9L253.1,220.2L253.8,218.5L254.6,216.9L255.3,215.4L256.1,214.1L256.8,212.9L257.6,212.0L258.3,211.4L259.1,211.1L259.8,211.1L260.6,211.4L261.3,212.0L262.1,212.7L262.8,213.7L263.6,214.8L264.3,216.1L265.1,217.5L265.8,219.1L266.6,220.7L267.3,222.3L268.1,224.0L268.8,225.6L269.6,227.2L270.3,228.8L271.1,230.3L271.8,231.7L272.6,233.0L273.3,234.2L274.1,235.3L274.8,236.3L275.6,237.2L276.3,238.0L277.1,238.7L277.8,239.3L278.6,239.9L279.3,240.4L280.1,240.8L280.8,241.2L281.6,241.6L282.3,241.9" fill="none" stroke="#1aa57a" stroke-width="1.45"/>
<path d="M259.1,235.9L259.8,235.8L260.6,235.6L261.3,235.2L262.1,234.7L262.8,233.9L263.6,233.0L264.3,231.9L265.1,230.5L265.8,229.1L266.6,227.6L267.3,226.2L268.1,225.0L268.8,224.1L269.6,223.6L270.3,223.5L271.1,224.0L271.8,224.9L272.6,226.2L273.3,227.9L274.1,229.7L274.8,231.5L275.6,233.4L276.3,235.1L277.1,236.6L277.8,237.9L278.6,239.0L279.3,239.9L280.1,240.6L280.8,241.2L281.6,241.7" fill="none" stroke="#1010c8" stroke-width="1.45"/>
<path d="M269.6,238.1L270.3,237.9L271.1,237.7L271.8,237.2L272.6,236.5L273.3,235.5L274.1,234.2L274.8,232.7L275.6,230.9L276.3,228.9L277.1,226.9L277.8,225.0L278.6,223.3L279.3,222.0L280.1,221.3L280.8,221.2L281.6,221.7L282.3,222.9L283.1,224.6L283.8,226.7L284.6,229.0L285.3,231.4L286.1,233.8L286.8,236.0L287.6,237.9L288.3,239.6L289.1,240.9L289.8,242.0L290.6,242.8L291.3,243.5L292.1,243.9" fill="none" stroke="#ff1040" stroke-width="1.45"/>
<path d="M280.8,241.5L281.6,241.5L282.3,241.6L283.1,241.5L283.8,241.4L284.6,241.2L285.3,240.8L286.1,240.4L286.8,239.8L287.6,239.0L288.3,238.0L289.1,236.7L289.8,235.3L290.6,233.5L291.3,231.5L292.1,229.1L292.8,226.5L293.6,223.5L294.3,220.2L295.1,216.7L295.8,212.9L296.6,208.8L297.3,204.7L298.1,200.4L298.8,196.2L299.6,192.1L300.3,188.1L301.1,184.5L301.8,181.2L302.6,178.3L303.3,176.0L304.1,174.4L304.8,173.3L305.6,173.0L306.3,173.4L307.1,174.3L307.8,175.8L308.6,177.7L309.3,180.1L310.1,183.0L310.8,186.2L311.6,189.7L312.3,193.5L313.1,197.6L313.8,201.8L314.6,206.1L315.3,210.4L316.1,214.7L316.8,219.0L317.6,223.1L318.3,227.1L319.1,231.0L319.8,234.6L320.6,238.0L321.3,241.2L322.1,244.1L322.8,246.8L323.6,249.3L324.3,251.6L325.1,253.6L325.8,255.4L326.6,257.1L327.3,258.6L328.1,260.0L328.8,261.2L329.6,262.3L330.3,263.2L331.1,264.0L331.8,264.8L332.6,265.4L333.3,266.0L334.1,266.4L334.8,266.9L335.6,267.2" fill="none" stroke="#1aa57a" stroke-width="1.45"/>
<path d="M307.1,249.5L307.8,249.6L308.6,249.5L309.3,249.2L310.1,248.6L310.8,247.5L311.6,246.0L312.3,243.9L313.1,241.2L313.8,238.0L314.6,234.2L315.3,230.1L316.1,225.9L316.8,221.8L317.6,218.1L318.3,215.2L319.1,213.3L319.8,212.6L320.6,213.3L321.3,215.2L322.1,218.3L322.8,222.4L323.6,227.2L324.3,232.4L325.1,237.6L325.8,242.6L326.6,247.3L327.3,251.4L328.1,255.0L328.8,257.9L329.6,260.3L330.3,262.2L331.1,263.7L331.8,264.8L332.6,265.6L333.3,266.3" fill="none" stroke="#1010c8" stroke-width="1.45"/>
<path d="M321.3,259.2L322.1,259.2L322.8,258.8L323.6,257.7L324.3,255.8L325.1,252.9L325.8,248.8L326.6,243.7L327.3,237.9L328.1,232.1L328.8,227.1L329.6,223.7L330.3,222.5L331.1,223.8L331.8,227.5L332.6,233.0L333.3,239.5L334.1,246.1L334.8,252.2L335.6,257.3L336.3,261.2L337.1,264.0L337.8,265.9L338.6,267.1L339.3,267.9" fill="none" stroke="#ff1040" stroke-width="1.45"/>
<path d="M211.1,228.1L211.8,228.3L212.6,228.5L213.3,228.8L214.1,229.0L214.8,229.2L215.6,229.4L216.3,229.6L217.1,229.9L217.8,230.1L218.6,230.4L219.3,230.7L220.1,231.0L220.8,231.3L221.6,231.7L222.3,232.0L223.1,232.4L223.8,232.6L224.6,232.9L225.3,233.0L226.1,233.2L226.8,233.3L227.6,233.5L228.3,233.6L229.1,233.7L229.8,233.8L230.6,233.9L231.3,234.0L232.1,234.0L232.8,234.0L233.6,234.0L234.3,233.9L235.1,233.8L235.8,233.7L236.6,233.6L237.3,233.4L238.1,233.3L238.8,233.1L239.6,232.9L240.3,232.7L241.1,232.4L241.8,232.1L242.6,231.7L243.3,231.3L244.1,230.8L244.8,230.3L245.6,229.5L246.3,228.4L247.1,226.9L247.8,225.3L248.6,223.6L249.3,221.9L250.1,220.4L250.8,219.1L251.6,217.9L252.3,216.6L253.1,215.4L253.8,214.3L254.6,213.2L255.3,212.2L256.1,211.4L256.8,210.5L257.6,209.7L258.3,209.0L259.1,208.5L259.8,208.3L260.6,208.3L261.3,208.4L262.1,208.6L262.8,208.8L263.6,209.1L264.3,209.3L265.1,209.6L265.8,209.9L266.6,210.2L267.3,210.5L268.1,210.8L268.8,211.1L269.6,211.5L270.3,211.9L271.1,212.3L271.8,212.8L272.6,213.2L273.3,213.5L274.1,213.8L274.8,214.1L275.6,214.3L276.3,214.4L277.1,214.6L277.8,214.7L278.6,214.9L279.3,215.1L280.1,215.4L280.8,215.8L281.6,216.5L282.3,217.3L283.1,218.3L283.8,219.4L284.6,220.6L285.3,222.4L286.1,224.8L286.8,227.2L287.6,228.9L288.3,229.5L289.1,229.3L289.8,228.7L290.6,227.9L291.3,226.9L292.1,225.8L292.8,224.4L293.6,222.2L294.3,219.4L295.1,216.3L295.8,213.0L296.6,209.5L297.3,205.4L298.1,200.7L298.8,196.0L299.6,191.7L300.3,188.0L301.1,184.3L301.8,180.7L302.6,177.4L303.3,175.0L304.1,173.8L304.8,173.5L305.6,173.3L306.3,173.1L307.1,173.0L307.8,173.2L308.6,174.2L309.3,175.6L310.1,177.0L310.8,178.1L311.6,179.0L312.3,179.9L313.1,180.8L313.8,181.6L314.6,182.5L315.3,183.4L316.1,184.4L316.8,185.5L317.6,186.9L318.3,188.4L319.1,190.2L319.8,192.0L320.6,194.0L321.3,195.8L322.1,197.7L322.8,199.3L323.6,200.7L324.3,202.0L325.1,203.2L325.8,204.4L326.6,205.6L327.3,206.8L328.1,208.1L328.8,209.4L329.6,210.7L330.3,212.2L331.1,214.0L331.8,216.4L332.6,219.8L333.3,223.8L334.1,228.8L334.8,235.7L335.6,242.8L336.3,248.4L337.1,253.5L337.8,258.2L338.6,261.9L339.3,264.0L340.1,265.2L340.8,266.2L341.6,267.1L342.3,267.8L343.1,268.3L343.8,268.6L344.6,268.7L345.3,268.8L346.1,268.9L346.8,269.0L347.6,269.1L348.3,269.2L349.1,269.3L349.8,269.4L350.6,269.5L351.3,269.5L352.1,269.6L352.8,269.7L353.6,269.7L354.3,269.8L355.1,269.8L355.8,269.9L356.6,269.9L357.3,269.9L358.1,270.0L358.8,270.0L359.6,270.0L360.3,270.1L361.1,270.1L361.8,270.1L362.6,270.1L363.3,270.2L364.1,270.2L364.8,270.2L365.6,270.2L366.3,270.2L367.1,270.3L367.8,270.3L368.6,270.3L369.3,270.3L370.1,270.3L370.8,270.3L371.6,270.3L372.3,270.3L373.1,270.3L373.8,270.4L374.6,270.4L375.3,270.4L376.1,270.4" fill="none" stroke="#f0f" stroke-width="1.25"/>
</g>
<clipPath id="b3"><rect x="211.8" y="283.4" width="164.1" height="119.2"/></clipPath>
<g clip-path="url(#b3)">
<path d="M210.1,370.1L211.2,371.7L212.2,370.2L213.3,370.8L214.4,370.2L215.5,369.5L216.6,371.8L217.7,372.2L218.8,373.8L219.9,373.0L221.0,372.7L222.1,374.5L223.2,373.6L224.3,373.4L225.4,373.2L226.5,375.7L227.6,374.1L228.7,374.4L229.8,374.1L230.9,376.8L232.0,374.7L233.1,377.6L234.2,374.7L235.3,374.2L236.4,376.1L237.5,373.3L238.6,371.7L239.7,371.8L240.8,370.5 M258.4,347.5L259.5,347.5L260.6,348.8L261.7,348.1L262.8,347.2L263.9,350.7 M278.3,369.2L279.4,368.7L280.5,370.4L281.6,372.5L282.7,372.8L283.8,372.5L284.9,373.4L286.0,374.3L287.1,373.3L288.2,373.7L289.3,376.5 M339.9,394.7L341.0,399.3L342.1,398.1L343.2,397.9L344.3,397.7L345.4,398.1L346.5,398.3L347.6,398.2L348.7,398.8L349.8,398.7L350.9,398.9L352.0,397.9L353.1,399.1L354.2,398.3L355.3,398.8L356.4,397.7L357.5,398.4L358.6,397.5L359.7,399.0L360.8,398.7L361.9,398.5L363.0,398.5L364.1,398.9L365.2,399.6L366.3,398.4L367.4,399.5L368.5,399.1L369.6,399.3L370.7,398.2L371.8,397.8L372.9,399.7L374.0,397.6L375.1,399.6L376.2,399.3L377.3,398.0L378.4,397.5" fill="none" stroke="#000" stroke-width="3.6" stroke-linejoin="round" stroke-linecap="round"/>
<path d="M208.2,370.1a1.8,1.8 0 1,0 3.6,0a1.8,1.8 0 1,0 -3.6,0M209.3,371.7a1.8,1.8 0 1,0 3.6,0a1.8,1.8 0 1,0 -3.6,0M210.4,370.2a1.8,1.8 0 1,0 3.6,0a1.8,1.8 0 1,0 -3.6,0M211.5,370.8a1.8,1.8 0 1,0 3.6,0a1.8,1.8 0 1,0 -3.6,0M212.6,370.2a1.8,1.8 0 1,0 3.6,0a1.8,1.8 0 1,0 -3.6,0M213.7,369.5a1.8,1.8 0 1,0 3.6,0a1.8,1.8 0 1,0 -3.6,0M214.8,371.8a1.8,1.8 0 1,0 3.6,0a1.8,1.8 0 1,0 -3.6,0M215.9,372.2a1.8,1.8 0 1,0 3.6,0a1.8,1.8 0 1,0 -3.6,0M217.0,373.8a1.8,1.8 0 1,0 3.6,0a1.8,1.8 0 1,0 -3.6,0M218.1,373.0a1.8,1.8 0 1,0 3.6,0a1.8,1.8 0 1,0 -3.6,0M219.2,372.7a1.8,1.8 0 1,0 3.6,0a1.8,1.8 0 1,0 -3.6,0M220.3,374.5a1.8,1.8 0 1,0 3.6,0a1.8,1.8 0 1,0 -3.6,0M221.4,373.6a1.8,1.8 0 1,0 3.6,0a1.8,1.8 0 1,0 -3.6,0M222.5,373.4a1.8,1.8 0 1,0 3.6,0a1.8,1.8 0 1,0 -3.6,0M223.6,373.2a1.8,1.8 0 1,0 3.6,0a1.8,1.8 0 1,0 -3.6,0M224.7,375.7a1.8,1.8 0 1,0 3.6,0a1.8,1.8 0 1,0 -3.6,0M225.8,374.1a1.8,1.8 0 1,0 3.6,0a1.8,1.8 0 1,0 -3.6,0M226.9,374.4a1.8,1.8 0 1,0 3.6,0a1.8,1.8 0 1,0 -3.6,0M228.0,374.1a1.8,1.8 0 1,0 3.6,0a1.8,1.8 0 1,0 -3.6,0M229.1,376.8a1.8,1.8 0 1,0 3.6,0a1.8,1.8 0 1,0 -3.6,0M230.2,374.7a1.8,1.8 0 1,0 3.6,0a1.8,1.8 0 1,0 -3.6,0M231.3,377.6a1.8,1.8 0 1,0 3.6,0a1.8,1.8 0 1,0 -3.6,0M232.4,374.7a1.8,1.8 0 1,0 3.6,0a1.8,1.8 0 1,0 -3.6,0M233.5,374.2a1.8,1.8 0 1,0 3.6,0a1.8,1.8 0 1,0 -3.6,0M234.6,376.1a1.8,1.8 0 1,0 3.6,0a1.8,1.8 0 1,0 -3.6,0M235.7,373.3a1.8,1.8 0 1,0 3.6,0a1.8,1.8 0 1,0 -3.6,0M236.8,371.7a1.8,1.8 0 1,0 3.6,0a1.8,1.8 0 1,0 -3.6,0M237.9,371.8a1.8,1.8 0 1,0 3.6,0a1.8,1.8 0 1,0 -3.6,0M239.0,370.5a1.8,1.8 0 1,0 3.6,0a1.8,1.8 0 1,0 -3.6,0M240.1,371.2a1.8,1.8 0 1,0 3.6,0a1.8,1.8 0 1,0 -3.6,0M241.2,370.5a1.8,1.8 0 1,0 3.6,0a1.8,1.8 0 1,0 -3.6,0M242.3,367.4a1.8,1.8 0 1,0 3.6,0a1.8,1.8 0 1,0 -3.6,0M243.4,367.9a1.8,1.8 0 1,0 3.6,0a1.8,1.8 0 1,0 -3.6,0M244.5,367.3a1.8,1.8 0 1,0 3.6,0a1.8,1.8 0 1,0 -3.6,0M245.6,364.8a1.8,1.8 0 1,0 3.6,0a1.8,1.8 0 1,0 -3.6,0M246.7,361.5a1.8,1.8 0 1,0 3.6,0a1.8,1.8 0 1,0 -3.6,0M247.8,361.1a1.8,1.8 0 1,0 3.6,0a1.8,1.8 0 1,0 -3.6,0M248.9,357.2a1.8,1.8 0 1,0 3.6,0a1.8,1.8 0 1,0 -3.6,0M250.0,355.8a1.8,1.8 0 1,0 3.6,0a1.8,1.8 0 1,0 -3.6,0M251.1,352.8a1.8,1.8 0 1,0 3.6,0a1.8,1.8 0 1,0 -3.6,0M252.2,353.3a1.8,1.8 0 1,0 3.6,0a1.8,1.8 0 1,0 -3.6,0M253.3,351.9a1.8,1.8 0 1,0 3.6,0a1.8,1.8 0 1,0 -3.6,0M254.4,348.7a1.8,1.8 0 1,0 3.6,0a1.8,1.8 0 1,0 -3.6,0M255.5,347.9a1.8,1.8 0 1,0 3.6,0a1.8,1.8 0 1,0 -3.6,0M256.6,347.5a1.8,1.8 0 1,0 3.6,0a1.8,1.8 0 1,0 -3.6,0M257.7,347.5a1.8,1.8 0 1,0 3.6,0a1.8,1.8 0 1,0 -3.6,0M258.8,348.8a1.8,1.8 0 1,0 3.6,0a1.8,1.8 0 1,0 -3.6,0M259.9,348.1a1.8,1.8 0 1,0 3.6,0a1.8,1.8 0 1,0 -3.6,0M261.0,347.2a1.8,1.8 0 1,0 3.6,0a1.8,1.8 0 1,0 -3.6,0M262.1,350.7a1.8,1.8 0 1,0 3.6,0a1.8,1.8 0 1,0 -3.6,0M263.2,349.8a1.8,1.8 0 1,0 3.6,0a1.8,1.8 0 1,0 -3.6,0M264.3,352.3a1.8,1.8 0 1,0 3.6,0a1.8,1.8 0 1,0 -3.6,0M265.4,354.2a1.8,1.8 0 1,0 3.6,0a1.8,1.8 0 1,0 -3.6,0M266.6,354.7a1.8,1.8 0 1,0 3.6,0a1.8,1.8 0 1,0 -3.6,0M267.7,356.6a1.8,1.8 0 1,0 3.6,0a1.8,1.8 0 1,0 -3.6,0M268.8,359.6a1.8,1.8 0 1,0 3.6,0a1.8,1.8 0 1,0 -3.6,0M269.9,362.0a1.8,1.8 0 1,0 3.6,0a1.8,1.8 0 1,0 -3.6,0M271.0,363.6a1.8,1.8 0 1,0 3.6,0a1.8,1.8 0 1,0 -3.6,0M272.1,364.0a1.8,1.8 0 1,0 3.6,0a1.8,1.8 0 1,0 -3.6,0M273.2,364.5a1.8,1.8 0 1,0 3.6,0a1.8,1.8 0 1,0 -3.6,0M274.3,366.2a1.8,1.8 0 1,0 3.6,0a1.8,1.8 0 1,0 -3.6,0M275.4,370.1a1.8,1.8 0 1,0 3.6,0a1.8,1.8 0 1,0 -3.6,0M276.5,369.2a1.8,1.8 0 1,0 3.6,0a1.8,1.8 0 1,0 -3.6,0M277.6,368.7a1.8,1.8 0 1,0 3.6,0a1.8,1.8 0 1,0 -3.6,0M278.7,370.4a1.8,1.8 0 1,0 3.6,0a1.8,1.8 0 1,0 -3.6,0M279.8,372.5a1.8,1.8 0 1,0 3.6,0a1.8,1.8 0 1,0 -3.6,0M280.9,372.8a1.8,1.8 0 1,0 3.6,0a1.8,1.8 0 1,0 -3.6,0M282.0,372.5a1.8,1.8 0 1,0 3.6,0a1.8,1.8 0 1,0 -3.6,0M283.1,373.4a1.8,1.8 0 1,0 3.6,0a1.8,1.8 0 1,0 -3.6,0M284.2,374.3a1.8,1.8 0 1,0 3.6,0a1.8,1.8 0 1,0 -3.6,0M285.3,373.3a1.8,1.8 0 1,0 3.6,0a1.8,1.8 0 1,0 -3.6,0M286.4,373.7a1.8,1.8 0 1,0 3.6,0a1.8,1.8 0 1,0 -3.6,0M287.5,376.5a1.8,1.8 0 1,0 3.6,0a1.8,1.8 0 1,0 -3.6,0M288.6,374.1a1.8,1.8 0 1,0 3.6,0a1.8,1.8 0 1,0 -3.6,0M289.7,373.4a1.8,1.8 0 1,0 3.6,0a1.8,1.8 0 1,0 -3.6,0M290.8,367.5a1.8,1.8 0 1,0 3.6,0a1.8,1.8 0 1,0 -3.6,0M291.9,361.6a1.8,1.8 0 1,0 3.6,0a1.8,1.8 0 1,0 -3.6,0M293.0,356.1a1.8,1.8 0 1,0 3.6,0a1.8,1.8 0 1,0 -3.6,0M294.1,348.0a1.8,1.8 0 1,0 3.6,0a1.8,1.8 0 1,0 -3.6,0M295.2,342.8a1.8,1.8 0 1,0 3.6,0a1.8,1.8 0 1,0 -3.6,0M296.3,332.4a1.8,1.8 0 1,0 3.6,0a1.8,1.8 0 1,0 -3.6,0M297.4,324.3a1.8,1.8 0 1,0 3.6,0a1.8,1.8 0 1,0 -3.6,0M298.5,318.0a1.8,1.8 0 1,0 3.6,0a1.8,1.8 0 1,0 -3.6,0M299.6,309.5a1.8,1.8 0 1,0 3.6,0a1.8,1.8 0 1,0 -3.6,0M300.7,303.3a1.8,1.8 0 1,0 3.6,0a1.8,1.8 0 1,0 -3.6,0M301.8,295.0a1.8,1.8 0 1,0 3.6,0a1.8,1.8 0 1,0 -3.6,0M302.9,292.6a1.8,1.8 0 1,0 3.6,0a1.8,1.8 0 1,0 -3.6,0M304.0,291.5a1.8,1.8 0 1,0 3.6,0a1.8,1.8 0 1,0 -3.6,0M305.1,293.6a1.8,1.8 0 1,0 3.6,0a1.8,1.8 0 1,0 -3.6,0M306.2,296.7a1.8,1.8 0 1,0 3.6,0a1.8,1.8 0 1,0 -3.6,0M307.3,304.2a1.8,1.8 0 1,0 3.6,0a1.8,1.8 0 1,0 -3.6,0M308.4,312.4a1.8,1.8 0 1,0 3.6,0a1.8,1.8 0 1,0 -3.6,0M309.5,321.1a1.8,1.8 0 1,0 3.6,0a1.8,1.8 0 1,0 -3.6,0M310.6,329.2a1.8,1.8 0 1,0 3.6,0a1.8,1.8 0 1,0 -3.6,0M311.7,336.2a1.8,1.8 0 1,0 3.6,0a1.8,1.8 0 1,0 -3.6,0M312.8,342.0a1.8,1.8 0 1,0 3.6,0a1.8,1.8 0 1,0 -3.6,0M313.9,348.3a1.8,1.8 0 1,0 3.6,0a1.8,1.8 0 1,0 -3.6,0M315.0,350.1a1.8,1.8 0 1,0 3.6,0a1.8,1.8 0 1,0 -3.6,0M316.1,353.9a1.8,1.8 0 1,0 3.6,0a1.8,1.8 0 1,0 -3.6,0M317.2,355.7a1.8,1.8 0 1,0 3.6,0a1.8,1.8 0 1,0 -3.6,0M318.3,358.8a1.8,1.8 0 1,0 3.6,0a1.8,1.8 0 1,0 -3.6,0M319.4,359.2a1.8,1.8 0 1,0 3.6,0a1.8,1.8 0 1,0 -3.6,0M320.5,358.9a1.8,1.8 0 1,0 3.6,0a1.8,1.8 0 1,0 -3.6,0M321.6,361.4a1.8,1.8 0 1,0 3.6,0a1.8,1.8 0 1,0 -3.6,0M322.7,362.4a1.8,1.8 0 1,0 3.6,0a1.8,1.8 0 1,0 -3.6,0M323.8,365.7a1.8,1.8 0 1,0 3.6,0a1.8,1.8 0 1,0 -3.6,0M324.9,368.8a1.8,1.8 0 1,0 3.6,0a1.8,1.8 0 1,0 -3.6,0M326.0,373.6a1.8,1.8 0 1,0 3.6,0a1.8,1.8 0 1,0 -3.6,0M327.1,375.3a1.8,1.8 0 1,0 3.6,0a1.8,1.8 0 1,0 -3.6,0M328.2,378.8a1.8,1.8 0 1,0 3.6,0a1.8,1.8 0 1,0 -3.6,0M329.3,381.7a1.8,1.8 0 1,0 3.6,0a1.8,1.8 0 1,0 -3.6,0M330.4,384.6a1.8,1.8 0 1,0 3.6,0a1.8,1.8 0 1,0 -3.6,0M331.5,385.8a1.8,1.8 0 1,0 3.6,0a1.8,1.8 0 1,0 -3.6,0M332.6,390.7a1.8,1.8 0 1,0 3.6,0a1.8,1.8 0 1,0 -3.6,0M333.7,392.4a1.8,1.8 0 1,0 3.6,0a1.8,1.8 0 1,0 -3.6,0M334.8,392.1a1.8,1.8 0 1,0 3.6,0a1.8,1.8 0 1,0 -3.6,0M335.9,393.3a1.8,1.8 0 1,0 3.6,0a1.8,1.8 0 1,0 -3.6,0M337.0,395.4a1.8,1.8 0 1,0 3.6,0a1.8,1.8 0 1,0 -3.6,0M338.1,394.7a1.8,1.8 0 1,0 3.6,0a1.8,1.8 0 1,0 -3.6,0M339.2,399.3a1.8,1.8 0 1,0 3.6,0a1.8,1.8 0 1,0 -3.6,0M340.3,398.1a1.8,1.8 0 1,0 3.6,0a1.8,1.8 0 1,0 -3.6,0M341.4,397.9a1.8,1.8 0 1,0 3.6,0a1.8,1.8 0 1,0 -3.6,0M342.5,397.7a1.8,1.8 0 1,0 3.6,0a1.8,1.8 0 1,0 -3.6,0M343.6,398.1a1.8,1.8 0 1,0 3.6,0a1.8,1.8 0 1,0 -3.6,0M344.7,398.3a1.8,1.8 0 1,0 3.6,0a1.8,1.8 0 1,0 -3.6,0M345.8,398.2a1.8,1.8 0 1,0 3.6,0a1.8,1.8 0 1,0 -3.6,0M346.9,398.8a1.8,1.8 0 1,0 3.6,0a1.8,1.8 0 1,0 -3.6,0M348.0,398.7a1.8,1.8 0 1,0 3.6,0a1.8,1.8 0 1,0 -3.6,0M349.1,398.9a1.8,1.8 0 1,0 3.6,0a1.8,1.8 0 1,0 -3.6,0M350.2,397.9a1.8,1.8 0 1,0 3.6,0a1.8,1.8 0 1,0 -3.6,0M351.3,399.1a1.8,1.8 0 1,0 3.6,0a1.8,1.8 0 1,0 -3.6,0M352.4,398.3a1.8,1.8 0 1,0 3.6,0a1.8,1.8 0 1,0 -3.6,0M353.5,398.8a1.8,1.8 0 1,0 3.6,0a1.8,1.8 0 1,0 -3.6,0M354.6,397.7a1.8,1.8 0 1,0 3.6,0a1.8,1.8 0 1,0 -3.6,0M355.7,398.4a1.8,1.8 0 1,0 3.6,0a1.8,1.8 0 1,0 -3.6,0M356.8,397.5a1.8,1.8 0 1,0 3.6,0a1.8,1.8 0 1,0 -3.6,0M357.9,399.0a1.8,1.8 0 1,0 3.6,0a1.8,1.8 0 1,0 -3.6,0M359.0,398.7a1.8,1.8 0 1,0 3.6,0a1.8,1.8 0 1,0 -3.6,0M360.1,398.5a1.8,1.8 0 1,0 3.6,0a1.8,1.8 0 1,0 -3.6,0M361.2,398.5a1.8,1.8 0 1,0 3.6,0a1.8,1.8 0 1,0 -3.6,0M362.3,398.9a1.8,1.8 0 1,0 3.6,0a1.8,1.8 0 1,0 -3.6,0M363.4,399.6a1.8,1.8 0 1,0 3.6,0a1.8,1.8 0 1,0 -3.6,0M364.5,398.4a1.8,1.8 0 1,0 3.6,0a1.8,1.8 0 1,0 -3.6,0M365.6,399.5a1.8,1.8 0 1,0 3.6,0a1.8,1.8 0 1,0 -3.6,0M366.7,399.1a1.8,1.8 0 1,0 3.6,0a1.8,1.8 0 1,0 -3.6,0M367.8,399.3a1.8,1.8 0 1,0 3.6,0a1.8,1.8 0 1,0 -3.6,0M368.9,398.2a1.8,1.8 0 1,0 3.6,0a1.8,1.8 0 1,0 -3.6,0M370.0,397.8a1.8,1.8 0 1,0 3.6,0a1.8,1.8 0 1,0 -3.6,0M371.1,399.7a1.8,1.8 0 1,0 3.6,0a1.8,1.8 0 1,0 -3.6,0M372.2,397.6a1.8,1.8 0 1,0 3.6,0a1.8,1.8 0 1,0 -3.6,0M373.3,399.6a1.8,1.8 0 1,0 3.6,0a1.8,1.8 0 1,0 -3.6,0M374.4,399.3a1.8,1.8 0 1,0 3.6,0a1.8,1.8 0 1,0 -3.6,0M375.5,398.0a1.8,1.8 0 1,0 3.6,0a1.8,1.8 0 1,0 -3.6,0M376.6,397.5a1.8,1.8 0 1,0 3.6,0a1.8,1.8 0 1,0 -3.6,0" fill="none" stroke="#000" stroke-width="1.5"/>
<path d="M211.1,371.4L211.8,371.5L212.6,371.6L213.3,371.7L214.1,371.8L214.8,371.9L215.6,372.1L216.3,372.2L217.1,372.4L217.8,372.6L218.6,372.7L219.3,372.9L220.1,373.1L220.8,373.3L221.6,373.4L222.3,373.6L223.1,373.8L223.8,374.0L224.6,374.1L225.3,374.3L226.1,374.5L226.8,374.7L227.6,374.8L228.3,375.0L229.1,375.2L229.8,375.3L230.6,375.5L231.3,375.6L232.1,375.7L232.8,375.9L233.6,376.0L234.3,376.1L235.1,376.2L235.8,376.2L236.6,376.3L237.3,376.4L238.1,376.4L238.8,376.5L239.6,376.6L240.3,376.7L241.1,376.7L241.8,376.8L242.6,376.9L243.3,376.9L244.1,377.0L244.8,377.1L245.6,377.1L246.3,377.2L247.1,377.3L247.8,377.4L248.6,377.4L249.3,377.5L250.1,377.6L250.8,377.6L251.6,377.7L252.3,377.8L253.1,377.9L253.8,377.9L254.6,378.0L255.3,378.1L256.1,378.1L256.8,378.2L257.6,378.3L258.3,378.4L259.1,378.4L259.8,378.5L260.6,378.6L261.3,378.7L262.1,378.8L262.8,378.9L263.6,379.0L264.3,379.1L265.1,379.2L265.8,379.3L266.6,379.4L267.3,379.5L268.1,379.6L268.8,379.7L269.6,379.9L270.3,380.0L271.1,380.1L271.8,380.2L272.6,380.3L273.3,380.4L274.1,380.5L274.8,380.6L275.6,380.7L276.3,380.8L277.1,380.9L277.8,381.0L278.6,381.1L279.3,381.2L280.1,381.3L280.8,381.5L281.6,381.6L282.3,381.7L283.1,381.8L283.8,381.9L284.6,382.0L285.3,382.1L286.1,382.2L286.8,382.3L287.6,382.4L288.3,382.5L289.1,382.6L289.8,382.7L290.6,382.8L291.3,383.0L292.1,383.1L292.8,383.2L293.6,383.3L294.3,383.4L295.1,383.5L295.8,383.6L296.6,383.7L297.3,383.9L298.1,384.0L298.8,384.1L299.6,384.3L300.3,384.5L301.1,384.8L301.8,385.0L302.6,385.3L303.3,385.6L304.1,386.0L304.8,386.4L305.6,386.8L306.3,387.2L307.1,387.7L307.8,388.1L308.6,388.5L309.3,388.9L310.1,389.3L310.8,389.8L311.6,390.2L312.3,390.5L313.1,390.9L313.8,391.3L314.6,391.7L315.3,392.1L316.1,392.4L316.8,392.7L317.6,393.0L318.3,393.3L319.1,393.5L319.8,393.8L320.6,394.0L321.3,394.2L322.1,394.3L322.8,394.5L323.6,394.6L324.3,394.8L325.1,394.9L325.8,395.1L326.6,395.2L327.3,395.4L328.1,395.5L328.8,395.7L329.6,395.8L330.3,396.0L331.1,396.1L331.8,396.3L332.6,396.4L333.3,396.5L334.1,396.6L334.8,396.7L335.6,396.8L336.3,396.9L337.1,397.0L337.8,397.1L338.6,397.1L339.3,397.1L340.1,397.2L340.8,397.2L341.6,397.3L342.3,397.3L343.1,397.4L343.8,397.4L344.6,397.4L345.3,397.5L346.1,397.5L346.8,397.6L347.6,397.6L348.3,397.7L349.1,397.7L349.8,397.7L350.6,397.8L351.3,397.8L352.1,397.9L352.8,397.9L353.6,398.0L354.3,398.0L355.1,398.0L355.8,398.1L356.6,398.1L357.3,398.2L358.1,398.2L358.8,398.2L359.6,398.3L360.3,398.3L361.1,398.4L361.8,398.4L362.6,398.5L363.3,398.5L364.1,398.5L364.8,398.5L365.6,398.6L366.3,398.6L367.1,398.6L367.8,398.6L368.6,398.6L369.3,398.6L370.1,398.6L370.8,398.6L371.6,398.6L372.3,398.6L373.1,398.6L373.8,398.6L374.6,398.6L375.3,398.6L376.1,398.6" fill="none" stroke="#1a1ab0" stroke-width="1.45"/>
<path d="M234.3,375.6L235.1,375.6L235.8,375.5L236.6,375.4L237.3,375.2L238.1,375.0L238.8,374.8L239.6,374.4L240.3,374.0L241.1,373.6L241.8,373.0L242.6,372.3L243.3,371.6L244.1,370.7L244.8,369.8L245.6,368.7L246.3,367.6L247.1,366.3L247.8,365.0L248.6,363.6L249.3,362.1L250.1,360.6L250.8,359.1L251.6,357.6L252.3,356.2L253.1,354.8L253.8,353.5L254.6,352.3L255.3,351.2L256.1,350.4L256.8,349.7L257.6,349.2L258.3,349.0L259.1,348.9L259.8,349.1L260.6,349.5L261.3,350.1L262.1,350.8L262.8,351.7L263.6,352.7L264.3,353.9L265.1,355.1L265.8,356.5L266.6,357.9L267.3,359.4L268.1,360.9L268.8,362.4L269.6,363.9L270.3,365.4L271.1,366.9L271.8,368.3L272.6,369.6L273.3,370.9L274.1,372.1L274.8,373.2L275.6,374.2L276.3,375.2L277.1,376.1L277.8,376.9L278.6,377.6L279.3,378.2L280.1,378.8L280.8,379.3L281.6,379.8L282.3,380.2L283.1,380.6L283.8,380.9L284.6,381.2L285.3,381.5L286.1,381.7L286.8,381.9" fill="none" stroke="#3cc43c" stroke-width="1.45"/>
<path d="M235.8,375.9L236.6,375.9L237.3,375.9L238.1,375.9L238.8,375.9L239.6,375.9L240.3,375.9L241.1,375.9L241.8,375.9L242.6,375.9L243.3,375.8L244.1,375.8L244.8,375.7L245.6,375.7L246.3,375.6L247.1,375.5L247.8,375.5L248.6,375.4L249.3,375.3L250.1,375.2L250.8,375.0L251.6,374.9L252.3,374.8L253.1,374.6L253.8,374.5L254.6,374.3L255.3,374.2L256.1,374.0L256.8,373.8L257.6,373.6L258.3,373.5L259.1,373.3L259.8,373.1L260.6,373.0L261.3,372.8L262.1,372.6L262.8,372.5L263.6,372.4L264.3,372.2L265.1,372.1L265.8,372.0L266.6,371.9L267.3,371.8L268.1,371.7L268.8,371.6L269.6,371.6L270.3,371.5L271.1,371.5L271.8,371.5L272.6,371.5L273.3,371.5L274.1,371.6L274.8,371.6L275.6,371.7L276.3,371.8L277.1,372.0L277.8,372.1L278.6,372.3L279.3,372.6L280.1,372.8L280.8,373.1L281.6,373.5L282.3,373.8L283.1,374.2L283.8,374.6L284.6,375.0L285.3,375.4L286.1,375.9L286.8,376.3L287.6,376.7L288.3,377.2L289.1,377.6L289.8,378.1L290.6,378.5L291.3,379.0L292.1,379.4L292.8,379.8L293.6,380.2L294.3,380.6L295.1,381.0L295.8,381.3L296.6,381.7L297.3,382.0L298.1,382.3L298.8,382.6L299.6,383.0L300.3,383.4L301.1,383.7L301.8,384.1L302.6,384.5L303.3,385.0L304.1,385.4L304.8,385.9L305.6,386.4L306.3,386.9" fill="none" stroke="#1a1ab0" stroke-width="1.45"/>
<path d="M285.3,381.7L286.1,381.6L286.8,381.5L287.6,381.2L288.3,380.8L289.1,380.2L289.8,379.4L290.6,378.2L291.3,376.7L292.1,374.8L292.8,372.4L293.6,369.4L294.3,365.8L295.1,361.6L295.8,356.7L296.6,351.1L297.3,345.0L298.1,338.5L298.8,331.6L299.6,324.7L300.3,317.8L301.1,311.3L301.8,305.4L302.6,300.3L303.3,296.3L304.1,293.6L304.8,292.3L305.6,292.5L306.3,294.6L307.1,298.5L307.8,304.0L308.6,310.9L309.3,318.7L310.1,327.1L310.8,335.8L311.6,344.3L312.3,352.4L313.1,359.8L313.8,366.5L314.6,372.3L315.3,377.2L316.1,381.3L316.8,384.5L317.6,387.1L318.3,389.1L319.1,390.7L319.8,391.8L320.6,392.7L321.3,393.3L322.1,393.8" fill="none" stroke="#3cc43c" stroke-width="1.45"/>
<path d="M304.1,385.6L304.8,385.8L305.6,386.0L306.3,386.1L307.1,386.1L307.8,385.9L308.6,385.6L309.3,385.1L310.1,384.4L310.8,383.5L311.6,382.4L312.3,381.0L313.1,379.4L313.8,377.7L314.6,375.8L315.3,373.9L316.1,371.9L316.8,370.0L317.6,368.4L318.3,366.9L319.1,365.9L319.8,365.2L320.6,365.0L321.3,365.3L322.1,366.0L322.8,367.2L323.6,368.8L324.3,370.8L325.1,373.0L325.8,375.4L326.6,377.8L327.3,380.3L328.1,382.6L328.8,384.9L329.6,386.9L330.3,388.8L331.1,390.4L331.8,391.8L332.6,392.9L333.3,393.9L334.1,394.7L334.8,395.3L335.6,395.8L336.3,396.2L337.1,396.5" fill="none" stroke="#1a1ab0" stroke-width="1.45"/>
<path d="M211.1,370.2L211.8,370.4L212.6,370.7L213.3,370.9L214.1,371.1L214.8,371.3L215.6,371.5L216.3,371.8L217.1,372.0L217.8,372.2L218.6,372.4L219.3,372.7L220.1,372.9L220.8,373.2L221.6,373.4L222.3,373.7L223.1,373.9L223.8,374.1L224.6,374.3L225.3,374.4L226.1,374.6L226.8,374.7L227.6,374.9L228.3,375.0L229.1,375.1L229.8,375.2L230.6,375.3L231.3,375.4L232.1,375.4L232.8,375.4L233.6,375.3L234.3,375.1L235.1,374.9L235.8,374.6L236.6,374.3L237.3,374.0L238.1,373.6L238.8,373.2L239.6,372.8L240.3,372.3L241.1,371.7L241.8,370.9L242.6,370.1L243.3,369.2L244.1,368.3L244.8,367.3L245.6,366.3L246.3,365.3L247.1,364.2L247.8,362.9L248.6,361.5L249.3,360.0L250.1,358.5L250.8,357.0L251.6,355.5L252.3,354.2L253.1,353.0L253.8,351.9L254.6,350.7L255.3,349.6L256.1,348.4L256.8,347.4L257.6,346.5L258.3,345.8L259.1,345.3L259.8,345.2L260.6,345.3L261.3,345.6L262.1,346.1L262.8,346.6L263.6,347.3L264.3,348.0L265.1,348.8L265.8,349.6L266.6,350.5L267.3,351.6L268.1,352.9L268.8,354.3L269.6,355.8L270.3,357.2L271.1,358.6L271.8,359.7L272.6,360.8L273.3,361.8L274.1,362.8L274.8,363.8L275.6,364.7L276.3,365.6L277.1,366.4L277.8,367.2L278.6,368.0L279.3,368.7L280.1,369.3L280.8,370.0L281.6,370.6L282.3,371.1L283.1,371.7L283.8,372.2L284.6,372.8L285.3,373.3L286.1,373.9L286.8,374.6L287.6,375.3L288.3,375.8L289.1,376.1L289.8,375.7L290.6,374.3L291.3,372.2L292.1,369.5L292.8,366.5L293.6,363.4L294.3,359.4L295.1,354.4L295.8,348.8L296.6,343.1L297.3,337.6L298.1,332.4L298.8,326.9L299.6,321.4L300.3,316.1L301.1,311.2L301.8,306.9L302.6,302.4L303.3,298.0L304.1,294.2L304.8,291.8L305.6,291.4L306.3,292.6L307.1,294.8L307.8,297.6L308.6,300.8L309.3,305.6L310.1,311.9L310.8,318.4L311.6,324.3L312.3,329.4L313.1,334.4L313.8,339.0L314.6,343.0L315.3,346.0L316.1,348.7L316.8,351.2L317.6,353.3L318.3,355.3L319.1,357.0L319.8,358.5L320.6,359.8L321.3,360.8L322.1,361.6L322.8,362.5L323.6,363.6L324.3,364.9L325.1,366.7L325.8,368.9L326.6,371.2L327.3,373.6L328.1,375.7L328.8,377.6L329.6,379.6L330.3,381.5L331.1,383.3L331.8,385.1L332.6,386.8L333.3,388.4L334.1,389.8L334.8,391.0L335.6,392.0L336.3,393.1L337.1,394.1L337.8,395.1L338.6,395.9L339.3,396.7L340.1,397.2L340.8,397.6L341.6,397.8L342.3,397.9L343.1,397.9L343.8,398.0L344.6,398.0L345.3,398.1L346.1,398.1L346.8,398.2L347.6,398.2L348.3,398.2L349.1,398.3L349.8,398.3L350.6,398.3L351.3,398.4L352.1,398.4L352.8,398.4L353.6,398.4L354.3,398.5L355.1,398.5L355.8,398.5L356.6,398.5L357.3,398.5L358.1,398.5L358.8,398.6L359.6,398.6L360.3,398.6L361.1,398.6L361.8,398.6L362.6,398.6L363.3,398.6L364.1,398.6L364.8,398.6L365.6,398.6L366.3,398.6L367.1,398.6L367.8,398.6L368.6,398.6L369.3,398.6L370.1,398.6L370.8,398.6L371.6,398.6L372.3,398.6L373.1,398.6L373.8,398.6L374.6,398.6L375.3,398.6L376.1,398.6" fill="none" stroke="#f0f" stroke-width="1.25"/>
</g>
<clipPath id="b4"><rect x="211.8" y="404.1" width="164.1" height="135.1"/></clipPath>
<g clip-path="url(#b4)">
<path d="M210.1,518.3L211.1,517.6L212.1,515.3L213.1,516.3L214.1,517.2L215.1,516.7L216.1,516.5L217.1,517.0L218.1,516.4L219.1,518.0L220.1,515.6L221.1,516.5L222.1,517.8L223.1,517.2L224.1,515.6L225.1,516.7L226.1,516.4L227.1,515.2L228.1,517.6L229.1,516.9L230.1,518.0L231.1,516.1L232.1,517.6L233.1,515.0L234.1,517.1L235.1,516.9L236.1,514.2L237.1,517.4L238.1,517.2L239.1,517.3L240.1,518.0L241.1,515.2L242.1,513.7 M254.1,493.2L255.1,494.6L256.1,493.5L257.1,495.7 M269.1,515.7L270.1,517.1L271.1,518.2L272.1,517.5L273.1,519.8L274.1,519.6L275.1,518.3L276.1,518.8L277.1,519.1L278.1,519.9L279.1,520.5L280.1,520.8L281.1,518.4L282.1,520.5L283.1,521.6L284.1,520.5L285.1,519.1L286.1,518.5L287.1,520.4L288.1,519.5L289.1,519.1 M318.1,522.7L319.1,524.3L320.1,526.1L321.1,524.6L322.1,524.0L323.1,527.0L324.1,524.7L325.1,526.9L326.1,524.2L327.1,526.5L328.1,527.9L329.1,525.6L330.1,527.3L331.1,527.4L332.1,526.9L333.1,526.6L334.1,524.9L335.1,526.4L336.1,525.2L337.1,524.2L338.1,526.0L339.1,524.7L340.1,525.7L341.1,527.1L342.1,526.9L343.1,525.9L344.1,525.0L345.1,526.1L346.1,522.9L347.1,525.4L348.1,526.7L349.1,526.3L350.1,526.8L351.1,524.5L352.1,525.0L353.1,526.5L354.1,526.5L355.1,526.2L356.1,526.8L357.1,528.1L358.1,525.6L359.1,525.5L360.1,528.4L361.1,524.2L362.1,525.1L363.1,526.4L364.1,528.2L365.1,525.6L366.1,526.8L367.1,524.5L368.1,524.1L369.1,526.6L370.1,526.4L371.1,525.8L372.1,524.8L373.1,526.6L374.1,526.1L375.1,527.4L376.1,526.1L377.1,525.6L378.1,526.3" fill="none" stroke="#000" stroke-width="3.6" stroke-linejoin="round" stroke-linecap="round"/>
<path d="M208.3,518.3a1.75,1.75 0 1,0 3.5,0a1.75,1.75 0 1,0 -3.5,0M209.3,517.6a1.75,1.75 0 1,0 3.5,0a1.75,1.75 0 1,0 -3.5,0M210.3,515.3a1.75,1.75 0 1,0 3.5,0a1.75,1.75 0 1,0 -3.5,0M211.3,516.3a1.75,1.75 0 1,0 3.5,0a1.75,1.75 0 1,0 -3.5,0M212.3,517.2a1.75,1.75 0 1,0 3.5,0a1.75,1.75 0 1,0 -3.5,0M213.3,516.7a1.75,1.75 0 1,0 3.5,0a1.75,1.75 0 1,0 -3.5,0M214.3,516.5a1.75,1.75 0 1,0 3.5,0a1.75,1.75 0 1,0 -3.5,0M215.3,517.0a1.75,1.75 0 1,0 3.5,0a1.75,1.75 0 1,0 -3.5,0M216.3,516.4a1.75,1.75 0 1,0 3.5,0a1.75,1.75 0 1,0 -3.5,0M217.3,518.0a1.75,1.75 0 1,0 3.5,0a1.75,1.75 0 1,0 -3.5,0M218.3,515.6a1.75,1.75 0 1,0 3.5,0a1.75,1.75 0 1,0 -3.5,0M219.3,516.5a1.75,1.75 0 1,0 3.5,0a1.75,1.75 0 1,0 -3.5,0M220.3,517.8a1.75,1.75 0 1,0 3.5,0a1.75,1.75 0 1,0 -3.5,0M221.3,517.2a1.75,1.75 0 1,0 3.5,0a1.75,1.75 0 1,0 -3.5,0M222.3,515.6a1.75,1.75 0 1,0 3.5,0a1.75,1.75 0 1,0 -3.5,0M223.3,516.7a1.75,1.75 0 1,0 3.5,0a1.75,1.75 0 1,0 -3.5,0M224.3,516.4a1.75,1.75 0 1,0 3.5,0a1.75,1.75 0 1,0 -3.5,0M225.3,515.2a1.75,1.75 0 1,0 3.5,0a1.75,1.75 0 1,0 -3.5,0M226.3,517.6a1.75,1.75 0 1,0 3.5,0a1.75,1.75 0 1,0 -3.5,0M227.3,516.9a1.75,1.75 0 1,0 3.5,0a1.75,1.75 0 1,0 -3.5,0M228.3,518.0a1.75,1.75 0 1,0 3.5,0a1.75,1.75 0 1,0 -3.5,0M229.3,516.1a1.75,1.75 0 1,0 3.5,0a1.75,1.75 0 1,0 -3.5,0M230.3,517.6a1.75,1.75 0 1,0 3.5,0a1.75,1.75 0 1,0 -3.5,0M231.3,515.0a1.75,1.75 0 1,0 3.5,0a1.75,1.75 0 1,0 -3.5,0M232.3,517.1a1.75,1.75 0 1,0 3.5,0a1.75,1.75 0 1,0 -3.5,0M233.3,516.9a1.75,1.75 0 1,0 3.5,0a1.75,1.75 0 1,0 -3.5,0M234.3,514.2a1.75,1.75 0 1,0 3.5,0a1.75,1.75 0 1,0 -3.5,0M235.3,517.4a1.75,1.75 0 1,0 3.5,0a1.75,1.75 0 1,0 -3.5,0M236.3,517.2a1.75,1.75 0 1,0 3.5,0a1.75,1.75 0 1,0 -3.5,0M237.3,517.3a1.75,1.75 0 1,0 3.5,0a1.75,1.75 0 1,0 -3.5,0M238.3,518.0a1.75,1.75 0 1,0 3.5,0a1.75,1.75 0 1,0 -3.5,0M239.3,515.2a1.75,1.75 0 1,0 3.5,0a1.75,1.75 0 1,0 -3.5,0M240.3,513.7a1.75,1.75 0 1,0 3.5,0a1.75,1.75 0 1,0 -3.5,0M241.3,513.0a1.75,1.75 0 1,0 3.5,0a1.75,1.75 0 1,0 -3.5,0M242.3,511.1a1.75,1.75 0 1,0 3.5,0a1.75,1.75 0 1,0 -3.5,0M243.3,511.2a1.75,1.75 0 1,0 3.5,0a1.75,1.75 0 1,0 -3.5,0M244.3,510.6a1.75,1.75 0 1,0 3.5,0a1.75,1.75 0 1,0 -3.5,0M245.3,508.3a1.75,1.75 0 1,0 3.5,0a1.75,1.75 0 1,0 -3.5,0M246.3,505.6a1.75,1.75 0 1,0 3.5,0a1.75,1.75 0 1,0 -3.5,0M247.3,502.8a1.75,1.75 0 1,0 3.5,0a1.75,1.75 0 1,0 -3.5,0M248.3,499.9a1.75,1.75 0 1,0 3.5,0a1.75,1.75 0 1,0 -3.5,0M249.3,498.0a1.75,1.75 0 1,0 3.5,0a1.75,1.75 0 1,0 -3.5,0M250.3,494.4a1.75,1.75 0 1,0 3.5,0a1.75,1.75 0 1,0 -3.5,0M251.3,494.6a1.75,1.75 0 1,0 3.5,0a1.75,1.75 0 1,0 -3.5,0M252.3,493.2a1.75,1.75 0 1,0 3.5,0a1.75,1.75 0 1,0 -3.5,0M253.3,494.6a1.75,1.75 0 1,0 3.5,0a1.75,1.75 0 1,0 -3.5,0M254.3,493.5a1.75,1.75 0 1,0 3.5,0a1.75,1.75 0 1,0 -3.5,0M255.3,495.7a1.75,1.75 0 1,0 3.5,0a1.75,1.75 0 1,0 -3.5,0M256.3,497.1a1.75,1.75 0 1,0 3.5,0a1.75,1.75 0 1,0 -3.5,0M257.3,497.5a1.75,1.75 0 1,0 3.5,0a1.75,1.75 0 1,0 -3.5,0M258.3,499.1a1.75,1.75 0 1,0 3.5,0a1.75,1.75 0 1,0 -3.5,0M259.3,502.3a1.75,1.75 0 1,0 3.5,0a1.75,1.75 0 1,0 -3.5,0M260.3,504.0a1.75,1.75 0 1,0 3.5,0a1.75,1.75 0 1,0 -3.5,0M261.3,506.4a1.75,1.75 0 1,0 3.5,0a1.75,1.75 0 1,0 -3.5,0M262.3,509.9a1.75,1.75 0 1,0 3.5,0a1.75,1.75 0 1,0 -3.5,0M263.3,511.6a1.75,1.75 0 1,0 3.5,0a1.75,1.75 0 1,0 -3.5,0M264.3,511.3a1.75,1.75 0 1,0 3.5,0a1.75,1.75 0 1,0 -3.5,0M265.3,514.7a1.75,1.75 0 1,0 3.5,0a1.75,1.75 0 1,0 -3.5,0M266.3,514.3a1.75,1.75 0 1,0 3.5,0a1.75,1.75 0 1,0 -3.5,0M267.3,515.7a1.75,1.75 0 1,0 3.5,0a1.75,1.75 0 1,0 -3.5,0M268.3,517.1a1.75,1.75 0 1,0 3.5,0a1.75,1.75 0 1,0 -3.5,0M269.3,518.2a1.75,1.75 0 1,0 3.5,0a1.75,1.75 0 1,0 -3.5,0M270.3,517.5a1.75,1.75 0 1,0 3.5,0a1.75,1.75 0 1,0 -3.5,0M271.3,519.8a1.75,1.75 0 1,0 3.5,0a1.75,1.75 0 1,0 -3.5,0M272.3,519.6a1.75,1.75 0 1,0 3.5,0a1.75,1.75 0 1,0 -3.5,0M273.3,518.3a1.75,1.75 0 1,0 3.5,0a1.75,1.75 0 1,0 -3.5,0M274.3,518.8a1.75,1.75 0 1,0 3.5,0a1.75,1.75 0 1,0 -3.5,0M275.3,519.1a1.75,1.75 0 1,0 3.5,0a1.75,1.75 0 1,0 -3.5,0M276.3,519.9a1.75,1.75 0 1,0 3.5,0a1.75,1.75 0 1,0 -3.5,0M277.3,520.5a1.75,1.75 0 1,0 3.5,0a1.75,1.75 0 1,0 -3.5,0M278.3,520.8a1.75,1.75 0 1,0 3.5,0a1.75,1.75 0 1,0 -3.5,0M279.3,518.4a1.75,1.75 0 1,0 3.5,0a1.75,1.75 0 1,0 -3.5,0M280.3,520.5a1.75,1.75 0 1,0 3.5,0a1.75,1.75 0 1,0 -3.5,0M281.3,521.6a1.75,1.75 0 1,0 3.5,0a1.75,1.75 0 1,0 -3.5,0M282.3,520.5a1.75,1.75 0 1,0 3.5,0a1.75,1.75 0 1,0 -3.5,0M283.3,519.1a1.75,1.75 0 1,0 3.5,0a1.75,1.75 0 1,0 -3.5,0M284.3,518.5a1.75,1.75 0 1,0 3.5,0a1.75,1.75 0 1,0 -3.5,0M285.3,520.4a1.75,1.75 0 1,0 3.5,0a1.75,1.75 0 1,0 -3.5,0M286.3,519.5a1.75,1.75 0 1,0 3.5,0a1.75,1.75 0 1,0 -3.5,0M287.3,519.1a1.75,1.75 0 1,0 3.5,0a1.75,1.75 0 1,0 -3.5,0M288.3,518.4a1.75,1.75 0 1,0 3.5,0a1.75,1.75 0 1,0 -3.5,0M289.3,517.0a1.75,1.75 0 1,0 3.5,0a1.75,1.75 0 1,0 -3.5,0M290.3,514.2a1.75,1.75 0 1,0 3.5,0a1.75,1.75 0 1,0 -3.5,0M291.3,510.8a1.75,1.75 0 1,0 3.5,0a1.75,1.75 0 1,0 -3.5,0M292.3,503.2a1.75,1.75 0 1,0 3.5,0a1.75,1.75 0 1,0 -3.5,0M293.3,498.4a1.75,1.75 0 1,0 3.5,0a1.75,1.75 0 1,0 -3.5,0M294.3,491.7a1.75,1.75 0 1,0 3.5,0a1.75,1.75 0 1,0 -3.5,0M295.3,480.8a1.75,1.75 0 1,0 3.5,0a1.75,1.75 0 1,0 -3.5,0M296.3,469.7a1.75,1.75 0 1,0 3.5,0a1.75,1.75 0 1,0 -3.5,0M297.3,459.3a1.75,1.75 0 1,0 3.5,0a1.75,1.75 0 1,0 -3.5,0M298.3,447.4a1.75,1.75 0 1,0 3.5,0a1.75,1.75 0 1,0 -3.5,0M299.3,438.2a1.75,1.75 0 1,0 3.5,0a1.75,1.75 0 1,0 -3.5,0M300.3,432.1a1.75,1.75 0 1,0 3.5,0a1.75,1.75 0 1,0 -3.5,0M301.3,426.6a1.75,1.75 0 1,0 3.5,0a1.75,1.75 0 1,0 -3.5,0M302.3,427.7a1.75,1.75 0 1,0 3.5,0a1.75,1.75 0 1,0 -3.5,0M303.3,431.7a1.75,1.75 0 1,0 3.5,0a1.75,1.75 0 1,0 -3.5,0M304.3,437.4a1.75,1.75 0 1,0 3.5,0a1.75,1.75 0 1,0 -3.5,0M305.3,448.1a1.75,1.75 0 1,0 3.5,0a1.75,1.75 0 1,0 -3.5,0M306.3,459.6a1.75,1.75 0 1,0 3.5,0a1.75,1.75 0 1,0 -3.5,0M307.3,471.0a1.75,1.75 0 1,0 3.5,0a1.75,1.75 0 1,0 -3.5,0M308.3,479.9a1.75,1.75 0 1,0 3.5,0a1.75,1.75 0 1,0 -3.5,0M309.3,492.7a1.75,1.75 0 1,0 3.5,0a1.75,1.75 0 1,0 -3.5,0M310.3,500.2a1.75,1.75 0 1,0 3.5,0a1.75,1.75 0 1,0 -3.5,0M311.3,510.0a1.75,1.75 0 1,0 3.5,0a1.75,1.75 0 1,0 -3.5,0M312.3,510.6a1.75,1.75 0 1,0 3.5,0a1.75,1.75 0 1,0 -3.5,0M313.3,516.9a1.75,1.75 0 1,0 3.5,0a1.75,1.75 0 1,0 -3.5,0M314.3,520.6a1.75,1.75 0 1,0 3.5,0a1.75,1.75 0 1,0 -3.5,0M315.3,522.0a1.75,1.75 0 1,0 3.5,0a1.75,1.75 0 1,0 -3.5,0M316.3,522.7a1.75,1.75 0 1,0 3.5,0a1.75,1.75 0 1,0 -3.5,0M317.3,524.3a1.75,1.75 0 1,0 3.5,0a1.75,1.75 0 1,0 -3.5,0M318.3,526.1a1.75,1.75 0 1,0 3.5,0a1.75,1.75 0 1,0 -3.5,0M319.3,524.6a1.75,1.75 0 1,0 3.5,0a1.75,1.75 0 1,0 -3.5,0M320.3,524.0a1.75,1.75 0 1,0 3.5,0a1.75,1.75 0 1,0 -3.5,0M321.3,527.0a1.75,1.75 0 1,0 3.5,0a1.75,1.75 0 1,0 -3.5,0M322.3,524.7a1.75,1.75 0 1,0 3.5,0a1.75,1.75 0 1,0 -3.5,0M323.3,526.9a1.75,1.75 0 1,0 3.5,0a1.75,1.75 0 1,0 -3.5,0M324.3,524.2a1.75,1.75 0 1,0 3.5,0a1.75,1.75 0 1,0 -3.5,0M325.3,526.5a1.75,1.75 0 1,0 3.5,0a1.75,1.75 0 1,0 -3.5,0M326.3,527.9a1.75,1.75 0 1,0 3.5,0a1.75,1.75 0 1,0 -3.5,0M327.3,525.6a1.75,1.75 0 1,0 3.5,0a1.75,1.75 0 1,0 -3.5,0M328.3,527.3a1.75,1.75 0 1,0 3.5,0a1.75,1.75 0 1,0 -3.5,0M329.3,527.4a1.75,1.75 0 1,0 3.5,0a1.75,1.75 0 1,0 -3.5,0M330.3,526.9a1.75,1.75 0 1,0 3.5,0a1.75,1.75 0 1,0 -3.5,0M331.3,526.6a1.75,1.75 0 1,0 3.5,0a1.75,1.75 0 1,0 -3.5,0M332.3,524.9a1.75,1.75 0 1,0 3.5,0a1.75,1.75 0 1,0 -3.5,0M333.3,526.4a1.75,1.75 0 1,0 3.5,0a1.75,1.75 0 1,0 -3.5,0M334.3,525.2a1.75,1.75 0 1,0 3.5,0a1.75,1.75 0 1,0 -3.5,0M335.3,524.2a1.75,1.75 0 1,0 3.5,0a1.75,1.75 0 1,0 -3.5,0M336.3,526.0a1.75,1.75 0 1,0 3.5,0a1.75,1.75 0 1,0 -3.5,0M337.3,524.7a1.75,1.75 0 1,0 3.5,0a1.75,1.75 0 1,0 -3.5,0M338.3,525.7a1.75,1.75 0 1,0 3.5,0a1.75,1.75 0 1,0 -3.5,0M339.3,527.1a1.75,1.75 0 1,0 3.5,0a1.75,1.75 0 1,0 -3.5,0M340.3,526.9a1.75,1.75 0 1,0 3.5,0a1.75,1.75 0 1,0 -3.5,0M341.3,525.9a1.75,1.75 0 1,0 3.5,0a1.75,1.75 0 1,0 -3.5,0M342.3,525.0a1.75,1.75 0 1,0 3.5,0a1.75,1.75 0 1,0 -3.5,0M343.3,526.1a1.75,1.75 0 1,0 3.5,0a1.75,1.75 0 1,0 -3.5,0M344.3,522.9a1.75,1.75 0 1,0 3.5,0a1.75,1.75 0 1,0 -3.5,0M345.3,525.4a1.75,1.75 0 1,0 3.5,0a1.75,1.75 0 1,0 -3.5,0M346.3,526.7a1.75,1.75 0 1,0 3.5,0a1.75,1.75 0 1,0 -3.5,0M347.3,526.3a1.75,1.75 0 1,0 3.5,0a1.75,1.75 0 1,0 -3.5,0M348.3,526.8a1.75,1.75 0 1,0 3.5,0a1.75,1.75 0 1,0 -3.5,0M349.3,524.5a1.75,1.75 0 1,0 3.5,0a1.75,1.75 0 1,0 -3.5,0M350.3,525.0a1.75,1.75 0 1,0 3.5,0a1.75,1.75 0 1,0 -3.5,0M351.3,526.5a1.75,1.75 0 1,0 3.5,0a1.75,1.75 0 1,0 -3.5,0M352.3,526.5a1.75,1.75 0 1,0 3.5,0a1.75,1.75 0 1,0 -3.5,0M353.3,526.2a1.75,1.75 0 1,0 3.5,0a1.75,1.75 0 1,0 -3.5,0M354.3,526.8a1.75,1.75 0 1,0 3.5,0a1.75,1.75 0 1,0 -3.5,0M355.3,528.1a1.75,1.75 0 1,0 3.5,0a1.75,1.75 0 1,0 -3.5,0M356.3,525.6a1.75,1.75 0 1,0 3.5,0a1.75,1.75 0 1,0 -3.5,0M357.3,525.5a1.75,1.75 0 1,0 3.5,0a1.75,1.75 0 1,0 -3.5,0M358.3,528.4a1.75,1.75 0 1,0 3.5,0a1.75,1.75 0 1,0 -3.5,0M359.3,524.2a1.75,1.75 0 1,0 3.5,0a1.75,1.75 0 1,0 -3.5,0M360.3,525.1a1.75,1.75 0 1,0 3.5,0a1.75,1.75 0 1,0 -3.5,0M361.3,526.4a1.75,1.75 0 1,0 3.5,0a1.75,1.75 0 1,0 -3.5,0M362.3,528.2a1.75,1.75 0 1,0 3.5,0a1.75,1.75 0 1,0 -3.5,0M363.3,525.6a1.75,1.75 0 1,0 3.5,0a1.75,1.75 0 1,0 -3.5,0M364.3,526.8a1.75,1.75 0 1,0 3.5,0a1.75,1.75 0 1,0 -3.5,0M365.3,524.5a1.75,1.75 0 1,0 3.5,0a1.75,1.75 0 1,0 -3.5,0M366.3,524.1a1.75,1.75 0 1,0 3.5,0a1.75,1.75 0 1,0 -3.5,0M367.3,526.6a1.75,1.75 0 1,0 3.5,0a1.75,1.75 0 1,0 -3.5,0M368.3,526.4a1.75,1.75 0 1,0 3.5,0a1.75,1.75 0 1,0 -3.5,0M369.3,525.8a1.75,1.75 0 1,0 3.5,0a1.75,1.75 0 1,0 -3.5,0M370.3,524.8a1.75,1.75 0 1,0 3.5,0a1.75,1.75 0 1,0 -3.5,0M371.3,526.6a1.75,1.75 0 1,0 3.5,0a1.75,1.75 0 1,0 -3.5,0M372.3,526.1a1.75,1.75 0 1,0 3.5,0a1.75,1.75 0 1,0 -3.5,0M373.3,527.4a1.75,1.75 0 1,0 3.5,0a1.75,1.75 0 1,0 -3.5,0M374.3,526.1a1.75,1.75 0 1,0 3.5,0a1.75,1.75 0 1,0 -3.5,0M375.3,525.6a1.75,1.75 0 1,0 3.5,0a1.75,1.75 0 1,0 -3.5,0M376.3,526.3a1.75,1.75 0 1,0 3.5,0a1.75,1.75 0 1,0 -3.5,0" fill="none" stroke="#000" stroke-width="1.5"/>
<path d="M211.1,517.0L211.8,517.0L212.6,517.0L213.3,517.0L214.1,517.0L214.8,517.0L215.6,517.0L216.3,517.0L217.1,517.1L217.8,517.1L218.6,517.1L219.3,517.1L220.1,517.1L220.8,517.2L221.6,517.2L222.3,517.2L223.1,517.2L223.8,517.2L224.6,517.3L225.3,517.3L226.1,517.3L226.8,517.3L227.6,517.4L228.3,517.4L229.1,517.4L229.8,517.4L230.6,517.4L231.3,517.5L232.1,517.5L232.8,517.5L233.6,517.5L234.3,517.5L235.1,517.6L235.8,517.6L236.6,517.6L237.3,517.6L238.1,517.7L238.8,517.7L239.6,517.7L240.3,517.8L241.1,517.8L241.8,517.8L242.6,517.9L243.3,517.9L244.1,518.0L244.8,518.0L245.6,518.1L246.3,518.1L247.1,518.2L247.8,518.2L248.6,518.3L249.3,518.3L250.1,518.4L250.8,518.5L251.6,518.5L252.3,518.6L253.1,518.6L253.8,518.7L254.6,518.7L255.3,518.8L256.1,518.8L256.8,518.9L257.6,518.9L258.3,519.0L259.1,519.0L259.8,519.1L260.6,519.2L261.3,519.2L262.1,519.3L262.8,519.3L263.6,519.4L264.3,519.4L265.1,519.5L265.8,519.5L266.6,519.6L267.3,519.6L268.1,519.7L268.8,519.7L269.6,519.8L270.3,519.8L271.1,519.9L271.8,519.9L272.6,520.0L273.3,520.0L274.1,520.0L274.8,520.1L275.6,520.1L276.3,520.2L277.1,520.2L277.8,520.2L278.6,520.3L279.3,520.3L280.1,520.4L280.8,520.4L281.6,520.4L282.3,520.5L283.1,520.5L283.8,520.6L284.6,520.6L285.3,520.6L286.1,520.7L286.8,520.7L287.6,520.8L288.3,520.8L289.1,520.8L289.8,520.9L290.6,520.9L291.3,521.0L292.1,521.0L292.8,521.1L293.6,521.2L294.3,521.3L295.1,521.4L295.8,521.5L296.6,521.6L297.3,521.8L298.1,521.9L298.8,522.1L299.6,522.3L300.3,522.5L301.1,522.8L301.8,523.0L302.6,523.2L303.3,523.4L304.1,523.7L304.8,523.9L305.6,524.1L306.3,524.3L307.1,524.5L307.8,524.7L308.6,524.9L309.3,525.1L310.1,525.2L310.8,525.4L311.6,525.5L312.3,525.6L313.1,525.7L313.8,525.8L314.6,525.9L315.3,526.0L316.1,526.0L316.8,526.1L317.6,526.1L318.3,526.2L319.1,526.2L319.8,526.3L320.6,526.3L321.3,526.4L322.1,526.4L322.8,526.4L323.6,526.5L324.3,526.5L325.1,526.5L325.8,526.5L326.6,526.5L327.3,526.6L328.1,526.6L328.8,526.6L329.6,526.6L330.3,526.6L331.1,526.6L331.8,526.6L332.6,526.6L333.3,526.6L334.1,526.6L334.8,526.6L335.6,526.6L336.3,526.7L337.1,526.7L337.8,526.7L338.6,526.7L339.3,526.7L340.1,526.7L340.8,526.7L341.6,526.7L342.3,526.7L343.1,526.7L343.8,526.7L344.6,526.7L345.3,526.8L346.1,526.8L346.8,526.8L347.6,526.8L348.3,526.8L349.1,526.8L349.8,526.8L350.6,526.8L351.3,526.8L352.1,526.8L352.8,526.8L353.6,526.8L354.3,526.9L355.1,526.9L355.8,526.9L356.6,526.9L357.3,526.9L358.1,526.9L358.8,526.9L359.6,526.9L360.3,526.9L361.1,526.9L361.8,526.9L362.6,526.9L363.3,527.0L364.1,527.0L364.8,527.0L365.6,527.0L366.3,527.0L367.1,527.0L367.8,527.0L368.6,527.0L369.3,527.0L370.1,527.0L370.8,527.0L371.6,527.0L372.3,527.0L373.1,527.0L373.8,527.1L374.6,527.1L375.3,527.1L376.1,527.1" fill="none" stroke="#5a8a1e" stroke-width="1.45"/>
<path d="M236.6,517.2L237.3,517.1L238.1,517.0L238.8,516.7L239.6,516.5L240.3,516.1L241.1,515.7L241.8,515.1L242.6,514.4L243.3,513.6L244.1,512.6L244.8,511.5L245.6,510.3L246.3,508.9L247.1,507.4L247.8,505.9L248.6,504.2L249.3,502.6L250.1,500.9L250.8,499.4L251.6,498.0L252.3,496.7L253.1,495.7L253.8,494.9L254.6,494.4L255.3,494.3L256.1,494.5L256.8,494.9L257.6,495.7L258.3,496.8L259.1,498.1L259.8,499.6L260.6,501.3L261.3,503.0L262.1,504.7L262.8,506.5L263.6,508.2L264.3,509.8L265.1,511.3L265.8,512.7L266.6,514.0L267.3,515.0L268.1,516.0L268.8,516.8L269.6,517.5L270.3,518.1L271.1,518.5L271.8,518.9L272.6,519.2L273.3,519.4L274.1,519.6" fill="none" stroke="#1aa57a" stroke-width="1.45"/>
<path d="M287.6,520.2L288.3,520.0L289.1,519.5L289.8,518.9L290.6,517.9L291.3,516.5L292.1,514.6L292.8,512.2L293.6,508.9L294.3,504.9L295.1,499.9L295.8,493.9L296.6,487.1L297.3,479.5L298.1,471.2L298.8,462.7L299.6,454.3L300.3,446.3L301.1,439.3L301.8,433.7L302.6,429.7L303.3,427.7L304.1,427.9L304.8,430.2L305.6,434.5L306.3,440.5L307.1,447.8L307.8,456.1L308.6,464.9L309.3,473.8L310.1,482.4L310.8,490.4L311.6,497.5L312.3,503.8L313.1,509.0L313.8,513.3L314.6,516.8L315.3,519.5L316.1,521.5L316.8,523.0L317.6,524.1L318.3,524.8L319.1,525.4L319.8,525.8" fill="none" stroke="#1aa57a" stroke-width="1.45"/>
<path d="M211.1,514.5L211.8,514.5L212.6,514.5L213.3,514.5L214.1,514.5L214.8,514.5L215.6,514.5L216.3,514.5L217.1,514.6L217.8,514.6L218.6,514.6L219.3,514.6L220.1,514.6L220.8,514.7L221.6,514.7L222.3,514.7L223.1,514.7L223.8,514.7L224.6,514.8L225.3,514.8L226.1,514.8L226.8,514.8L227.6,514.8L228.3,514.9L229.1,514.9L229.8,514.9L230.6,514.9L231.3,514.9L232.1,514.9L232.8,514.9L233.6,514.9L234.3,514.9L235.1,514.9L235.8,514.8L236.6,514.7L237.3,514.6L238.1,514.5L238.8,514.2L239.6,514.0L240.3,513.6L241.1,513.2L241.8,512.6L242.6,511.9L243.3,511.1L244.1,510.1L244.8,509.0L245.6,507.8L246.3,506.4L247.1,504.9L247.8,503.4L248.6,501.7L249.3,500.1L250.1,498.4L250.8,496.9L251.6,495.5L252.3,494.2L253.1,493.2L253.8,492.4L254.6,491.9L255.3,491.8L256.1,492.0L256.8,492.4L257.6,493.2L258.3,494.3L259.1,495.6L259.8,497.1L260.6,498.8L261.3,500.5L262.1,502.2L262.8,504.0L263.6,505.7L264.3,507.3L265.1,508.8L265.8,510.2L266.6,511.5L267.3,512.5L268.1,513.5L268.8,514.3L269.6,515.0L270.3,515.6L271.1,516.0L271.8,516.4L272.6,516.7L273.3,516.9L274.1,517.1L274.8,517.3L275.6,517.4L276.3,517.5L277.1,517.6L277.8,517.7L278.6,517.7L279.3,517.8L280.1,517.8L280.8,517.9L281.6,517.9L282.3,518.0L283.1,518.0L283.8,518.0L284.6,518.0L285.3,518.0L286.1,518.0L286.8,517.9L287.6,517.7L288.3,517.5L289.1,517.0L289.8,516.4L290.6,515.4L291.3,514.0L292.1,512.1L292.8,509.7L293.6,506.4L294.3,502.4L295.1,497.4L295.8,491.4L296.6,484.6L297.3,477.0L298.1,468.7L298.8,460.2L299.6,451.8L300.3,443.8L301.1,436.8L301.8,431.2L302.6,427.2L303.3,425.2L304.1,425.4L304.8,427.7L305.6,432.0L306.3,438.0L307.1,445.3L307.8,453.6L308.6,462.4L309.3,471.3L310.1,479.9L310.8,487.9L311.6,495.0L312.3,501.3L313.1,506.5L313.8,510.8L314.6,514.3L315.3,517.0L316.1,519.0L316.8,520.5L317.6,521.6L318.3,522.3L319.1,522.9L319.8,523.3L320.6,523.5L321.3,523.7L322.1,523.8L322.8,523.9L323.6,523.9L324.3,524.0L325.1,524.0L325.8,524.0L326.6,524.0L327.3,524.1L328.1,524.1L328.8,524.1L329.6,524.1L330.3,524.1L331.1,524.1L331.8,524.1L332.6,524.1L333.3,524.1L334.1,524.1L334.8,524.1L335.6,524.1L336.3,524.2L337.1,524.2L337.8,524.2L338.6,524.2L339.3,524.2L340.1,524.2L340.8,524.2L341.6,524.2L342.3,524.2L343.1,524.2L343.8,524.2L344.6,524.2L345.3,524.3L346.1,524.3L346.8,524.3L347.6,524.3L348.3,524.3L349.1,524.3L349.8,524.3L350.6,524.3L351.3,524.3L352.1,524.3L352.8,524.3L353.6,524.3L354.3,524.4L355.1,524.4L355.8,524.4L356.6,524.4L357.3,524.4L358.1,524.4L358.8,524.4L359.6,524.4L360.3,524.4L361.1,524.4L361.8,524.4L362.6,524.4L363.3,524.5L364.1,524.5L364.8,524.5L365.6,524.5L366.3,524.5L367.1,524.5L367.8,524.5L368.6,524.5L369.3,524.5L370.1,524.5L370.8,524.5L371.6,524.5L372.3,524.5L373.1,524.5L373.8,524.6L374.6,524.6L375.3,524.6L376.1,524.6" fill="none" stroke="#f0f" stroke-width="1.25"/>
</g>
<clipPath id="b5"><rect x="211.8" y="540.8" width="164.1" height="145.0"/></clipPath>
<g clip-path="url(#b5)">
<path d="M210.1,659.0L211.1,657.2L212.1,657.9L213.1,657.7L214.1,657.2L215.1,658.6L216.1,658.4L217.1,658.1L218.1,656.1L219.1,658.1L220.1,657.0L221.1,656.2L222.1,658.7L223.1,657.4L224.1,657.7L225.1,658.0L226.1,659.3L227.1,657.8L228.1,657.8L229.1,658.8L230.1,657.2L231.1,658.3L232.1,657.4L233.1,657.7L234.1,658.2L235.1,659.3L236.1,657.7L237.1,659.1L238.1,657.1L239.1,657.4L240.1,656.6L241.1,657.2 M254.1,632.9L255.1,632.8L256.1,632.6 M270.1,659.5L271.1,660.5L272.1,661.0L273.1,662.5L274.1,663.3L275.1,662.0L276.1,661.5L277.1,663.9L278.1,661.5L279.1,663.2L280.1,662.8L281.1,662.4L282.1,662.9L283.1,664.5L284.1,662.4L285.1,664.1L286.1,662.6L287.1,662.9L288.1,662.5L289.1,662.5 M318.1,670.5L319.1,671.1L320.1,672.1L321.1,671.9L322.1,671.9L323.1,670.9L324.1,671.6L325.1,670.4L326.1,670.0L327.1,671.3L328.1,670.0L329.1,672.0L330.1,673.3L331.1,670.1L332.1,671.8L333.1,670.9L334.1,671.1L335.1,668.8L336.1,671.5L337.1,670.7L338.1,671.3L339.1,672.4L340.1,671.5L341.1,671.0L342.1,670.3L343.1,670.7L344.1,670.4L345.1,671.8L346.1,671.0L347.1,670.4L348.1,671.4L349.1,670.8L350.1,673.5L351.1,673.1L352.1,672.7L353.1,671.4L354.1,670.7L355.1,670.9L356.1,672.4L357.1,670.8L358.1,670.1L359.1,671.9L360.1,670.8L361.1,672.6L362.1,670.4L363.1,670.2L364.1,670.4L365.1,671.8L366.1,672.3L367.1,672.8L368.1,671.3L369.1,670.6L370.1,670.0L371.1,671.5L372.1,672.2L373.1,671.0L374.1,671.0L375.1,669.4L376.1,669.8L377.1,671.3L378.1,672.9" fill="none" stroke="#000" stroke-width="3.6" stroke-linejoin="round" stroke-linecap="round"/>
<path d="M208.3,659.0a1.75,1.75 0 1,0 3.5,0a1.75,1.75 0 1,0 -3.5,0M209.3,657.2a1.75,1.75 0 1,0 3.5,0a1.75,1.75 0 1,0 -3.5,0M210.3,657.9a1.75,1.75 0 1,0 3.5,0a1.75,1.75 0 1,0 -3.5,0M211.3,657.7a1.75,1.75 0 1,0 3.5,0a1.75,1.75 0 1,0 -3.5,0M212.3,657.2a1.75,1.75 0 1,0 3.5,0a1.75,1.75 0 1,0 -3.5,0M213.3,658.6a1.75,1.75 0 1,0 3.5,0a1.75,1.75 0 1,0 -3.5,0M214.3,658.4a1.75,1.75 0 1,0 3.5,0a1.75,1.75 0 1,0 -3.5,0M215.3,658.1a1.75,1.75 0 1,0 3.5,0a1.75,1.75 0 1,0 -3.5,0M216.3,656.1a1.75,1.75 0 1,0 3.5,0a1.75,1.75 0 1,0 -3.5,0M217.3,658.1a1.75,1.75 0 1,0 3.5,0a1.75,1.75 0 1,0 -3.5,0M218.3,657.0a1.75,1.75 0 1,0 3.5,0a1.75,1.75 0 1,0 -3.5,0M219.3,656.2a1.75,1.75 0 1,0 3.5,0a1.75,1.75 0 1,0 -3.5,0M220.3,658.7a1.75,1.75 0 1,0 3.5,0a1.75,1.75 0 1,0 -3.5,0M221.3,657.4a1.75,1.75 0 1,0 3.5,0a1.75,1.75 0 1,0 -3.5,0M222.3,657.7a1.75,1.75 0 1,0 3.5,0a1.75,1.75 0 1,0 -3.5,0M223.3,658.0a1.75,1.75 0 1,0 3.5,0a1.75,1.75 0 1,0 -3.5,0M224.3,659.3a1.75,1.75 0 1,0 3.5,0a1.75,1.75 0 1,0 -3.5,0M225.3,657.8a1.75,1.75 0 1,0 3.5,0a1.75,1.75 0 1,0 -3.5,0M226.3,657.8a1.75,1.75 0 1,0 3.5,0a1.75,1.75 0 1,0 -3.5,0M227.3,658.8a1.75,1.75 0 1,0 3.5,0a1.75,1.75 0 1,0 -3.5,0M228.3,657.2a1.75,1.75 0 1,0 3.5,0a1.75,1.75 0 1,0 -3.5,0M229.3,658.3a1.75,1.75 0 1,0 3.5,0a1.75,1.75 0 1,0 -3.5,0M230.3,657.4a1.75,1.75 0 1,0 3.5,0a1.75,1.75 0 1,0 -3.5,0M231.3,657.7a1.75,1.75 0 1,0 3.5,0a1.75,1.75 0 1,0 -3.5,0M232.3,658.2a1.75,1.75 0 1,0 3.5,0a1.75,1.75 0 1,0 -3.5,0M233.3,659.3a1.75,1.75 0 1,0 3.5,0a1.75,1.75 0 1,0 -3.5,0M234.3,657.7a1.75,1.75 0 1,0 3.5,0a1.75,1.75 0 1,0 -3.5,0M235.3,659.1a1.75,1.75 0 1,0 3.5,0a1.75,1.75 0 1,0 -3.5,0M236.3,657.1a1.75,1.75 0 1,0 3.5,0a1.75,1.75 0 1,0 -3.5,0M237.3,657.4a1.75,1.75 0 1,0 3.5,0a1.75,1.75 0 1,0 -3.5,0M238.3,656.6a1.75,1.75 0 1,0 3.5,0a1.75,1.75 0 1,0 -3.5,0M239.3,657.2a1.75,1.75 0 1,0 3.5,0a1.75,1.75 0 1,0 -3.5,0M240.3,654.9a1.75,1.75 0 1,0 3.5,0a1.75,1.75 0 1,0 -3.5,0M241.3,655.3a1.75,1.75 0 1,0 3.5,0a1.75,1.75 0 1,0 -3.5,0M242.3,653.8a1.75,1.75 0 1,0 3.5,0a1.75,1.75 0 1,0 -3.5,0M243.3,651.0a1.75,1.75 0 1,0 3.5,0a1.75,1.75 0 1,0 -3.5,0M244.3,649.9a1.75,1.75 0 1,0 3.5,0a1.75,1.75 0 1,0 -3.5,0M245.3,645.6a1.75,1.75 0 1,0 3.5,0a1.75,1.75 0 1,0 -3.5,0M246.3,642.4a1.75,1.75 0 1,0 3.5,0a1.75,1.75 0 1,0 -3.5,0M247.3,641.0a1.75,1.75 0 1,0 3.5,0a1.75,1.75 0 1,0 -3.5,0M248.3,639.4a1.75,1.75 0 1,0 3.5,0a1.75,1.75 0 1,0 -3.5,0M249.3,636.2a1.75,1.75 0 1,0 3.5,0a1.75,1.75 0 1,0 -3.5,0M250.3,636.5a1.75,1.75 0 1,0 3.5,0a1.75,1.75 0 1,0 -3.5,0M251.3,633.3a1.75,1.75 0 1,0 3.5,0a1.75,1.75 0 1,0 -3.5,0M252.3,632.9a1.75,1.75 0 1,0 3.5,0a1.75,1.75 0 1,0 -3.5,0M253.3,632.8a1.75,1.75 0 1,0 3.5,0a1.75,1.75 0 1,0 -3.5,0M254.3,632.6a1.75,1.75 0 1,0 3.5,0a1.75,1.75 0 1,0 -3.5,0M255.3,634.8a1.75,1.75 0 1,0 3.5,0a1.75,1.75 0 1,0 -3.5,0M256.3,635.2a1.75,1.75 0 1,0 3.5,0a1.75,1.75 0 1,0 -3.5,0M257.3,638.4a1.75,1.75 0 1,0 3.5,0a1.75,1.75 0 1,0 -3.5,0M258.3,639.9a1.75,1.75 0 1,0 3.5,0a1.75,1.75 0 1,0 -3.5,0M259.3,641.3a1.75,1.75 0 1,0 3.5,0a1.75,1.75 0 1,0 -3.5,0M260.3,645.3a1.75,1.75 0 1,0 3.5,0a1.75,1.75 0 1,0 -3.5,0M261.3,648.8a1.75,1.75 0 1,0 3.5,0a1.75,1.75 0 1,0 -3.5,0M262.3,650.4a1.75,1.75 0 1,0 3.5,0a1.75,1.75 0 1,0 -3.5,0M263.3,653.5a1.75,1.75 0 1,0 3.5,0a1.75,1.75 0 1,0 -3.5,0M264.3,655.4a1.75,1.75 0 1,0 3.5,0a1.75,1.75 0 1,0 -3.5,0M265.3,657.7a1.75,1.75 0 1,0 3.5,0a1.75,1.75 0 1,0 -3.5,0M266.3,658.3a1.75,1.75 0 1,0 3.5,0a1.75,1.75 0 1,0 -3.5,0M267.3,658.9a1.75,1.75 0 1,0 3.5,0a1.75,1.75 0 1,0 -3.5,0M268.3,659.5a1.75,1.75 0 1,0 3.5,0a1.75,1.75 0 1,0 -3.5,0M269.3,660.5a1.75,1.75 0 1,0 3.5,0a1.75,1.75 0 1,0 -3.5,0M270.3,661.0a1.75,1.75 0 1,0 3.5,0a1.75,1.75 0 1,0 -3.5,0M271.3,662.5a1.75,1.75 0 1,0 3.5,0a1.75,1.75 0 1,0 -3.5,0M272.3,663.3a1.75,1.75 0 1,0 3.5,0a1.75,1.75 0 1,0 -3.5,0M273.3,662.0a1.75,1.75 0 1,0 3.5,0a1.75,1.75 0 1,0 -3.5,0M274.3,661.5a1.75,1.75 0 1,0 3.5,0a1.75,1.75 0 1,0 -3.5,0M275.3,663.9a1.75,1.75 0 1,0 3.5,0a1.75,1.75 0 1,0 -3.5,0M276.3,661.5a1.75,1.75 0 1,0 3.5,0a1.75,1.75 0 1,0 -3.5,0M277.3,663.2a1.75,1.75 0 1,0 3.5,0a1.75,1.75 0 1,0 -3.5,0M278.3,662.8a1.75,1.75 0 1,0 3.5,0a1.75,1.75 0 1,0 -3.5,0M279.3,662.4a1.75,1.75 0 1,0 3.5,0a1.75,1.75 0 1,0 -3.5,0M280.3,662.9a1.75,1.75 0 1,0 3.5,0a1.75,1.75 0 1,0 -3.5,0M281.3,664.5a1.75,1.75 0 1,0 3.5,0a1.75,1.75 0 1,0 -3.5,0M282.3,662.4a1.75,1.75 0 1,0 3.5,0a1.75,1.75 0 1,0 -3.5,0M283.3,664.1a1.75,1.75 0 1,0 3.5,0a1.75,1.75 0 1,0 -3.5,0M284.3,662.6a1.75,1.75 0 1,0 3.5,0a1.75,1.75 0 1,0 -3.5,0M285.3,662.9a1.75,1.75 0 1,0 3.5,0a1.75,1.75 0 1,0 -3.5,0M286.3,662.5a1.75,1.75 0 1,0 3.5,0a1.75,1.75 0 1,0 -3.5,0M287.3,662.5a1.75,1.75 0 1,0 3.5,0a1.75,1.75 0 1,0 -3.5,0M288.3,660.4a1.75,1.75 0 1,0 3.5,0a1.75,1.75 0 1,0 -3.5,0M289.3,660.8a1.75,1.75 0 1,0 3.5,0a1.75,1.75 0 1,0 -3.5,0M290.3,656.7a1.75,1.75 0 1,0 3.5,0a1.75,1.75 0 1,0 -3.5,0M291.3,654.2a1.75,1.75 0 1,0 3.5,0a1.75,1.75 0 1,0 -3.5,0M292.3,646.7a1.75,1.75 0 1,0 3.5,0a1.75,1.75 0 1,0 -3.5,0M293.3,638.1a1.75,1.75 0 1,0 3.5,0a1.75,1.75 0 1,0 -3.5,0M294.3,630.4a1.75,1.75 0 1,0 3.5,0a1.75,1.75 0 1,0 -3.5,0M295.3,616.5a1.75,1.75 0 1,0 3.5,0a1.75,1.75 0 1,0 -3.5,0M296.3,603.8a1.75,1.75 0 1,0 3.5,0a1.75,1.75 0 1,0 -3.5,0M297.3,589.7a1.75,1.75 0 1,0 3.5,0a1.75,1.75 0 1,0 -3.5,0M298.3,574.9a1.75,1.75 0 1,0 3.5,0a1.75,1.75 0 1,0 -3.5,0M299.3,564.5a1.75,1.75 0 1,0 3.5,0a1.75,1.75 0 1,0 -3.5,0M300.3,556.2a1.75,1.75 0 1,0 3.5,0a1.75,1.75 0 1,0 -3.5,0M301.3,551.8a1.75,1.75 0 1,0 3.5,0a1.75,1.75 0 1,0 -3.5,0M302.3,553.4a1.75,1.75 0 1,0 3.5,0a1.75,1.75 0 1,0 -3.5,0M303.3,560.2a1.75,1.75 0 1,0 3.5,0a1.75,1.75 0 1,0 -3.5,0M304.3,571.5a1.75,1.75 0 1,0 3.5,0a1.75,1.75 0 1,0 -3.5,0M305.3,586.7a1.75,1.75 0 1,0 3.5,0a1.75,1.75 0 1,0 -3.5,0M306.3,601.4a1.75,1.75 0 1,0 3.5,0a1.75,1.75 0 1,0 -3.5,0M307.3,616.2a1.75,1.75 0 1,0 3.5,0a1.75,1.75 0 1,0 -3.5,0M308.3,629.5a1.75,1.75 0 1,0 3.5,0a1.75,1.75 0 1,0 -3.5,0M309.3,639.7a1.75,1.75 0 1,0 3.5,0a1.75,1.75 0 1,0 -3.5,0M310.3,649.6a1.75,1.75 0 1,0 3.5,0a1.75,1.75 0 1,0 -3.5,0M311.3,658.2a1.75,1.75 0 1,0 3.5,0a1.75,1.75 0 1,0 -3.5,0M312.3,660.4a1.75,1.75 0 1,0 3.5,0a1.75,1.75 0 1,0 -3.5,0M313.3,665.1a1.75,1.75 0 1,0 3.5,0a1.75,1.75 0 1,0 -3.5,0M314.3,667.8a1.75,1.75 0 1,0 3.5,0a1.75,1.75 0 1,0 -3.5,0M315.3,670.9a1.75,1.75 0 1,0 3.5,0a1.75,1.75 0 1,0 -3.5,0M316.3,670.5a1.75,1.75 0 1,0 3.5,0a1.75,1.75 0 1,0 -3.5,0M317.3,671.1a1.75,1.75 0 1,0 3.5,0a1.75,1.75 0 1,0 -3.5,0M318.3,672.1a1.75,1.75 0 1,0 3.5,0a1.75,1.75 0 1,0 -3.5,0M319.3,671.9a1.75,1.75 0 1,0 3.5,0a1.75,1.75 0 1,0 -3.5,0M320.3,671.9a1.75,1.75 0 1,0 3.5,0a1.75,1.75 0 1,0 -3.5,0M321.3,670.9a1.75,1.75 0 1,0 3.5,0a1.75,1.75 0 1,0 -3.5,0M322.3,671.6a1.75,1.75 0 1,0 3.5,0a1.75,1.75 0 1,0 -3.5,0M323.3,670.4a1.75,1.75 0 1,0 3.5,0a1.75,1.75 0 1,0 -3.5,0M324.3,670.0a1.75,1.75 0 1,0 3.5,0a1.75,1.75 0 1,0 -3.5,0M325.3,671.3a1.75,1.75 0 1,0 3.5,0a1.75,1.75 0 1,0 -3.5,0M326.3,670.0a1.75,1.75 0 1,0 3.5,0a1.75,1.75 0 1,0 -3.5,0M327.3,672.0a1.75,1.75 0 1,0 3.5,0a1.75,1.75 0 1,0 -3.5,0M328.3,673.3a1.75,1.75 0 1,0 3.5,0a1.75,1.75 0 1,0 -3.5,0M329.3,670.1a1.75,1.75 0 1,0 3.5,0a1.75,1.75 0 1,0 -3.5,0M330.3,671.8a1.75,1.75 0 1,0 3.5,0a1.75,1.75 0 1,0 -3.5,0M331.3,670.9a1.75,1.75 0 1,0 3.5,0a1.75,1.75 0 1,0 -3.5,0M332.3,671.1a1.75,1.75 0 1,0 3.5,0a1.75,1.75 0 1,0 -3.5,0M333.3,668.8a1.75,1.75 0 1,0 3.5,0a1.75,1.75 0 1,0 -3.5,0M334.3,671.5a1.75,1.75 0 1,0 3.5,0a1.75,1.75 0 1,0 -3.5,0M335.3,670.7a1.75,1.75 0 1,0 3.5,0a1.75,1.75 0 1,0 -3.5,0M336.3,671.3a1.75,1.75 0 1,0 3.5,0a1.75,1.75 0 1,0 -3.5,0M337.3,672.4a1.75,1.75 0 1,0 3.5,0a1.75,1.75 0 1,0 -3.5,0M338.3,671.5a1.75,1.75 0 1,0 3.5,0a1.75,1.75 0 1,0 -3.5,0M339.3,671.0a1.75,1.75 0 1,0 3.5,0a1.75,1.75 0 1,0 -3.5,0M340.3,670.3a1.75,1.75 0 1,0 3.5,0a1.75,1.75 0 1,0 -3.5,0M341.3,670.7a1.75,1.75 0 1,0 3.5,0a1.75,1.75 0 1,0 -3.5,0M342.3,670.4a1.75,1.75 0 1,0 3.5,0a1.75,1.75 0 1,0 -3.5,0M343.3,671.8a1.75,1.75 0 1,0 3.5,0a1.75,1.75 0 1,0 -3.5,0M344.3,671.0a1.75,1.75 0 1,0 3.5,0a1.75,1.75 0 1,0 -3.5,0M345.3,670.4a1.75,1.75 0 1,0 3.5,0a1.75,1.75 0 1,0 -3.5,0M346.3,671.4a1.75,1.75 0 1,0 3.5,0a1.75,1.75 0 1,0 -3.5,0M347.3,670.8a1.75,1.75 0 1,0 3.5,0a1.75,1.75 0 1,0 -3.5,0M348.3,673.5a1.75,1.75 0 1,0 3.5,0a1.75,1.75 0 1,0 -3.5,0M349.3,673.1a1.75,1.75 0 1,0 3.5,0a1.75,1.75 0 1,0 -3.5,0M350.3,672.7a1.75,1.75 0 1,0 3.5,0a1.75,1.75 0 1,0 -3.5,0M351.3,671.4a1.75,1.75 0 1,0 3.5,0a1.75,1.75 0 1,0 -3.5,0M352.3,670.7a1.75,1.75 0 1,0 3.5,0a1.75,1.75 0 1,0 -3.5,0M353.3,670.9a1.75,1.75 0 1,0 3.5,0a1.75,1.75 0 1,0 -3.5,0M354.3,672.4a1.75,1.75 0 1,0 3.5,0a1.75,1.75 0 1,0 -3.5,0M355.3,670.8a1.75,1.75 0 1,0 3.5,0a1.75,1.75 0 1,0 -3.5,0M356.3,670.1a1.75,1.75 0 1,0 3.5,0a1.75,1.75 0 1,0 -3.5,0M357.3,671.9a1.75,1.75 0 1,0 3.5,0a1.75,1.75 0 1,0 -3.5,0M358.3,670.8a1.75,1.75 0 1,0 3.5,0a1.75,1.75 0 1,0 -3.5,0M359.3,672.6a1.75,1.75 0 1,0 3.5,0a1.75,1.75 0 1,0 -3.5,0M360.3,670.4a1.75,1.75 0 1,0 3.5,0a1.75,1.75 0 1,0 -3.5,0M361.3,670.2a1.75,1.75 0 1,0 3.5,0a1.75,1.75 0 1,0 -3.5,0M362.3,670.4a1.75,1.75 0 1,0 3.5,0a1.75,1.75 0 1,0 -3.5,0M363.3,671.8a1.75,1.75 0 1,0 3.5,0a1.75,1.75 0 1,0 -3.5,0M364.3,672.3a1.75,1.75 0 1,0 3.5,0a1.75,1.75 0 1,0 -3.5,0M365.3,672.8a1.75,1.75 0 1,0 3.5,0a1.75,1.75 0 1,0 -3.5,0M366.3,671.3a1.75,1.75 0 1,0 3.5,0a1.75,1.75 0 1,0 -3.5,0M367.3,670.6a1.75,1.75 0 1,0 3.5,0a1.75,1.75 0 1,0 -3.5,0M368.3,670.0a1.75,1.75 0 1,0 3.5,0a1.75,1.75 0 1,0 -3.5,0M369.3,671.5a1.75,1.75 0 1,0 3.5,0a1.75,1.75 0 1,0 -3.5,0M370.3,672.2a1.75,1.75 0 1,0 3.5,0a1.75,1.75 0 1,0 -3.5,0M371.3,671.0a1.75,1.75 0 1,0 3.5,0a1.75,1.75 0 1,0 -3.5,0M372.3,671.0a1.75,1.75 0 1,0 3.5,0a1.75,1.75 0 1,0 -3.5,0M373.3,669.4a1.75,1.75 0 1,0 3.5,0a1.75,1.75 0 1,0 -3.5,0M374.3,669.8a1.75,1.75 0 1,0 3.5,0a1.75,1.75 0 1,0 -3.5,0M375.3,671.3a1.75,1.75 0 1,0 3.5,0a1.75,1.75 0 1,0 -3.5,0M376.3,672.9a1.75,1.75 0 1,0 3.5,0a1.75,1.75 0 1,0 -3.5,0" fill="none" stroke="#000" stroke-width="1.5"/>
<path d="M211.1,657.8L211.8,657.8L212.6,657.9L213.3,657.9L214.1,657.9L214.8,657.9L215.6,657.9L216.3,658.0L217.1,658.0L217.8,658.0L218.6,658.1L219.3,658.1L220.1,658.2L220.8,658.2L221.6,658.2L222.3,658.3L223.1,658.3L223.8,658.4L224.6,658.4L225.3,658.4L226.1,658.5L226.8,658.5L227.6,658.5L228.3,658.6L229.1,658.6L229.8,658.7L230.6,658.7L231.3,658.7L232.1,658.8L232.8,658.8L233.6,658.9L234.3,658.9L235.1,658.9L235.8,659.0L236.6,659.0L237.3,659.1L238.1,659.1L238.8,659.2L239.6,659.2L240.3,659.3L241.1,659.3L241.8,659.4L242.6,659.4L243.3,659.5L244.1,659.6L244.8,659.6L245.6,659.7L246.3,659.8L247.1,659.9L247.8,659.9L248.6,660.0L249.3,660.1L250.1,660.2L250.8,660.2L251.6,660.3L252.3,660.4L253.1,660.5L253.8,660.5L254.6,660.6L255.3,660.7L256.1,660.8L256.8,660.8L257.6,660.9L258.3,661.0L259.1,661.1L259.8,661.1L260.6,661.2L261.3,661.3L262.1,661.4L262.8,661.4L263.6,661.5L264.3,661.6L265.1,661.7L265.8,661.7L266.6,661.8L267.3,661.9L268.1,661.9L268.8,662.0L269.6,662.1L270.3,662.2L271.1,662.2L271.8,662.3L272.6,662.4L273.3,662.4L274.1,662.5L274.8,662.6L275.6,662.6L276.3,662.7L277.1,662.8L277.8,662.8L278.6,662.9L279.3,663.0L280.1,663.0L280.8,663.1L281.6,663.1L282.3,663.2L283.1,663.3L283.8,663.3L284.6,663.4L285.3,663.5L286.1,663.5L286.8,663.6L287.6,663.7L288.3,663.7L289.1,663.8L289.8,663.9L290.6,663.9L291.3,664.0L292.1,664.1L292.8,664.2L293.6,664.3L294.3,664.4L295.1,664.6L295.8,664.8L296.6,665.0L297.3,665.2L298.1,665.4L298.8,665.6L299.6,665.9L300.3,666.2L301.1,666.5L301.8,666.8L302.6,667.1L303.3,667.4L304.1,667.7L304.8,668.0L305.6,668.3L306.3,668.6L307.1,668.9L307.8,669.1L308.6,669.4L309.3,669.6L310.1,669.8L310.8,670.0L311.6,670.2L312.3,670.3L313.1,670.5L313.8,670.6L314.6,670.7L315.3,670.8L316.1,670.9L316.8,670.9L317.6,671.0L318.3,671.1L319.1,671.2L319.8,671.2L320.6,671.3L321.3,671.3L322.1,671.4L322.8,671.4L323.6,671.4L324.3,671.5L325.1,671.5L325.8,671.5L326.6,671.5L327.3,671.5L328.1,671.5L328.8,671.5L329.6,671.5L330.3,671.5L331.1,671.5L331.8,671.5L332.6,671.5L333.3,671.5L334.1,671.5L334.8,671.5L335.6,671.5L336.3,671.5L337.1,671.5L337.8,671.5L338.6,671.5L339.3,671.5L340.1,671.5L340.8,671.5L341.6,671.5L342.3,671.5L343.1,671.5L343.8,671.5L344.6,671.5L345.3,671.5L346.1,671.5L346.8,671.5L347.6,671.5L348.3,671.5L349.1,671.5L349.8,671.5L350.6,671.5L351.3,671.5L352.1,671.5L352.8,671.5L353.6,671.5L354.3,671.5L355.1,671.5L355.8,671.5L356.6,671.5L357.3,671.5L358.1,671.5L358.8,671.5L359.6,671.5L360.3,671.5L361.1,671.5L361.8,671.5L362.6,671.5L363.3,671.5L364.1,671.5L364.8,671.5L365.6,671.5L366.3,671.5L367.1,671.5L367.8,671.5L368.6,671.5L369.3,671.5L370.1,671.5L370.8,671.5L371.6,671.5L372.3,671.5L373.1,671.5L373.8,671.5L374.6,671.5L375.3,671.5L376.1,671.5" fill="none" stroke="#5a8a1e" stroke-width="1.45"/>
<path d="M211.1,656.6L211.8,656.6L212.6,656.7L213.3,656.7L214.1,656.7L214.8,656.7L215.6,656.7L216.3,656.8L217.1,656.8L217.8,656.8L218.6,656.9L219.3,656.9L220.1,657.0L220.8,657.0L221.6,657.0L222.3,657.1L223.1,657.1L223.8,657.2L224.6,657.2L225.3,657.2L226.1,657.3L226.8,657.3L227.6,657.3L228.3,657.4L229.1,657.4L229.8,657.4L230.6,657.5L231.3,657.5L232.1,657.5L232.8,657.5L233.6,657.5L234.3,657.5L235.1,657.4L235.8,657.4L236.6,657.2L237.3,657.1L238.1,656.9L238.8,656.6L239.6,656.2L240.3,655.7L241.1,655.1L241.8,654.4L242.6,653.5L243.3,652.5L244.1,651.3L244.8,650.0L245.6,648.5L246.3,646.9L247.1,645.1L247.8,643.3L248.6,641.5L249.3,639.6L250.1,637.8L250.8,636.2L251.6,634.7L252.3,633.4L253.1,632.5L253.8,631.8L254.6,631.5L255.3,631.5L256.1,631.9L256.8,632.7L257.6,633.7L258.3,635.1L259.1,636.7L259.8,638.4L260.6,640.4L261.3,642.3L262.1,644.3L262.8,646.3L263.6,648.2L264.3,650.0L265.1,651.7L265.8,653.2L266.6,654.5L267.3,655.7L268.1,656.8L268.8,657.7L269.6,658.4L270.3,659.1L271.1,659.6L271.8,660.0L272.6,660.3L273.3,660.6L274.1,660.9L274.8,661.1L275.6,661.2L276.3,661.3L277.1,661.5L277.8,661.6L278.6,661.6L279.3,661.7L280.1,661.8L280.8,661.9L281.6,661.9L282.3,662.0L283.1,662.1L283.8,662.1L284.6,662.2L285.3,662.2L286.1,662.2L286.8,662.2L287.6,662.1L288.3,661.8L289.1,661.4L289.8,660.8L290.6,659.8L291.3,658.4L292.1,656.3L292.8,653.5L293.6,649.7L294.3,644.8L295.1,638.7L295.8,631.4L296.6,622.7L297.3,613.0L298.1,602.6L298.8,591.7L299.6,581.0L300.3,571.2L301.1,562.7L301.8,556.3L302.6,552.3L303.3,551.2L304.1,552.9L304.8,557.5L305.6,564.6L306.3,573.6L307.1,584.0L307.8,595.2L308.6,606.6L309.3,617.5L310.1,627.6L310.8,636.6L311.6,644.3L312.3,650.8L313.1,655.9L313.8,659.9L314.6,662.9L315.3,665.2L316.1,666.8L316.8,667.9L317.6,668.7L318.3,669.2L319.1,669.5L319.8,669.8L320.6,669.9L321.3,670.0L322.1,670.1L322.8,670.2L323.6,670.2L324.3,670.3L325.1,670.3L325.8,670.3L326.6,670.3L327.3,670.3L328.1,670.3L328.8,670.3L329.6,670.3L330.3,670.3L331.1,670.3L331.8,670.3L332.6,670.3L333.3,670.3L334.1,670.3L334.8,670.3L335.6,670.3L336.3,670.3L337.1,670.3L337.8,670.3L338.6,670.3L339.3,670.3L340.1,670.3L340.8,670.3L341.6,670.3L342.3,670.3L343.1,670.3L343.8,670.3L344.6,670.3L345.3,670.3L346.1,670.3L346.8,670.3L347.6,670.3L348.3,670.3L349.1,670.3L349.8,670.3L350.6,670.3L351.3,670.3L352.1,670.3L352.8,670.3L353.6,670.3L354.3,670.3L355.1,670.3L355.8,670.3L356.6,670.3L357.3,670.3L358.1,670.3L358.8,670.3L359.6,670.3L360.3,670.3L361.1,670.3L361.8,670.3L362.6,670.3L363.3,670.3L364.1,670.3L364.8,670.3L365.6,670.3L366.3,670.3L367.1,670.3L367.8,670.3L368.6,670.3L369.3,670.3L370.1,670.3L370.8,670.3L371.6,670.3L372.3,670.3L373.1,670.3L373.8,670.3L374.6,670.3L375.3,670.3L376.1,670.3" fill="none" stroke="#f0f" stroke-width="1.25"/>
</g>
<clipPath id="c1"><rect x="393.2" y="23.4" width="164.5" height="130.1"/></clipPath>
<g clip-path="url(#c1)">
<path d="M391.5,130.8L393.5,129.8L395.5,130.7L397.5,130.1L399.5,130.1L401.5,130.1L403.5,130.7L405.5,130.1L407.5,129.9L409.5,130.4L411.5,130.2L413.5,130.5L415.5,129.8L417.5,128.5L419.5,128.1L421.5,128.3L423.5,127.1L425.5,126.2L427.5,124.8L429.5,122.7L431.5,122.7 M459.5,82.4L461.5,81.3L463.5,79.8L465.5,79.0L467.5,79.3L469.5,79.1L471.5,78.1 M511.5,133.4L513.5,133.7L515.5,134.8L517.5,135.0L519.5,135.1L521.5,136.2L523.5,135.3L525.5,135.6L527.5,136.2L529.5,136.1L531.5,137.3L533.5,135.9L535.5,136.1L537.5,136.6L539.5,136.5L541.5,136.6L543.5,137.1L545.5,137.3L547.5,137.0L549.5,135.4L551.5,136.2L553.5,135.8L555.5,137.2L557.5,137.0L559.5,136.7" fill="none" stroke="#000" stroke-width="2.8" stroke-linejoin="round" stroke-linecap="round"/>
<path d="M389.8,130.8a1.75,1.75 0 1,0 3.5,0a1.75,1.75 0 1,0 -3.5,0M391.8,129.8a1.75,1.75 0 1,0 3.5,0a1.75,1.75 0 1,0 -3.5,0M393.8,130.7a1.75,1.75 0 1,0 3.5,0a1.75,1.75 0 1,0 -3.5,0M395.8,130.1a1.75,1.75 0 1,0 3.5,0a1.75,1.75 0 1,0 -3.5,0M397.8,130.1a1.75,1.75 0 1,0 3.5,0a1.75,1.75 0 1,0 -3.5,0M399.8,130.1a1.75,1.75 0 1,0 3.5,0a1.75,1.75 0 1,0 -3.5,0M401.8,130.7a1.75,1.75 0 1,0 3.5,0a1.75,1.75 0 1,0 -3.5,0M403.8,130.1a1.75,1.75 0 1,0 3.5,0a1.75,1.75 0 1,0 -3.5,0M405.8,129.9a1.75,1.75 0 1,0 3.5,0a1.75,1.75 0 1,0 -3.5,0M407.8,130.4a1.75,1.75 0 1,0 3.5,0a1.75,1.75 0 1,0 -3.5,0M409.8,130.2a1.75,1.75 0 1,0 3.5,0a1.75,1.75 0 1,0 -3.5,0M411.8,130.5a1.75,1.75 0 1,0 3.5,0a1.75,1.75 0 1,0 -3.5,0M413.8,129.8a1.75,1.75 0 1,0 3.5,0a1.75,1.75 0 1,0 -3.5,0M415.8,128.5a1.75,1.75 0 1,0 3.5,0a1.75,1.75 0 1,0 -3.5,0M417.8,128.1a1.75,1.75 0 1,0 3.5,0a1.75,1.75 0 1,0 -3.5,0M419.8,128.3a1.75,1.75 0 1,0 3.5,0a1.75,1.75 0 1,0 -3.5,0M421.8,127.1a1.75,1.75 0 1,0 3.5,0a1.75,1.75 0 1,0 -3.5,0M423.8,126.2a1.75,1.75 0 1,0 3.5,0a1.75,1.75 0 1,0 -3.5,0M425.8,124.8a1.75,1.75 0 1,0 3.5,0a1.75,1.75 0 1,0 -3.5,0M427.8,122.7a1.75,1.75 0 1,0 3.5,0a1.75,1.75 0 1,0 -3.5,0M429.8,122.7a1.75,1.75 0 1,0 3.5,0a1.75,1.75 0 1,0 -3.5,0M431.8,119.7a1.75,1.75 0 1,0 3.5,0a1.75,1.75 0 1,0 -3.5,0M433.8,117.8a1.75,1.75 0 1,0 3.5,0a1.75,1.75 0 1,0 -3.5,0M435.8,115.4a1.75,1.75 0 1,0 3.5,0a1.75,1.75 0 1,0 -3.5,0M437.8,112.3a1.75,1.75 0 1,0 3.5,0a1.75,1.75 0 1,0 -3.5,0M439.8,109.8a1.75,1.75 0 1,0 3.5,0a1.75,1.75 0 1,0 -3.5,0M441.8,106.1a1.75,1.75 0 1,0 3.5,0a1.75,1.75 0 1,0 -3.5,0M443.8,102.3a1.75,1.75 0 1,0 3.5,0a1.75,1.75 0 1,0 -3.5,0M445.8,98.9a1.75,1.75 0 1,0 3.5,0a1.75,1.75 0 1,0 -3.5,0M447.8,96.1a1.75,1.75 0 1,0 3.5,0a1.75,1.75 0 1,0 -3.5,0M449.8,92.1a1.75,1.75 0 1,0 3.5,0a1.75,1.75 0 1,0 -3.5,0M451.8,89.4a1.75,1.75 0 1,0 3.5,0a1.75,1.75 0 1,0 -3.5,0M453.8,86.4a1.75,1.75 0 1,0 3.5,0a1.75,1.75 0 1,0 -3.5,0M455.8,83.3a1.75,1.75 0 1,0 3.5,0a1.75,1.75 0 1,0 -3.5,0M457.8,82.4a1.75,1.75 0 1,0 3.5,0a1.75,1.75 0 1,0 -3.5,0M459.8,81.3a1.75,1.75 0 1,0 3.5,0a1.75,1.75 0 1,0 -3.5,0M461.8,79.8a1.75,1.75 0 1,0 3.5,0a1.75,1.75 0 1,0 -3.5,0M463.8,79.0a1.75,1.75 0 1,0 3.5,0a1.75,1.75 0 1,0 -3.5,0M465.8,79.3a1.75,1.75 0 1,0 3.5,0a1.75,1.75 0 1,0 -3.5,0M467.8,79.1a1.75,1.75 0 1,0 3.5,0a1.75,1.75 0 1,0 -3.5,0M469.8,78.1a1.75,1.75 0 1,0 3.5,0a1.75,1.75 0 1,0 -3.5,0M471.8,76.0a1.75,1.75 0 1,0 3.5,0a1.75,1.75 0 1,0 -3.5,0M473.8,72.2a1.75,1.75 0 1,0 3.5,0a1.75,1.75 0 1,0 -3.5,0M475.8,67.6a1.75,1.75 0 1,0 3.5,0a1.75,1.75 0 1,0 -3.5,0M477.8,60.5a1.75,1.75 0 1,0 3.5,0a1.75,1.75 0 1,0 -3.5,0M479.8,54.0a1.75,1.75 0 1,0 3.5,0a1.75,1.75 0 1,0 -3.5,0M481.8,49.0a1.75,1.75 0 1,0 3.5,0a1.75,1.75 0 1,0 -3.5,0M483.8,44.5a1.75,1.75 0 1,0 3.5,0a1.75,1.75 0 1,0 -3.5,0M485.8,42.8a1.75,1.75 0 1,0 3.5,0a1.75,1.75 0 1,0 -3.5,0M487.8,48.2a1.75,1.75 0 1,0 3.5,0a1.75,1.75 0 1,0 -3.5,0M489.8,54.7a1.75,1.75 0 1,0 3.5,0a1.75,1.75 0 1,0 -3.5,0M491.8,64.4a1.75,1.75 0 1,0 3.5,0a1.75,1.75 0 1,0 -3.5,0M493.8,75.6a1.75,1.75 0 1,0 3.5,0a1.75,1.75 0 1,0 -3.5,0M495.8,86.1a1.75,1.75 0 1,0 3.5,0a1.75,1.75 0 1,0 -3.5,0M497.8,98.7a1.75,1.75 0 1,0 3.5,0a1.75,1.75 0 1,0 -3.5,0M499.8,107.6a1.75,1.75 0 1,0 3.5,0a1.75,1.75 0 1,0 -3.5,0M501.8,117.2a1.75,1.75 0 1,0 3.5,0a1.75,1.75 0 1,0 -3.5,0M503.8,122.4a1.75,1.75 0 1,0 3.5,0a1.75,1.75 0 1,0 -3.5,0M505.8,127.2a1.75,1.75 0 1,0 3.5,0a1.75,1.75 0 1,0 -3.5,0M507.8,130.9a1.75,1.75 0 1,0 3.5,0a1.75,1.75 0 1,0 -3.5,0M509.8,133.4a1.75,1.75 0 1,0 3.5,0a1.75,1.75 0 1,0 -3.5,0M511.8,133.7a1.75,1.75 0 1,0 3.5,0a1.75,1.75 0 1,0 -3.5,0M513.8,134.8a1.75,1.75 0 1,0 3.5,0a1.75,1.75 0 1,0 -3.5,0M515.8,135.0a1.75,1.75 0 1,0 3.5,0a1.75,1.75 0 1,0 -3.5,0M517.8,135.1a1.75,1.75 0 1,0 3.5,0a1.75,1.75 0 1,0 -3.5,0M519.8,136.2a1.75,1.75 0 1,0 3.5,0a1.75,1.75 0 1,0 -3.5,0M521.8,135.3a1.75,1.75 0 1,0 3.5,0a1.75,1.75 0 1,0 -3.5,0M523.8,135.6a1.75,1.75 0 1,0 3.5,0a1.75,1.75 0 1,0 -3.5,0M525.8,136.2a1.75,1.75 0 1,0 3.5,0a1.75,1.75 0 1,0 -3.5,0M527.8,136.1a1.75,1.75 0 1,0 3.5,0a1.75,1.75 0 1,0 -3.5,0M529.8,137.3a1.75,1.75 0 1,0 3.5,0a1.75,1.75 0 1,0 -3.5,0M531.8,135.9a1.75,1.75 0 1,0 3.5,0a1.75,1.75 0 1,0 -3.5,0M533.8,136.1a1.75,1.75 0 1,0 3.5,0a1.75,1.75 0 1,0 -3.5,0M535.8,136.6a1.75,1.75 0 1,0 3.5,0a1.75,1.75 0 1,0 -3.5,0M537.8,136.5a1.75,1.75 0 1,0 3.5,0a1.75,1.75 0 1,0 -3.5,0M539.8,136.6a1.75,1.75 0 1,0 3.5,0a1.75,1.75 0 1,0 -3.5,0M541.8,137.1a1.75,1.75 0 1,0 3.5,0a1.75,1.75 0 1,0 -3.5,0M543.8,137.3a1.75,1.75 0 1,0 3.5,0a1.75,1.75 0 1,0 -3.5,0M545.8,137.0a1.75,1.75 0 1,0 3.5,0a1.75,1.75 0 1,0 -3.5,0M547.8,135.4a1.75,1.75 0 1,0 3.5,0a1.75,1.75 0 1,0 -3.5,0M549.8,136.2a1.75,1.75 0 1,0 3.5,0a1.75,1.75 0 1,0 -3.5,0M551.8,135.8a1.75,1.75 0 1,0 3.5,0a1.75,1.75 0 1,0 -3.5,0M553.8,137.2a1.75,1.75 0 1,0 3.5,0a1.75,1.75 0 1,0 -3.5,0M555.8,137.0a1.75,1.75 0 1,0 3.5,0a1.75,1.75 0 1,0 -3.5,0M557.8,136.7a1.75,1.75 0 1,0 3.5,0a1.75,1.75 0 1,0 -3.5,0" fill="none" stroke="#000" stroke-width="1.5"/>
<path d="M392.5,130.1L393.2,130.1L394.0,130.1L394.8,130.1L395.5,130.1L396.2,130.1L397.0,130.1L397.8,130.1L398.5,130.1L399.2,130.1L400.0,130.1L400.8,130.2L401.5,130.2L402.2,130.2L403.0,130.2L403.8,130.2L404.5,130.2L405.2,130.2L406.0,130.2L406.8,130.3L407.5,130.3L408.2,130.3L409.0,130.3L409.8,130.3L410.5,130.3L411.2,130.3L412.0,130.3L412.8,130.4L413.5,130.4L414.2,130.4L415.0,130.4L415.8,130.4L416.5,130.4L417.2,130.4L418.0,130.4L418.8,130.5L419.5,130.5L420.2,130.5L421.0,130.5L421.8,130.5L422.5,130.5L423.2,130.5L424.0,130.6L424.8,130.6L425.5,130.6L426.2,130.6L427.0,130.6L427.8,130.6L428.5,130.6L429.2,130.6L430.0,130.7L430.8,130.7L431.5,130.7L432.2,130.7L433.0,130.7L433.8,130.7L434.5,130.7L435.2,130.7L436.0,130.8L436.8,130.8L437.5,130.8L438.2,130.8L439.0,130.8L439.8,130.8L440.5,130.8L441.2,130.8L442.0,130.9L442.8,130.9L443.5,130.9L444.2,130.9L445.0,130.9L445.8,130.9L446.5,130.9L447.2,131.0L448.0,131.0L448.8,131.0L449.5,131.0L450.2,131.0L451.0,131.0L451.8,131.0L452.5,131.0L453.2,131.1L454.0,131.1L454.8,131.1L455.5,131.1L456.2,131.1L457.0,131.1L457.8,131.2L458.5,131.2L459.2,131.2L460.0,131.3L460.8,131.3L461.5,131.4L462.2,131.4L463.0,131.4L463.8,131.5L464.5,131.5L465.2,131.6L466.0,131.7L466.8,131.7L467.5,131.8L468.2,131.9L469.0,131.9L469.8,132.0L470.5,132.1L471.2,132.2L472.0,132.2L472.8,132.3L473.5,132.4L474.2,132.5L475.0,132.5L475.8,132.6L476.5,132.7L477.2,132.8L478.0,132.8L478.8,132.9L479.5,133.0L480.2,133.1L481.0,133.1L481.8,133.2L482.5,133.3L483.2,133.3L484.0,133.4L484.8,133.5L485.5,133.6L486.2,133.6L487.0,133.7L487.8,133.8L488.5,133.9L489.2,133.9L490.0,134.0L490.8,134.1L491.5,134.2L492.2,134.2L493.0,134.3L493.8,134.4L494.5,134.4L495.2,134.5L496.0,134.6L496.8,134.6L497.5,134.7L498.2,134.7L499.0,134.8L499.8,134.9L500.5,134.9L501.2,135.0L502.0,135.0L502.8,135.0L503.5,135.1L504.2,135.1L505.0,135.2L505.8,135.2L506.5,135.2L507.2,135.3L508.0,135.3L508.8,135.3L509.5,135.4L510.2,135.4L511.0,135.4L511.8,135.5L512.5,135.5L513.2,135.5L514.0,135.6L514.8,135.6L515.5,135.6L516.2,135.7L517.0,135.7L517.8,135.7L518.5,135.8L519.2,135.8L520.0,135.8L520.8,135.9L521.5,135.9L522.2,135.9L523.0,136.0L523.8,136.0L524.5,136.0L525.2,136.1L526.0,136.1L526.8,136.1L527.5,136.2L528.2,136.2L529.0,136.2L529.8,136.3L530.5,136.3L531.2,136.3L532.0,136.4L532.8,136.4L533.5,136.4L534.2,136.4L535.0,136.5L535.8,136.5L536.5,136.5L537.2,136.5L538.0,136.6L538.8,136.6L539.5,136.6L540.2,136.6L541.0,136.6L541.8,136.6L542.5,136.7L543.2,136.7L544.0,136.7L544.8,136.7L545.5,136.7L546.2,136.7L547.0,136.7L547.8,136.7L548.5,136.7L549.2,136.7L550.0,136.7L550.8,136.7L551.5,136.7L552.2,136.7L553.0,136.7L553.8,136.7L554.5,136.7L555.2,136.7L556.0,136.7L556.8,136.7L557.5,136.7L558.2,136.7" fill="none" stroke="#5a8a1e" stroke-width="1.45"/>
<path d="M409.0,129.9L409.8,129.9L410.5,129.9L411.2,129.8L412.0,129.7L412.8,129.7L413.5,129.6L414.2,129.5L415.0,129.4L415.8,129.3L416.5,129.2L417.2,129.0L418.0,128.9L418.8,128.7L419.5,128.5L420.2,128.3L421.0,128.1L421.8,127.8L422.5,127.6L423.2,127.3L424.0,126.9L424.8,126.6L425.5,126.2L426.2,125.8L427.0,125.3L427.8,124.8L428.5,124.3L429.2,123.8L430.0,123.2L430.8,122.5L431.5,121.9L432.2,121.1L433.0,120.4L433.8,119.6L434.5,118.8L435.2,117.9L436.0,117.0L436.8,116.0L437.5,115.0L438.2,114.0L439.0,112.9L439.8,111.8L440.5,110.7L441.2,109.5L442.0,108.3L442.8,107.1L443.5,105.9L444.2,104.6L445.0,103.4L445.8,102.1L446.5,100.8L447.2,99.5L448.0,98.2L448.8,96.9L449.5,95.7L450.2,94.4L451.0,93.2L451.8,92.1L452.5,90.9L453.2,89.8L454.0,88.7L454.8,87.7L455.5,86.8L456.2,85.9L457.0,85.1L457.8,84.4L458.5,83.7L459.2,83.1L460.0,82.6L460.8,82.2L461.5,81.9L462.2,81.7L463.0,81.5L463.8,81.5L464.5,81.6L465.2,81.7L466.0,82.0L466.8,82.5L467.5,83.0L468.2,83.6L469.0,84.4L469.8,85.3L470.5,86.2L471.2,87.3L472.0,88.4L472.8,89.6L473.5,90.9L474.2,92.2L475.0,93.6L475.8,95.0L476.5,96.5L477.2,98.0L478.0,99.6L478.8,101.1L479.5,102.6L480.2,104.2L481.0,105.7L481.8,107.3L482.5,108.8L483.2,110.3L484.0,111.7L484.8,113.2L485.5,114.5L486.2,115.9L487.0,117.2L487.8,118.4L488.5,119.6L489.2,120.8L490.0,121.9L490.8,122.9L491.5,123.9L492.2,124.8L493.0,125.7L493.8,126.5L494.5,127.3L495.2,128.0L496.0,128.7L496.8,129.4L497.5,129.9L498.2,130.5L499.0,131.0L499.8,131.4L500.5,131.8L501.2,132.2L502.0,132.6L502.8,132.9L503.5,133.2L504.2,133.5L505.0,133.7L505.8,133.9L506.5,134.1L507.2,134.3L508.0,134.4L508.8,134.6L509.5,134.7L510.2,134.8L511.0,134.9L511.8,135.0L512.5,135.1" fill="none" stroke="#1010c8" stroke-width="1.45"/>
<path d="M463.0,131.1L463.8,131.0L464.5,130.9L465.2,130.7L466.0,130.5L466.8,130.2L467.5,129.8L468.2,129.3L469.0,128.7L469.8,127.9L470.5,126.9L471.2,125.7L472.0,124.3L472.8,122.7L473.5,120.8L474.2,118.6L475.0,116.1L475.8,113.3L476.5,110.2L477.2,106.8L478.0,103.2L478.8,99.4L479.5,95.4L480.2,91.3L481.0,87.2L481.8,83.1L482.5,79.2L483.2,75.5L484.0,72.0L484.8,69.0L485.5,66.4L486.2,64.3L487.0,62.9L487.8,62.0L488.5,61.9L489.2,62.3L490.0,63.2L490.8,64.6L491.5,66.5L492.2,68.8L493.0,71.5L493.8,74.5L494.5,77.8L495.2,81.3L496.0,85.0L496.8,88.7L497.5,92.5L498.2,96.3L499.0,99.9L499.8,103.5L500.5,106.9L501.2,110.2L502.0,113.2L502.8,116.0L503.5,118.6L504.2,120.9L505.0,123.0L505.8,124.9L506.5,126.6L507.2,128.0L508.0,129.3L508.8,130.4L509.5,131.3L510.2,132.1L511.0,132.8L511.8,133.3L512.5,133.8L513.2,134.2L514.0,134.5L514.8,134.8L515.5,135.0L516.2,135.2L517.0,135.3" fill="none" stroke="#ff1040" stroke-width="1.45"/>
<path d="M392.5,130.1L393.2,130.1L394.0,130.1L394.8,130.1L395.5,130.1L396.2,130.1L397.0,130.1L397.8,130.1L398.5,130.1L399.2,130.1L400.0,130.1L400.8,130.1L401.5,130.1L402.2,130.1L403.0,130.1L403.8,130.1L404.5,130.1L405.2,130.1L406.0,130.0L406.8,130.0L407.5,130.0L408.2,130.0L409.0,129.9L409.8,129.9L410.5,129.9L411.2,129.8L412.0,129.7L412.8,129.7L413.5,129.6L414.2,129.5L415.0,129.4L415.8,129.3L416.5,129.2L417.2,129.0L418.0,128.9L418.8,128.7L419.5,128.5L420.2,128.3L421.0,128.1L421.8,127.8L422.5,127.6L423.2,127.3L424.0,126.9L424.8,126.6L425.5,126.2L426.2,125.8L427.0,125.3L427.8,124.8L428.5,124.3L429.2,123.8L430.0,123.2L430.8,122.5L431.5,121.9L432.2,121.1L433.0,120.4L433.8,119.6L434.5,118.8L435.2,117.9L436.0,117.0L436.8,116.0L437.5,115.0L438.2,114.0L439.0,112.9L439.8,111.8L440.5,110.7L441.2,109.5L442.0,108.3L442.8,107.1L443.5,105.9L444.2,104.6L445.0,103.3L445.8,102.1L446.5,100.8L447.2,99.5L448.0,98.2L448.8,96.9L449.5,95.7L450.2,94.4L451.0,93.2L451.8,92.0L452.5,90.8L453.2,89.7L454.0,88.6L454.8,87.6L455.5,86.6L456.2,85.7L457.0,84.8L457.8,84.0L458.5,83.3L459.2,82.6L460.0,82.0L460.8,81.4L461.5,81.0L462.2,80.5L463.0,80.2L463.8,79.9L464.5,79.6L465.2,79.4L466.0,79.2L466.8,79.1L467.5,79.0L468.2,78.9L469.0,78.7L469.8,78.5L470.5,78.2L471.2,77.8L472.0,77.3L472.8,76.6L473.5,75.7L474.2,74.7L475.0,73.4L475.8,71.8L476.5,70.1L477.2,68.1L478.0,66.0L478.8,63.6L479.5,61.2L480.2,58.6L481.0,56.1L481.8,53.5L482.5,51.2L483.2,49.0L484.0,47.1L484.8,45.6L485.5,44.5L486.2,43.9L487.0,43.9L487.8,44.4L488.5,45.6L489.2,47.3L490.0,49.4L490.8,52.0L491.5,54.9L492.2,58.3L493.0,61.9L493.8,65.8L494.5,70.0L495.2,74.2L496.0,78.6L496.8,83.0L497.5,87.4L498.2,91.7L499.0,95.9L499.8,99.9L500.5,103.7L501.2,107.3L502.0,110.7L502.8,113.8L503.5,116.6L504.2,119.2L505.0,121.5L505.8,123.6L506.5,125.4L507.2,127.0L508.0,128.4L508.8,129.6L509.5,130.6L510.2,131.5L511.0,132.3L511.8,132.9L512.5,133.4L513.2,133.9L514.0,134.3L514.8,134.6L515.5,134.8L516.2,135.0L517.0,135.2L517.8,135.3L518.5,135.5L519.2,135.6L520.0,135.6L520.8,135.7L521.5,135.8L522.2,135.8L523.0,135.9L523.8,135.9L524.5,136.0L525.2,136.0L526.0,136.1L526.8,136.1L527.5,136.1L528.2,136.2L529.0,136.2L529.8,136.2L530.5,136.3L531.2,136.3L532.0,136.3L532.8,136.4L533.5,136.4L534.2,136.4L535.0,136.5L535.8,136.5L536.5,136.5L537.2,136.5L538.0,136.6L538.8,136.6L539.5,136.6L540.2,136.6L541.0,136.6L541.8,136.6L542.5,136.7L543.2,136.7L544.0,136.7L544.8,136.7L545.5,136.7L546.2,136.7L547.0,136.7L547.8,136.7L548.5,136.7L549.2,136.7L550.0,136.7L550.8,136.7L551.5,136.7L552.2,136.7L553.0,136.7L553.8,136.7L554.5,136.7L555.2,136.7L556.0,136.7L556.8,136.7L557.5,136.7L558.2,136.7" fill="none" stroke="#f0f" stroke-width="1.25"/>
</g>
<clipPath id="c2"><rect x="393.2" y="155.1" width="164.5" height="126.2"/></clipPath>
<g clip-path="url(#c2)">
<path d="M391.5,258.9L393.5,258.6L395.5,258.3L397.5,257.7L399.5,258.2L401.5,258.2L403.5,258.0L405.5,258.4L407.5,257.7L409.5,257.9L411.5,257.9L413.5,257.5L415.5,256.5L417.5,256.2L419.5,255.9L421.5,256.0L423.5,255.4L425.5,253.4L427.5,252.1L429.5,250.6 M459.5,191.0L461.5,189.4L463.5,190.8L465.5,190.9L467.5,192.9L469.5,194.1L471.5,193.6 M509.5,259.6L511.5,260.9L513.5,261.9L515.5,262.4L517.5,262.2L519.5,263.0L521.5,263.5L523.5,263.4L525.5,263.2L527.5,263.2L529.5,262.3L531.5,263.8L533.5,263.0L535.5,262.6L537.5,263.8L539.5,263.1L541.5,263.9L543.5,264.8L545.5,263.7L547.5,264.8L549.5,264.9L551.5,264.3L553.5,264.1L555.5,263.8L557.5,263.3L559.5,263.6" fill="none" stroke="#000" stroke-width="2.8" stroke-linejoin="round" stroke-linecap="round"/>
<path d="M389.8,258.9a1.75,1.75 0 1,0 3.5,0a1.75,1.75 0 1,0 -3.5,0M391.8,258.6a1.75,1.75 0 1,0 3.5,0a1.75,1.75 0 1,0 -3.5,0M393.8,258.3a1.75,1.75 0 1,0 3.5,0a1.75,1.75 0 1,0 -3.5,0M395.8,257.7a1.75,1.75 0 1,0 3.5,0a1.75,1.75 0 1,0 -3.5,0M397.8,258.2a1.75,1.75 0 1,0 3.5,0a1.75,1.75 0 1,0 -3.5,0M399.8,258.2a1.75,1.75 0 1,0 3.5,0a1.75,1.75 0 1,0 -3.5,0M401.8,258.0a1.75,1.75 0 1,0 3.5,0a1.75,1.75 0 1,0 -3.5,0M403.8,258.4a1.75,1.75 0 1,0 3.5,0a1.75,1.75 0 1,0 -3.5,0M405.8,257.7a1.75,1.75 0 1,0 3.5,0a1.75,1.75 0 1,0 -3.5,0M407.8,257.9a1.75,1.75 0 1,0 3.5,0a1.75,1.75 0 1,0 -3.5,0M409.8,257.9a1.75,1.75 0 1,0 3.5,0a1.75,1.75 0 1,0 -3.5,0M411.8,257.5a1.75,1.75 0 1,0 3.5,0a1.75,1.75 0 1,0 -3.5,0M413.8,256.5a1.75,1.75 0 1,0 3.5,0a1.75,1.75 0 1,0 -3.5,0M415.8,256.2a1.75,1.75 0 1,0 3.5,0a1.75,1.75 0 1,0 -3.5,0M417.8,255.9a1.75,1.75 0 1,0 3.5,0a1.75,1.75 0 1,0 -3.5,0M419.8,256.0a1.75,1.75 0 1,0 3.5,0a1.75,1.75 0 1,0 -3.5,0M421.8,255.4a1.75,1.75 0 1,0 3.5,0a1.75,1.75 0 1,0 -3.5,0M423.8,253.4a1.75,1.75 0 1,0 3.5,0a1.75,1.75 0 1,0 -3.5,0M425.8,252.1a1.75,1.75 0 1,0 3.5,0a1.75,1.75 0 1,0 -3.5,0M427.8,250.6a1.75,1.75 0 1,0 3.5,0a1.75,1.75 0 1,0 -3.5,0M429.8,249.1a1.75,1.75 0 1,0 3.5,0a1.75,1.75 0 1,0 -3.5,0M431.8,246.1a1.75,1.75 0 1,0 3.5,0a1.75,1.75 0 1,0 -3.5,0M433.8,242.1a1.75,1.75 0 1,0 3.5,0a1.75,1.75 0 1,0 -3.5,0M435.8,238.9a1.75,1.75 0 1,0 3.5,0a1.75,1.75 0 1,0 -3.5,0M437.8,234.9a1.75,1.75 0 1,0 3.5,0a1.75,1.75 0 1,0 -3.5,0M439.8,230.1a1.75,1.75 0 1,0 3.5,0a1.75,1.75 0 1,0 -3.5,0M441.8,225.2a1.75,1.75 0 1,0 3.5,0a1.75,1.75 0 1,0 -3.5,0M443.8,219.0a1.75,1.75 0 1,0 3.5,0a1.75,1.75 0 1,0 -3.5,0M445.8,213.6a1.75,1.75 0 1,0 3.5,0a1.75,1.75 0 1,0 -3.5,0M447.8,208.6a1.75,1.75 0 1,0 3.5,0a1.75,1.75 0 1,0 -3.5,0M449.8,204.0a1.75,1.75 0 1,0 3.5,0a1.75,1.75 0 1,0 -3.5,0M451.8,199.4a1.75,1.75 0 1,0 3.5,0a1.75,1.75 0 1,0 -3.5,0M453.8,196.0a1.75,1.75 0 1,0 3.5,0a1.75,1.75 0 1,0 -3.5,0M455.8,193.4a1.75,1.75 0 1,0 3.5,0a1.75,1.75 0 1,0 -3.5,0M457.8,191.0a1.75,1.75 0 1,0 3.5,0a1.75,1.75 0 1,0 -3.5,0M459.8,189.4a1.75,1.75 0 1,0 3.5,0a1.75,1.75 0 1,0 -3.5,0M461.8,190.8a1.75,1.75 0 1,0 3.5,0a1.75,1.75 0 1,0 -3.5,0M463.8,190.9a1.75,1.75 0 1,0 3.5,0a1.75,1.75 0 1,0 -3.5,0M465.8,192.9a1.75,1.75 0 1,0 3.5,0a1.75,1.75 0 1,0 -3.5,0M467.8,194.1a1.75,1.75 0 1,0 3.5,0a1.75,1.75 0 1,0 -3.5,0M469.8,193.6a1.75,1.75 0 1,0 3.5,0a1.75,1.75 0 1,0 -3.5,0M471.8,192.1a1.75,1.75 0 1,0 3.5,0a1.75,1.75 0 1,0 -3.5,0M473.8,188.8a1.75,1.75 0 1,0 3.5,0a1.75,1.75 0 1,0 -3.5,0M475.8,182.6a1.75,1.75 0 1,0 3.5,0a1.75,1.75 0 1,0 -3.5,0M477.8,177.2a1.75,1.75 0 1,0 3.5,0a1.75,1.75 0 1,0 -3.5,0M479.8,171.3a1.75,1.75 0 1,0 3.5,0a1.75,1.75 0 1,0 -3.5,0M481.8,167.7a1.75,1.75 0 1,0 3.5,0a1.75,1.75 0 1,0 -3.5,0M483.8,168.2a1.75,1.75 0 1,0 3.5,0a1.75,1.75 0 1,0 -3.5,0M485.8,172.8a1.75,1.75 0 1,0 3.5,0a1.75,1.75 0 1,0 -3.5,0M487.8,180.8a1.75,1.75 0 1,0 3.5,0a1.75,1.75 0 1,0 -3.5,0M489.8,189.8a1.75,1.75 0 1,0 3.5,0a1.75,1.75 0 1,0 -3.5,0M491.8,201.6a1.75,1.75 0 1,0 3.5,0a1.75,1.75 0 1,0 -3.5,0M493.8,212.6a1.75,1.75 0 1,0 3.5,0a1.75,1.75 0 1,0 -3.5,0M495.8,224.9a1.75,1.75 0 1,0 3.5,0a1.75,1.75 0 1,0 -3.5,0M497.8,234.9a1.75,1.75 0 1,0 3.5,0a1.75,1.75 0 1,0 -3.5,0M499.8,241.7a1.75,1.75 0 1,0 3.5,0a1.75,1.75 0 1,0 -3.5,0M501.8,249.6a1.75,1.75 0 1,0 3.5,0a1.75,1.75 0 1,0 -3.5,0M503.8,252.9a1.75,1.75 0 1,0 3.5,0a1.75,1.75 0 1,0 -3.5,0M505.8,257.9a1.75,1.75 0 1,0 3.5,0a1.75,1.75 0 1,0 -3.5,0M507.8,259.6a1.75,1.75 0 1,0 3.5,0a1.75,1.75 0 1,0 -3.5,0M509.8,260.9a1.75,1.75 0 1,0 3.5,0a1.75,1.75 0 1,0 -3.5,0M511.8,261.9a1.75,1.75 0 1,0 3.5,0a1.75,1.75 0 1,0 -3.5,0M513.8,262.4a1.75,1.75 0 1,0 3.5,0a1.75,1.75 0 1,0 -3.5,0M515.8,262.2a1.75,1.75 0 1,0 3.5,0a1.75,1.75 0 1,0 -3.5,0M517.8,263.0a1.75,1.75 0 1,0 3.5,0a1.75,1.75 0 1,0 -3.5,0M519.8,263.5a1.75,1.75 0 1,0 3.5,0a1.75,1.75 0 1,0 -3.5,0M521.8,263.4a1.75,1.75 0 1,0 3.5,0a1.75,1.75 0 1,0 -3.5,0M523.8,263.2a1.75,1.75 0 1,0 3.5,0a1.75,1.75 0 1,0 -3.5,0M525.8,263.2a1.75,1.75 0 1,0 3.5,0a1.75,1.75 0 1,0 -3.5,0M527.8,262.3a1.75,1.75 0 1,0 3.5,0a1.75,1.75 0 1,0 -3.5,0M529.8,263.8a1.75,1.75 0 1,0 3.5,0a1.75,1.75 0 1,0 -3.5,0M531.8,263.0a1.75,1.75 0 1,0 3.5,0a1.75,1.75 0 1,0 -3.5,0M533.8,262.6a1.75,1.75 0 1,0 3.5,0a1.75,1.75 0 1,0 -3.5,0M535.8,263.8a1.75,1.75 0 1,0 3.5,0a1.75,1.75 0 1,0 -3.5,0M537.8,263.1a1.75,1.75 0 1,0 3.5,0a1.75,1.75 0 1,0 -3.5,0M539.8,263.9a1.75,1.75 0 1,0 3.5,0a1.75,1.75 0 1,0 -3.5,0M541.8,264.8a1.75,1.75 0 1,0 3.5,0a1.75,1.75 0 1,0 -3.5,0M543.8,263.7a1.75,1.75 0 1,0 3.5,0a1.75,1.75 0 1,0 -3.5,0M545.8,264.8a1.75,1.75 0 1,0 3.5,0a1.75,1.75 0 1,0 -3.5,0M547.8,264.9a1.75,1.75 0 1,0 3.5,0a1.75,1.75 0 1,0 -3.5,0M549.8,264.3a1.75,1.75 0 1,0 3.5,0a1.75,1.75 0 1,0 -3.5,0M551.8,264.1a1.75,1.75 0 1,0 3.5,0a1.75,1.75 0 1,0 -3.5,0M553.8,263.8a1.75,1.75 0 1,0 3.5,0a1.75,1.75 0 1,0 -3.5,0M555.8,263.3a1.75,1.75 0 1,0 3.5,0a1.75,1.75 0 1,0 -3.5,0M557.8,263.6a1.75,1.75 0 1,0 3.5,0a1.75,1.75 0 1,0 -3.5,0" fill="none" stroke="#000" stroke-width="1.5"/>
<path d="M392.5,258.9L393.2,258.9L394.0,258.9L394.8,258.9L395.5,258.9L396.2,258.9L397.0,258.9L397.8,258.9L398.5,258.9L399.2,258.9L400.0,258.9L400.8,259.0L401.5,259.0L402.2,259.0L403.0,259.0L403.8,259.0L404.5,259.0L405.2,259.0L406.0,259.0L406.8,259.1L407.5,259.1L408.2,259.1L409.0,259.1L409.8,259.1L410.5,259.1L411.2,259.1L412.0,259.1L412.8,259.2L413.5,259.2L414.2,259.2L415.0,259.2L415.8,259.2L416.5,259.2L417.2,259.2L418.0,259.2L418.8,259.3L419.5,259.3L420.2,259.3L421.0,259.3L421.8,259.3L422.5,259.3L423.2,259.3L424.0,259.4L424.8,259.4L425.5,259.4L426.2,259.4L427.0,259.4L427.8,259.4L428.5,259.4L429.2,259.4L430.0,259.5L430.8,259.5L431.5,259.5L432.2,259.5L433.0,259.5L433.8,259.5L434.5,259.5L435.2,259.5L436.0,259.6L436.8,259.6L437.5,259.6L438.2,259.6L439.0,259.6L439.8,259.6L440.5,259.6L441.2,259.6L442.0,259.7L442.8,259.7L443.5,259.7L444.2,259.7L445.0,259.7L445.8,259.7L446.5,259.7L447.2,259.8L448.0,259.8L448.8,259.8L449.5,259.8L450.2,259.8L451.0,259.8L451.8,259.8L452.5,259.8L453.2,259.9L454.0,259.9L454.8,259.9L455.5,259.9L456.2,259.9L457.0,259.9L457.8,260.0L458.5,260.0L459.2,260.0L460.0,260.0L460.8,260.0L461.5,260.1L462.2,260.1L463.0,260.1L463.8,260.2L464.5,260.2L465.2,260.2L466.0,260.3L466.8,260.3L467.5,260.3L468.2,260.4L469.0,260.4L469.8,260.5L470.5,260.5L471.2,260.5L472.0,260.6L472.8,260.6L473.5,260.7L474.2,260.7L475.0,260.7L475.8,260.8L476.5,260.8L477.2,260.9L478.0,260.9L478.8,261.0L479.5,261.0L480.2,261.0L481.0,261.1L481.8,261.1L482.5,261.2L483.2,261.2L484.0,261.3L484.8,261.3L485.5,261.3L486.2,261.4L487.0,261.4L487.8,261.5L488.5,261.5L489.2,261.5L490.0,261.6L490.8,261.6L491.5,261.7L492.2,261.7L493.0,261.8L493.8,261.8L494.5,261.8L495.2,261.9L496.0,261.9L496.8,262.0L497.5,262.0L498.2,262.1L499.0,262.1L499.8,262.1L500.5,262.2L501.2,262.2L502.0,262.3L502.8,262.3L503.5,262.3L504.2,262.4L505.0,262.4L505.8,262.4L506.5,262.5L507.2,262.5L508.0,262.5L508.8,262.6L509.5,262.6L510.2,262.6L511.0,262.7L511.8,262.7L512.5,262.7L513.2,262.7L514.0,262.8L514.8,262.8L515.5,262.8L516.2,262.9L517.0,262.9L517.8,262.9L518.5,262.9L519.2,263.0L520.0,263.0L520.8,263.0L521.5,263.0L522.2,263.1L523.0,263.1L523.8,263.1L524.5,263.1L525.2,263.2L526.0,263.2L526.8,263.2L527.5,263.3L528.2,263.3L529.0,263.3L529.8,263.3L530.5,263.4L531.2,263.4L532.0,263.4L532.8,263.4L533.5,263.5L534.2,263.5L535.0,263.5L535.8,263.5L536.5,263.6L537.2,263.6L538.0,263.6L538.8,263.6L539.5,263.6L540.2,263.7L541.0,263.7L541.8,263.7L542.5,263.7L543.2,263.7L544.0,263.7L544.8,263.7L545.5,263.8L546.2,263.8L547.0,263.8L547.8,263.8L548.5,263.8L549.2,263.8L550.0,263.8L550.8,263.8L551.5,263.8L552.2,263.8L553.0,263.8L553.8,263.8L554.5,263.8L555.2,263.8L556.0,263.8L556.8,263.8L557.5,263.9L558.2,263.9" fill="none" stroke="#5a8a1e" stroke-width="1.45"/>
<path d="M412.0,258.8L412.8,258.7L413.5,258.7L414.2,258.6L415.0,258.5L415.8,258.4L416.5,258.3L417.2,258.2L418.0,258.0L418.8,257.9L419.5,257.7L420.2,257.5L421.0,257.2L421.8,257.0L422.5,256.6L423.2,256.3L424.0,255.9L424.8,255.5L425.5,255.0L426.2,254.5L427.0,254.0L427.8,253.4L428.5,252.7L429.2,252.0L430.0,251.2L430.8,250.3L431.5,249.4L432.2,248.4L433.0,247.3L433.8,246.2L434.5,245.0L435.2,243.7L436.0,242.4L436.8,240.9L437.5,239.4L438.2,237.8L439.0,236.2L439.8,234.5L440.5,232.7L441.2,230.9L442.0,229.0L442.8,227.1L443.5,225.1L444.2,223.2L445.0,221.1L445.8,219.1L446.5,217.1L447.2,215.0L448.0,213.0L448.8,211.0L449.5,209.1L450.2,207.1L451.0,205.3L451.8,203.5L452.5,201.8L453.2,200.2L454.0,198.7L454.8,197.3L455.5,196.0L456.2,194.9L457.0,193.9L457.8,193.0L458.5,192.3L459.2,191.7L460.0,191.3L460.8,191.1L461.5,191.1L462.2,191.2L463.0,191.5L463.8,192.0L464.5,192.7L465.2,193.5L466.0,194.5L466.8,195.7L467.5,197.0L468.2,198.5L469.0,200.0L469.8,201.8L470.5,203.6L471.2,205.5L472.0,207.5L472.8,209.6L473.5,211.7L474.2,213.8L475.0,216.0L475.8,218.2L476.5,220.4L477.2,222.6L478.0,224.8L478.8,227.0L479.5,229.1L480.2,231.1L481.0,233.2L481.8,235.1L482.5,237.0L483.2,238.8L484.0,240.6L484.8,242.2L485.5,243.8L486.2,245.3L487.0,246.7L487.8,248.1L488.5,249.3L489.2,250.5L490.0,251.6L490.8,252.6L491.5,253.6L492.2,254.4L493.0,255.2L493.8,256.0L494.5,256.7L495.2,257.3L496.0,257.9L496.8,258.4L497.5,258.8L498.2,259.3L499.0,259.7L499.8,260.0L500.5,260.3L501.2,260.6L502.0,260.9L502.8,261.1L503.5,261.3L504.2,261.5L505.0,261.6L505.8,261.8L506.5,261.9L507.2,262.0L508.0,262.1" fill="none" stroke="#1010c8" stroke-width="1.45"/>
<path d="M461.5,259.7L462.2,259.6L463.0,259.5L463.8,259.3L464.5,259.0L465.2,258.7L466.0,258.2L466.8,257.6L467.5,256.9L468.2,256.1L469.0,255.0L469.8,253.7L470.5,252.2L471.2,250.3L472.0,248.2L472.8,245.8L473.5,243.1L474.2,240.1L475.0,236.8L475.8,233.2L476.5,229.3L477.2,225.2L478.0,221.0L478.8,216.8L479.5,212.5L480.2,208.3L481.0,204.3L481.8,200.6L482.5,197.3L483.2,194.4L484.0,192.1L484.8,190.4L485.5,189.3L486.2,189.0L487.0,189.2L487.8,190.0L488.5,191.2L489.2,192.9L490.0,194.9L490.8,197.4L491.5,200.2L492.2,203.3L493.0,206.5L493.8,210.0L494.5,213.6L495.2,217.2L496.0,220.9L496.8,224.5L497.5,228.1L498.2,231.5L499.0,234.8L499.8,237.8L500.5,240.7L501.2,243.4L502.0,245.9L502.8,248.2L503.5,250.2L504.2,252.0L505.0,253.6L505.8,255.1L506.5,256.3L507.2,257.4L508.0,258.3L508.8,259.1L509.5,259.8L510.2,260.4L511.0,260.8L511.8,261.2L512.5,261.6L513.2,261.8L514.0,262.1L514.8,262.3L515.5,262.4" fill="none" stroke="#ff1040" stroke-width="1.45"/>
<path d="M392.5,258.7L393.2,258.7L394.0,258.7L394.8,258.6L395.5,258.6L396.2,258.6L397.0,258.6L397.8,258.5L398.5,258.5L399.2,258.4L400.0,258.4L400.8,258.4L401.5,258.3L402.2,258.3L403.0,258.2L403.8,258.2L404.5,258.1L405.2,258.0L406.0,258.0L406.8,257.9L407.5,257.8L408.2,257.8L409.0,257.7L409.8,257.6L410.5,257.5L411.2,257.5L412.0,257.4L412.8,257.3L413.5,257.2L414.2,257.1L415.0,257.0L415.8,256.8L416.5,256.7L417.2,256.6L418.0,256.4L418.8,256.3L419.5,256.1L420.2,255.9L421.0,255.7L421.8,255.4L422.5,255.2L423.2,254.9L424.0,254.5L424.8,254.1L425.5,253.7L426.2,253.3L427.0,252.8L427.8,252.2L428.5,251.6L429.2,250.9L430.0,250.2L430.8,249.4L431.5,248.5L432.2,247.6L433.0,246.6L433.8,245.5L434.5,244.4L435.2,243.1L436.0,241.8L436.8,240.5L437.5,239.0L438.2,237.5L439.0,235.9L439.8,234.2L440.5,232.5L441.2,230.7L442.0,228.8L442.8,226.9L443.5,225.0L444.2,223.0L445.0,221.0L445.8,219.0L446.5,217.0L447.2,215.0L448.0,212.9L448.8,211.0L449.5,209.0L450.2,207.1L451.0,205.3L451.8,203.5L452.5,201.8L453.2,200.2L454.0,198.6L454.8,197.2L455.5,196.0L456.2,194.8L457.0,193.8L457.8,192.9L458.5,192.1L459.2,191.5L460.0,191.1L460.8,190.8L461.5,190.6L462.2,190.5L463.0,190.6L463.8,190.8L464.5,191.1L465.2,191.5L466.0,191.9L466.8,192.4L467.5,192.8L468.2,193.2L469.0,193.6L469.8,193.8L470.5,193.8L471.2,193.7L472.0,193.3L472.8,192.7L473.5,191.9L474.2,190.7L475.0,189.3L475.8,187.6L476.5,185.7L477.2,183.6L478.0,181.4L478.8,179.1L479.5,176.7L480.2,174.5L481.0,172.4L481.8,170.6L482.5,169.1L483.2,168.1L484.0,167.5L484.8,167.5L485.5,168.2L486.2,169.4L487.0,171.2L487.8,173.5L488.5,176.1L489.2,179.1L490.0,182.5L490.8,186.2L491.5,190.1L492.2,194.2L493.0,198.5L493.8,202.8L494.5,207.2L495.2,211.6L496.0,216.0L496.8,220.2L497.5,224.3L498.2,228.2L499.0,231.9L499.8,235.4L500.5,238.6L501.2,241.6L502.0,244.3L502.8,246.8L503.5,249.0L504.2,251.0L505.0,252.8L505.8,254.4L506.5,255.7L507.2,256.9L508.0,257.9L508.8,258.8L509.5,259.5L510.2,260.1L511.0,260.6L511.8,261.1L512.5,261.4L513.2,261.7L514.0,262.0L514.8,262.2L515.5,262.3L516.2,262.5L517.0,262.6L517.8,262.7L518.5,262.8L519.2,262.8L520.0,262.9L520.8,262.9L521.5,263.0L522.2,263.0L523.0,263.1L523.8,263.1L524.5,263.1L525.2,263.2L526.0,263.2L526.8,263.2L527.5,263.3L528.2,263.3L529.0,263.3L529.8,263.3L530.5,263.4L531.2,263.4L532.0,263.4L532.8,263.4L533.5,263.5L534.2,263.5L535.0,263.5L535.8,263.5L536.5,263.6L537.2,263.6L538.0,263.6L538.8,263.6L539.5,263.6L540.2,263.7L541.0,263.7L541.8,263.7L542.5,263.7L543.2,263.7L544.0,263.7L544.8,263.7L545.5,263.8L546.2,263.8L547.0,263.8L547.8,263.8L548.5,263.8L549.2,263.8L550.0,263.8L550.8,263.8L551.5,263.8L552.2,263.8L553.0,263.8L553.8,263.8L554.5,263.8L555.2,263.8L556.0,263.8L556.8,263.8L557.5,263.9L558.2,263.9" fill="none" stroke="#f0f" stroke-width="1.25"/>
</g>
<clipPath id="c3"><rect x="393.2" y="282.8" width="164.5" height="119.5"/></clipPath>
<g clip-path="url(#c3)">
<path d="M391.5,382.0L393.5,381.9L395.5,381.8L397.5,381.5L399.5,381.6L401.5,383.3L403.5,381.3L405.5,382.1L407.5,382.0L409.5,381.9L411.5,382.0L413.5,381.1L415.5,380.9L417.5,381.5L419.5,381.1L421.5,381.2L423.5,380.3L425.5,380.1L427.5,380.4L429.5,378.9L431.5,379.1L433.5,378.4L435.5,377.6L437.5,377.2L439.5,377.6L441.5,375.9L443.5,374.2L445.5,374.0L447.5,372.9L449.5,371.8L451.5,369.4L453.5,368.7L455.5,366.8L457.5,365.5L459.5,364.4L461.5,362.6L463.5,361.0L465.5,359.5L467.5,357.9 M513.5,382.1L515.5,383.4L517.5,384.3L519.5,384.6L521.5,384.6L523.5,383.7L525.5,385.1L527.5,384.5L529.5,385.6L531.5,385.5L533.5,385.5L535.5,385.6L537.5,385.9L539.5,386.3L541.5,386.4L543.5,386.1L545.5,386.1L547.5,386.4L549.5,385.6L551.5,386.5L553.5,386.5L555.5,386.2L557.5,385.9L559.5,386.3" fill="none" stroke="#000" stroke-width="2.8" stroke-linejoin="round" stroke-linecap="round"/>
<path d="M389.8,382.0a1.75,1.75 0 1,0 3.5,0a1.75,1.75 0 1,0 -3.5,0M391.8,381.9a1.75,1.75 0 1,0 3.5,0a1.75,1.75 0 1,0 -3.5,0M393.8,381.8a1.75,1.75 0 1,0 3.5,0a1.75,1.75 0 1,0 -3.5,0M395.8,381.5a1.75,1.75 0 1,0 3.5,0a1.75,1.75 0 1,0 -3.5,0M397.8,381.6a1.75,1.75 0 1,0 3.5,0a1.75,1.75 0 1,0 -3.5,0M399.8,383.3a1.75,1.75 0 1,0 3.5,0a1.75,1.75 0 1,0 -3.5,0M401.8,381.3a1.75,1.75 0 1,0 3.5,0a1.75,1.75 0 1,0 -3.5,0M403.8,382.1a1.75,1.75 0 1,0 3.5,0a1.75,1.75 0 1,0 -3.5,0M405.8,382.0a1.75,1.75 0 1,0 3.5,0a1.75,1.75 0 1,0 -3.5,0M407.8,381.9a1.75,1.75 0 1,0 3.5,0a1.75,1.75 0 1,0 -3.5,0M409.8,382.0a1.75,1.75 0 1,0 3.5,0a1.75,1.75 0 1,0 -3.5,0M411.8,381.1a1.75,1.75 0 1,0 3.5,0a1.75,1.75 0 1,0 -3.5,0M413.8,380.9a1.75,1.75 0 1,0 3.5,0a1.75,1.75 0 1,0 -3.5,0M415.8,381.5a1.75,1.75 0 1,0 3.5,0a1.75,1.75 0 1,0 -3.5,0M417.8,381.1a1.75,1.75 0 1,0 3.5,0a1.75,1.75 0 1,0 -3.5,0M419.8,381.2a1.75,1.75 0 1,0 3.5,0a1.75,1.75 0 1,0 -3.5,0M421.8,380.3a1.75,1.75 0 1,0 3.5,0a1.75,1.75 0 1,0 -3.5,0M423.8,380.1a1.75,1.75 0 1,0 3.5,0a1.75,1.75 0 1,0 -3.5,0M425.8,380.4a1.75,1.75 0 1,0 3.5,0a1.75,1.75 0 1,0 -3.5,0M427.8,378.9a1.75,1.75 0 1,0 3.5,0a1.75,1.75 0 1,0 -3.5,0M429.8,379.1a1.75,1.75 0 1,0 3.5,0a1.75,1.75 0 1,0 -3.5,0M431.8,378.4a1.75,1.75 0 1,0 3.5,0a1.75,1.75 0 1,0 -3.5,0M433.8,377.6a1.75,1.75 0 1,0 3.5,0a1.75,1.75 0 1,0 -3.5,0M435.8,377.2a1.75,1.75 0 1,0 3.5,0a1.75,1.75 0 1,0 -3.5,0M437.8,377.6a1.75,1.75 0 1,0 3.5,0a1.75,1.75 0 1,0 -3.5,0M439.8,375.9a1.75,1.75 0 1,0 3.5,0a1.75,1.75 0 1,0 -3.5,0M441.8,374.2a1.75,1.75 0 1,0 3.5,0a1.75,1.75 0 1,0 -3.5,0M443.8,374.0a1.75,1.75 0 1,0 3.5,0a1.75,1.75 0 1,0 -3.5,0M445.8,372.9a1.75,1.75 0 1,0 3.5,0a1.75,1.75 0 1,0 -3.5,0M447.8,371.8a1.75,1.75 0 1,0 3.5,0a1.75,1.75 0 1,0 -3.5,0M449.8,369.4a1.75,1.75 0 1,0 3.5,0a1.75,1.75 0 1,0 -3.5,0M451.8,368.7a1.75,1.75 0 1,0 3.5,0a1.75,1.75 0 1,0 -3.5,0M453.8,366.8a1.75,1.75 0 1,0 3.5,0a1.75,1.75 0 1,0 -3.5,0M455.8,365.5a1.75,1.75 0 1,0 3.5,0a1.75,1.75 0 1,0 -3.5,0M457.8,364.4a1.75,1.75 0 1,0 3.5,0a1.75,1.75 0 1,0 -3.5,0M459.8,362.6a1.75,1.75 0 1,0 3.5,0a1.75,1.75 0 1,0 -3.5,0M461.8,361.0a1.75,1.75 0 1,0 3.5,0a1.75,1.75 0 1,0 -3.5,0M463.8,359.5a1.75,1.75 0 1,0 3.5,0a1.75,1.75 0 1,0 -3.5,0M465.8,357.9a1.75,1.75 0 1,0 3.5,0a1.75,1.75 0 1,0 -3.5,0M467.8,357.3a1.75,1.75 0 1,0 3.5,0a1.75,1.75 0 1,0 -3.5,0M469.8,353.8a1.75,1.75 0 1,0 3.5,0a1.75,1.75 0 1,0 -3.5,0M471.8,347.6a1.75,1.75 0 1,0 3.5,0a1.75,1.75 0 1,0 -3.5,0M473.8,342.9a1.75,1.75 0 1,0 3.5,0a1.75,1.75 0 1,0 -3.5,0M475.8,334.8a1.75,1.75 0 1,0 3.5,0a1.75,1.75 0 1,0 -3.5,0M477.8,325.3a1.75,1.75 0 1,0 3.5,0a1.75,1.75 0 1,0 -3.5,0M479.8,314.6a1.75,1.75 0 1,0 3.5,0a1.75,1.75 0 1,0 -3.5,0M481.8,305.4a1.75,1.75 0 1,0 3.5,0a1.75,1.75 0 1,0 -3.5,0M483.8,297.2a1.75,1.75 0 1,0 3.5,0a1.75,1.75 0 1,0 -3.5,0M485.8,293.0a1.75,1.75 0 1,0 3.5,0a1.75,1.75 0 1,0 -3.5,0M487.8,291.9a1.75,1.75 0 1,0 3.5,0a1.75,1.75 0 1,0 -3.5,0M489.8,294.8a1.75,1.75 0 1,0 3.5,0a1.75,1.75 0 1,0 -3.5,0M491.8,302.6a1.75,1.75 0 1,0 3.5,0a1.75,1.75 0 1,0 -3.5,0M493.8,313.7a1.75,1.75 0 1,0 3.5,0a1.75,1.75 0 1,0 -3.5,0M495.8,326.4a1.75,1.75 0 1,0 3.5,0a1.75,1.75 0 1,0 -3.5,0M497.8,337.6a1.75,1.75 0 1,0 3.5,0a1.75,1.75 0 1,0 -3.5,0M499.8,349.9a1.75,1.75 0 1,0 3.5,0a1.75,1.75 0 1,0 -3.5,0M501.8,360.1a1.75,1.75 0 1,0 3.5,0a1.75,1.75 0 1,0 -3.5,0M503.8,366.8a1.75,1.75 0 1,0 3.5,0a1.75,1.75 0 1,0 -3.5,0M505.8,373.8a1.75,1.75 0 1,0 3.5,0a1.75,1.75 0 1,0 -3.5,0M507.8,377.5a1.75,1.75 0 1,0 3.5,0a1.75,1.75 0 1,0 -3.5,0M509.8,379.5a1.75,1.75 0 1,0 3.5,0a1.75,1.75 0 1,0 -3.5,0M511.8,382.1a1.75,1.75 0 1,0 3.5,0a1.75,1.75 0 1,0 -3.5,0M513.8,383.4a1.75,1.75 0 1,0 3.5,0a1.75,1.75 0 1,0 -3.5,0M515.8,384.3a1.75,1.75 0 1,0 3.5,0a1.75,1.75 0 1,0 -3.5,0M517.8,384.6a1.75,1.75 0 1,0 3.5,0a1.75,1.75 0 1,0 -3.5,0M519.8,384.6a1.75,1.75 0 1,0 3.5,0a1.75,1.75 0 1,0 -3.5,0M521.8,383.7a1.75,1.75 0 1,0 3.5,0a1.75,1.75 0 1,0 -3.5,0M523.8,385.1a1.75,1.75 0 1,0 3.5,0a1.75,1.75 0 1,0 -3.5,0M525.8,384.5a1.75,1.75 0 1,0 3.5,0a1.75,1.75 0 1,0 -3.5,0M527.8,385.6a1.75,1.75 0 1,0 3.5,0a1.75,1.75 0 1,0 -3.5,0M529.8,385.5a1.75,1.75 0 1,0 3.5,0a1.75,1.75 0 1,0 -3.5,0M531.8,385.5a1.75,1.75 0 1,0 3.5,0a1.75,1.75 0 1,0 -3.5,0M533.8,385.6a1.75,1.75 0 1,0 3.5,0a1.75,1.75 0 1,0 -3.5,0M535.8,385.9a1.75,1.75 0 1,0 3.5,0a1.75,1.75 0 1,0 -3.5,0M537.8,386.3a1.75,1.75 0 1,0 3.5,0a1.75,1.75 0 1,0 -3.5,0M539.8,386.4a1.75,1.75 0 1,0 3.5,0a1.75,1.75 0 1,0 -3.5,0M541.8,386.1a1.75,1.75 0 1,0 3.5,0a1.75,1.75 0 1,0 -3.5,0M543.8,386.1a1.75,1.75 0 1,0 3.5,0a1.75,1.75 0 1,0 -3.5,0M545.8,386.4a1.75,1.75 0 1,0 3.5,0a1.75,1.75 0 1,0 -3.5,0M547.8,385.6a1.75,1.75 0 1,0 3.5,0a1.75,1.75 0 1,0 -3.5,0M549.8,386.5a1.75,1.75 0 1,0 3.5,0a1.75,1.75 0 1,0 -3.5,0M551.8,386.5a1.75,1.75 0 1,0 3.5,0a1.75,1.75 0 1,0 -3.5,0M553.8,386.2a1.75,1.75 0 1,0 3.5,0a1.75,1.75 0 1,0 -3.5,0M555.8,385.9a1.75,1.75 0 1,0 3.5,0a1.75,1.75 0 1,0 -3.5,0M557.8,386.3a1.75,1.75 0 1,0 3.5,0a1.75,1.75 0 1,0 -3.5,0" fill="none" stroke="#000" stroke-width="1.5"/>
<path d="M392.5,381.8L393.2,381.8L394.0,381.9L394.8,381.9L395.5,381.9L396.2,381.9L397.0,381.9L397.8,381.9L398.5,381.9L399.2,381.9L400.0,381.9L400.8,381.9L401.5,381.9L402.2,381.9L403.0,381.9L403.8,381.9L404.5,381.9L405.2,381.9L406.0,381.9L406.8,381.9L407.5,382.0L408.2,382.0L409.0,382.0L409.8,382.0L410.5,382.0L411.2,382.0L412.0,382.0L412.8,382.0L413.5,382.0L414.2,382.0L415.0,382.0L415.8,382.0L416.5,382.0L417.2,382.1L418.0,382.1L418.8,382.1L419.5,382.1L420.2,382.1L421.0,382.1L421.8,382.1L422.5,382.1L423.2,382.1L424.0,382.1L424.8,382.1L425.5,382.1L426.2,382.1L427.0,382.2L427.8,382.2L428.5,382.2L429.2,382.2L430.0,382.2L430.8,382.2L431.5,382.2L432.2,382.2L433.0,382.2L433.8,382.2L434.5,382.2L435.2,382.2L436.0,382.2L436.8,382.2L437.5,382.3L438.2,382.3L439.0,382.3L439.8,382.3L440.5,382.3L441.2,382.3L442.0,382.3L442.8,382.3L443.5,382.3L444.2,382.3L445.0,382.3L445.8,382.3L446.5,382.3L447.2,382.4L448.0,382.4L448.8,382.4L449.5,382.4L450.2,382.4L451.0,382.4L451.8,382.4L452.5,382.4L453.2,382.4L454.0,382.4L454.8,382.4L455.5,382.4L456.2,382.5L457.0,382.5L457.8,382.5L458.5,382.5L459.2,382.5L460.0,382.5L460.8,382.6L461.5,382.6L462.2,382.6L463.0,382.6L463.8,382.6L464.5,382.7L465.2,382.7L466.0,382.7L466.8,382.8L467.5,382.8L468.2,382.8L469.0,382.9L469.8,382.9L470.5,382.9L471.2,383.0L472.0,383.0L472.8,383.1L473.5,383.1L474.2,383.1L475.0,383.2L475.8,383.2L476.5,383.2L477.2,383.3L478.0,383.3L478.8,383.4L479.5,383.4L480.2,383.4L481.0,383.5L481.8,383.5L482.5,383.6L483.2,383.6L484.0,383.6L484.8,383.7L485.5,383.7L486.2,383.7L487.0,383.8L487.8,383.8L488.5,383.9L489.2,383.9L490.0,383.9L490.8,384.0L491.5,384.0L492.2,384.0L493.0,384.1L493.8,384.1L494.5,384.2L495.2,384.2L496.0,384.2L496.8,384.3L497.5,384.3L498.2,384.3L499.0,384.4L499.8,384.4L500.5,384.5L501.2,384.5L502.0,384.5L502.8,384.6L503.5,384.6L504.2,384.7L505.0,384.7L505.8,384.7L506.5,384.8L507.2,384.8L508.0,384.8L508.8,384.9L509.5,384.9L510.2,384.9L511.0,385.0L511.8,385.0L512.5,385.0L513.2,385.1L514.0,385.1L514.8,385.1L515.5,385.2L516.2,385.2L517.0,385.2L517.8,385.3L518.5,385.3L519.2,385.3L520.0,385.4L520.8,385.4L521.5,385.4L522.2,385.5L523.0,385.5L523.8,385.5L524.5,385.6L525.2,385.6L526.0,385.6L526.8,385.6L527.5,385.7L528.2,385.7L529.0,385.7L529.8,385.8L530.5,385.8L531.2,385.8L532.0,385.9L532.8,385.9L533.5,385.9L534.2,386.0L535.0,386.0L535.8,386.0L536.5,386.0L537.2,386.1L538.0,386.1L538.8,386.1L539.5,386.1L540.2,386.1L541.0,386.2L541.8,386.2L542.5,386.2L543.2,386.2L544.0,386.2L544.8,386.2L545.5,386.3L546.2,386.3L547.0,386.3L547.8,386.3L548.5,386.3L549.2,386.3L550.0,386.3L550.8,386.3L551.5,386.3L552.2,386.3L553.0,386.3L553.8,386.3L554.5,386.3L555.2,386.3L556.0,386.3L556.8,386.3L557.5,386.4L558.2,386.4" fill="none" stroke="#5a8a1e" stroke-width="1.45"/>
<path d="M430.0,381.8L430.8,381.7L431.5,381.7L432.2,381.6L433.0,381.5L433.8,381.4L434.5,381.3L435.2,381.1L436.0,381.0L436.8,380.8L437.5,380.6L438.2,380.4L439.0,380.2L439.8,380.0L440.5,379.7L441.2,379.4L442.0,379.1L442.8,378.7L443.5,378.3L444.2,377.9L445.0,377.5L445.8,377.0L446.5,376.5L447.2,376.0L448.0,375.4L448.8,374.9L449.5,374.2L450.2,373.6L451.0,373.0L451.8,372.3L452.5,371.6L453.2,370.9L454.0,370.3L454.8,369.6L455.5,368.9L456.2,368.2L457.0,367.5L457.8,366.8L458.5,366.2L459.2,365.6L460.0,365.0L460.8,364.4L461.5,363.9L462.2,363.5L463.0,363.1L463.8,362.7L464.5,362.4L465.2,362.2L466.0,362.0L466.8,361.9L467.5,361.8L468.2,361.8L469.0,361.9L469.8,362.0L470.5,362.1L471.2,362.2L472.0,362.4L472.8,362.6L473.5,362.8L474.2,363.1L475.0,363.4L475.8,363.7L476.5,364.0L477.2,364.4L478.0,364.7L478.8,365.1L479.5,365.5L480.2,366.0L481.0,366.4L481.8,366.9L482.5,367.3L483.2,367.8L484.0,368.3L484.8,368.8L485.5,369.3L486.2,369.8L487.0,370.3L487.8,370.9L488.5,371.4L489.2,371.9L490.0,372.4L490.8,372.9L491.5,373.4L492.2,373.9L493.0,374.4L493.8,374.9L494.5,375.4L495.2,375.8L496.0,376.3L496.8,376.7L497.5,377.2L498.2,377.6L499.0,378.0L499.8,378.4L500.5,378.8L501.2,379.2L502.0,379.5L502.8,379.9L503.5,380.2L504.2,380.6L505.0,380.9L505.8,381.2L506.5,381.4L507.2,381.7L508.0,382.0L508.8,382.2L509.5,382.4L510.2,382.7L511.0,382.9L511.8,383.1L512.5,383.3L513.2,383.4L514.0,383.6L514.8,383.8L515.5,383.9L516.2,384.1L517.0,384.2L517.8,384.3L518.5,384.4L519.2,384.5L520.0,384.6L520.8,384.7L521.5,384.8L522.2,384.9L523.0,385.0L523.8,385.1L524.5,385.2L525.2,385.2" fill="none" stroke="#1010c8" stroke-width="1.45"/>
<path d="M461.5,382.2L462.2,382.1L463.0,382.0L463.8,381.8L464.5,381.6L465.2,381.3L466.0,381.0L466.8,380.5L467.5,380.0L468.2,379.3L469.0,378.5L469.8,377.5L470.5,376.4L471.2,375.0L472.0,373.4L472.8,371.6L473.5,369.5L474.2,367.1L475.0,364.5L475.8,361.6L476.5,358.4L477.2,355.0L478.0,351.3L478.8,347.4L479.5,343.4L480.2,339.2L481.0,335.0L481.8,330.7L482.5,326.6L483.2,322.5L484.0,318.7L484.8,315.2L485.5,312.1L486.2,309.4L487.0,307.2L487.8,305.5L488.5,304.4L489.2,303.9L490.0,304.1L490.8,304.8L491.5,306.2L492.2,308.1L493.0,310.6L493.8,313.5L494.5,316.9L495.2,320.6L496.0,324.5L496.8,328.7L497.5,332.9L498.2,337.3L499.0,341.5L499.8,345.8L500.5,349.8L501.2,353.7L502.0,357.4L502.8,360.8L503.5,364.0L504.2,366.9L505.0,369.5L505.8,371.9L506.5,373.9L507.2,375.8L508.0,377.3L508.8,378.7L509.5,379.9L510.2,380.9L511.0,381.7L511.8,382.4L512.5,383.0L513.2,383.5L514.0,383.9L514.8,384.2L515.5,384.4L516.2,384.6L517.0,384.8" fill="none" stroke="#ff1040" stroke-width="1.45"/>
<path d="M392.5,381.8L393.2,381.8L394.0,381.8L394.8,381.8L395.5,381.8L396.2,381.8L397.0,381.8L397.8,381.8L398.5,381.8L399.2,381.8L400.0,381.8L400.8,381.8L401.5,381.8L402.2,381.8L403.0,381.8L403.8,381.8L404.5,381.7L405.2,381.7L406.0,381.7L406.8,381.7L407.5,381.7L408.2,381.6L409.0,381.6L409.8,381.6L410.5,381.5L411.2,381.5L412.0,381.5L412.8,381.4L413.5,381.4L414.2,381.3L415.0,381.3L415.8,381.2L416.5,381.2L417.2,381.1L418.0,381.0L418.8,380.9L419.5,380.9L420.2,380.8L421.0,380.7L421.8,380.6L422.5,380.5L423.2,380.4L424.0,380.3L424.8,380.2L425.5,380.1L426.2,380.0L427.0,379.9L427.8,379.8L428.5,379.6L429.2,379.5L430.0,379.4L430.8,379.3L431.5,379.1L432.2,379.0L433.0,378.8L433.8,378.6L434.5,378.5L435.2,378.3L436.0,378.1L436.8,377.9L437.5,377.7L438.2,377.5L439.0,377.2L439.8,377.0L440.5,376.7L441.2,376.4L442.0,376.1L442.8,375.8L443.5,375.4L444.2,375.0L445.0,374.6L445.8,374.2L446.5,373.8L447.2,373.3L448.0,372.8L448.8,372.3L449.5,371.8L450.2,371.2L451.0,370.7L451.8,370.1L452.5,369.5L453.2,368.9L454.0,368.3L454.8,367.7L455.5,367.1L456.2,366.5L457.0,365.9L457.8,365.3L458.5,364.7L459.2,364.1L460.0,363.6L460.8,363.0L461.5,362.5L462.2,362.0L463.0,361.5L463.8,361.0L464.5,360.6L465.2,360.1L466.0,359.6L466.8,359.0L467.5,358.5L468.2,357.8L469.0,357.1L469.8,356.2L470.5,355.1L471.2,353.9L472.0,352.5L472.8,350.9L473.5,349.0L474.2,346.9L475.0,344.5L475.8,341.9L476.5,339.0L477.2,335.9L478.0,332.6L478.8,329.1L479.5,325.4L480.2,321.6L481.0,317.8L481.8,314.0L482.5,310.3L483.2,306.7L484.0,303.4L484.8,300.3L485.5,297.7L486.2,295.4L487.0,293.7L487.8,292.5L488.5,291.9L489.2,291.9L490.0,292.5L490.8,293.8L491.5,295.6L492.2,298.0L493.0,300.9L493.8,304.3L494.5,308.1L495.2,312.2L496.0,316.6L496.8,321.1L497.5,325.8L498.2,330.5L499.0,335.2L499.8,339.8L500.5,344.2L501.2,348.4L502.0,352.4L502.8,356.2L503.5,359.6L504.2,362.8L505.0,365.7L505.8,368.3L506.5,370.6L507.2,372.7L508.0,374.5L508.8,376.1L509.5,377.4L510.2,378.6L511.0,379.6L511.8,380.5L512.5,381.2L513.2,381.8L514.0,382.3L514.8,382.8L515.5,383.2L516.2,383.5L517.0,383.8L517.8,384.0L518.5,384.2L519.2,384.4L520.0,384.5L520.8,384.7L521.5,384.8L522.2,384.9L523.0,385.0L523.8,385.1L524.5,385.1L525.2,385.2L526.0,385.3L526.8,385.4L527.5,385.4L528.2,385.5L529.0,385.5L529.8,385.6L530.5,385.6L531.2,385.7L532.0,385.7L532.8,385.8L533.5,385.8L534.2,385.9L535.0,385.9L535.8,385.9L536.5,386.0L537.2,386.0L538.0,386.0L538.8,386.1L539.5,386.1L540.2,386.1L541.0,386.1L541.8,386.2L542.5,386.2L543.2,386.2L544.0,386.2L544.8,386.2L545.5,386.2L546.2,386.3L547.0,386.3L547.8,386.3L548.5,386.3L549.2,386.3L550.0,386.3L550.8,386.3L551.5,386.3L552.2,386.3L553.0,386.3L553.8,386.3L554.5,386.3L555.2,386.3L556.0,386.3L556.8,386.3L557.5,386.4L558.2,386.4" fill="none" stroke="#f0f" stroke-width="1.25"/>
</g>
<clipPath id="c4"><rect x="393.2" y="403.8" width="164.5" height="135.5"/></clipPath>
<g clip-path="url(#c4)">
<path d="M391.5,522.9L393.5,523.7L395.5,523.0L397.5,523.8L399.5,524.3L401.5,523.0L403.5,523.5L405.5,523.6L407.5,523.0L409.5,524.2L411.5,524.2L413.5,523.0L415.5,523.7L417.5,522.3L419.5,522.7L421.5,522.2L423.5,522.6L425.5,522.7L427.5,522.3L429.5,522.3L431.5,522.1L433.5,522.2L435.5,521.0L437.5,520.3L439.5,520.3L441.5,518.7L443.5,518.7L445.5,516.5L447.5,517.1L449.5,515.4L451.5,514.0L453.5,514.9L455.5,512.5L457.5,511.6L459.5,511.5L461.5,509.9L463.5,510.2L465.5,509.7L467.5,508.3 M515.5,524.5L517.5,525.4L519.5,526.1L521.5,525.5L523.5,526.3L525.5,526.4L527.5,527.4L529.5,527.7L531.5,526.7L533.5,526.5L535.5,526.7L537.5,527.4L539.5,527.3L541.5,527.6L543.5,527.1L545.5,526.7L547.5,527.4L549.5,527.8L551.5,527.2L553.5,527.2L555.5,527.5L557.5,528.8L559.5,527.9" fill="none" stroke="#000" stroke-width="2.8" stroke-linejoin="round" stroke-linecap="round"/>
<path d="M389.8,522.9a1.75,1.75 0 1,0 3.5,0a1.75,1.75 0 1,0 -3.5,0M391.8,523.7a1.75,1.75 0 1,0 3.5,0a1.75,1.75 0 1,0 -3.5,0M393.8,523.0a1.75,1.75 0 1,0 3.5,0a1.75,1.75 0 1,0 -3.5,0M395.8,523.8a1.75,1.75 0 1,0 3.5,0a1.75,1.75 0 1,0 -3.5,0M397.8,524.3a1.75,1.75 0 1,0 3.5,0a1.75,1.75 0 1,0 -3.5,0M399.8,523.0a1.75,1.75 0 1,0 3.5,0a1.75,1.75 0 1,0 -3.5,0M401.8,523.5a1.75,1.75 0 1,0 3.5,0a1.75,1.75 0 1,0 -3.5,0M403.8,523.6a1.75,1.75 0 1,0 3.5,0a1.75,1.75 0 1,0 -3.5,0M405.8,523.0a1.75,1.75 0 1,0 3.5,0a1.75,1.75 0 1,0 -3.5,0M407.8,524.2a1.75,1.75 0 1,0 3.5,0a1.75,1.75 0 1,0 -3.5,0M409.8,524.2a1.75,1.75 0 1,0 3.5,0a1.75,1.75 0 1,0 -3.5,0M411.8,523.0a1.75,1.75 0 1,0 3.5,0a1.75,1.75 0 1,0 -3.5,0M413.8,523.7a1.75,1.75 0 1,0 3.5,0a1.75,1.75 0 1,0 -3.5,0M415.8,522.3a1.75,1.75 0 1,0 3.5,0a1.75,1.75 0 1,0 -3.5,0M417.8,522.7a1.75,1.75 0 1,0 3.5,0a1.75,1.75 0 1,0 -3.5,0M419.8,522.2a1.75,1.75 0 1,0 3.5,0a1.75,1.75 0 1,0 -3.5,0M421.8,522.6a1.75,1.75 0 1,0 3.5,0a1.75,1.75 0 1,0 -3.5,0M423.8,522.7a1.75,1.75 0 1,0 3.5,0a1.75,1.75 0 1,0 -3.5,0M425.8,522.3a1.75,1.75 0 1,0 3.5,0a1.75,1.75 0 1,0 -3.5,0M427.8,522.3a1.75,1.75 0 1,0 3.5,0a1.75,1.75 0 1,0 -3.5,0M429.8,522.1a1.75,1.75 0 1,0 3.5,0a1.75,1.75 0 1,0 -3.5,0M431.8,522.2a1.75,1.75 0 1,0 3.5,0a1.75,1.75 0 1,0 -3.5,0M433.8,521.0a1.75,1.75 0 1,0 3.5,0a1.75,1.75 0 1,0 -3.5,0M435.8,520.3a1.75,1.75 0 1,0 3.5,0a1.75,1.75 0 1,0 -3.5,0M437.8,520.3a1.75,1.75 0 1,0 3.5,0a1.75,1.75 0 1,0 -3.5,0M439.8,518.7a1.75,1.75 0 1,0 3.5,0a1.75,1.75 0 1,0 -3.5,0M441.8,518.7a1.75,1.75 0 1,0 3.5,0a1.75,1.75 0 1,0 -3.5,0M443.8,516.5a1.75,1.75 0 1,0 3.5,0a1.75,1.75 0 1,0 -3.5,0M445.8,517.1a1.75,1.75 0 1,0 3.5,0a1.75,1.75 0 1,0 -3.5,0M447.8,515.4a1.75,1.75 0 1,0 3.5,0a1.75,1.75 0 1,0 -3.5,0M449.8,514.0a1.75,1.75 0 1,0 3.5,0a1.75,1.75 0 1,0 -3.5,0M451.8,514.9a1.75,1.75 0 1,0 3.5,0a1.75,1.75 0 1,0 -3.5,0M453.8,512.5a1.75,1.75 0 1,0 3.5,0a1.75,1.75 0 1,0 -3.5,0M455.8,511.6a1.75,1.75 0 1,0 3.5,0a1.75,1.75 0 1,0 -3.5,0M457.8,511.5a1.75,1.75 0 1,0 3.5,0a1.75,1.75 0 1,0 -3.5,0M459.8,509.9a1.75,1.75 0 1,0 3.5,0a1.75,1.75 0 1,0 -3.5,0M461.8,510.2a1.75,1.75 0 1,0 3.5,0a1.75,1.75 0 1,0 -3.5,0M463.8,509.7a1.75,1.75 0 1,0 3.5,0a1.75,1.75 0 1,0 -3.5,0M465.8,508.3a1.75,1.75 0 1,0 3.5,0a1.75,1.75 0 1,0 -3.5,0M467.8,506.5a1.75,1.75 0 1,0 3.5,0a1.75,1.75 0 1,0 -3.5,0M469.8,503.4a1.75,1.75 0 1,0 3.5,0a1.75,1.75 0 1,0 -3.5,0M471.8,499.0a1.75,1.75 0 1,0 3.5,0a1.75,1.75 0 1,0 -3.5,0M473.8,492.5a1.75,1.75 0 1,0 3.5,0a1.75,1.75 0 1,0 -3.5,0M475.8,483.7a1.75,1.75 0 1,0 3.5,0a1.75,1.75 0 1,0 -3.5,0M477.8,472.3a1.75,1.75 0 1,0 3.5,0a1.75,1.75 0 1,0 -3.5,0M479.8,458.5a1.75,1.75 0 1,0 3.5,0a1.75,1.75 0 1,0 -3.5,0M481.8,443.9a1.75,1.75 0 1,0 3.5,0a1.75,1.75 0 1,0 -3.5,0M483.8,432.2a1.75,1.75 0 1,0 3.5,0a1.75,1.75 0 1,0 -3.5,0M485.8,424.8a1.75,1.75 0 1,0 3.5,0a1.75,1.75 0 1,0 -3.5,0M487.8,422.8a1.75,1.75 0 1,0 3.5,0a1.75,1.75 0 1,0 -3.5,0M489.8,426.5a1.75,1.75 0 1,0 3.5,0a1.75,1.75 0 1,0 -3.5,0M491.8,432.5a1.75,1.75 0 1,0 3.5,0a1.75,1.75 0 1,0 -3.5,0M493.8,443.2a1.75,1.75 0 1,0 3.5,0a1.75,1.75 0 1,0 -3.5,0M495.8,457.2a1.75,1.75 0 1,0 3.5,0a1.75,1.75 0 1,0 -3.5,0M497.8,469.9a1.75,1.75 0 1,0 3.5,0a1.75,1.75 0 1,0 -3.5,0M499.8,482.8a1.75,1.75 0 1,0 3.5,0a1.75,1.75 0 1,0 -3.5,0M501.8,493.8a1.75,1.75 0 1,0 3.5,0a1.75,1.75 0 1,0 -3.5,0M503.8,504.0a1.75,1.75 0 1,0 3.5,0a1.75,1.75 0 1,0 -3.5,0M505.8,511.0a1.75,1.75 0 1,0 3.5,0a1.75,1.75 0 1,0 -3.5,0M507.8,515.9a1.75,1.75 0 1,0 3.5,0a1.75,1.75 0 1,0 -3.5,0M509.8,520.0a1.75,1.75 0 1,0 3.5,0a1.75,1.75 0 1,0 -3.5,0M511.8,522.8a1.75,1.75 0 1,0 3.5,0a1.75,1.75 0 1,0 -3.5,0M513.8,524.5a1.75,1.75 0 1,0 3.5,0a1.75,1.75 0 1,0 -3.5,0M515.8,525.4a1.75,1.75 0 1,0 3.5,0a1.75,1.75 0 1,0 -3.5,0M517.8,526.1a1.75,1.75 0 1,0 3.5,0a1.75,1.75 0 1,0 -3.5,0M519.8,525.5a1.75,1.75 0 1,0 3.5,0a1.75,1.75 0 1,0 -3.5,0M521.8,526.3a1.75,1.75 0 1,0 3.5,0a1.75,1.75 0 1,0 -3.5,0M523.8,526.4a1.75,1.75 0 1,0 3.5,0a1.75,1.75 0 1,0 -3.5,0M525.8,527.4a1.75,1.75 0 1,0 3.5,0a1.75,1.75 0 1,0 -3.5,0M527.8,527.7a1.75,1.75 0 1,0 3.5,0a1.75,1.75 0 1,0 -3.5,0M529.8,526.7a1.75,1.75 0 1,0 3.5,0a1.75,1.75 0 1,0 -3.5,0M531.8,526.5a1.75,1.75 0 1,0 3.5,0a1.75,1.75 0 1,0 -3.5,0M533.8,526.7a1.75,1.75 0 1,0 3.5,0a1.75,1.75 0 1,0 -3.5,0M535.8,527.4a1.75,1.75 0 1,0 3.5,0a1.75,1.75 0 1,0 -3.5,0M537.8,527.3a1.75,1.75 0 1,0 3.5,0a1.75,1.75 0 1,0 -3.5,0M539.8,527.6a1.75,1.75 0 1,0 3.5,0a1.75,1.75 0 1,0 -3.5,0M541.8,527.1a1.75,1.75 0 1,0 3.5,0a1.75,1.75 0 1,0 -3.5,0M543.8,526.7a1.75,1.75 0 1,0 3.5,0a1.75,1.75 0 1,0 -3.5,0M545.8,527.4a1.75,1.75 0 1,0 3.5,0a1.75,1.75 0 1,0 -3.5,0M547.8,527.8a1.75,1.75 0 1,0 3.5,0a1.75,1.75 0 1,0 -3.5,0M549.8,527.2a1.75,1.75 0 1,0 3.5,0a1.75,1.75 0 1,0 -3.5,0M551.8,527.2a1.75,1.75 0 1,0 3.5,0a1.75,1.75 0 1,0 -3.5,0M553.8,527.5a1.75,1.75 0 1,0 3.5,0a1.75,1.75 0 1,0 -3.5,0M555.8,528.8a1.75,1.75 0 1,0 3.5,0a1.75,1.75 0 1,0 -3.5,0M557.8,527.9a1.75,1.75 0 1,0 3.5,0a1.75,1.75 0 1,0 -3.5,0" fill="none" stroke="#000" stroke-width="1.5"/>
<path d="M392.5,523.5L393.2,523.5L394.0,523.5L394.8,523.5L395.5,523.5L396.2,523.5L397.0,523.5L397.8,523.5L398.5,523.6L399.2,523.6L400.0,523.6L400.8,523.6L401.5,523.6L402.2,523.6L403.0,523.6L403.8,523.6L404.5,523.6L405.2,523.6L406.0,523.6L406.8,523.6L407.5,523.6L408.2,523.6L409.0,523.6L409.8,523.6L410.5,523.6L411.2,523.6L412.0,523.6L412.8,523.6L413.5,523.7L414.2,523.7L415.0,523.7L415.8,523.7L416.5,523.7L417.2,523.7L418.0,523.7L418.8,523.7L419.5,523.7L420.2,523.7L421.0,523.7L421.8,523.7L422.5,523.7L423.2,523.7L424.0,523.7L424.8,523.7L425.5,523.7L426.2,523.7L427.0,523.8L427.8,523.8L428.5,523.8L429.2,523.8L430.0,523.8L430.8,523.8L431.5,523.8L432.2,523.8L433.0,523.8L433.8,523.8L434.5,523.8L435.2,523.8L436.0,523.8L436.8,523.8L437.5,523.8L438.2,523.8L439.0,523.8L439.8,523.8L440.5,523.8L441.2,523.9L442.0,523.9L442.8,523.9L443.5,523.9L444.2,523.9L445.0,523.9L445.8,523.9L446.5,523.9L447.2,523.9L448.0,523.9L448.8,523.9L449.5,523.9L450.2,523.9L451.0,523.9L451.8,523.9L452.5,523.9L453.2,523.9L454.0,523.9L454.8,524.0L455.5,524.0L456.2,524.0L457.0,524.0L457.8,524.0L458.5,524.0L459.2,524.0L460.0,524.0L460.8,524.0L461.5,524.1L462.2,524.1L463.0,524.1L463.8,524.1L464.5,524.1L465.2,524.2L466.0,524.2L466.8,524.2L467.5,524.2L468.2,524.3L469.0,524.3L469.8,524.3L470.5,524.4L471.2,524.4L472.0,524.4L472.8,524.4L473.5,524.5L474.2,524.5L475.0,524.5L475.8,524.6L476.5,524.6L477.2,524.6L478.0,524.7L478.8,524.7L479.5,524.7L480.2,524.8L481.0,524.8L481.8,524.8L482.5,524.8L483.2,524.9L484.0,524.9L484.8,524.9L485.5,525.0L486.2,525.0L487.0,525.0L487.8,525.1L488.5,525.1L489.2,525.1L490.0,525.1L490.8,525.2L491.5,525.2L492.2,525.2L493.0,525.3L493.8,525.3L494.5,525.3L495.2,525.4L496.0,525.4L496.8,525.4L497.5,525.4L498.2,525.5L499.0,525.5L499.8,525.5L500.5,525.6L501.2,525.6L502.0,525.6L502.8,525.7L503.5,525.7L504.2,525.7L505.0,525.8L505.8,525.8L506.5,525.8L507.2,525.8L508.0,525.9L508.8,525.9L509.5,525.9L510.2,526.0L511.0,526.0L511.8,526.0L512.5,526.1L513.2,526.1L514.0,526.1L514.8,526.2L515.5,526.2L516.2,526.2L517.0,526.2L517.8,526.3L518.5,526.3L519.2,526.3L520.0,526.4L520.8,526.4L521.5,526.4L522.2,526.5L523.0,526.5L523.8,526.5L524.5,526.6L525.2,526.6L526.0,526.6L526.8,526.6L527.5,526.7L528.2,526.7L529.0,526.7L529.8,526.8L530.5,526.8L531.2,526.8L532.0,526.9L532.8,526.9L533.5,526.9L534.2,527.0L535.0,527.0L535.8,527.0L536.5,527.0L537.2,527.1L538.0,527.1L538.8,527.1L539.5,527.1L540.2,527.1L541.0,527.2L541.8,527.2L542.5,527.2L543.2,527.2L544.0,527.2L544.8,527.2L545.5,527.3L546.2,527.3L547.0,527.3L547.8,527.3L548.5,527.3L549.2,527.3L550.0,527.3L550.8,527.3L551.5,527.3L552.2,527.3L553.0,527.3L553.8,527.3L554.5,527.3L555.2,527.3L556.0,527.3L556.8,527.3L557.5,527.4L558.2,527.4" fill="none" stroke="#5a8a1e" stroke-width="1.45"/>
<path d="M418.8,523.3L419.5,523.3L420.2,523.2L421.0,523.2L421.8,523.1L422.5,523.1L423.2,523.0L424.0,523.0L424.8,522.9L425.5,522.8L426.2,522.7L427.0,522.6L427.8,522.5L428.5,522.4L429.2,522.3L430.0,522.1L430.8,522.0L431.5,521.8L432.2,521.7L433.0,521.5L433.8,521.3L434.5,521.1L435.2,520.9L436.0,520.7L436.8,520.5L437.5,520.3L438.2,520.0L439.0,519.7L439.8,519.5L440.5,519.2L441.2,518.9L442.0,518.6L442.8,518.3L443.5,518.0L444.2,517.7L445.0,517.3L445.8,517.0L446.5,516.7L447.2,516.3L448.0,516.0L448.8,515.6L449.5,515.3L450.2,514.9L451.0,514.5L451.8,514.2L452.5,513.9L453.2,513.5L454.0,513.2L454.8,512.9L455.5,512.5L456.2,512.2L457.0,512.0L457.8,511.7L458.5,511.4L459.2,511.2L460.0,511.0L460.8,510.8L461.5,510.6L462.2,510.4L463.0,510.3L463.8,510.2L464.5,510.1L465.2,510.1L466.0,510.0L466.8,510.0L467.5,510.0L468.2,510.1L469.0,510.2L469.8,510.4L470.5,510.6L471.2,510.9L472.0,511.2L472.8,511.6L473.5,512.0L474.2,512.4L475.0,512.9L475.8,513.4L476.5,513.9L477.2,514.5L478.0,515.0L478.8,515.6L479.5,516.2L480.2,516.7L481.0,517.3L481.8,517.9L482.5,518.4L483.2,518.9L484.0,519.4L484.8,519.9L485.5,520.4L486.2,520.9L487.0,521.3L487.8,521.7L488.5,522.1L489.2,522.4L490.0,522.7L490.8,523.0L491.5,523.3L492.2,523.6L493.0,523.8L493.8,524.0L494.5,524.2L495.2,524.4L496.0,524.6L496.8,524.7L497.5,524.8L498.2,525.0L499.0,525.1L499.8,525.2" fill="none" stroke="#1010c8" stroke-width="1.45"/>
<path d="M463.8,523.7L464.5,523.5L465.2,523.3L466.0,523.1L466.8,522.7L467.5,522.3L468.2,521.7L469.0,521.0L469.8,520.2L470.5,519.1L471.2,517.7L472.0,516.2L472.8,514.3L473.5,512.0L474.2,509.4L475.0,506.4L475.8,503.1L476.5,499.3L477.2,495.1L478.0,490.5L478.8,485.5L479.5,480.3L480.2,474.7L481.0,469.1L481.8,463.3L482.5,457.6L483.2,452.0L484.0,446.6L484.8,441.6L485.5,437.2L486.2,433.3L487.0,430.1L487.8,427.8L488.5,426.2L489.2,425.6L490.0,425.9L490.8,426.7L491.5,428.2L492.2,430.3L493.0,432.9L493.8,436.1L494.5,439.7L495.2,443.7L496.0,448.0L496.8,452.6L497.5,457.4L498.2,462.2L499.0,467.1L499.8,472.0L500.5,476.8L501.2,481.4L502.0,485.9L502.8,490.2L503.5,494.2L504.2,497.9L505.0,501.4L505.8,504.6L506.5,507.5L507.2,510.1L508.0,512.4L508.8,514.5L509.5,516.3L510.2,517.9L511.0,519.3L511.8,520.5L512.5,521.5L513.2,522.4L514.0,523.1L514.8,523.7L515.5,524.2L516.2,524.7L517.0,525.0L517.8,525.3L518.5,525.6L519.2,525.8L520.0,525.9" fill="none" stroke="#ff1040" stroke-width="1.45"/>
<path d="M392.5,523.5L393.2,523.5L394.0,523.5L394.8,523.5L395.5,523.5L396.2,523.5L397.0,523.5L397.8,523.5L398.5,523.5L399.2,523.5L400.0,523.5L400.8,523.5L401.5,523.6L402.2,523.6L403.0,523.6L403.8,523.6L404.5,523.6L405.2,523.6L406.0,523.6L406.8,523.6L407.5,523.6L408.2,523.6L409.0,523.5L409.8,523.5L410.5,523.5L411.2,523.5L412.0,523.5L412.8,523.5L413.5,523.5L414.2,523.5L415.0,523.5L415.8,523.4L416.5,523.4L417.2,523.4L418.0,523.4L418.8,523.3L419.5,523.3L420.2,523.2L421.0,523.2L421.8,523.1L422.5,523.1L423.2,523.0L424.0,523.0L424.8,522.9L425.5,522.8L426.2,522.7L427.0,522.6L427.8,522.5L428.5,522.4L429.2,522.3L430.0,522.1L430.8,522.0L431.5,521.8L432.2,521.7L433.0,521.5L433.8,521.3L434.5,521.1L435.2,520.9L436.0,520.7L436.8,520.5L437.5,520.3L438.2,520.0L439.0,519.7L439.8,519.5L440.5,519.2L441.2,518.9L442.0,518.6L442.8,518.3L443.5,518.0L444.2,517.7L445.0,517.3L445.8,517.0L446.5,516.7L447.2,516.3L448.0,516.0L448.8,515.6L449.5,515.3L450.2,514.9L451.0,514.5L451.8,514.2L452.5,513.9L453.2,513.5L454.0,513.2L454.8,512.9L455.5,512.5L456.2,512.2L457.0,511.9L457.8,511.7L458.5,511.4L459.2,511.1L460.0,510.9L460.8,510.7L461.5,510.4L462.2,510.2L463.0,510.0L463.8,509.8L464.5,509.5L465.2,509.2L466.0,508.9L466.8,508.6L467.5,508.1L468.2,507.6L469.0,507.0L469.8,506.2L470.5,505.3L471.2,504.3L472.0,503.0L472.8,501.4L473.5,499.5L474.2,497.4L475.0,494.8L475.8,491.9L476.5,488.6L477.2,484.9L478.0,480.9L478.8,476.4L479.5,471.7L480.2,466.7L481.0,461.6L481.8,456.4L482.5,451.1L483.2,446.0L484.0,441.2L484.8,436.6L485.5,432.6L486.2,429.2L487.0,426.4L487.8,424.4L488.5,423.2L489.2,422.9L490.0,423.4L490.8,424.6L491.5,426.3L492.2,428.6L493.0,431.5L493.8,434.8L494.5,438.6L495.2,442.8L496.0,447.2L496.8,451.9L497.5,456.7L498.2,461.7L499.0,466.7L499.8,471.6L500.5,476.4L501.2,481.2L502.0,485.7L502.8,490.0L503.5,494.0L504.2,497.8L505.0,501.3L505.8,504.5L506.5,507.4L507.2,510.0L508.0,512.4L508.8,514.4L509.5,516.3L510.2,517.9L511.0,519.3L511.8,520.5L512.5,521.5L513.2,522.4L514.0,523.1L514.8,523.7L515.5,524.2L516.2,524.7L517.0,525.0L517.8,525.3L518.5,525.6L519.2,525.8L520.0,525.9L520.8,526.1L521.5,526.2L522.2,526.3L523.0,526.3L523.8,526.4L524.5,526.5L525.2,526.5L526.0,526.6L526.8,526.6L527.5,526.7L528.2,526.7L529.0,526.7L529.8,526.8L530.5,526.8L531.2,526.8L532.0,526.9L532.8,526.9L533.5,526.9L534.2,527.0L535.0,527.0L535.8,527.0L536.5,527.0L537.2,527.1L538.0,527.1L538.8,527.1L539.5,527.1L540.2,527.1L541.0,527.2L541.8,527.2L542.5,527.2L543.2,527.2L544.0,527.2L544.8,527.2L545.5,527.3L546.2,527.3L547.0,527.3L547.8,527.3L548.5,527.3L549.2,527.3L550.0,527.3L550.8,527.3L551.5,527.3L552.2,527.3L553.0,527.3L553.8,527.3L554.5,527.3L555.2,527.3L556.0,527.3L556.8,527.3L557.5,527.4L558.2,527.4" fill="none" stroke="#f0f" stroke-width="1.25"/>
</g>
<clipPath id="c5"><rect x="393.2" y="540.8" width="164.5" height="145.4"/></clipPath>
<g clip-path="url(#c5)">
<path d="M391.5,672.8L393.5,672.9L395.5,673.1L397.5,671.9L399.5,672.4L401.5,673.1L403.5,672.7L405.5,673.1L407.5,673.0L409.5,671.8L411.5,672.1L413.5,672.7L415.5,672.4L417.5,672.7L419.5,673.0L421.5,672.4L423.5,672.2L425.5,671.4L427.5,671.7L429.5,672.5L431.5,672.3L433.5,672.0L435.5,671.0L437.5,670.8L439.5,671.2L441.5,669.8L443.5,670.1L445.5,669.2L447.5,668.4L449.5,666.6L451.5,666.3L453.5,664.7L455.5,662.2L457.5,661.1L459.5,659.3L461.5,657.7L463.5,655.2L465.5,656.1L467.5,652.5 M511.5,672.7L513.5,675.6L515.5,674.9L517.5,676.1L519.5,676.1L521.5,676.5L523.5,676.9L525.5,677.2L527.5,676.4L529.5,677.4L531.5,676.7L533.5,677.4L535.5,677.6L537.5,677.4L539.5,676.6L541.5,677.5L543.5,677.4L545.5,677.7L547.5,677.4L549.5,678.0L551.5,677.1L553.5,677.2L555.5,676.8L557.5,676.1L559.5,676.9" fill="none" stroke="#000" stroke-width="2.8" stroke-linejoin="round" stroke-linecap="round"/>
<path d="M389.8,672.8a1.75,1.75 0 1,0 3.5,0a1.75,1.75 0 1,0 -3.5,0M391.8,672.9a1.75,1.75 0 1,0 3.5,0a1.75,1.75 0 1,0 -3.5,0M393.8,673.1a1.75,1.75 0 1,0 3.5,0a1.75,1.75 0 1,0 -3.5,0M395.8,671.9a1.75,1.75 0 1,0 3.5,0a1.75,1.75 0 1,0 -3.5,0M397.8,672.4a1.75,1.75 0 1,0 3.5,0a1.75,1.75 0 1,0 -3.5,0M399.8,673.1a1.75,1.75 0 1,0 3.5,0a1.75,1.75 0 1,0 -3.5,0M401.8,672.7a1.75,1.75 0 1,0 3.5,0a1.75,1.75 0 1,0 -3.5,0M403.8,673.1a1.75,1.75 0 1,0 3.5,0a1.75,1.75 0 1,0 -3.5,0M405.8,673.0a1.75,1.75 0 1,0 3.5,0a1.75,1.75 0 1,0 -3.5,0M407.8,671.8a1.75,1.75 0 1,0 3.5,0a1.75,1.75 0 1,0 -3.5,0M409.8,672.1a1.75,1.75 0 1,0 3.5,0a1.75,1.75 0 1,0 -3.5,0M411.8,672.7a1.75,1.75 0 1,0 3.5,0a1.75,1.75 0 1,0 -3.5,0M413.8,672.4a1.75,1.75 0 1,0 3.5,0a1.75,1.75 0 1,0 -3.5,0M415.8,672.7a1.75,1.75 0 1,0 3.5,0a1.75,1.75 0 1,0 -3.5,0M417.8,673.0a1.75,1.75 0 1,0 3.5,0a1.75,1.75 0 1,0 -3.5,0M419.8,672.4a1.75,1.75 0 1,0 3.5,0a1.75,1.75 0 1,0 -3.5,0M421.8,672.2a1.75,1.75 0 1,0 3.5,0a1.75,1.75 0 1,0 -3.5,0M423.8,671.4a1.75,1.75 0 1,0 3.5,0a1.75,1.75 0 1,0 -3.5,0M425.8,671.7a1.75,1.75 0 1,0 3.5,0a1.75,1.75 0 1,0 -3.5,0M427.8,672.5a1.75,1.75 0 1,0 3.5,0a1.75,1.75 0 1,0 -3.5,0M429.8,672.3a1.75,1.75 0 1,0 3.5,0a1.75,1.75 0 1,0 -3.5,0M431.8,672.0a1.75,1.75 0 1,0 3.5,0a1.75,1.75 0 1,0 -3.5,0M433.8,671.0a1.75,1.75 0 1,0 3.5,0a1.75,1.75 0 1,0 -3.5,0M435.8,670.8a1.75,1.75 0 1,0 3.5,0a1.75,1.75 0 1,0 -3.5,0M437.8,671.2a1.75,1.75 0 1,0 3.5,0a1.75,1.75 0 1,0 -3.5,0M439.8,669.8a1.75,1.75 0 1,0 3.5,0a1.75,1.75 0 1,0 -3.5,0M441.8,670.1a1.75,1.75 0 1,0 3.5,0a1.75,1.75 0 1,0 -3.5,0M443.8,669.2a1.75,1.75 0 1,0 3.5,0a1.75,1.75 0 1,0 -3.5,0M445.8,668.4a1.75,1.75 0 1,0 3.5,0a1.75,1.75 0 1,0 -3.5,0M447.8,666.6a1.75,1.75 0 1,0 3.5,0a1.75,1.75 0 1,0 -3.5,0M449.8,666.3a1.75,1.75 0 1,0 3.5,0a1.75,1.75 0 1,0 -3.5,0M451.8,664.7a1.75,1.75 0 1,0 3.5,0a1.75,1.75 0 1,0 -3.5,0M453.8,662.2a1.75,1.75 0 1,0 3.5,0a1.75,1.75 0 1,0 -3.5,0M455.8,661.1a1.75,1.75 0 1,0 3.5,0a1.75,1.75 0 1,0 -3.5,0M457.8,659.3a1.75,1.75 0 1,0 3.5,0a1.75,1.75 0 1,0 -3.5,0M459.8,657.7a1.75,1.75 0 1,0 3.5,0a1.75,1.75 0 1,0 -3.5,0M461.8,655.2a1.75,1.75 0 1,0 3.5,0a1.75,1.75 0 1,0 -3.5,0M463.8,656.1a1.75,1.75 0 1,0 3.5,0a1.75,1.75 0 1,0 -3.5,0M465.8,652.5a1.75,1.75 0 1,0 3.5,0a1.75,1.75 0 1,0 -3.5,0M467.8,650.1a1.75,1.75 0 1,0 3.5,0a1.75,1.75 0 1,0 -3.5,0M469.8,646.8a1.75,1.75 0 1,0 3.5,0a1.75,1.75 0 1,0 -3.5,0M471.8,640.5a1.75,1.75 0 1,0 3.5,0a1.75,1.75 0 1,0 -3.5,0M473.8,631.5a1.75,1.75 0 1,0 3.5,0a1.75,1.75 0 1,0 -3.5,0M475.8,618.4a1.75,1.75 0 1,0 3.5,0a1.75,1.75 0 1,0 -3.5,0M477.8,604.6a1.75,1.75 0 1,0 3.5,0a1.75,1.75 0 1,0 -3.5,0M479.8,588.8a1.75,1.75 0 1,0 3.5,0a1.75,1.75 0 1,0 -3.5,0M481.8,574.1a1.75,1.75 0 1,0 3.5,0a1.75,1.75 0 1,0 -3.5,0M483.8,563.8a1.75,1.75 0 1,0 3.5,0a1.75,1.75 0 1,0 -3.5,0M485.8,558.3a1.75,1.75 0 1,0 3.5,0a1.75,1.75 0 1,0 -3.5,0M487.8,559.2a1.75,1.75 0 1,0 3.5,0a1.75,1.75 0 1,0 -3.5,0M489.8,565.6a1.75,1.75 0 1,0 3.5,0a1.75,1.75 0 1,0 -3.5,0M491.8,578.7a1.75,1.75 0 1,0 3.5,0a1.75,1.75 0 1,0 -3.5,0M493.8,594.4a1.75,1.75 0 1,0 3.5,0a1.75,1.75 0 1,0 -3.5,0M495.8,611.2a1.75,1.75 0 1,0 3.5,0a1.75,1.75 0 1,0 -3.5,0M497.8,627.8a1.75,1.75 0 1,0 3.5,0a1.75,1.75 0 1,0 -3.5,0M499.8,641.4a1.75,1.75 0 1,0 3.5,0a1.75,1.75 0 1,0 -3.5,0M501.8,652.9a1.75,1.75 0 1,0 3.5,0a1.75,1.75 0 1,0 -3.5,0M503.8,661.3a1.75,1.75 0 1,0 3.5,0a1.75,1.75 0 1,0 -3.5,0M505.8,667.1a1.75,1.75 0 1,0 3.5,0a1.75,1.75 0 1,0 -3.5,0M507.8,671.2a1.75,1.75 0 1,0 3.5,0a1.75,1.75 0 1,0 -3.5,0M509.8,672.7a1.75,1.75 0 1,0 3.5,0a1.75,1.75 0 1,0 -3.5,0M511.8,675.6a1.75,1.75 0 1,0 3.5,0a1.75,1.75 0 1,0 -3.5,0M513.8,674.9a1.75,1.75 0 1,0 3.5,0a1.75,1.75 0 1,0 -3.5,0M515.8,676.1a1.75,1.75 0 1,0 3.5,0a1.75,1.75 0 1,0 -3.5,0M517.8,676.1a1.75,1.75 0 1,0 3.5,0a1.75,1.75 0 1,0 -3.5,0M519.8,676.5a1.75,1.75 0 1,0 3.5,0a1.75,1.75 0 1,0 -3.5,0M521.8,676.9a1.75,1.75 0 1,0 3.5,0a1.75,1.75 0 1,0 -3.5,0M523.8,677.2a1.75,1.75 0 1,0 3.5,0a1.75,1.75 0 1,0 -3.5,0M525.8,676.4a1.75,1.75 0 1,0 3.5,0a1.75,1.75 0 1,0 -3.5,0M527.8,677.4a1.75,1.75 0 1,0 3.5,0a1.75,1.75 0 1,0 -3.5,0M529.8,676.7a1.75,1.75 0 1,0 3.5,0a1.75,1.75 0 1,0 -3.5,0M531.8,677.4a1.75,1.75 0 1,0 3.5,0a1.75,1.75 0 1,0 -3.5,0M533.8,677.6a1.75,1.75 0 1,0 3.5,0a1.75,1.75 0 1,0 -3.5,0M535.8,677.4a1.75,1.75 0 1,0 3.5,0a1.75,1.75 0 1,0 -3.5,0M537.8,676.6a1.75,1.75 0 1,0 3.5,0a1.75,1.75 0 1,0 -3.5,0M539.8,677.5a1.75,1.75 0 1,0 3.5,0a1.75,1.75 0 1,0 -3.5,0M541.8,677.4a1.75,1.75 0 1,0 3.5,0a1.75,1.75 0 1,0 -3.5,0M543.8,677.7a1.75,1.75 0 1,0 3.5,0a1.75,1.75 0 1,0 -3.5,0M545.8,677.4a1.75,1.75 0 1,0 3.5,0a1.75,1.75 0 1,0 -3.5,0M547.8,678.0a1.75,1.75 0 1,0 3.5,0a1.75,1.75 0 1,0 -3.5,0M549.8,677.1a1.75,1.75 0 1,0 3.5,0a1.75,1.75 0 1,0 -3.5,0M551.8,677.2a1.75,1.75 0 1,0 3.5,0a1.75,1.75 0 1,0 -3.5,0M553.8,676.8a1.75,1.75 0 1,0 3.5,0a1.75,1.75 0 1,0 -3.5,0M555.8,676.1a1.75,1.75 0 1,0 3.5,0a1.75,1.75 0 1,0 -3.5,0M557.8,676.9a1.75,1.75 0 1,0 3.5,0a1.75,1.75 0 1,0 -3.5,0" fill="none" stroke="#000" stroke-width="1.5"/>
<path d="M392.5,672.9L393.2,672.9L394.0,672.9L394.8,672.9L395.5,672.9L396.2,672.9L397.0,672.9L397.8,672.9L398.5,672.9L399.2,672.9L400.0,672.9L400.8,672.9L401.5,672.9L402.2,672.9L403.0,672.9L403.8,672.9L404.5,672.9L405.2,672.9L406.0,672.9L406.8,672.9L407.5,672.9L408.2,672.9L409.0,672.9L409.8,672.9L410.5,672.9L411.2,672.9L412.0,672.9L412.8,672.9L413.5,672.9L414.2,672.9L415.0,672.9L415.8,672.9L416.5,672.9L417.2,672.9L418.0,672.9L418.8,672.9L419.5,672.9L420.2,672.9L421.0,672.9L421.8,672.9L422.5,672.9L423.2,672.9L424.0,672.9L424.8,672.9L425.5,672.9L426.2,672.9L427.0,672.9L427.8,672.9L428.5,672.9L429.2,672.9L430.0,672.9L430.8,672.9L431.5,672.9L432.2,672.9L433.0,672.9L433.8,672.9L434.5,672.9L435.2,672.9L436.0,672.9L436.8,672.9L437.5,672.9L438.2,672.9L439.0,672.9L439.8,672.9L440.5,672.9L441.2,672.9L442.0,672.9L442.8,672.9L443.5,672.9L444.2,672.9L445.0,672.9L445.8,672.9L446.5,672.9L447.2,672.9L448.0,672.9L448.8,672.9L449.5,672.9L450.2,672.9L451.0,672.9L451.8,672.9L452.5,672.9L453.2,672.9L454.0,672.9L454.8,672.9L455.5,672.9L456.2,672.9L457.0,672.9L457.8,672.9L458.5,672.9L459.2,673.0L460.0,673.0L460.8,673.0L461.5,673.0L462.2,673.0L463.0,673.1L463.8,673.1L464.5,673.1L465.2,673.2L466.0,673.2L466.8,673.2L467.5,673.3L468.2,673.3L469.0,673.3L469.8,673.4L470.5,673.4L471.2,673.5L472.0,673.5L472.8,673.6L473.5,673.6L474.2,673.7L475.0,673.7L475.8,673.8L476.5,673.8L477.2,673.8L478.0,673.9L478.8,673.9L479.5,674.0L480.2,674.0L481.0,674.1L481.8,674.1L482.5,674.2L483.2,674.2L484.0,674.3L484.8,674.3L485.5,674.3L486.2,674.4L487.0,674.4L487.8,674.5L488.5,674.5L489.2,674.6L490.0,674.6L490.8,674.7L491.5,674.7L492.2,674.8L493.0,674.8L493.8,674.8L494.5,674.9L495.2,674.9L496.0,675.0L496.8,675.0L497.5,675.1L498.2,675.1L499.0,675.2L499.8,675.2L500.5,675.3L501.2,675.3L502.0,675.3L502.8,675.4L503.5,675.4L504.2,675.5L505.0,675.5L505.8,675.6L506.5,675.6L507.2,675.7L508.0,675.7L508.8,675.7L509.5,675.8L510.2,675.8L511.0,675.9L511.8,675.9L512.5,675.9L513.2,676.0L514.0,676.0L514.8,676.0L515.5,676.1L516.2,676.1L517.0,676.1L517.8,676.2L518.5,676.2L519.2,676.2L520.0,676.3L520.8,676.3L521.5,676.3L522.2,676.4L523.0,676.4L523.8,676.4L524.5,676.5L525.2,676.5L526.0,676.5L526.8,676.5L527.5,676.6L528.2,676.6L529.0,676.6L529.8,676.7L530.5,676.7L531.2,676.7L532.0,676.8L532.8,676.8L533.5,676.8L534.2,676.9L535.0,676.9L535.8,676.9L536.5,676.9L537.2,677.0L538.0,677.0L538.8,677.0L539.5,677.0L540.2,677.0L541.0,677.1L541.8,677.1L542.5,677.1L543.2,677.1L544.0,677.1L544.8,677.1L545.5,677.1L546.2,677.1L547.0,677.1L547.8,677.1L548.5,677.1L549.2,677.2L550.0,677.2L550.8,677.2L551.5,677.2L552.2,677.2L553.0,677.2L553.8,677.2L554.5,677.2L555.2,677.2L556.0,677.2L556.8,677.2L557.5,677.2L558.2,677.2" fill="none" stroke="#5a8a1e" stroke-width="1.45"/>
<path d="M442.0,672.5L442.8,672.5L443.5,672.4L444.2,672.2L445.0,672.1L445.8,671.9L446.5,671.7L447.2,671.5L448.0,671.2L448.8,670.9L449.5,670.6L450.2,670.2L451.0,669.8L451.8,669.4L452.5,668.9L453.2,668.4L454.0,667.8L454.8,667.2L455.5,666.6L456.2,666.0L457.0,665.4L457.8,664.8L458.5,664.2L459.2,663.6L460.0,663.0L460.8,662.5L461.5,662.1L462.2,661.7L463.0,661.3L463.8,661.1L464.5,660.9L465.2,660.8L466.0,660.8L466.8,660.9L467.5,661.0L468.2,661.2L469.0,661.4L469.8,661.7L470.5,662.0L471.2,662.4L472.0,662.8L472.8,663.3L473.5,663.8L474.2,664.3L475.0,664.8L475.8,665.4L476.5,665.9L477.2,666.5L478.0,667.1L478.8,667.6L479.5,668.1L480.2,668.7L481.0,669.2L481.8,669.7L482.5,670.1L483.2,670.6L484.0,671.0L484.8,671.4L485.5,671.8L486.2,672.1L487.0,672.4L487.8,672.7L488.5,673.0L489.2,673.2L490.0,673.5L490.8,673.7L491.5,673.9L492.2,674.0L493.0,674.2L493.8,674.3L494.5,674.5L495.2,674.6" fill="none" stroke="#1010c8" stroke-width="1.45"/>
<path d="M461.5,672.6L462.2,672.4L463.0,672.3L463.8,672.0L464.5,671.7L465.2,671.3L466.0,670.8L466.8,670.1L467.5,669.3L468.2,668.3L469.0,667.1L469.8,665.6L470.5,663.8L471.2,661.7L472.0,659.2L472.8,656.4L473.5,653.1L474.2,649.4L475.0,645.3L475.8,640.7L476.5,635.8L477.2,630.4L478.0,624.7L478.8,618.7L479.5,612.5L480.2,606.2L481.0,599.8L481.8,593.6L482.5,587.5L483.2,581.8L484.0,576.6L484.8,571.9L485.5,567.9L486.2,564.7L487.0,562.4L487.8,561.0L488.5,560.5L489.2,561.0L490.0,562.5L490.8,564.8L491.5,567.9L492.2,571.8L493.0,576.4L493.8,581.5L494.5,587.1L495.2,593.0L496.0,599.2L496.8,605.5L497.5,611.7L498.2,617.9L499.0,624.0L499.8,629.7L500.5,635.2L501.2,640.3L502.0,645.0L502.8,649.3L503.5,653.2L504.2,656.6L505.0,659.7L505.8,662.4L506.5,664.8L507.2,666.8L508.0,668.5L508.8,669.9L509.5,671.1L510.2,672.1L511.0,673.0L511.8,673.6L512.5,674.2L513.2,674.6L514.0,675.0L514.8,675.3L515.5,675.5L516.2,675.7" fill="none" stroke="#ff1040" stroke-width="1.45"/>
<path d="M392.5,672.9L393.2,672.9L394.0,672.9L394.8,672.9L395.5,672.9L396.2,672.9L397.0,672.9L397.8,672.9L398.5,672.9L399.2,672.9L400.0,672.9L400.8,672.9L401.5,672.9L402.2,672.9L403.0,672.9L403.8,672.9L404.5,672.9L405.2,672.9L406.0,672.9L406.8,672.8L407.5,672.8L408.2,672.8L409.0,672.8L409.8,672.8L410.5,672.8L411.2,672.8L412.0,672.8L412.8,672.8L413.5,672.8L414.2,672.7L415.0,672.7L415.8,672.7L416.5,672.7L417.2,672.7L418.0,672.6L418.8,672.6L419.5,672.6L420.2,672.6L421.0,672.5L421.8,672.5L422.5,672.4L423.2,672.4L424.0,672.4L424.8,672.3L425.5,672.3L426.2,672.2L427.0,672.2L427.8,672.1L428.5,672.0L429.2,672.0L430.0,671.9L430.8,671.8L431.5,671.7L432.2,671.7L433.0,671.6L433.8,671.5L434.5,671.4L435.2,671.3L436.0,671.2L436.8,671.1L437.5,671.0L438.2,670.9L439.0,670.7L439.8,670.6L440.5,670.5L441.2,670.3L442.0,670.1L442.8,669.9L443.5,669.7L444.2,669.5L445.0,669.3L445.8,669.0L446.5,668.7L447.2,668.4L448.0,668.0L448.8,667.6L449.5,667.2L450.2,666.8L451.0,666.3L451.8,665.8L452.5,665.2L453.2,664.6L454.0,664.0L454.8,663.4L455.5,662.7L456.2,662.1L457.0,661.4L457.8,660.7L458.5,660.1L459.2,659.4L460.0,658.8L460.8,658.2L461.5,657.6L462.2,657.1L463.0,656.6L463.8,656.1L464.5,655.6L465.2,655.1L466.0,654.6L466.8,654.0L467.5,653.4L468.2,652.5L469.0,651.6L469.8,650.4L470.5,649.0L471.2,647.3L472.0,645.3L472.8,643.0L473.5,640.2L474.2,637.1L475.0,633.6L475.8,629.6L476.5,625.3L477.2,620.5L478.0,615.4L478.8,610.0L479.5,604.4L480.2,598.7L481.0,592.9L481.8,587.2L482.5,581.7L483.2,576.4L484.0,571.7L484.8,567.4L485.5,563.9L486.2,561.0L487.0,559.1L487.8,558.0L488.5,557.9L489.2,558.6L490.0,560.3L490.8,562.9L491.5,566.2L492.2,570.3L493.0,575.0L493.8,580.3L494.5,586.0L495.2,592.1L496.0,598.4L496.8,604.7L497.5,611.1L498.2,617.4L499.0,623.4L499.8,629.3L500.5,634.8L501.2,639.9L502.0,644.7L502.8,649.0L503.5,652.9L504.2,656.4L505.0,659.5L505.8,662.2L506.5,664.6L507.2,666.6L508.0,668.4L508.8,669.8L509.5,671.0L510.2,672.1L511.0,672.9L511.8,673.6L512.5,674.1L513.2,674.6L514.0,674.9L514.8,675.2L515.5,675.5L516.2,675.7L517.0,675.8L517.8,675.9L518.5,676.0L519.2,676.1L520.0,676.2L520.8,676.2L521.5,676.3L522.2,676.3L523.0,676.4L523.8,676.4L524.5,676.4L525.2,676.5L526.0,676.5L526.8,676.5L527.5,676.6L528.2,676.6L529.0,676.6L529.8,676.7L530.5,676.7L531.2,676.7L532.0,676.8L532.8,676.8L533.5,676.8L534.2,676.9L535.0,676.9L535.8,676.9L536.5,676.9L537.2,677.0L538.0,677.0L538.8,677.0L539.5,677.0L540.2,677.0L541.0,677.1L541.8,677.1L542.5,677.1L543.2,677.1L544.0,677.1L544.8,677.1L545.5,677.1L546.2,677.1L547.0,677.1L547.8,677.1L548.5,677.1L549.2,677.1L550.0,677.2L550.8,677.2L551.5,677.2L552.2,677.2L553.0,677.2L553.8,677.2L554.5,677.2L555.2,677.2L556.0,677.2L556.8,677.2L557.5,677.2L558.2,677.2" fill="none" stroke="#f0f" stroke-width="1.25"/>
</g>
<line x1="156.0" y1="54.0" x2="163.9" y2="47.1" stroke="#000" stroke-width="1.6"/>
<path d="M168.0,43.5 L165.5,50.6 L160.7,45.0Z" fill="#000"/>
<line x1="140.0" y1="97.0" x2="127.9" y2="77.7" stroke="#000" stroke-width="1.6"/>
<path d="M125.0,73.0 L131.6,76.6 L125.3,80.5Z" fill="#000"/>
<line x1="140.0" y1="184.5" x2="123.9" y2="176.5" stroke="#000" stroke-width="1.6"/>
<path d="M119.0,174.0 L126.5,173.6 L123.2,180.2Z" fill="#000"/>
<line x1="158.0" y1="208.5" x2="168.7" y2="199.9" stroke="#000" stroke-width="1.6"/>
<path d="M173.0,196.5 L170.2,203.4 L165.6,197.7Z" fill="#000"/>
<line x1="159.4" y1="315.6" x2="168.5" y2="309.2" stroke="#000" stroke-width="1.6"/>
<path d="M173.0,306.0 L169.8,312.8 L165.6,306.7Z" fill="#000"/>
<line x1="147.4" y1="349.5" x2="131.6" y2="342.7" stroke="#000" stroke-width="1.6"/>
<path d="M126.5,340.5 L133.9,339.7 L131.0,346.5Z" fill="#000"/>
<line x1="462.7" y1="81.0" x2="461.6" y2="67.3" stroke="#000" stroke-width="1.6"/>
<path d="M461.2,61.8 L465.4,68.0 L458.0,68.6Z" fill="#000"/>
<line x1="490.7" y1="63.2" x2="505.1" y2="54.4" stroke="#000" stroke-width="1.6"/>
<path d="M509.8,51.5 L506.2,58.1 L502.3,51.7Z" fill="#000"/>
<line x1="461.2" y1="189.3" x2="458.0" y2="183.8" stroke="#000" stroke-width="1.6"/>
<path d="M455.3,179.0 L461.7,182.8 L455.3,186.5Z" fill="#000"/>
<line x1="487.7" y1="187.9" x2="502.1" y2="179.7" stroke="#000" stroke-width="1.6"/>
<path d="M506.9,177.0 L503.1,183.4 L499.4,177.0Z" fill="#000"/>
<line x1="489.2" y1="303.2" x2="503.4" y2="296.2" stroke="#000" stroke-width="1.6"/>
<path d="M508.3,293.8 L504.1,300.0 L500.8,293.4Z" fill="#000"/>
<line x1="462.7" y1="359.2" x2="461.5" y2="340.5" stroke="#000" stroke-width="1.6"/>
<path d="M461.2,335.0 L465.3,341.3 L457.9,341.7Z" fill="#000"/>
<line x1="490.7" y1="425.1" x2="507.7" y2="418.3" stroke="#000" stroke-width="1.6"/>
<path d="M512.8,416.3 L508.1,422.1 L505.4,415.3Z" fill="#000"/>
<line x1="467.1" y1="509.0" x2="466.0" y2="492.5" stroke="#000" stroke-width="1.6"/>
<path d="M465.6,487.0 L469.7,493.2 L462.4,493.7Z" fill="#000"/>
<line x1="495.0" y1="563.6" x2="509.5" y2="554.7" stroke="#000" stroke-width="1.6"/>
<path d="M514.2,551.8 L510.6,558.4 L506.7,552.1Z" fill="#000"/>
<line x1="462.7" y1="656.3" x2="462.2" y2="638.3" stroke="#000" stroke-width="1.6"/>
<path d="M462.1,632.8 L466.0,639.2 L458.6,639.4Z" fill="#000"/>
</svg></body></html>
